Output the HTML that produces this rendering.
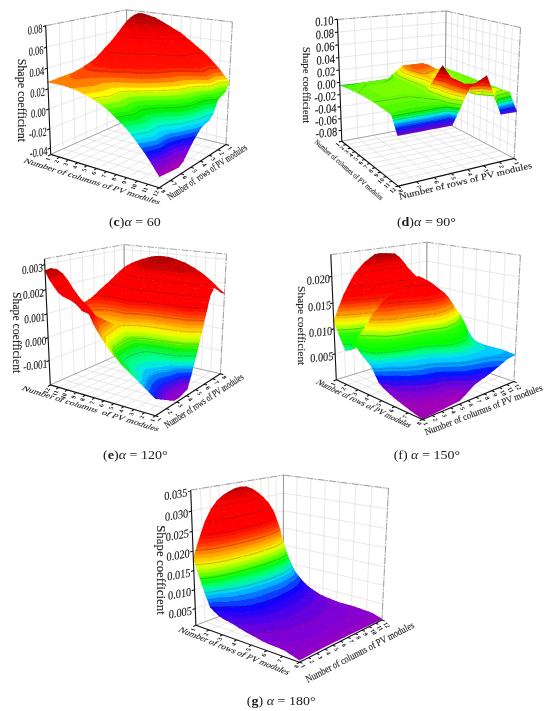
<!DOCTYPE html>
<html lang="en"><head><meta charset="utf-8"><title>Shape coefficient surfaces</title>
<style>
html,body{margin:0;padding:0;background:#fff}
body{width:550px;height:711px;overflow:hidden}
svg{display:block}
text{font-family:"Liberation Serif","DejaVu Serif",serif;fill:#111}
.grid{fill:none;stroke:#d9d9d9;stroke-width:0.6}
.frame{fill:none;stroke:#8a8a8a;stroke-width:0.8;stroke-dasharray:7 1.5 1.5 1.5}
.frame2{fill:none;stroke:#8c8c8c;stroke-width:0.7}
.frame3{fill:none;stroke:#9a9a9a;stroke-width:1}
.ax{fill:none;stroke:#111;stroke-width:1.1}
.cl{fill:none;stroke:#2a2a2a;stroke-opacity:0.5;stroke-width:0.5}
.zt{stroke:#111;stroke-width:0.1}
.ttl{stroke:#222;stroke-width:0.12;fill:#222}
.ft{font-weight:bold}
.cap{fill:#1a1a1a}
</style></head><body>
<svg width="550" height="711" viewBox="0 0 550 711" role="img" aria-label="Shape coefficient surfaces for tilt angles 60 to 180 degrees">
<rect width="550" height="711" fill="#fff"/>
<g id="plot-c">
<path d="M50.7,154.4L126.5,120.6M126.5,120.6L126.6,9.8M59.5,157.1L134.7,122.5M134.7,122.5L135.2,10.8M68.4,159.9L143.1,124.5M143.1,124.5L144.1,11.8M77.6,162.7L151.6,126.6M151.6,126.6L153.1,12.9M87,165.5L160.3,128.7M160.3,128.7L162.3,13.9M96.7,168.5L169.1,130.8M169.1,130.8L171.7,15M106.5,171.5L178.1,133M178.1,133L181.3,16.1M116.6,174.6L187.3,135.2M187.3,135.2L191.1,17.2M126.9,177.7L196.7,137.5M196.7,137.5L201.1,18.4M137.4,181L206.3,139.8M206.3,139.8L211.3,19.6M148.3,184.3L216.1,142.1M216.1,142.1L221.7,20.8M159.3,187.7L226,144.5M226,144.5L232.4,22M50.7,154.4L159.3,187.7M50.7,154.4L45.7,25.7M63,148.9L170.4,180.5M63,148.9L59.1,23.1M74.9,143.6L180.9,173.7M74.9,143.6L71.7,20.6M86.1,138.6L190.9,167.3M86.1,138.6L83.7,18.2M96.9,133.8L200.3,161.2M96.9,133.8L95.2,16M107.2,129.2L209.3,155.4M107.2,129.2L106.1,13.8M117,124.8L217.9,149.8M117,124.8L116.6,11.8M126.5,120.6L226,144.5M126.5,120.6L126.6,9.8M50.4,148.1L126.5,115.1M126.5,115.1L226.4,138.5M49.7,128.7L126.5,98.3M126.5,98.3L227.3,120M48.9,108.9L126.5,81.2M126.5,81.2L228.3,101.1M48.1,88.7L126.5,63.8M126.5,63.8L229.3,81.9M47.4,68.1L126.5,46.1M126.5,46.1L230.3,62.3M46.6,47L126.6,28.1M126.6,28.1L231.3,42.3M45.7,25.6L126.6,9.7M126.6,9.7L232.4,21.9" class="grid"/>
<path d="M45.7,25.7L126.6,9.8M126.6,9.8L232.4,22M232.4,22L226,144.5" class="frame"/>
<path d="M50.7,154.4L126.5,120.6M126.5,120.6L226,144.5" class="frame2"/>
<path d="M126.6,9.8L126.5,120.6" class="frame3"/>
<g>
<path d="M121.7,28l1.5-1.1-0.3-1z" fill="#f50000"/>
<path d="M122.7,27.4l3.3-2.9-0.6-1.9-2.9,4z" fill="#ea0000"/>
<path d="M125.5,24.9l0.9-0.9 2-2.8-0.4-1.5-1.7,1.7-1.3,1.8z" fill="#df0000"/>
<path d="M128,21.9l3-4.7-3.5,3z" fill="#cd0000"/>
<path d="M129.1,19.7L129,19.2" class="cl"/>
<path d="M125.6,24.4l4.2-2.4-1.8-1.2z" fill="#df0000"/>
<path d="M129.2,22.4l1.2-0.8 1.9-2.8-1.9-1.4-2.7,3.9z" fill="#cd0000"/>
<path d="M132,19.3l2.6-3.8-0.6-0.5-3.7,2.5-0.3,0.4z" fill="#ba0000"/>
<path d="M134.3,15.9l0.8-1.4-1.6,0.9z" fill="#a70000"/>
<path d="M130.6,20.8L129.1,19.7" class="cl"/>
<path d="M129.5,21.9l4.9-1.8 0.4-0.5-3-1.1z" fill="#cd0000"/>
<path d="M134.5,20.1l2.5-3.9-2.9-1-2.6,3.8z" fill="#ba0000"/>
<path d="M136.7,16.7l2.5-3.9-4.9,2-0.6,0.9z" fill="#a70000"/>
<path d="M131.3,21L130.6,20.8" class="cl"/>
<path d="M117.3,33.6l3.3-2.5-0.2-1.8z" fill="#ff0000"/>
<path d="M120.1,31.5l2-1.7 1.3-1.7-0.4-1.9-0.9,0.9-2.3,2.9z" fill="#f50000"/>
<path d="M122.9,28.8l3.1-4.1-0.2-0.9-3.3,2.9z" fill="#ea0000"/>
<path d="M125.5,25.3l1.3-2.1-1.5,1.1z" fill="#df0000"/>
<path d="M118.5,32.5L118.5,32.3" class="cl"/>
<path d="M133.7,20.1l4.1,0.1-3.6-0.8z" fill="#cd0000"/>
<path d="M137,20.4l1.5,0.1 2.4-3.8-4.5-0.6-2.6,3.9z" fill="#ba0000"/>
<path d="M140.6,17.2l2.5-3.9-4.7-0.3-2.4,3.6z" fill="#a70000"/>
<path d="M121.2,30.1l2.9-1.5-1.1-1z" fill="#f50000"/>
<path d="M123.5,28.9l2.6-1.5 1.3-1.7-1.8-1.6-3,4z" fill="#ea0000"/>
<path d="M127,26.2l3-4-0.7-0.6-3.3,2-0.8,1z" fill="#df0000"/>
<path d="M129.6,22.7l1.3-1.9-2.2,1.2zM137.8,20.1l4.7,1.9 1-1.6z" fill="#cd0000"/>
<path d="M137.9,20.4l0.6,0.2 4.7,0.4 2.5-4-5.4-0.4z" fill="#ba0000"/>
<path d="M145.3,17.6l1.8-2.9-4.6-1.5-2.6,4z" fill="#a70000"/>
<path d="M125.2,27.7l3.7-1.4-2-0.9z" fill="#ea0000"/>
<path d="M128.1,26.6l2-0.7 2.1-2.8-2.7-1.2-3,3.9z" fill="#df0000"/>
<path d="M131.8,23.6l3.1-4.2-4.9,1.8-0.9,1.2z" fill="#cd0000"/>
<path d="M132.9,21.7L131.3,21" class="cl"/>
<path d="M112.9,39.3l2.3-1.6-0.2-1.4z" fill="#ff0500"/>
<path d="M114.6,38.2l3.1-2.6 0.3-0.5-0.3-2.3-3.2,4.2z" fill="#ff0200"/>
<path d="M117.5,35.8l3.2-4.2-0.2-1.2-2.8,2.4-0.5,0.7z" fill="#ff0000"/>
<path d="M120.2,32.3l2.3-3.4-2.5,1.9z" fill="#f50000"/>
<path d="M118.7,33.8L118.5,32.5" class="cl"/>
<path d="M142,21.8l4.7,1.6 1.6-2.7-5.4-0.4z" fill="#cd0000"/>
<path d="M148,21.3l2.4-3.9-5.4-0.5-2.5,4z" fill="#ba0000"/>
<path d="M150.1,17.9l1.1-1.8-4.7-1.6-1.9,3z" fill="#a70000"/>
<path d="M146.3,22.9L146.6,22.9" class="cl"/>
<path d="M129.3,25.9l4.8,0.2 2-2.5-4.5-0.7z" fill="#df0000"/>
<path d="M135.7,24.1l3.1-4-1.8-0.3-2.9-0.2-2.9,3.8z" fill="#cd0000"/>
<path d="M138.4,20.6l0.5-0.7-2.8,0.1z" fill="#ba0000"/>
<path d="M136.7,22.3L132.9,21.7" class="cl"/>
<path d="M116.8,36l1.5-0.8-0.6-0.6z" fill="#ff0200"/>
<path d="M117.8,35.5l3.9-2.3 0.4-0.5-1.7-1.6-3.1,4z" fill="#ff0000"/>
<path d="M121.7,33.2l3-4-1.1-1-1.9,1.1-1.7,2.3z" fill="#f50000"/>
<path d="M124.4,29.7l2.1-3.1-3.4,1.9z" fill="#ea0000"/>
<path d="M119.3,34.3L118.7,33.8" class="cl"/>
<path d="M146.1,23.2l4.7,1.6 2.3-3.7-5.5-0.4z" fill="#cd0000"/>
<path d="M152.8,21.7l2.4-4-5.4-0.4-2.5,4z" fill="#ba0000"/>
<path d="M154.9,18.3l0.5-0.8-4.7-1.6-1.3,2z" fill="#a70000"/>
<path d="M151.4,23.3L146.6,22.9" class="cl"/>
<path d="M133.5,25.9l4.7,1.4 2.8-3.4-5.6-0.4z" fill="#df0000"/>
<path d="M140.5,24.5l2.4-3-4.2-1.5-0.6,0-3.1,4.1z" fill="#cd0000"/>
<path d="M139.4,20.5l-1.2-0.7-0.5,0.7z" fill="#ba0000"/>
<path d="M141.6,22.6L136.7,22.3" class="cl"/>
<path d="M120.8,33.5l1.8-0.6-1-0.5z" fill="#ff0000"/>
<path d="M121.8,33.2l3.9-1.5 1.1-1.5-2.6-1.3-3,4z" fill="#f50000"/>
<path d="M126.5,30.6l3-4-1.3-0.6-2.5,0.9-1.8,2.4z" fill="#ea0000"/>
<path d="M129.2,27.1l1.4-2-3.2,1.2z" fill="#df0000"/>
<path d="M108.4,44.4l3.8-2.4-0.1-2.1z" fill="#ff0700"/>
<path d="M111.6,42.4l1.6-1.1 2-2.6-0.1-1.7-1.8,1.5-1.8,2.1z" fill="#ff0500"/>
<path d="M114.6,39.5l3.5-4.7-3.6,2.7z" fill="#ff0200"/>
<path d="M150.5,24.6l4.5,2.7 1.6-2.6z" fill="#df0000"/>
<path d="M150.3,24.6l1,0.5 4.9,0.2 2.5-4-6.2-0.2z" fill="#cd0000"/>
<path d="M158.3,21.9l1.2-2-3.8-2.2-1.1,0-2.5,4z" fill="#ba0000"/>
<path d="M156.5,18.2l-1.7-1-0.6,1.1z" fill="#a70000"/>
<path d="M156.9,23.5L151.4,23.3" class="cl"/>
<path d="M141.1,28l1.3,0.6 0.5-0.7z" fill="#ea0000"/>
<path d="M137.6,27.2l4.3,1.2 0.5,0.1 3.5-4.3-5.7-0.4z" fill="#df0000"/>
<path d="M145.4,24.8l1.7-1.9-4.8-1.7-2.5,3.2z" fill="#cd0000"/>
<path d="M146.3,22.9L141.6,22.6" class="cl"/>
<path d="M124.9,31.7l4.9,0.1 0.7-1.1-4.2-0.8z" fill="#f50000"/>
<path d="M130.1,31.3l3.2-4.2-4.4-0.7-3,4.1z" fill="#ea0000"/>
<path d="M132.9,27.7l1.7-2.2-4.8-0.2-1.3,1.6z" fill="#df0000"/>
<path d="M112.3,41.6l4.3-1.9-1.7-1.5z" fill="#ff0500"/>
<path d="M116,39.9l1.2-0.5 2.3-3.1-1.6-1.5-0.6,0.4-2.8,3.5z" fill="#ff0200"/>
<path d="M119.1,36.8l3-4.4-4.8,2.7z" fill="#ff0000"/>
<path d="M120,35L119.3,34.3" class="cl"/>
<path d="M156.9,28.4l2.3,1.4 0.9-1.4z" fill="#ea0000"/>
<path d="M154.5,27l3.2,1.9 2,0.1 2.5-4.1-6.3-0.2z" fill="#df0000"/>
<path d="M161.8,25.5l1.9-3.1-1.6-1-4.1-0.1-2.5,4z" fill="#cd0000"/>
<path d="M162.8,22l-3.8-2.4-1.4,2.3z" fill="#ba0000"/>
<path d="M162.6,23.7L156.9,23.5" class="cl"/>
<path d="M141.7,28.4l4.8,1.4 1.4-1.5-5.7-0.5z" fill="#ea0000"/>
<path d="M147.4,28.8l3.6-4.2-5.8-0.4-3.5,4.2z" fill="#df0000"/>
<path d="M150.5,25.1l0.7-0.8-4.8-1.6-1.7,2.1z" fill="#cd0000"/>
<path d="M129.1,31.6l4.7,1.2 1.4-1.6-5.3-0.6z" fill="#f50000"/>
<path d="M134.7,31.7l3.4-4.2-5.5-0.5-3.2,4.2z" fill="#ea0000"/>
<path d="M137.6,28.1l1-1.3-4.7-1.4-1.7,2.2z" fill="#df0000"/>
<path d="M116.3,39.6l4.9-1.4 0.7-1-2.9-1.3z" fill="#ff0200"/>
<path d="M121.6,37.7l2.7-4-2.5-1.2-0.5,0.3-2.7,3.6z" fill="#ff0000"/>
<path d="M124,34.2l2.2-3.3-5.1,1.9z" fill="#f50000"/>
<path d="M122.4,36L120,35" class="cl"/>
<path d="M103.8,49.3l1.5-0.7 0-1.1z" fill="#ff0b00"/>
<path d="M104.7,49l3.9-2.5 0.3-0.3-0.1-2.5-4.1,4.4z" fill="#ff0900"/>
<path d="M108.3,46.9l3.9-4.5 0-1.1-3.4,2.3-0.6,0.7z" fill="#ff0700"/>
<path d="M111.6,43.1l2-2.6-2,1.2z" fill="#ff0500"/>
<path d="M106,47.8L106,47.1" class="cl"/>
<path d="M158.7,29.5l4.8,2.9 2.3-3.8-6.4-0.2z" fill="#ea0000"/>
<path d="M165.4,29.2l2.5-4.1-6.4-0.2-2.4,4z" fill="#df0000"/>
<path d="M167.5,25.7l0.5-0.7-4.8-2.9-2,3.4z" fill="#cd0000"/>
<path d="M165.5,23.8L162.6,23.7" class="cl"/>
<path d="M146,29.6l4.7,2.5 3.3-3.8-6.9-0.1z" fill="#ea0000"/>
<path d="M153.5,28.9l1.9-2.1-3.9-2.3-1.2,0-3.7,4.3z" fill="#df0000"/>
<path d="M152.2,25.1l-1.6-1-0.8,1z" fill="#cd0000"/>
<path d="M133.2,32.7l4.8,1.2 1.9-2.3-5.4-0.5z" fill="#f50000"/>
<path d="M139.4,32.2l3.4-4.1-0.8-0.3-4.6-0.4-3.4,4.2z" fill="#ea0000"/>
<path d="M142.8,28.3l-4.8-1.7-1.1,1.4z" fill="#df0000"/>
<path d="M120.5,38.2l4.8,0.4 0.5-0.8-4.5-0.8z" fill="#ff0200"/>
<path d="M125.5,38.3l2.6-4.1-4.4-0.7-2.7,4z" fill="#ff0000"/>
<path d="M127.8,34.8l2.4-3.6-4.8-0.1-2,2.9z" fill="#f50000"/>
<path d="M126.2,36.7L122.4,36" class="cl"/>
<path d="M107.7,46.7l1.4-0.4-0.5-0.7z" fill="#ff0900"/>
<path d="M108.6,46.5l4-1.7 1-1.2-1.7-1.7-3.7,4.2z" fill="#ff0700"/>
<path d="M113.2,44.1l3.5-4.2-0.6-0.7-3.3,1.6-1.3,1.5z" fill="#ff0500"/>
<path d="M116.4,40.4l1.3-1.8-2.2,0.9z" fill="#ff0200"/>
<path d="M163.3,32.2l4.4,2.7 1.6-2.6z" fill="#f50000"/>
<path d="M162.9,32.1l1.1,0.6 4.9,0.2 2.6-4.1-6.4-0.2z" fill="#ea0000"/>
<path d="M171.1,29.4l1.1-1.9-4-2.4-1,0-2.5,4.1z" fill="#df0000"/>
<path d="M169,25.7l-1.6-1.1-0.6,1.1z" fill="#cd0000"/>
<path d="M151.1,32.2l3.8,2.3 2.2-2.4z" fill="#f50000"/>
<path d="M150.2,31.8l1.6,0.9 4.7,0 3.1-3.3-1.8-1.1-4.6,0z" fill="#ea0000"/>
<path d="M158.6,28.8l-3.8-2.3-2.1,2.4z" fill="#df0000"/>
<path d="M137.4,33.7l4.8,1.3 2.5-3-5.6-0.5z" fill="#f50000"/>
<path d="M144.2,32.6l2.8-3.3-4.9-1.4-3.4,4.2z" fill="#ea0000"/>
<path d="M124.7,38.4l4.7,1.5 1.1-1.7-5.3-0.5z" fill="#ff0200"/>
<path d="M130.1,38.8l2.6-4.1-5.2-0.6-2.7,4.1z" fill="#ff0000"/>
<path d="M132.3,35.3l1.9-3-4.7-1.2-2.4,3.6z" fill="#f50000"/>
<path d="M130.8,37.2L126.2,36.7" class="cl"/>
<path d="M111.7,45l3.3-0.8-1.9-0.9z" fill="#ff0700"/>
<path d="M114.1,44.4l2.6-0.6 2.3-2.9-2.7-1.4-3.6,4.2z" fill="#ff0500"/>
<path d="M118.6,41.4l3.2-3.9-5,1.4-0.9,1.1z" fill="#ff0200"/>
<path d="M99.2,54.3l2.5-1.3-0.1-1.6z" fill="#ff0d00"/>
<path d="M101.1,53.3l2.9-1.7 1.4-1.5-0.2-2.2-0.9,0.6-3.2,3.5z" fill="#ff0b00"/>
<path d="M104.8,50.7l4.3-5-4.4,2.6z" fill="#ff0900"/>
<path d="M106.1,48.8L106,47.8" class="cl"/>
<path d="M170,36l2.1,1.4 0.8-1.3z" fill="#ff0000"/>
<path d="M167.2,34.6l3.5,2 1.8,0 2.6-4.1-6.5-0.2z" fill="#f50000"/>
<path d="M174.7,33.1l1.8-3-2-1.2-3.7-0.1-2.5,4.1z" fill="#ea0000"/>
<path d="M175.2,29.4l-3.5-2.2-1.3,2.2z" fill="#df0000"/>
<path d="M154.4,34.2l4.8,2.5 4.4-4.6-7.4,0z" fill="#f50000"/>
<path d="M163.1,32.7l0.7-0.8-4.7-2.8-3.4,3.6z" fill="#ea0000"/>
<path d="M144.6,36l1.8,1 0.9-1z" fill="#ff0000"/>
<path d="M141.6,34.7l3.8,1.8 1.4,0.1 3.9-4.5-6.8-0.1z" fill="#f50000"/>
<path d="M150.2,32.7l0.9-1.1-4.7-2.5-3,3.5z" fill="#ea0000"/>
<path d="M128.8,39.7l4.8,1.5 1.5-2.5-5.3-0.6z" fill="#ff0200"/>
<path d="M134.8,39.3l2.4-4.1-5.2-0.6-2.5,4.1z" fill="#ff0000"/>
<path d="M136.9,35.8l1.5-2.5-4.8-1.2-1.9,3.1z" fill="#f50000"/>
<path d="M135.4,37.7L130.8,37.2" class="cl"/>
<path d="M115.9,43.7l4.8,0.5 2.2-2.7-4.5-0.8z" fill="#ff0500"/>
<path d="M122.5,42l3.2-4-4.8-0.4-2.9,3.6z" fill="#ff0200"/>
<path d="M103.1,51.8l3-1.1-1-1.2z" fill="#ff0b00"/>
<path d="M105.5,51l2.5-1 2.2-2.5-1.5-1.7-0.4,0.2-3.6,3.9z" fill="#ff0900"/>
<path d="M109.8,47.9l3.3-3.9-5,2z" fill="#ff0700"/>
<path d="M107.2,50L106.1,48.8" class="cl"/>
<path d="M171.5,37.1l4.9,2.8 2.3-3.7-6.5-0.2z" fill="#ff0000"/>
<path d="M178.3,36.8l2.6-4.1-6.5-0.2-2.6,4.1z" fill="#f50000"/>
<path d="M180.5,33.3l0.3-0.6-4.8-2.9-2,3.3z" fill="#ea0000"/>
<path d="M175,38.8L176.7,38.8" class="cl"/>
<path d="M158.4,36.2l5.1,2.6 2.9-2.7z" fill="#ff0000"/>
<path d="M158.7,36.4l0.5,0.3 6.5,0 2.4-2.3-3.9-2.3-1.4,0z" fill="#f50000"/>
<path d="M164.9,32.6l-1.6-1-1.1,1.1z" fill="#ea0000"/>
<path d="M145.8,36.7l4.9,2.5 2.8-3.1-7-0.2z" fill="#ff0000"/>
<path d="M153,36.6l2.4-2.6-3.4-1.9-2.1,0-3.9,4.4z" fill="#f50000"/>
<path d="M152.7,32.6l-2.1-1.3-1.2,1.4z" fill="#ea0000"/>
<path d="M133,41l4.8,1.6 2-3.4-5.4-0.6z" fill="#ff0200"/>
<path d="M139.4,39.8l2.4-4.1-5.2-0.6-2.5,4.1z" fill="#ff0000"/>
<path d="M141.5,36.3l1.1-1.9-4.8-1.2-1.6,2.5z" fill="#f50000"/>
<path d="M140,38.2L135.4,37.7" class="cl"/>
<path d="M120.1,44l4.8,1.5 2.9-3.6-5.5-0.5z" fill="#ff0500"/>
<path d="M127.3,42.5l2.5-3.1-4.8-1.5-3.2,4z" fill="#ff0200"/>
<path d="M107.1,50.1l5.6-1.3-3-1.7z" fill="#ff0900"/>
<path d="M111.9,49.1l3.9-4.4-1.7-0.9-1.8,0.5-3,3.3z" fill="#ff0700"/>
<path d="M115.4,45.2l1.8-2.2-3.9,1z" fill="#ff0500"/>
<path d="M94.5,59.3l3.7-1.9-0.3-2z" fill="#ff1000"/>
<path d="M97.6,57.7l1.7-0.9 2.6-2.9-0.3-1.6-1.9,1.2-2.3,2.5z" fill="#ff0d00"/>
<path d="M101.4,54.5l3.1-3.7-3.4,1.9z" fill="#ff0b00"/>
<path d="M176.3,39.8l4.4,3.7 2.3-3.7z" fill="#ff0200"/>
<path d="M175.9,39.6l1.1,0.8 5.6,0 2.6-4.2-7.2,0z" fill="#ff0000"/>
<path d="M184.8,36.8l0.4-0.5-4.5-3.6-0.5,0-2.6,4.1z" fill="#f50000"/>
<path d="M181.4,33.2l-1-0.8-0.6,0.9z" fill="#ea0000"/>
<path d="M183.3,38.8L176.7,38.8" class="cl"/>
<path d="M166.8,40.4l1.1,0.6 0.8-0.7z" fill="#ff0200"/>
<path d="M163,38.6l4.6,2.3 0.4,0 4.5-4-1.6-0.9-5.4,0.1z" fill="#ff0000"/>
<path d="M171.6,36.5l-4-2.4-2.7,2.6z" fill="#f50000"/>
<path d="M164.6,39L169.7,39" class="cl"/>
<path d="M153.2,40.2l1.7,1 1-1z" fill="#ff0200"/>
<path d="M150.1,38.9l3.9,1.8 1.3,0.1 4.5-4.7-7.1-0.1z" fill="#ff0000"/>
<path d="M159.2,36.7l0.4-0.4-4.8-2.6-2.7,2.9z" fill="#f50000"/>
<path d="M150.7,38.9L156.7,39" class="cl"/>
<path d="M138.4,42.9l3.6,2 1.1-1.9z" fill="#ff0500"/>
<path d="M137.2,42.3l2,1.1 3.5,0.2 2.3-4.1-5.9-0.4z" fill="#ff0200"/>
<path d="M144.7,40.1l2-3.6-1.2-0.6-4.3-0.3-2.4,4.1z" fill="#ff0000"/>
<path d="M146.3,36.4l-4.3-2.2-1.2,2z" fill="#f50000"/>
<path d="M145.3,38.5L140,38.2" class="cl"/>
<path d="M127.6,46.2l1.5,0.6 0.5-0.6z" fill="#ff0700"/>
<path d="M124.3,45.3l4.1,1.3 0.8,0.1 3.5-4.4-5.6-0.5z" fill="#ff0500"/>
<path d="M132.2,42.9l1.8-2.2-4.8-1.5-2.6,3.2z" fill="#ff0200"/>
<path d="M111.3,48.9l4.8,0.4 3.6-4-4.5-0.8z" fill="#ff0700"/>
<path d="M119.3,45.8l1.9-2.1-4.8-0.5-1.6,1.8z" fill="#ff0500"/>
<path d="M98.4,57.1l4.9-1.8-1.7-1.9z" fill="#ff0d00"/>
<path d="M102.7,55.5l0.6-0.2 3.5-3.9-1.1-1.2-2.1,0.9-2.4,2.8z" fill="#ff0b00"/>
<path d="M106.4,51.8l2.1-2.6-3.4,1.3z" fill="#ff0900"/>
<path d="M107.4,50.2L107.2,50" class="cl"/>
<path d="M180.8,43.5l4.3,3.6 2.3-3.7z" fill="#ff0500"/>
<path d="M180.3,43.1l1.2,1 5.5-0.1 2.7-4.2-7.4,0z" fill="#ff0200"/>
<path d="M189.9,40.4l-4.8-4.2-0.6,0-2.6,4.2z" fill="#ff0000"/>
<path d="M185.7,36.8l-1-0.9-0.6,0.9z" fill="#f50000"/>
<path d="M187.6,38.8L183.3,38.8" class="cl"/>
<path d="M167.3,40.7l4.9,2.6 4-3.3-8.4,0.3z" fill="#ff0200"/>
<path d="M175.5,40.6l1.3-1.1-4.9-2.9-4.8,4.3z" fill="#ff0000"/>
<path d="M175,38.8L169.7,39" class="cl"/>
<path d="M154.4,40.9l4.9,2 2.7-2.6-6.9-0.1z" fill="#ff0200"/>
<path d="M161.4,40.9l2.6-2.5-4.7-2.3-0.3,0-4.5,4.6z" fill="#ff0000"/>
<path d="M160.1,36.6l-1-0.6-0.7,0.7z" fill="#f50000"/>
<path d="M162.9,39.1L156.7,39" class="cl"/>
<path d="M141.5,44.6l4.8,2.7 2.1-3.9-6-0.4z" fill="#ff0500"/>
<path d="M148.1,43.9l2.3-4-6-0.4-2.3,4.1z" fill="#ff0200"/>
<path d="M150,40.4l1-1.7-4.8-2.5-2.1,3.9z" fill="#ff0000"/>
<path d="M150.6,38.8L145.3,38.5" class="cl"/>
<path d="M128.5,46.6l4.8,1.7 1.3-1.7-5.7-0.5z" fill="#ff0700"/>
<path d="M134.2,47.2l3.4-4.4-5.7-0.5-3.4,4.4z" fill="#ff0500"/>
<path d="M137.2,43.3l1-1.2-4.9-1.6-1.8,2.3z" fill="#ff0200"/>
<path d="M118.3,49.7l2,0.8 0.7-0.8z" fill="#ff0900"/>
<path d="M115.5,49.1l3.6,1.1 1.3,0.1 4.3-4.6-5.7-0.5z" fill="#ff0700"/>
<path d="M124.2,46.3l1.1-1.3-4.8-1.5-2,2.3z" fill="#ff0500"/>
<path d="M102.4,55.5l5-1.1 1.6-1.9-2.7-1.5z" fill="#ff0b00"/>
<path d="M108.6,53l4-4.8-4.9,1.2-1.8,2.1z" fill="#ff0900"/>
<path d="M109.5,51.4L107.4,50.2" class="cl"/>
<path d="M185.1,47.1l4.4,3.7 2.3-3.8z" fill="#ff0700"/>
<path d="M184.6,46.7l1.2,1 5.7-0.1 2.4-3.9-0.4-0.3-6.8,0z" fill="#ff0500"/>
<path d="M194.2,43.9l-5.1-4.3-2.8,4.4z" fill="#ff0200"/>
<path d="M89.6,62.7l2.7-1 1.4-2z" fill="#ff2a00"/>
<path d="M91.5,62l3-1.3 3-2.5 1-1.5-3.5,1.8-2.1,1.6z" fill="#ff1000"/>
<path d="M96.7,58.6l3.1-2.5-2.1,0.9z" fill="#ff0d00"/>
<path d="M173.6,44.3l3,2.2 3.5-2.8z" fill="#ff0500"/>
<path d="M171.7,43l2.7,1.9 5-0.6 1.7-1.3-3.9-3.2-2,0.2z" fill="#ff0200"/>
<path d="M177.8,40.4l-1.5-1.3-1.7,1.5z" fill="#ff0000"/>
<path d="M158.7,42.7l4.9,2.1 4.7-4.2-0.6-0.3-6.5,0z" fill="#ff0200"/>
<path d="M168.5,40.8l-5.1-2.7-2.9,2.8z" fill="#ff0000"/>
<path d="M164.6,39L162.9,39.1" class="cl"/>
<path d="M145.9,47l4.7,2.6 1.2-2.3z" fill="#ff0700"/>
<path d="M145.8,47l0.9,0.5 4.8,0.4 2.2-4.2-5.9-0.4z" fill="#ff0500"/>
<path d="M153.4,44.3l1.9-3.6-1.2-0.6-4.4-0.3-2.2,4.1z" fill="#ff0200"/>
<path d="M154.9,40.7l-4.4-2.3-1.1,2z" fill="#ff0000"/>
<path d="M150.7,38.9L150.6,38.8" class="cl"/>
<path d="M132.7,48l4.8,2.6 3-3.8-6.6-0.3z" fill="#ff0700"/>
<path d="M140.1,47.3l2.3-2.9-3.1-1.6-2.4-0.1-3.5,4.4z" fill="#ff0500"/>
<path d="M140.1,43.3l-2.5-1.5-1.2,1.5z" fill="#ff0200"/>
<path d="M119.6,50.3l4.9,1.4 1.3-1.5-5.6-0.5z" fill="#ff0900"/>
<path d="M125.3,50.8l4.2-4.4-1-0.4-4.6-0.3-4.2,4.5z" fill="#ff0700"/>
<path d="M129.3,46.5l-4.6-1.7-1.3,1.4z" fill="#ff0500"/>
<path d="M106.6,54.4l4.9,0.3 1.2-1.5-4.3-0.9z" fill="#ff0b00"/>
<path d="M112.3,53.8l3.9-4.5-4.4-0.9-3.9,4.4z" fill="#ff0900"/>
<path d="M115.7,49.8l0.9-1.1-5.6-0.1z" fill="#ff0700"/>
<path d="M113.2,52.2L109.5,51.4" class="cl"/>
<path d="M189.5,50.8l4.5,3.7 2.3-3.8z" fill="#ff0900"/>
<path d="M189.1,50.4l1.1,1 5.7-0.1 2.4-3.9-0.6-0.4-6.6,0z" fill="#ff0700"/>
<path d="M198.4,47.5l-5-4.2-2.6,4.3z" fill="#ff0500"/>
<path d="M193.4,53.6L194.1,53.6" class="cl"/>
<path d="M93.5,60.8l4.2-1.2-0.1-2.2z" fill="#ff1000"/>
<path d="M97.1,59.8l1.4-0.4 4.6-3.9 0-0.7-4.2,1.5-1.9,1.6z" fill="#ff0d00"/>
<path d="M102.5,56l1.4-1.4-1.4,0.4z" fill="#ff0b00"/>
<path d="M178.8,48.1l2.2,1.7 3.2-2.3z" fill="#ff0700"/>
<path d="M176.1,46.1l3.4,2.5 4-0.5 2-1.4-3.8-3.3-2.5,0.4z" fill="#ff0500"/>
<path d="M182.3,44l-1.6-1.4-2.2,1.8z" fill="#ff0200"/>
<path d="M164.1,44.9l3.9,1.9 2.6-2.1z" fill="#ff0500"/>
<path d="M163,44.5l1.8,0.8 5.1,0 2.8-2.4-4.9-2.6z" fill="#ff0200"/>
<path d="M150.1,49.3l4.9,2.3 1.9-3.9-5.7-0.5z" fill="#ff0700"/>
<path d="M156.6,48.3l2.1-4.1-5.7-0.5-2.1,4.1z" fill="#ff0500"/>
<path d="M158.4,44.8l1.2-2.4-4.9-2-2,3.9z" fill="#ff0200"/>
<path d="M138,50.7l3.8,2.3 1.7-2.2z" fill="#ff0900"/>
<path d="M137,50.3l1.7,1 4.4,0.1 3.5-4.5-6.8-0.2z" fill="#ff0700"/>
<path d="M146.1,47.5l0.5-0.7-4.8-2.7-2.5,3.2z" fill="#ff0500"/>
<path d="M123.8,51.5l4.9,1.4 2.2-2.2-5.8-0.5z" fill="#ff0900"/>
<path d="M130.4,51.2l3.3-3.4-4.8-1.6-4.4,4.5z" fill="#ff0700"/>
<path d="M110.8,54.5l4.8,1.3 1.8-2-5.4-0.7z" fill="#ff0b00"/>
<path d="M116.9,54.3l3.8-4.3-1.5-0.4-3.7-0.4-4,4.5z" fill="#ff0900"/>
<path d="M120,50l-4.1-1.4-0.9,1.1z" fill="#ff0700"/>
<path d="M117.8,52.8L113.2,52.2" class="cl"/>
<path d="M193.9,54.4l4.5,3.8 2.4-3.9z" fill="#ff0b00"/>
<path d="M193.5,54.1l1.1,0.9 5.9-0.1 2.3-3.7-0.8-0.6-6.4,0.1z" fill="#ff0900"/>
<path d="M202.7,51.2l-4.8-4.1-2.7,4.2z" fill="#ff0700"/>
<path d="M201,53.5L194.1,53.6" class="cl"/>
<path d="M97.6,59.5l5-0.9 2-1.8-1.8-1.9z" fill="#ff0d00"/>
<path d="M104.1,57.2l3.9-3.5-5,1.1-0.6,0.5z" fill="#ff0b00"/>
<path d="M183.8,51.9l1.6,1.3 2.8-1.9z" fill="#ff0900"/>
<path d="M180.5,49.4l3.9,3 3.1-0.5 2.5-1.6-4-3.2-2.7,0.4z" fill="#ff0700"/>
<path d="M186.6,47.6l-1.5-1.3-2.5,1.8z" fill="#ff0500"/>
<path d="M84.6,65.9l4.9-1.7 1.7-1.2 1.6-2.1-2.6,1.1z" fill="#ff2a00"/>
<path d="M90.4,63.4l4.6-3.4-3,1.2z" fill="#ff1000"/>
<path d="M86.6,65L87.3,64.2" class="cl"/>
<path d="M171.5,49l0.9,0.6 1-0.8z" fill="#ff0700"/>
<path d="M167.5,46.5l4.7,3 0.5-0.1 4.4-3.3-2.6-1.8-4.9,0.4z" fill="#ff0500"/>
<path d="M175.3,44.8l-3.1-2.2-3.2,2.7z" fill="#ff0200"/>
<path d="M154.9,51.4l4.4,2.3 1-2z" fill="#ff0900"/>
<path d="M154.4,51.3l1.3,0.6 4.3,0.4 2.1-4.1-5.8-0.5z" fill="#ff0700"/>
<path d="M161.8,48.7l2-4.1-5.7-0.5-2.1,4.1z" fill="#ff0500"/>
<path d="M163.5,45.2l0.5-0.9-4.9-2.1-1.3,2.5z" fill="#ff0200"/>
<path d="M141.3,52.7l4.8,2.5 3.3-4.2-6.6-0.2z" fill="#ff0900"/>
<path d="M149,51.6l1.9-2.5-4.1-2.2-1,0-3.5,4.5z" fill="#ff0700"/>
<path d="M147.6,47.4l-1.5-0.9-0.7,1z" fill="#ff0500"/>
<path d="M144.3,54L146.7,54" class="cl"/>
<path d="M128.1,52.7l4.9,2.4 4.4-4.4-7.3-0.1z" fill="#ff0900"/>
<path d="M136.8,51.3l1.1-1.2-4.8-2.6-3.5,3.7z" fill="#ff0700"/>
<path d="M131.3,53.9L133.7,54" class="cl"/>
<path d="M115,55.6l4.8,1.2 2.3-2.5-5.4-0.6z" fill="#ff0b00"/>
<path d="M121.6,54.9l3.3-3.7-4.8-1.4-3.9,4.4z" fill="#ff0900"/>
<path d="M122.6,53.3L117.8,52.8" class="cl"/>
<path d="M198.3,58.1l4.6,4 2.6-4.1z" fill="#ff0d00"/>
<path d="M198,57.8l1,0.9 6.1-0.1 2.1-3.5-1-0.9-6.1,0.1z" fill="#ff0b00"/>
<path d="M206.9,54.8l-4.6-4-2.6,4.2z" fill="#ff0900"/>
<path d="M204.9,53.4L201,53.5" class="cl"/>
<path d="M101.7,58.6l5,0.4 1.6-1.4-4.2-1.1z" fill="#ff0d00"/>
<path d="M107.7,58.1l4.4-4-5-0.3-3.6,3.2zM188.9,55.8l1,0.8 1.9-1.3z" fill="#ff0b00"/>
<path d="M184.9,52.8l4.6,3.4 1.6-0.3 3.3-1.8-4-3.4-3.1,0.6z" fill="#ff0900"/>
<path d="M191,51.2l-1.5-1.3-2.9,2z" fill="#ff0700"/>
<path d="M188.1,54.8L193.4,53.6" class="cl"/>
<path d="M88.6,64.3l2.8-0.5-0.1-1.6z" fill="#ff2a00"/>
<path d="M90.8,63.9l2.8-0.6 4.1-3.3 0-1-3.5,1.1-3.5,2.5z" fill="#ff1000"/>
<path d="M97.1,60.5l2-1.8-2,0.5z" fill="#ff0d00"/>
<path d="M171.9,49.3l5,3.4 4.6-3.2-1.9-1.5-7.1,0.9z" fill="#ff0700"/>
<path d="M180.3,48.5l-3.7-2.8-4.8,3.8z" fill="#ff0500"/>
<path d="M158.8,53.4l5,2.6 1.8-3.9-5.9-0.4z" fill="#ff0900"/>
<path d="M165.3,52.7l2-4.1-5.9-0.5-2,4.1z" fill="#ff0700"/>
<path d="M167,49.2l1.4-2.9-3.4-1.6-1.8-0.1-2,4.1z" fill="#ff0500"/>
<path d="M165.7,45.2l-2.2-1.1-0.6,1.1z" fill="#ff0200"/>
<path d="M162,54.7L163.9,54.9" class="cl"/>
<path d="M146.2,55.1l4.3,2.2 1.5-2z" fill="#ff0b00"/>
<path d="M145.6,55l1.3,0.6 4.7,0.2 3.5-4.5-6.4-0.3z" fill="#ff0900"/>
<path d="M154.7,51.9l0.6-0.8-4.9-2.3-2.2,2.8z" fill="#ff0700"/>
<path d="M152.4,54.3L146.7,54" class="cl"/>
<path d="M133.1,55.1l4.2,2.3 2.4-2.4z" fill="#ff0b00"/>
<path d="M132.4,54.8l1.4,0.8 5.3,0 3.1-3.1-3.3-1.8-2.4,0z" fill="#ff0900"/>
<path d="M139.6,51.2l-2.2-1.4-1.5,1.5z" fill="#ff0700"/>
<path d="M140.3,54L133.7,54" class="cl"/>
<path d="M119.2,56.7l4.9,1.3 2.9-3.2-5.6-0.6z" fill="#ff0b00"/>
<path d="M126.5,55.4l2.7-2.9-4.9-1.5-3.4,3.8z" fill="#ff0900"/>
<path d="M127.5,53.8L122.6,53.3" class="cl"/>
<path d="M205.9,65.4l1.5,1.6 1.1-1.8z" fill="#ff2a00"/>
<path d="M202.6,61.8l3.8,4.2 1.7-0.2 2.8-4.5z" fill="#ff1000"/>
<path d="M202.5,61.7l0.7,0.7 7.3-0.4 1.2-1.9-2.1-2.4-4.9,0.3z" fill="#ff0d00"/>
<path d="M210.1,58.3l-3.3-3.6-2.4,3.9z" fill="#ff0b00"/>
<path d="M106,58.9l4.8,1.3 2.3-2.1-5.6-0.7z" fill="#ff0d00"/>
<path d="M112.5,58.6l3.6-3.3-4.9-1.3-4.2,3.9zM189.4,56.2l5,3.9 4.5-2.3-4.1-3.4-3.9,0.9z" fill="#ff0b00"/>
<path d="M195.4,54.9l-1.5-1.3-3.7,2.3z" fill="#ff0900"/>
<path d="M92.6,63.3l5.1-0.5 1.6-1.4-1.9-1.9z" fill="#ff1000"/>
<path d="M98.9,61.8l4.3-3.8-5,0.8-1.2,1z" fill="#ff0d00"/>
<path d="M177.3,52.9l4.1,2.8 4.6-2.9-1.4-1z" fill="#ff0900"/>
<path d="M176.4,52.3l1.6,1.1 7.3-1.1-4.3-3.2z" fill="#ff0700"/>
<path d="M79.6,69l4.7-1 1.6-3.1z" fill="#ff4c00"/>
<path d="M83.5,68.2l1-0.3 5.6-4.3-4.8,1.6-0.2,0.1z" fill="#ff2a00"/>
<path d="M85.7,66.7L86.6,65" class="cl"/>
<path d="M163.5,55.7l4.7,3.4 1.4-3.1z" fill="#ff0b00"/>
<path d="M163.2,55.6l1,0.7 5.2,0.3 1.9-4.2-6.4-0.3z" fill="#ff0900"/>
<path d="M171,53l1.8-3.9-0.4-0.2-5.8-0.3-1.9,4.1z" fill="#ff0700"/>
<path d="M173.1,49.4l-5.2-3.4-1.5,3.1z" fill="#ff0500"/>
<path d="M169.7,55.2L163.9,54.9" class="cl"/>
<path d="M149.9,57l5,2.4 3-3.9-6.6-0.3z" fill="#ff0b00"/>
<path d="M157.4,56.1l2.3-2.9-3.9-1.9-1.4,0-3.5,4.5z" fill="#ff0900"/>
<path d="M156.6,51.8l-1.9-1-0.8,1z" fill="#ff0700"/>
<path d="M158.2,54.6L152.4,54.3" class="cl"/>
<path d="M136.7,57.1l4.9,2.4 4.8-4.5-7.6,0z" fill="#ff0b00"/>
<path d="M145.7,55.6l0.9-0.8-4.9-2.6-3.5,3.4z" fill="#ff0900"/>
<path d="M144.3,54L140.3,54" class="cl"/>
<path d="M126.8,59.2l1.5,0.9 0.9-0.9z" fill="#ff0d00"/>
<path d="M123.5,57.8l4,1.9 1.2,0.1 4.4-4.8-6.8-0.2z" fill="#ff0b00"/>
<path d="M132.6,55.6l0.8-0.9-4.9-2.5-2.8,3.1z" fill="#ff0900"/>
<path d="M131.3,53.9L127.5,53.8" class="cl"/>
<path d="M209.2,68.9l2.7,3 2-3.3z" fill="#ff4c00"/>
<path d="M207,66.5l2.7,3 3.8-0.2 2.8-4.6-8.5,0.6z" fill="#ff2a00"/>
<path d="M216.4,65.3l-3.7-4.1-2.6,0.2-2.7,4.5z" fill="#ff1000"/>
<path d="M213.2,61.8l-1.9-2.2-1.5,2.4z" fill="#ff0d00"/>
<path d="M209.1,68.4L213.9,68.1" class="cl"/>
<path d="M110.1,60l5,1.3 2.8-2.7-5.6-0.6z" fill="#ff0d00"/>
<path d="M117.3,59.1l3-2.8-4.9-1.2-3.7,3.4z" fill="#ff0b00"/>
<path d="M193.8,59.6l5.1,4 4.5-1.9-4.2-3.6z" fill="#ff0d00"/>
<path d="M193.6,60l6.1-1.4-1.3-1.2z" fill="#ff0b00"/>
<path d="M96.8,62.7l5,0.6 1.4-1.2-4.4-1.1z" fill="#ff1000"/>
<path d="M102.7,62.6l4.6-4.1-5-0.5-4,3.5z" fill="#ff0d00"/>
<path d="M183.1,56.9l2.8,1.9 4.6-2.6-0.9-0.6z" fill="#ff0b00"/>
<path d="M180.8,55.3l3,2.1 6.5-1.3-4.8-3.7z" fill="#ff0900"/>
<path d="M182.1,55.9L188.1,54.8" class="cl"/>
<path d="M83.6,67.9l5-0.6 3.2-2.6-0.6-1.5-1.9,0.5z" fill="#ff2a00"/>
<path d="M91.4,65.1l2.8-2.5-3.6,0.8z" fill="#ff1000"/>
<path d="M86.1,67.4L85.7,66.7" class="cl"/>
<path d="M169,59.6l3.6,2.8 1.2-2.6z" fill="#ff0d00"/>
<path d="M167.7,58.7l2,1.5 3.8,0.2 1.9-4.1-6.4-0.3z" fill="#ff0b00"/>
<path d="M175.1,56.9l1.9-4.2-6.4-0.3-1.9,4.1z" fill="#ff0900"/>
<path d="M176.7,53.3l0.6-1.1-5-3.4-1.9,4.2z" fill="#ff0700"/>
<path d="M175.4,55.5L169.7,55.2" class="cl"/>
<path d="M155.6,59.7l3.7,2 1.5-2z" fill="#ff0d00"/>
<path d="M154.4,59.1l2,1.1 4,0.1 3.5-4.6-6.8-0.2z" fill="#ff0b00"/>
<path d="M163.4,56.3l0.7-0.9-5-2.5-2.4,3.2z" fill="#ff0900"/>
<path d="M162,54.7L158.2,54.6" class="cl"/>
<path d="M142.6,59.7l3.4,1.6 1.8-1.6z" fill="#ff0d00"/>
<path d="M141,59.2l2.4,1 3.7,0.1 3.8-3.5-3.8-1.8-1.6,0z" fill="#ff0b00"/>
<path d="M147.8,55.5l-1.8-1-1.1,1.1z" fill="#ff0900"/>
<path d="M127.8,59.8l4.9,2.5 2.7-3-7-0.1z" fill="#ff0d00"/>
<path d="M134.9,59.9l2.8-3-3.7-1.9-1.7-0.1-4.4,4.8z" fill="#ff0b00"/>
<path d="M134.7,55.5l-1.9-1.1-1,1.1z" fill="#ff0900"/>
<path d="M215,76l1.4,1.8 1.1-2z" fill="#ffc100"/>
<path d="M212.3,72.5l3.1,4 1.8-0.1 2.5-4.5z" fill="#ff7d00"/>
<path d="M211.5,71.4l1.2,1.7 6.7-0.6 1.2-2.2-1.7-2.1-5.7,0.5z" fill="#ff4c00"/>
<path d="M219.4,68.8l-3.7-4.3-2.9,4.8z" fill="#ff2a00"/>
<path d="M218.1,67.7L213.9,68.1" class="cl"/>
<path d="M114.4,61.1l4.9,1.5 3.7-3.5-5.9-0.6z" fill="#ff0d00"/>
<path d="M122.4,59.6l2.2-2-5-1.4-3,2.9z" fill="#ff0b00"/>
<path d="M202.3,67.1l1.1,1.1 4.5-1.6-1.3-1.3z" fill="#ff2a00"/>
<path d="M198.7,63.4l4.1,4.1 4.3-1.7-3.7-4.1z" fill="#ff1000"/>
<path d="M198.5,63.2l0.6,0.7 4.7-1.7-0.9-0.9z" fill="#ff0d00"/>
<path d="M101.1,63.2l4.9,1.4 2.2-2.1-5.7-0.6z" fill="#ff1000"/>
<path d="M107.6,63.1l3.8-3.4-4.9-1.3-4.6,4.1zM188.8,60.9l1.6,1.2 4.8-2.7z" fill="#ff0d00"/>
<path d="M185.3,58.4l4.1,2.9 5.1-1.3 0.5-0.2-5-4z" fill="#ff0b00"/>
<path d="M87.7,67.3l5-0.1 1.4-1.3-2.6-1.7z" fill="#ff2a00"/>
<path d="M93.6,66.3l4.7-4.1-5,0.5-2.3,1.9zM174.3,63.6l2.8,2.2 0.9-2.1z" fill="#ff1000"/>
<path d="M172.1,62.1l2.9,2.1 2.8,0.1 1.8-4.2-6.4-0.3z" fill="#ff0d00"/>
<path d="M179.3,60.7l1.9-4.1-6.4-0.4-1.9,4.2z" fill="#ff0b00"/>
<path d="M180.9,57.2l0.8-2-3.5-2.4-1.8-0.1-1.9,4.1z" fill="#ff0900"/>
<path d="M178.9,53.4l-2.1-1.6-0.7,1.5z" fill="#ff0700"/>
<path d="M181.2,55.8L175.4,55.5" class="cl"/>
<path d="M74.5,72l1.5-0.1 0.5-1.2z" fill="#ff7d00"/>
<path d="M75.3,72l4.1-0.6 4.9-3.4 0.3-0.7-4.3,1.1-4.6,2.7z" fill="#ff4c00"/>
<path d="M83.5,68.5l1.7-1.2-1.3,0.1z" fill="#ff2a00"/>
<path d="M162.3,63.8l1.5,1.1 0.8-1.2z" fill="#ff1000"/>
<path d="M158.8,61.4l4.2,3 1.2-0.1 3.5-4.6-7.6,0z" fill="#ff0d00"/>
<path d="M167.2,60.3l1.3-1.7-4.1-2.9-1.3,0-3.5,4.6z" fill="#ff0b00"/>
<path d="M165.1,56.3l-1.5-1.2-0.9,1.2z" fill="#ff0900"/>
<path d="M145.4,61l5,2.3 4.1-3.6-7.6,0z" fill="#ff0d00"/>
<path d="M153.9,60.3l1.4-1.4-4.9-2.4-4.1,3.8z" fill="#ff0b00"/>
<path d="M132.1,62l4.9,2.2 4.6-4.7-7-0.2z" fill="#ff0d00"/>
<path d="M141,60.1l1.1-1.1-5-2.4-3,3.3z" fill="#ff0b00"/>
<path d="M219.2,82.8l1.6,2.6 1.4-2.9z" fill="#b9ff00"/>
<path d="M217.2,79.4l2.4,3.9 2.3-0.2 2.1-4.4z" fill="#fffb00"/>
<path d="M216,77.3l1.6,2.6 6.1-0.5 1.4-3.1-0.9-1.2-7.4,0.7z" fill="#ffc100"/>
<path d="M224.6,75.7l-2.9-4-2.7,0.2-2.5,4.6z" fill="#ff7d00"/>
<path d="M222.1,72.3l-1.9-2.5-1.5,2.8z" fill="#ff4c00"/>
<path d="M219.4,82.4L222,82.2" class="cl"/>
<path d="M122,63.7l1.6,1 1-1z" fill="#ff1000"/>
<path d="M118.7,62.3l4,1.9 1.3,0.1 4.8-4.6-1.1-0.6-5.5-0.1z" fill="#ff0d00"/>
<path d="M128.4,59.6l-4.5-2.2-2.3,2.2z" fill="#ff0b00"/>
<path d="M205.9,70.7l2.1,2.1 4.4-1.2-2.5-2.8z" fill="#ff4c00"/>
<path d="M203,67.7l3.4,3.5 3.9-1.9-2.9-3.1z" fill="#ff2a00"/>
<path d="M205.6,70L209.1,68.4" class="cl"/>
<path d="M105.3,64.4l4.9,1.4 2.9-2.7-5.7-0.6z" fill="#ff1000"/>
<path d="M112.6,63.6l3-2.8-4.9-1.3-3.9,3.5z" fill="#ff0d00"/>
<path d="M194.3,64.9l0.7,0.5 1.2-0.8z" fill="#ff1000"/>
<path d="M189.9,61.7l5,3.6 0.6-0.2 4.1-1.7-5.1-4-0.2,0.1z" fill="#ff0d00"/>
<path d="M91.9,67l5,0.9 1.4-1.3-4.8-1z" fill="#ff2a00"/>
<path d="M97.7,67.1l4.7-4.3-5-0.6-4.4,3.9z" fill="#ff1000"/>
<path d="M179.6,67.5l2.1,1.7 0.6-1.6z" fill="#ff2a00"/>
<path d="M176.6,65.4l3.7,2.7 1.8,0.1 1.7-4.2-6.4-0.3z" fill="#ff1000"/>
<path d="M183.6,64.6l1.7-4.1-6.3-0.4-1.9,4.2z" fill="#ff0d00"/>
<path d="M185.1,61.1l1.2-2.8-2.3-1.5-3.5-0.2-1.8,4.1z" fill="#ff0b00"/>
<path d="M184.7,57.3l-3.5-2.4-0.9,2.2z" fill="#ff0900"/>
<path d="M182.1,55.9L181.2,55.8" class="cl"/>
<path d="M78.5,71.4l5-0.2 2.1-1.6-1.5-2.2z" fill="#ff4c00"/>
<path d="M85.2,69.9l4.1-3.2-5,0.6-0.7,0.5z" fill="#ff2a00"/>
<path d="M86.8,68.3L86.1,67.4" class="cl"/>
<path d="M163.3,64.5l4.9,3.8 3.5-4.7-7.8,0.1z" fill="#ff1000"/>
<path d="M171.2,64.2l1.7-2.3-3-2.3-3,0.1-3.5,4.7z" fill="#ff0d00"/>
<path d="M170.6,60.2l-2.6-2-1.5,2.1z" fill="#ff0b00"/>
<path d="M153,64.5l1.9,1.1 1.3-1.2z" fill="#ff1000"/>
<path d="M149.8,63l4,2 1.7,0 4.3-3.7-3.3-1.7-2.9,0.1z" fill="#ff0d00"/>
<path d="M157.3,60.1l-2.5-1.4-1.9,1.6z" fill="#ff0b00"/>
<path d="M137.1,64.1l4.4,1.9 1.7-1.8z" fill="#ff1000"/>
<path d="M136.4,64l1.5,0.6 4.7,0.2 3.9-3.9-3-1.3-2.7-0.1z" fill="#ff0d00"/>
<path d="M144.3,60.1l-2.8-1.4-1.3,1.4z" fill="#ff0b00"/>
<path d="M223.4,89.5l1.9,3 1.3-3.1z" fill="#36fd00"/>
<path d="M221.3,86.1l2.5,4 2.5-0.1 1.8-4.3z" fill="#71ff00"/>
<path d="M220.4,84.8l1.2,1.9 6.2-0.3 1.7-4.3-8,0.4z" fill="#b9ff00"/>
<path d="M229.3,82.8l0.3-0.9-2.6-3.3-3.7,0.2-2.1,4.3z" fill="#fffb00"/>
<path d="M227.5,79.2l-2.8-3.4-1.7,3.6z" fill="#ffc100"/>
<path d="M229.2,81.9L222,82.2" class="cl"/>
<path d="M123.1,64.4l4.9,2.4 3.1-3.1-7.3-0.1z" fill="#ff1000"/>
<path d="M130.5,64.3l2.6-2.5-4.9-2.4-5,4.8z" fill="#ff0d00"/>
<path d="M211.6,77.8l0.9,1.2 4.3-1.6-1.2-1.6z" fill="#ffc100"/>
<path d="M209,74.3l3,4 4-2-3-3.9z" fill="#ff7d00"/>
<path d="M207.6,72.3l1.8,2.5 3.9-2-1.3-1.7z" fill="#ff4c00"/>
<path d="M109.6,65.6l4.9,1.7 3.8-3.7-5.9-0.6z" fill="#ff1000"/>
<path d="M117.7,64.1l2.1-2-4.9-1.5-3.1,3z" fill="#ff0d00"/>
<path d="M198.5,68.6l1,1 4.6-1.6-1.2-1.2z" fill="#ff2a00"/>
<path d="M194.5,64.9l4.5,4.2 4.4-1.8-4.1-4.1-4,1.4z" fill="#ff1000"/>
<path d="M199.8,63.7l-0.7-0.8-4.5,2.3z" fill="#ff0d00"/>
<path d="M96.2,67.7l4.9,1.6 2.3-2.2-5.9-0.6z" fill="#ff2a00"/>
<path d="M102.9,67.6l3.6-3.5-4.9-1.4-4.7,4.3z" fill="#ff1000"/>
<path d="M184.6,71.4l1.6,1.4 0.5-1.3z" fill="#ff4c00"/>
<path d="M181.2,68.8l4.1,3.2 1.2,0.1 1.7-4.2-6.5-0.3z" fill="#ff2a00"/>
<path d="M188,68.5l1.7-4.1-6.5-0.4-1.8,4.2z" fill="#ff1000"/>
<path d="M189.4,65l1.4-3.4-1.2-0.9-4.9-0.3-1.7,4.2z" fill="#ff0d00"/>
<path d="M190.3,61.3l-4.5-3.3-1.3,3z" fill="#ff0b00"/>
<path d="M184.3,70.8L186.6,71" class="cl"/>
<path d="M82.6,71.2l5,0.2 0.9-0.7-3.3-1.5z" fill="#ff4c00"/>
<path d="M87.9,71.1l5.5-4.5-5,0.1-3.8,2.9z" fill="#ff2a00"/>
<path d="M89.3,69.6L86.8,68.3" class="cl"/>
<path d="M167.6,67.8l5.2,3.9 2.9-4.1z" fill="#ff2a00"/>
<path d="M167.8,67.9l0.5,0.4 7-0.1 2.1-3-2.2-1.6-4.3,0z" fill="#ff1000"/>
<path d="M175.9,64.1l-3.4-2.6-2,2.7z" fill="#ff0d00"/>
<path d="M172.5,71.1L172.8,71.1" class="cl"/>
<path d="M69.2,73.9l3.4,0 4-2.6-1.4,0.1z" fill="#ff7d00"/>
<path d="M71.7,73.8l2.5,0 5.9-3-4.4,0.5z" fill="#ff4c00"/>
<path d="M154.3,65.2l5,3.4 4.9-4.1-1-0.8-7.9,0.7z" fill="#ff1000"/>
<path d="M163.9,64.3l-4.7-3.3-4.6,4z" fill="#ff0d00"/>
<path d="M140.9,65.7l5,2.2 3.5-3.5-7-0.2z" fill="#ff1000"/>
<path d="M148.8,65l2.1-2.1-5-2.3-4.1,4.2z" fill="#ff0d00"/>
<path d="M127.4,66.6l5,2.3 5-5-7.1-0.2z" fill="#ff1000"/>
<path d="M136.8,64.5l0.7-0.7-5-2.3-2.8,2.8z" fill="#ff0d00"/>
<path d="M215.2,84.5l1.7,3.4 4.3-3-1.3-2.3z" fill="#b9ff00"/>
<path d="M213.5,81.1l2,3.9 4.7-1.8-2.3-3.9z" fill="#fffb00"/>
<path d="M212.2,78.5l1.6,3.2 4.4-1.9-1.7-2.9z" fill="#ffc100"/>
<path d="M215.3,84.1L219.4,82.4" class="cl"/>
<path d="M116.6,68.2l2.2,1.3 1.3-1.3z" fill="#ff2a00"/>
<path d="M113.9,67l3.4,1.7 2.2,0.1 4.6-4.6-1.2-0.6-5.4-0.1z" fill="#ff1000"/>
<path d="M123.6,64.1l-4.4-2.2-2.3,2.2z" fill="#ff0d00"/>
<path d="M202.6,72.4l1.5,1.5 4.6-1.3-2.2-2.1z" fill="#ff4c00"/>
<path d="M199,69.1l4,3.8 4-2-3.4-3.4z" fill="#ff2a00"/>
<path d="M202.2,71.6L205.6,70" class="cl"/>
<path d="M100.4,69.1l4.9,1.6 3.2-3.1-5.9-0.6z" fill="#ff2a00"/>
<path d="M107.9,68.1l2.8-2.7-4.9-1.5-3.7,3.6z" fill="#ff1000"/>
<path d="M189.6,75.4l1.2,1 0.4-1z" fill="#ff7d00"/>
<path d="M185.7,72.4l4.5,3.6 0.8,0 1.6-4.2-6.5-0.3z" fill="#ff4c00"/>
<path d="M192.4,72.4l1.7-4.1-6.5-0.4-1.7,4.2z" fill="#ff2a00"/>
<path d="M193.8,68.9l1.6-4-0.3-0.2-6.1-0.4-1.7,4.2z" fill="#ff1000"/>
<path d="M195.8,65.3l-5.5-4.1-1.5,3.7z" fill="#ff0d00"/>
<path d="M192.5,71.3L186.6,71" class="cl"/>
<path d="M86.9,71.2l4.9,1.2 1.2-1.1-5.2-0.9z" fill="#ff4c00"/>
<path d="M92.4,71.8l5-4.4-4.9-0.9-5.3,4.4z" fill="#ff2a00"/>
<path d="M93.6,70.4L89.3,69.6" class="cl"/>
<path d="M172.9,71.8l4.4,3.3 2.5-3.5z" fill="#ff4c00"/>
<path d="M172.3,71.3l1.3,1 5.8-0.1 2.6-3.6-1.5-1.1-5.5,0.1z" fill="#ff2a00"/>
<path d="M181.2,68.1l-4.2-3.2-2.5,3.3z" fill="#ff1000"/>
<path d="M179.9,71L172.8,71.1" class="cl"/>
<path d="M73.2,73.7l5.1,0.2 5.9-3.2-5,0.1z" fill="#ff4c00"/>
<path d="M159.5,68.7l4.3,3.2 4.9-4.2z" fill="#ff2a00"/>
<path d="M158.8,68.2l1.4,1 7.9-0.8 0.6-0.5-5-3.8z" fill="#ff1000"/>
<path d="M148.7,69.2l1.7,0.9 1-1z" fill="#ff2a00"/>
<path d="M145.3,67.7l4.1,2 1.4,0 4.5-4.6-1.4-0.7-5.4,0z" fill="#ff1000"/>
<path d="M154.7,64.9l-4.4-2.3-2.4,2.4z" fill="#ff0d00"/>
<path d="M132.4,68.7l4.4,2 1.8-1.9z" fill="#ff2a00"/>
<path d="M131.8,68.6l1.3,0.5 5,0.3 3.8-3.9-3.9-1.5-1.5-0.1z" fill="#ff1000"/>
<path d="M138.8,64.4l-1.9-0.9-0.9,1z" fill="#ff0d00"/>
<path d="M220.5,94.6l0.9,1.7 2.4-2.6z" fill="#17f500"/>
<path d="M218.7,91.2l2.1,3.9 2.4-0.7 2.4-2.5-1.5-2.4z" fill="#36fd00"/>
<path d="M216.9,87.8l2.1,3.9 5.4-1.7-2.5-4z" fill="#71ff00"/>
<path d="M216.6,87.3l0.6,1.1 5.1-1.8-1.4-2.2z" fill="#b9ff00"/>
<path d="M118.3,69.2l4.9,2.6 3.4-3.5-7.3-0.1z" fill="#ff2a00"/>
<path d="M126,68.9l2.4-2.5-4.9-2.5-4.8,4.8z" fill="#ff1000"/>
<path d="M208,79.5l0.7,0.9 4.4-1.6-0.9-1.3z" fill="#ffc100"/>
<path d="M205.6,76l2.8,4 4.1-2-2.9-4z" fill="#ff7d00"/>
<path d="M203.7,73.4l2.2,3.1 4.1-2-1.8-2.4z" fill="#ff4c00"/>
<path d="M104.7,70.5l4.9,1.8 4.2-4.2-6.1-0.6z" fill="#ff2a00"/>
<path d="M113.2,68.6l1.8-1.8-4.9-1.6-2.9,2.9z" fill="#ff1000"/>
<path d="M108.5,71.6L109.8,71.7" class="cl"/>
<path d="M193.5,79.1l1.9,2 0.7-1.9z" fill="#ffc100"/>
<path d="M190.3,76l3.8,3.7 1.8,0.1 1.6-4.2-6.9-0.2z" fill="#ff7d00"/>
<path d="M197.3,76.2l1.6-4.2-6.9-0.2-1.7,4.2z" fill="#ff4c00"/>
<path d="M198.6,72.6l1.4-3.4-0.8-0.8-5.8-0.2-1.6,4.2z" fill="#ff2a00"/>
<path d="M199.8,69.1l-4.9-4.6-1.7,4.3z" fill="#ff1000"/>
<path d="M198.7,71.5L192.5,71.3" class="cl"/>
<path d="M91.1,72.1l4.9,1.9 2.5-2.3-6.3-0.5z" fill="#ff4c00"/>
<path d="M97.9,72.2l3.7-3.3-4.9-1.6-5.1,4.4z" fill="#ff2a00"/>
<path d="M99,70.8L93.6,70.4" class="cl"/>
<path d="M178,75.7l3.9,3.2 2.3-3.3z" fill="#ff7d00"/>
<path d="M176.8,74.8l1.9,1.5 5.1-0.1 2.7-4-1-0.8-6.4,0.2z" fill="#ff4c00"/>
<path d="M186.2,72l-4.7-3.7-2.8,3.9z" fill="#ff2a00"/>
<path d="M184.3,70.8L179.9,71" class="cl"/>
<path d="M77.3,73.8l5.1,0.5 6-3.4-5.1-0.3zM165.1,72.8l3.3,2.4 3.8-3.2z" fill="#ff4c00"/>
<path d="M163.3,71.5l2.5,1.8 5.8-0.7 1.6-1.3-4.7-3.6-0.7,0.1z" fill="#ff2a00"/>
<path d="M169.2,68.2l-1-0.7-1.1,0.9z" fill="#ff1000"/>
<path d="M164.6,72.1L172.5,71.1" class="cl"/>
<path d="M63.8,75.9l5,0.2 2-0.9 2.5-1.9-3.3,0.1z" fill="#ff7d00"/>
<path d="M69.9,75.4l5-2.1-2.5,0z" fill="#ff4c00"/>
<path d="M149.8,69.8l5.1,3.3 4.3-4.4-8.7,0.4z" fill="#ff2a00"/>
<path d="M158.6,69.3l1.2-1.1-5-3.4-4.9,4.9z" fill="#ff1000"/>
<path d="M136.2,70.4l5.1,2.2 3.5-3.6-7-0.2z" fill="#ff2a00"/>
<path d="M144.2,69.6l2.1-2.1-5-2.2-4.1,4.1z" fill="#ff1000"/>
<path d="M126.2,73.1l1.4,0.8 0.8-0.9z" fill="#ff4c00"/>
<path d="M122.6,71.5l4.4,2.1 0.9,0 4.8-5.1-6.9-0.2z" fill="#ff2a00"/>
<path d="M132.2,69.1l0.6-0.7-4.9-2.3-2.7,2.7z" fill="#ff1000"/>
<path d="M124.7,72.1L128.8,72.2" class="cl"/>
<path d="M212.6,89.5l0.5,1.1 2.6-2.1z" fill="#71ff00"/>
<path d="M211.1,86.2l1.7,3.9 2.3-0.9 2.3-1.7-1.6-3.2z" fill="#b9ff00"/>
<path d="M209.7,82.8l1.7,3.9 4.6-1.9-1.9-3.9z" fill="#fffb00"/>
<path d="M208.4,79.9l1.5,3.5 4.4-2-1.5-3.1z" fill="#ffc100"/>
<path d="M211.3,85.8L215.3,84.1" class="cl"/>
<path d="M110.2,72.6l3.8,2.1 1.9-2.1z" fill="#ff4c00"/>
<path d="M109.1,72.1l1.9,1 4.4,0.1 3.9-4.2-1.8-0.9-4.5-0.1z" fill="#ff2a00"/>
<path d="M118.2,68.6l-3.8-2.1-2,2.1z" fill="#ff1000"/>
<path d="M116.2,71.9L109.8,71.7" class="cl"/>
<path d="M197.2,82.9l2.8,2.8 1-2.7z" fill="#fffb00"/>
<path d="M194.9,80.6l2.9,2.9 3,0.1 1.5-4.2-6.8-0.2z" fill="#ffc100"/>
<path d="M202.1,80l1.6-4.1-6.8-0.3-1.7,4.2z" fill="#ff7d00"/>
<path d="M203.5,76.4l1.1-2.9-1.4-1.3-5-0.2-1.6,4.2z" fill="#ff4c00"/>
<path d="M203.9,72.8l-4.4-4.1-1.5,3.9z" fill="#ff2a00"/>
<path d="M202.2,71.6L198.7,71.5" class="cl"/>
<path d="M95.4,73.7l4.9,1.9 3.6-3.5-6.2-0.5z" fill="#ff4c00"/>
<path d="M103.3,72.7l2.5-2.4-4.9-1.7-3.8,3.5z" fill="#ff2a00"/>
<path d="M104.3,71.3L99,70.8" class="cl"/>
<path d="M182.9,79.7l3.6,3 2.1-3.2z" fill="#ffc100"/>
<path d="M181.4,78.5l2.2,1.8 4.6-0.2 2.9-4.2-0.6-0.5-7,0.2z" fill="#ff7d00"/>
<path d="M191.2,76l-5.2-4.1-3,4.3zM81.6,74.1l5,1.4 5.9-3.6-5-1.1z" fill="#ff4c00"/>
<path d="M170.8,76.9l2.2,1.6 2.6-2.2z" fill="#ff7d00"/>
<path d="M167.9,74.8l3.5,2.6 3.5-0.5 2.8-2.2-3.9-3-2.5,0.3z" fill="#ff4c00"/>
<path d="M174.4,72.2l-1.7-1.3-2,1.8z" fill="#ff2a00"/>
<path d="M67.9,75.9l2.7,0.3 0.5-1.8z" fill="#ff7d00"/>
<path d="M70,76.1l2.9,0.2 6.1-2.8-5-0.3-3.6,1.5zM155.4,73.4l4,2.9 3.4-3.4z" fill="#ff4c00"/>
<path d="M154.4,72.7l1.7,1.3 6.1-0.4 2.1-2.1-3.9-2.9-2,0.1z" fill="#ff2a00"/>
<path d="M161.1,69.2l-1.8-1.4-1.6,1.6z" fill="#ff1000"/>
<path d="M154.8,72.7L163.2,72.2" class="cl"/>
<path d="M143.8,73.8l2,1.2 1.1-1.2z" fill="#ff4c00"/>
<path d="M140.7,72.4l3.8,1.9 1.8,0.1 4.5-4.7-1.2-0.6-5.6-0.1z" fill="#ff2a00"/>
<path d="M150.3,69.6l-4.5-2.4-2.4,2.4z" fill="#ff1000"/>
<path d="M142.4,72.9L147.3,73" class="cl"/>
<path d="M127,73.6l5.1,2.2 2.2-2.4-6.7-0.4z" fill="#ff4c00"/>
<path d="M133.8,73.9l3.4-3.7-3.9-1.6-1.4-0.1-4.8,5.1z" fill="#ff2a00"/>
<path d="M134,69l-1.8-0.9-0.8,0.9z" fill="#ff1000"/>
<path d="M134.6,72.6L128.8,72.2" class="cl"/>
<path d="M215.7,96.2l1.8,4.1 4.4-4.5-0.8-1.4z" fill="#17f500"/>
<path d="M214.1,92.9l1.8,3.9 5.5-1.9-2.1-3.9z" fill="#36fd00"/>
<path d="M212.8,90l1.6,3.4 5.2-1.9-2.1-3.9-2.7,1.1z" fill="#71ff00"/>
<path d="M217.8,88.2l-0.7-1.2-2.9,2.3z" fill="#b9ff00"/>
<path d="M217.5,99.4L218.2,99.2" class="cl"/>
<path d="M113.4,74.4l5,2.8 3.9-4.4-7.2-0.2z" fill="#ff4c00"/>
<path d="M121.8,73.4l1.8-2.1-4.9-2.6-4.1,4.5z" fill="#ff2a00"/>
<path d="M122.6,72L116.2,71.9" class="cl"/>
<path d="M202.8,90.1l1.7,2.7 1-2.8z" fill="#71ff00"/>
<path d="M200.5,86.6l2.7,4.1 2.1-0.1 1.5-4.1z" fill="#b9ff00"/>
<path d="M199.6,85.2l1.3,2 5.7-0.1 1.5-4.2-7.7,0.1z" fill="#fffb00"/>
<path d="M207.9,83.5l1.2-3.5-0.5-0.7-6.9,0.1-1.6,4.2z" fill="#ffc100"/>
<path d="M209,79.9l-2.8-4.1-3.1,0-1.6,4.2z" fill="#ff7d00"/>
<path d="M206.6,76.4l-2.5-3.5-1.3,3.5z" fill="#ff4c00"/>
<path d="M200.6,86.3L206.6,86.2" class="cl"/>
<path d="M99.7,75.3l4.9,2.1 4.9-4.9-6.4-0.4z" fill="#ff4c00"/>
<path d="M108.9,73.1l1.2-1.2-4.9-1.8-2.7,2.5z" fill="#ff2a00"/>
<path d="M108.5,71.6L104.3,71.3" class="cl"/>
<path d="M187.4,83.6l3.7,3.8 2.8-4.2z" fill="#fffb00"/>
<path d="M186.1,82.3l1.8,1.9 5.6-0.4 2.2-3.3-1.4-1.4-6.4,0.5z" fill="#ffc100"/>
<path d="M194.9,79.7l-4.3-4.2-3.1,4.7z" fill="#ff7d00"/>
<path d="M85.9,75.2l4.9,1.9 5.8-3.5-4.9-1.9z" fill="#ff4c00"/>
<path d="M176,81l1.6,1.2 2-1.7z" fill="#ffc100"/>
<path d="M172.5,78.2l4.1,3.3 2.4-0.4 3.3-2.7-3.4-2.7-4.2,0.7z" fill="#ff7d00"/>
<path d="M179.6,76.2l-2.3-1.9-3.3,2.7zM72,76.2l5.1,0.6 6.1-2.9-5.1-0.6z" fill="#ff4c00"/>
<path d="M161.2,77.6l2.8,2 2.3-2.4z" fill="#ff7d00"/>
<path d="M158.9,76l3.1,2.2 3.7-0.3 3.1-3.1-2.8-2.1-4.1,0.3z" fill="#ff4c00"/>
<path d="M166.7,73.2l-2.9-2.1-2.5,2.5z" fill="#ff2a00"/>
<path d="M164.6,72.1L163.2,72.2" class="cl"/>
<path d="M58.4,78l4.9,0.4 6.3-2.8-5-0.1z" fill="#ff7d00"/>
<path d="M145.2,74.6l5.1,3.4 4.2-4.5-8.4,0.3z" fill="#ff4c00"/>
<path d="M153.9,74.1l1.4-1.5-5-3.2-4.8,5z" fill="#ff2a00"/>
<path d="M154.8,72.7L147.3,73" class="cl"/>
<path d="M131.5,75.5l5.1,2.4 3.8-4.3-6.9-0.3z" fill="#ff4c00"/>
<path d="M139.9,74.2l1.8-2-5-2.3-3.7,4z" fill="#ff2a00"/>
<path d="M140.7,72.9L134.6,72.6" class="cl"/>
<path d="M119,77.4l3.8,2.1 1.7-2z" fill="#ff7d00"/>
<path d="M117.8,76.9l1.9,1 4.3,0.1 4-4.6-0.9-0.4-5.6-0.3z" fill="#ff4c00"/>
<path d="M127.9,73.5l-4.8-2.5-2.1,2.3z" fill="#ff2a00"/>
<path d="M124.7,72.1L122.6,72" class="cl"/>
<path d="M207.5,100.3l1.4,3.4 1.2-3.7z" fill="#00f20f"/>
<path d="M206.1,96.9l1.6,3.9 2.2-0.2 1.5-4.2z" fill="#17f500"/>
<path d="M204.7,93.6l1.7,3.9 4.8-0.4 1.4-4.2z" fill="#36fd00"/>
<path d="M204.1,92.1l0.9,2 7.4-0.6 1.1-3.4-0.3-0.7-8.3,0.7z" fill="#71ff00"/>
<path d="M213.4,89.9l-1.7-3.9-5.5,0.5-1.6,4.2z" fill="#b9ff00"/>
<path d="M212,86.6l-1.8-3.9-2.8,0.2-1.5,4.2z" fill="#fffb00"/>
<path d="M210.5,83.2l-1.7-3.9-1.6,4.2z" fill="#ffc100"/>
<path d="M207.8,100.2L209.8,100M211.3,85.8L206.6,86.2" class="cl"/>
<path d="M104.3,77.2l4.7,2.8 2.7-2.9z" fill="#ff7d00"/>
<path d="M104.1,77.1l1,0.6 6,0 3.3-3.4-3.3-1.8-2.4,0z" fill="#ff4c00"/>
<path d="M111.9,73l-2.4-1.4-1.4,1.5z" fill="#ff2a00"/>
<path d="M194.9,91.2l0.8,0.9 0.7-1z" fill="#71ff00"/>
<path d="M191.1,87.4l4.3,4.4 0.6,0 3.1-4.9z" fill="#b9ff00"/>
<path d="M190.7,87l1,1 7-0.5 1.6-2.4-2.2-2.2-5,0.3z" fill="#fffb00"/>
<path d="M198.7,83.5l-3.5-3.5-2.5,3.9z" fill="#ffc100"/>
<path d="M191.2,87L199,86.5" class="cl"/>
<path d="M92.2,77.5l3,1.3 2-1.4z" fill="#ff7d00"/>
<path d="M90.1,76.9l2.9,1.1 3.5,0 4.4-2.8-5-1.9z" fill="#ff4c00"/>
<path d="M181,85.1l1.2,0.9 1.6-1.4z" fill="#fffb00"/>
<path d="M177.1,81.8l4.5,3.7 1.5-0.2 3.8-3.1-3.1-2.5-5.1,0.8z" fill="#ffc100"/>
<path d="M184.4,80.2l-2.6-2.1-3.7,3.1z" fill="#ff7d00"/>
<path d="M76.2,76.6l5.1,1.3 6.1-2.8-5.1-1.4z" fill="#ff4c00"/>
<path d="M167.2,81.9l1.4,1 1.2-1.3z" fill="#ffc100"/>
<path d="M163.5,79.2l4.4,3.2 1.3-0.1 4.2-4.2-1.8-1.3-6.2,0.5z" fill="#ff7d00"/>
<path d="M172.4,77.4l-4.1-3-3.5,3.6z" fill="#ff4c00"/>
<path d="M62.4,78.2l5.1,0.6 3.2-1.5 0-1.7-2-0.1z" fill="#ff7d00"/>
<path d="M70.1,77.6l3.6-1.7-3.6-0.3z" fill="#ff4c00"/>
<path d="M150.5,78.2l4.3,3.1 3.3-3.5z" fill="#ff7d00"/>
<path d="M149.8,77.6l1.5,1.1 6.2-0.3 2.3-2.5-3.5-2.5-2.6,0.1z" fill="#ff4c00"/>
<path d="M157,73.9l-2.2-1.6-1.7,1.8z" fill="#ff2a00"/>
<path d="M154.8,72.7L154.8,72.7" class="cl"/>
<path d="M137.3,78.3l3.8,2.2 1.8-2.2z" fill="#ff7d00"/>
<path d="M136,77.7l2,1.1 4.4,0.1 3.8-4.4-1.5-0.8-5.1-0.1z" fill="#ff4c00"/>
<path d="M145.5,74.2l-4.4-2.3-2,2.3z" fill="#ff2a00"/>
<path d="M142.4,72.9L140.7,72.9" class="cl"/>
<path d="M122.2,79.2l5.1,2.4 3.1-3.8-6.6-0.4z" fill="#ff7d00"/>
<path d="M129.9,78.4l2.6-3.1-5-2.1-4.2,4.8z" fill="#ff4c00"/>
<path d="M211.8,110.3l1.5,3.7 1.3-3.9z" fill="#00fcc6"/>
<path d="M210.3,107l1.7,3.9 2.4-0.2 1.4-4.2z" fill="#00ff8a"/>
<path d="M208.9,103.6l1.7,4 5-0.4 1.3-4.2z" fill="#00f94c"/>
<path d="M208.5,102.8l0.6,1.4 7.6-0.6 1.4-4.1-8.6,0.6z" fill="#00f20f"/>
<path d="M218.1,100l-1.8-3.9-5.6,0.4-1.4,4.2z" fill="#17f500"/>
<path d="M216.5,96.7l-1.8-4-2.8,0.2-1.4,4.2z" fill="#36fd00"/>
<path d="M215,93.3l-1.8-4-1.5,4.2z" fill="#71ff00"/>
<path d="M217.5,99.4L209.8,100" class="cl"/>
<path d="M112.3,81.8l1.1,0.8 0.7-0.8z" fill="#ffc100"/>
<path d="M108.5,79.7l4.5,2.7 0.6,0 4.7-5.2-7.4-0.1z" fill="#ff7d00"/>
<path d="M117.8,77.8l1-1.1-5-2.7-3.5,3.7z" fill="#ff4c00"/>
<path d="M199.7,98.4l0.6,0.9 0.7-1.1z" fill="#17f500"/>
<path d="M197.4,94.8l2.6,4.1 0.6-0.1 3.1-4.9z" fill="#36fd00"/>
<path d="M195.3,91.7l2.4,3.7 5.6-0.8 1.5-2.5-1.3-2-7.9,1.1z" fill="#71ff00"/>
<path d="M203.8,90.6l-2.6-4.1-2.8,0.4-3.2,5z" fill="#b9ff00"/>
<path d="M201.5,87.1l-1.6-2.5-1.9,3z" fill="#fffb00"/>
<path d="M200.6,86.3L199,86.5" class="cl"/>
<path d="M94.5,78.6l5,2.2 5.2-3.6-8.4,0.2z" fill="#ff7d00"/>
<path d="M104,77.8l1.2-0.8-5-2.1-4.6,3z" fill="#ff4c00"/>
<path d="M185.1,88.9l1.7,1.8 3.4-2.8z" fill="#b9ff00"/>
<path d="M181.8,85.6l3.8,3.8 3.9-0.9 2-1.5-3.4-3.5-5.2,1.2z" fill="#fffb00"/>
<path d="M188.6,84l-2.1-2.2-4.3,3.6z" fill="#ffc100"/>
<path d="M185.1,88.5L190.8,87.1" class="cl"/>
<path d="M83.3,78.6l2.3,0.9 2.6-1.4z" fill="#ff7d00"/>
<path d="M80.5,77.6l3.7,1.4 3.2-0.3 4.2-1.9-5.1-2z" fill="#ff4c00"/>
<path d="M168.1,82.5l5.1,4.1 4.8-4.8-1.2-0.9-7.9,0.8z" fill="#ffc100"/>
<path d="M177.5,81.4l-4.6-3.6-4.6,4.6zM66.6,78.6l5.1,0.7 1.2-0.5-2.5-2z" fill="#ff7d00"/>
<path d="M72.3,79.1l5.6-2.7-5.1-0.7-3,1.4z" fill="#ff4c00"/>
<path d="M156.3,82.4l3.2,2.3 2.3-2.6z" fill="#ffc100"/>
<path d="M154.4,81l2.6,1.9 4.2-0.2 3.2-3.5-2.3-1.6-4.8,0.2z" fill="#ff7d00"/>
<path d="M162.9,78.1l-3.6-2.6-2.6,2.9z" fill="#ff4c00"/>
<path d="M52.8,80.2l5,0.7 6.3-3-5-0.3z" fill="#ff7d00"/>
<path d="M144.4,82.7l1.2,0.9 0.8-0.9z" fill="#ffc100"/>
<path d="M140.6,80.1l4.5,3.2 0.8,0 4.3-5.2-8,0.2z" fill="#ff7d00"/>
<path d="M149.7,78.8l1-1.3-5-3.3-4.1,4.7z" fill="#ff4c00"/>
<path d="M129.3,82.5l2.5,1.4 1-1.3z" fill="#ffc100"/>
<path d="M126.7,81.3l3.4,1.7 2.3,0.1 4-5-6.8-0.3z" fill="#ff7d00"/>
<path d="M136,78.7l1-1.2-5.1-2.4-2.7,3.3z" fill="#ff4c00"/>
<path d="M112.9,82.3l5,2.8 2.7-3.1-7.3-0.2z" fill="#ffc100"/>
<path d="M120.1,82.6l3.1-3.6-3.3-1.7-2.4-0.1-4.7,5.2z" fill="#ff7d00"/>
<path d="M120.6,77.8l-2.4-1.4-1.2,1.4z" fill="#ff4c00"/>
<path d="M204,108.5l0.7,1.8 1.3-2.3z" fill="#00ff8a"/>
<path d="M202.6,105.2l1.6,3.9 1.4-0.3 3.1-5.1z" fill="#00f94c"/>
<path d="M201.2,101.8l1.6,3.9 5.4-1.3 1-1.6-1.1-2.6z" fill="#00f20f"/>
<path d="M199.9,98.7l1.5,3.6 6.9-1.6-1.6-3.9-6.5,1.5z" fill="#17f500"/>
<path d="M207,97.4l-1.7-3.9-2.4,0.5-3.1,5z" fill="#36fd00"/>
<path d="M205.6,94l-1.1-2.6-2.1,3.3z" fill="#71ff00"/>
<path d="M201.5,101.7L207.8,100.2" class="cl"/>
<path d="M102.9,82.8l1,0.6 1-0.8z" fill="#ffc100"/>
<path d="M98.9,80.4l4.7,2.9 0.6-0.1 5.3-3.6-4.3-2.5-1.4,0.1z" fill="#ff7d00"/>
<path d="M106,77.6l-1.4-0.9-1.5,1.1z" fill="#ff4c00"/>
<path d="M189,92.8l2.5,2.6 4.6-3.7-0.5-0.5z" fill="#71ff00"/>
<path d="M186.4,90.2l3.1,3.1 6.6-1.6-4.2-4.4-2.6,0.7z" fill="#b9ff00"/>
<path d="M192.4,87.8l-1.3-1.3-2.5,2.1z" fill="#fffb00"/>
<path d="M191.2,87L190.8,87.1" class="cl"/>
<path d="M84.8,79.2l5.1,1.9 6-2.6-2.8-1.1-5.8,0.7z" fill="#ff7d00"/>
<path d="M93.9,77.8l-3.1-1.3-4.3,2.1z" fill="#ff4c00"/>
<path d="M172.5,86l5.4,4.4 4.8-4.8-0.9-0.7z" fill="#fffb00"/>
<path d="M172.4,86.6l10.1-1.2-5-4z" fill="#ffc100"/>
<path d="M177.4,89.6L178.3,89.5" class="cl"/>
<path d="M70.8,79.1l5.1,1.3 2.7-1.4-6.3-0.6z" fill="#ff7d00"/>
<path d="M77.8,79.5l4.3-2-5.1-1.3-5.5,2.7z" fill="#ff4c00"/>
<path d="M162.1,86.6l2,1.5 1.4-1.6z" fill="#fffb00"/>
<path d="M159,84.3l3.9,2.9 2.1-0.1 4-4.7-0.9-0.6-7.2,0.3z" fill="#ffc100"/>
<path d="M168.8,82.3l-4.9-3.5-3.5,4zM56.9,80.7l5,0.8 6.4-3.2-5.1-0.5z" fill="#ff7d00"/>
<path d="M145.1,83.3l5.1,3.9 3.8-4.8-8.4,0.3z" fill="#ffc100"/>
<path d="M153.5,83l1.7-2.1-3.8-2.8-2,0.1-4.3,5.1z" fill="#ff7d00"/>
<path d="M152.2,78.7l-2-1.5-1.3,1.6z" fill="#ff4c00"/>
<path d="M131.2,83.6l5.1,3 3-3.9-7.2-0.2z" fill="#ffc100"/>
<path d="M138.9,83.3l2.6-3.3-3.3-1.8-2.5-0.1-4.1,5z" fill="#ff7d00"/>
<path d="M139,78.7l-2.6-1.5-1.2,1.5z" fill="#ff4c00"/>
<path d="M117.3,84.8l5.1,2.6 4.2-5.1-6.8-0.4z" fill="#ffc100"/>
<path d="M126.2,82.9l1.5-1.8-5.1-2.4-3.3,3.8z" fill="#ff7d00"/>
<path d="M208.3,118.7l0.9,2.1 1.5-2.7z" fill="#00caff"/>
<path d="M206.8,115.3l1.7,4 1.8-0.5 3-5z" fill="#00ebe8"/>
<path d="M205.4,111.9l1.7,4 5.8-1.4 0.7-1.4-1.2-2.8z" fill="#00fcc6"/>
<path d="M204.4,109.6l1.2,2.9 7-1.7-1.6-3.9-5.8,1.3z" fill="#00ff8a"/>
<path d="M211.2,107.5l-1.7-4-1.6,0.4-3.1,5z" fill="#00f94c"/>
<path d="M209.7,104.1l-0.8-1.9-1.5,2.4z" fill="#00f20f"/>
<path d="M207.2,115.4L212.7,114.1" class="cl"/>
<path d="M103.3,83.1l5,3 5.6-3.9-0.7-0.4-9.2,0.8z" fill="#ffc100"/>
<path d="M114,82.3l-5.1-3.1-5.6,4z" fill="#ff7d00"/>
<path d="M194.6,100.2l1.5,2.3 4.6-3.7-0.4-0.6z" fill="#17f500"/>
<path d="M192.2,96.6l2.7,4.1 5.7-1.9-2.6-4.1z" fill="#36fd00"/>
<path d="M191.1,94.9l1.5,2.2 5.7-1.9-2.5-4z" fill="#71ff00"/>
<path d="M89.1,80.8l5.1,2.2 6-2.6-5.1-2.2z" fill="#ff7d00"/>
<path d="M181.5,94l1,1.1 1.4-1.4z" fill="#71ff00"/>
<path d="M177.5,90.1l4.5,4.5 1.2-0.2 4.1-4.1-1.5-1.5z" fill="#b9ff00"/>
<path d="M177.4,90l0.7,0.6 8.2-1.3-4.1-4.1z" fill="#fffb00"/>
<path d="M185.1,88.5L178.3,89.5" class="cl"/>
<path d="M75.1,80.1l5.1,1.8 6.1-2.7-2.1-0.8-6.5,0.5z" fill="#ff7d00"/>
<path d="M85,78.8l-3.7-1.5-4.3,2.1z" fill="#ff4c00"/>
<path d="M167.3,90.8l1.4,1.2 1.2-1.4z" fill="#b9ff00"/>
<path d="M163.6,87.7l4.4,3.7 1.3-0.1 4.6-5.4-9.2,0.6z" fill="#fffb00"/>
<path d="M174,86.5l-5.5-4.4-4.4,5z" fill="#ffc100"/>
<path d="M167.3,90.4L169.9,90.2" class="cl"/>
<path d="M61,81.3l5.2,1 6.3-3.4-5.1-0.7z" fill="#ff7d00"/>
<path d="M150,86.9l4.8,3.8 3.1-4z" fill="#fffb00"/>
<path d="M149.7,86.8l1,0.7 6.8-0.2 2.3-3.1-2.6-1.9-4,0.1z" fill="#ffc100"/>
<path d="M157.9,82.9l-3.1-2.4-2.1,2.5zM47,82.2l5.1,1 6.5-2.7-5-0.7z" fill="#ff7d00"/>
<path d="M137,87.1l3.9,2.9 2.2-2.9z" fill="#fffb00"/>
<path d="M135.8,86.3l1.9,1.4 4.9,0 3.4-4.5-0.7-0.5-6.7,0z" fill="#ffc100"/>
<path d="M146,83.2l-5.1-3.5-2.8,3.6z" fill="#ff7d00"/>
<path d="M121.7,86.9l5.2,3 2.3-2.9z" fill="#fffb00"/>
<path d="M121.8,87.1l0.6,0.3 6.3,0.2 3.5-4.2-2-1-4.3-0.1z" fill="#ffc100"/>
<path d="M131,83l-3.9-2.2-1.7,2z" fill="#ff7d00"/>
<path d="M110.9,87.6l1.9,1.1 1.8-1.4z" fill="#fffb00"/>
<path d="M107.7,85.8l4,2.3 2.2-0.2 4.4-3.2-5-2.8z" fill="#ffc100"/>
<path d="M199.3,110.5l1.2,2.9 4.6-3.7-0.6-1.3z" fill="#00ff8a"/>
<path d="M197.9,107.1l1.7,4 5.2-2.2-1.6-3.9z" fill="#00f94c"/>
<path d="M196.5,103.7l1.7,3.9 5.2-2.1-1.6-3.9z" fill="#00f20f"/>
<path d="M195.8,101.9l0.9,2.3 5.3-2-1.6-3.9z" fill="#17f500"/>
<path d="M196.8,103.5L201.5,101.7" class="cl"/>
<path d="M96.8,84.5l1.8,1 5.9-2.4-0.8-0.5z" fill="#ffc100"/>
<path d="M93.6,82.6l3.9,2.3 7-1.8-5-3z" fill="#ff7d00"/>
<path d="M185.5,98l1.8,1.8 2.3-2.5z" fill="#36fd00"/>
<path d="M182.1,94.6l3.9,3.9 3-0.5 3-3-2.3-2.3-6.7,1.1z" fill="#71ff00"/>
<path d="M190.2,93.2l-3.3-3.4-4.6,4.7z" fill="#b9ff00"/>
<path d="M79.4,81.6l5.1,1.8 6.2-2.6-5.2-1.9z" fill="#ff7d00"/>
<path d="M172.2,94.9l1.2,1.1 1-1.2z" fill="#71ff00"/>
<path d="M168.3,91.6l4.6,3.9 1-0.1 4.3-5.4-9.2,0.7z" fill="#b9ff00"/>
<path d="M177.7,90.7l0.6-0.7-5.1-4.2-4.7,5.5z" fill="#fffb00"/>
<path d="M177.4,89.6L169.9,90.2" class="cl"/>
<path d="M65.3,82l5.1,1.3 6.3-3.3-5.1-1.3z" fill="#ff7d00"/>
<path d="M155.5,91.2l4,3.1 2.4-3.3z" fill="#b9ff00"/>
<path d="M154.4,90.3l1.8,1.5 5.3-0.2 3-4-1.4-1-5.9,0.1z" fill="#fffb00"/>
<path d="M163.8,87.1l-4.5-3.2-2.6,3.4z" fill="#ffc100"/>
<path d="M155.4,90.8L161.9,90.6" class="cl"/>
<path d="M51.2,83l5.1,1.1 6.4-3-5-0.8z" fill="#ff7d00"/>
<path d="M142.6,91.4l2.9,2.4 1.8-2.5z" fill="#b9ff00"/>
<path d="M140.4,89.6l2.9,2.4 3.5-0.1 3.6-5-8.1,0.2z" fill="#fffb00"/>
<path d="M150,87.5l0.6-0.8-5.1-3.9-3.6,4.9z" fill="#ffc100"/>
<path d="M142.5,91L147.2,90.9" class="cl"/>
<path d="M129.6,91.6l1.8,1.3 1-1.3z" fill="#b9ff00"/>
<path d="M126.4,89.6l3.9,2.6 1.7,0 3.9-5.1-7.4-0.1z" fill="#fffb00"/>
<path d="M135.5,87.7l1.2-1.5-5.1-3.1-3.6,4.5z" fill="#ffc100"/>
<path d="M129.3,91.1L132.4,91.2" class="cl"/>
<path d="M112.2,88.4l5.1,2.7 5.6-4.3-9.2,0.5z" fill="#fffb00"/>
<path d="M122.2,87.4l0.6-0.5-5-2.6-4.8,3.6z" fill="#ffc100"/>
<path d="M203.7,120.8l1.4,3.1 4.5-3.7-0.8-1.7z" fill="#00caff"/>
<path d="M202.2,117.4l1.8,3.9 5.1-2.2-1.7-4z" fill="#00ebe8"/>
<path d="M200.8,113.9l1.7,4 5.1-2.2-1.6-4z" fill="#00fcc6"/>
<path d="M200.3,112.8l0.7,1.7 5.2-2.2-1.3-3.2z" fill="#00ff8a"/>
<path d="M202.6,117.4L207.2,115.4" class="cl"/>
<path d="M98,85.1l5.1,3 5.9-2.3-5.1-3.1z" fill="#ffc100"/>
<path d="M190.9,105.4l1,1.5 2.1-2.3z" fill="#00f20f"/>
<path d="M188.5,101.7l2.7,4.2 2.2-0.6 3.1-3.2-1.3-2.1z" fill="#17f500"/>
<path d="M186.9,99.3l1.9,3 6.7-1.8-2.7-4.1-4.1,1z" fill="#36fd00"/>
<path d="M193.2,96.9l-1.6-2.4-3.5,3.6z" fill="#71ff00"/>
<path d="M191.1,105.2L193.8,104.5" class="cl"/>
<path d="M83.7,83.1l5.2,2.1 6.1-2.5-5.1-2.2z" fill="#ff7d00"/>
<path d="M176.3,98.9l1.8,1.9 1.8-2.3z" fill="#36fd00"/>
<path d="M173,95.6l3.8,3.9 2.6-0.3 3.5-4.6-0.7-0.7-8.6,0.9z" fill="#71ff00"/>
<path d="M182.8,94.5l-4.5-4.5-0.9,0.1-4.3,5.4z" fill="#b9ff00"/>
<path d="M178.8,90.5l-1-0.9-0.9,1.1z" fill="#fffb00"/>
<path d="M69.6,83.1l5.1,1.7 6.2-3.3-5.1-1.8z" fill="#ff7d00"/>
<path d="M160.8,95.4l3.4,3 2.3-3.2z" fill="#71ff00"/>
<path d="M159,93.9l2.4,2.1 4.7-0.2 3-4.3-0.9-0.8-7,0.4z" fill="#b9ff00"/>
<path d="M168.9,91.3l-4.9-4-3.3,4.4z" fill="#fffb00"/>
<path d="M167.3,90.4L161.9,90.6" class="cl"/>
<path d="M55.4,83.9l5.1,1.1 6.4-3.2-5-0.9z" fill="#ff7d00"/>
<path d="M147.8,95.6l2.3,2 1.4-2z" fill="#71ff00"/>
<path d="M145,93.4l3.5,2.8 2.6,0 3.4-5-8,0.1z" fill="#b9ff00"/>
<path d="M154.1,91.8l1.1-1.6-4.3-3.3-1.2,0-3.6,5z" fill="#fffb00"/>
<path d="M151.6,87.5l-1.5-1.2-0.9,1.2z" fill="#ffc100"/>
<path d="M154.4,90.8L147.2,90.9" class="cl"/>
<path d="M130.9,92.6l5.1,3.9 3.8-5-8.1,0.1z" fill="#b9ff00"/>
<path d="M139.3,92.1l1.9-2.6-3.3-2.4-2.7,0-4,5.1z" fill="#fffb00"/>
<path d="M138.6,87.7l-2.4-1.9-1.5,1.9z" fill="#ffc100"/>
<path d="M139.7,91.1L132.4,91.2" class="cl"/>
<path d="M120.1,92.7l1.7,1 1.7-1.3z" fill="#b9ff00"/>
<path d="M116.7,90.7l4.2,2.5 1.9-0.2 4.5-3.5-4.7-2.7-0.6,0z" fill="#fffb00"/>
<path d="M123.3,87.3l-1-0.7-1,0.8z" fill="#ffc100"/>
<path d="M119.5,92L124,91.7" class="cl"/>
<path d="M105.6,89.5l2,1.1 5.9-2.2-1.7-1z" fill="#fffb00"/>
<path d="M102.4,87.8l3.9,2.1 6.2-2.1-4.2-2.4z" fill="#ffc100"/>
<path d="M195.5,115.8l0.9,2.1 3.1-3.4z" fill="#00fcc6"/>
<path d="M194,112.3l1.7,4 3.2-1.1 2.1-2.2-1.1-2.7z" fill="#00ff8a"/>
<path d="M192.6,108.9l1.7,4 5.8-2.1-1.6-3.9z" fill="#00f94c"/>
<path d="M191.6,106.4l1.2,3 5.9-2-1.6-3.9-4,1.3z" fill="#00f20f"/>
<path d="M197.3,104l-1-2.5-3.7,4z" fill="#17f500"/>
<path d="M196.8,103.5L193.8,104.5" class="cl"/>
<path d="M90.4,86.1l2.9,1.6 6-2.5-1.7-1z" fill="#ffc100"/>
<path d="M88.2,84.9l2.9,1.6 7.2-1.8-4-2.4z" fill="#ff7d00"/>
<path d="M180.2,102.9l2.7,2.7 2.5-3.3z" fill="#17f500"/>
<path d="M177.7,100.4l3,3 4.2-0.4 2.8-3.7-1.5-1.4-7.1,0.7z" fill="#36fd00"/>
<path d="M186.7,98.4l-4.2-4.2-3.9,5.1z" fill="#71ff00"/>
<path d="M73.9,84.6l5.2,1.8 6.2-3.4-5.2-1.7z" fill="#ff7d00"/>
<path d="M165.4,99.6l3.5,3.1 2.3-3.4z" fill="#36fd00"/>
<path d="M163.7,98l2.4,2.1 4.7-0.2 3-4.4-0.7-0.6-7.4,0.3z" fill="#71ff00"/>
<path d="M173.7,95.4l-5-4.3-3.4,4.7z" fill="#b9ff00"/>
<path d="M59.6,84.7l5.2,1.4 6.4-3.2-5.1-1.3z" fill="#ff7d00"/>
<path d="M153,99.9l1.8,1.5 1-1.5z" fill="#36fd00"/>
<path d="M149.7,97.2l4,3.3 1.7,0 3.3-5-7.9,0.1z" fill="#71ff00"/>
<path d="M158.3,96.1l1.5-2.3-3.4-2.6-2.6,0-3.5,5z" fill="#b9ff00"/>
<path d="M157.1,91.7l-2.4-1.8-1.3,1.9z" fill="#fffb00"/>
<path d="M155.4,90.8L154.4,90.8" class="cl"/>
<path d="M135.4,96l5.2,4.5 3.5-4.8z" fill="#71ff00"/>
<path d="M135.6,96.1l0.5,0.5 7.5-0.3 2.2-3-2.3-1.9-4.5,0.1z" fill="#b9ff00"/>
<path d="M144.2,92l-3.4-2.8-2.2,2.9z" fill="#fffb00"/>
<path d="M142.5,91L139.7,91.1" class="cl"/>
<path d="M121.3,93.4l5.1,3.5 5.5-4.4-1.4-0.9-8,0.8z" fill="#b9ff00"/>
<path d="M131.3,92.1l-4.5-2.9-4.9,3.8z" fill="#fffb00"/>
<path d="M129.3,91.1L124,91.7" class="cl"/>
<path d="M106.9,90.2l5.2,2.7 5.9-2.1-5.2-2.8z" fill="#fffb00"/>
<path d="M199.9,126.2l1,2.4 3.5-4z" fill="#0085ff"/>
<path d="M198.4,122.7l1.8,4 3.7-1.4 1.6-1.8-1.2-2.9z" fill="#00caff"/>
<path d="M196.9,119.2l1.8,4.1 5.8-2.2-1.7-4z" fill="#00ebe8"/>
<path d="M196.1,117.3l1.1,2.5 5.8-2.1-1.7-4-2.7,1z" fill="#00fcc6"/>
<path d="M201.6,114.3l-0.8-1.9-2.8,3z" fill="#00ff8a"/>
<path d="M197.3,119.3L202.6,117.4" class="cl"/>
<path d="M92.7,87.3l5.1,2.9 6-2.3-5.1-3z" fill="#ffc100"/>
<path d="M185.9,110.4l1.6,2.6 2.5-3.4z" fill="#00f94c"/>
<path d="M183.5,106.7l2.7,4.3 3.3-0.7 2.8-3.8-0.8-1.3z" fill="#00f20f"/>
<path d="M182.5,105.2l1.4,2.1 7.9-1.5-2.7-4.2-4.5,0.8z" fill="#17f500"/>
<path d="M189.4,102.1l-2.1-3.3-3.3,4.3z" fill="#36fd00"/>
<path d="M183.8,106.6L191.1,105.2" class="cl"/>
<path d="M81.1,87.1l2.4,1.1 2.3-1.4z" fill="#ffc100"/>
<path d="M78.3,86.1l3.6,1.4 3.2-0.2 4.5-2.4-5.1-2.1z" fill="#ff7d00"/>
<path d="M169.8,103.6l3.8,4.1 3-4.6z" fill="#17f500"/>
<path d="M168.5,102.3l1.8,1.9 5.9-0.4 2.3-3.5-1.4-1.5-6.6,0.5z" fill="#36fd00"/>
<path d="M177.6,99.4l-4.2-4.3-3.4,4.9z" fill="#71ff00"/>
<path d="M64,85.9l5.1,1.7 6.4-3.1-5.2-1.8z" fill="#ff7d00"/>
<path d="M157.7,104.1l1.8,1.7 1.2-1.8z" fill="#17f500"/>
<path d="M154.3,101l4,3.7 2-0.1 3.1-5-8.3,0.3z" fill="#36fd00"/>
<path d="M163,100.2l1.5-2.3-2.9-2.5-3.6,0.1-3.3,5z" fill="#71ff00"/>
<path d="M162.3,96l-2.9-2.6-1.8,2.7z" fill="#b9ff00"/>
<path d="M140.3,100.2l5,4.4 3.2-4.6z" fill="#36fd00"/>
<path d="M140.2,100.1l0.7,0.7 7.1-0.2 2.5-3.5-1.8-1.5-5.4,0.1z" fill="#71ff00"/>
<path d="M149.4,96.2l-4-3.3-2.5,3.4z" fill="#b9ff00"/>
<path d="M126.9,97.2l4.1,3.4 5.4-4.6z" fill="#71ff00"/>
<path d="M125.9,96.5l1.6,1.3 8.3-1.2 0.6-0.5-5-4zM115.5,94.8l1.2,0.7 5.8-2.1-1.5-0.9z" fill="#b9ff00"/>
<path d="M111.4,92.5l4.8,2.7 5.4-2.3-4.3-2.5z" fill="#fffb00"/>
<path d="M114.7,94L119.5,92" class="cl"/>
<path d="M100,91.3l2.3,1.3 6-2.3-2-1.1z" fill="#fffb00"/>
<path d="M97.1,89.8l3.6,1.9 6.4-2.1-4-2.1z" fill="#ffc100"/>
<path d="M190.7,121l1.4,3.2 3.1-4.5z" fill="#00ebe8"/>
<path d="M189.3,117.5l1.7,4 3.7-1 2.1-3.1-0.7-1.8z" fill="#00fcc6"/>
<path d="M187.9,114l1.6,4.1 6.8-1.9-1.7-4.1z" fill="#00ff8a"/>
<path d="M187.2,112.4l0.9,2.2 6.8-1.9-1.7-4-4.1,1.1z" fill="#00f94c"/>
<path d="M193.4,109.3l-1.4-3.5-3.4,4.7z" fill="#00f20f"/>
<path d="M191.1,121.1L194.6,120.1" class="cl"/>
<path d="M82.8,87.8l5.1,2.8 6.1-3.2-2.8-1.5-6.3,0.8z" fill="#ffc100"/>
<path d="M92,86.3l-3.1-1.7-4.7,2.7z" fill="#ff7d00"/>
<path d="M177.2,111.6l1.2,1.2 0.8-1.3z" fill="#00f94c"/>
<path d="M173.5,107.6l4.3,4.6 1.1-0.1 3.2-5.1z" fill="#00f20f"/>
<path d="M173.2,107.3l0.8,0.9 7.7-0.6 1.5-2.5-2.2-2.3-5.1,0.4z" fill="#17f500"/>
<path d="M181.5,103.4l-3.4-3.5-2.6,3.9z" fill="#36fd00"/>
<path d="M173.8,107.5L181.8,106.9" class="cl"/>
<path d="M69.8,87.7l3.7,1.5 3-1.7z" fill="#ffc100"/>
<path d="M68.3,87.4l2.3,0.8 5.1-0.2 4.1-2-5.1-1.8z" fill="#ff7d00"/>
<path d="M162,108.2l2.2,2.2 1.5-2.3z" fill="#00f20f"/>
<path d="M159.1,105.4l3.5,3.4 2.7-0.1 3-5-8.4,0.3z" fill="#17f500"/>
<path d="M167.9,104.3l1.3-2.1-2.9-2.7-3.6,0.1-3.2,5z" fill="#36fd00"/>
<path d="M166.9,100.1l-2.8-2.6-1.8,2.7z" fill="#71ff00"/>
<path d="M162.3,108.1L165.4,107.9" class="cl"/>
<path d="M145.2,104.4l4.8,4.2 2.9-4.3z" fill="#17f500"/>
<path d="M144.9,104.2l0.9,0.8 6.7-0.1 2.6-4-1.2-1-6.2,0.1z" fill="#36fd00"/>
<path d="M154.7,100.5l-4.7-3.8-2.7,3.9z" fill="#71ff00"/>
<path d="M132.1,101.6l3.6,3.2 5-4.5z" fill="#36fd00"/>
<path d="M130.6,100.2l2.1,1.9 7.4-1.2 0.9-0.8-4.7-4.2-0.8,0.2z" fill="#71ff00"/>
<path d="M136.8,96.5l-0.8-0.8-1.1,1zM116.1,95.1l5.2,3.5 5.8-2-5.2-3.6z" fill="#b9ff00"/>
<path d="M101.6,92.2l5.3,2.6 6-2.2-5.3-2.7z" fill="#fffb00"/>
<path d="M195.1,131.4l1.6,3.7 3.3-5.1z" fill="#0043ff"/>
<path d="M193.7,128l1.7,4 4.1-1.2 1.9-2.8-0.9-2z" fill="#0085ff"/>
<path d="M192.2,124.5l1.7,4 6.8-2-1.7-4z" fill="#00caff"/>
<path d="M191.8,123.6l0.6,1.4 6.8-1.9-1.7-4-3.2,0.9z" fill="#00ebe8"/>
<path d="M197.8,119.6l-1.3-2.8-2.7,3.9z" fill="#00fcc6"/>
<path d="M197.3,119.3L194.6,120.1" class="cl"/>
<path d="M91.4,92.5l1,0.6 1.2-0.8z" fill="#fffb00"/>
<path d="M87.3,90.3l4.8,2.7 0.8-0.2 5.5-2.9-5.1-2.9z" fill="#ffc100"/>
<path d="M182.2,119.1l0.9,1.4 1-1.7z" fill="#00fcc6"/>
<path d="M179.9,115.4l2.6,4.2 1.2-0.1 3.1-5.2z" fill="#00ff8a"/>
<path d="M178,112.3l2.2,3.6 6.2-0.9 1.5-2.5-1.4-2.2-8,1.2z" fill="#00f94c"/>
<path d="M186.9,110.9l-2.8-4.3-2.8,0.5-3.2,5.1z" fill="#00f20f"/>
<path d="M184.5,107.2l-1.6-2.6-2,3.1z" fill="#17f500"/>
<path d="M183.8,106.6L181.8,106.9" class="cl"/>
<path d="M72.7,88.9l5.2,2.1 6.3-3.2-2.2-0.9-6.4,0.5z" fill="#ffc100"/>
<path d="M82.8,87.3l-3.8-1.6-4.2,2.3z" fill="#ff7d00"/>
<path d="M165.9,112.2l3.1,3.5 2.2-3.8z" fill="#00f94c"/>
<path d="M163.8,109.9l2.6,2.9 4.4-0.3 2.9-4.9-8.8,0.5z" fill="#00f20f"/>
<path d="M173.4,108.2l0.5-1-3.4-3.6-2.9,0.1-3,5z" fill="#17f500"/>
<path d="M171.1,104.2l-2.3-2.5-1.6,2.7z" fill="#36fd00"/>
<path d="M173.4,107.5L165.4,107.9" class="cl"/>
<path d="M150,108.7l4.7,4.7 3.2-5z" fill="#00f20f"/>
<path d="M149.6,108.2l1,1.1 6.9-0.3 2.3-3.7-1.3-1.3-6.3,0.3z" fill="#17f500"/>
<path d="M159.1,104.6l-4.4-4.1-2.9,4.4z" fill="#36fd00"/>
<path d="M150.3,108.6L157.6,108.2" class="cl"/>
<path d="M136.9,105.8l3.5,3.2 4.7-4.4z" fill="#17f500"/>
<path d="M135.2,104.4l2.2,1.9 7.1-1 1.2-1.2-4.6-3.9-1.3,0.2z" fill="#36fd00"/>
<path d="M141.7,100.7l-1.1-1-1.4,1.3zM122.4,99.5l3.5,2.8 5.7-2-4-3.2z" fill="#71ff00"/>
<path d="M120.7,98.2l2.2,1.7 5.3-2.4-1.7-1.3zM110.8,96.9l0.7,0.4 5.9-2.1-1.2-0.7z" fill="#b9ff00"/>
<path d="M106.2,94.4l5.2,2.9 5.5-2.4-4.7-2.7z" fill="#fffb00"/>
<path d="M109.8,96.1L114.7,94" class="cl"/>
<path d="M91.8,92.8l5.2,2.8 6-3.4-2.2-1.1-8.1,1.2z" fill="#fffb00"/>
<path d="M101.6,91.5l-3.8-2-5.8,3.3z" fill="#ffc100"/>
<path d="M186.7,129.6l0.9,2.4 1.8-3z" fill="#0085ff"/>
<path d="M185.3,126.1l1.6,4.1 2-0.5 3.1-5.2z" fill="#00caff"/>
<path d="M183.9,122.6l1.6,4.1 6-1.5 1-1.6-1.2-2.8z" fill="#00ebe8"/>
<path d="M182.7,119.9l1.4,3.3 7.5-1.8-1.7-4.1-6.6,1.6z" fill="#00fcc6"/>
<path d="M190.1,117.9l-1.6-4-2.5,0.5-3.1,5.2z" fill="#00ff8a"/>
<path d="M188.7,114.4l-1.1-2.6-2,3.4z" fill="#00f94c"/>
<path d="M184.2,122.7L191.1,121.1" class="cl"/>
<path d="M77.2,90.7l5.2,2.8 6.2-3.2-5.1-2.8z" fill="#ffc100"/>
<path d="M173,120.2l0.8,0.9 0.5-0.9z" fill="#00fcc6"/>
<path d="M169.4,116.2l4.1,4.6 0.4,0 2.8-5z" fill="#00ff8a"/>
<path d="M168.6,115.2l1.4,1.6 6.4-0.4 2.3-4.1-0.7-0.7-7.5,0.4z" fill="#00f94c"/>
<path d="M178.5,112.1l-4.2-4.5-1.3,0-2.9,5z" fill="#00f20f"/>
<path d="M174.8,108.1l-1.3-1.4-0.9,1.6z" fill="#17f500"/>
<path d="M173.8,107.5L173.4,107.5" class="cl"/>
<path d="M158.1,116.9l1.4,1.4 0.9-1.5z" fill="#00ff8a"/>
<path d="M154.2,112.8l4.5,4.7 1.3-0.1 3-5z" fill="#00f94c"/>
<path d="M154.3,112.9l0.4,0.5 8-0.4 1.9-3.1-1.8-1.7-5.6,0.2z" fill="#00f20f"/>
<path d="M163.4,108.7l-4-3.9-2.6,4.2z" fill="#17f500"/>
<path d="M162.3,108.1L157.6,108.2" class="cl"/>
<path d="M141.7,110.1l3.4,3.1 4.4-4.3z" fill="#00f20f"/>
<path d="M139.9,108.6l2.3,2 6.7-1 1.5-1.4-4.4-3.8-1.8,0.3z" fill="#17f500"/>
<path d="M146.6,104.9l-1.4-1.2-1.6,1.6z" fill="#36fd00"/>
<path d="M141.9,109.9L149.4,108.7" class="cl"/>
<path d="M127.8,103.9l2.8,2.5 5.7-1.9-3.5-3.1z" fill="#36fd00"/>
<path d="M125.4,101.8l2.9,2.5 5-2.5-2.2-1.9z" fill="#71ff00"/>
<path d="M110.8,96.9l5.3,3.5 5.9-2-5.2-3.6z" fill="#b9ff00"/>
<path d="M96.3,95.2l5.3,2.8 5.9-3.6-5.2-2.5z" fill="#fffb00"/>
<path d="M100.7,97.2L102.7,97" class="cl"/>
<path d="M191.1,140.2l1.2,2.9 2.1-3.8z" fill="#3508f4"/>
<path d="M189.6,136.7l1.7,4 2.7-0.6 2.8-5.2z" fill="#0a0ffd"/>
<path d="M188.1,133.2l1.7,4 6.7-1.6 0.6-1.1-1.4-3.2z" fill="#0043ff"/>
<path d="M187.3,131.3l1.1,2.4 7.6-1.9-1.8-4-5.6,1.4z" fill="#0085ff"/>
<path d="M194.5,128.4l-1.7-4.1-1.6,0.4-3.1,5.2z" fill="#00caff"/>
<path d="M193,124.9l-0.8-2-1.5,2.5z" fill="#00ebe8"/>
<path d="M190.1,137L196.2,135.5" class="cl"/>
<path d="M83.2,93.9l3.7,2.1 6.2-3.2-0.8-0.5z" fill="#fffb00"/>
<path d="M81.7,93.1l2.2,1.2 9.1-1.5-5.1-2.8z" fill="#ffc100"/>
<path d="M177.7,127.7l0.8,1.3 0.8-1.5z" fill="#00caff"/>
<path d="M175.4,124l2.6,4.3 1-0.2 2.6-5z" fill="#00ebe8"/>
<path d="M173.4,120.6l2.4,3.9 5.5-0.7 2.1-3.9-0.6-0.9-9.2,1.2z" fill="#00fcc6"/>
<path d="M183.2,119.5l-2.7-4.2-4.5,0.6-2.8,5z" fill="#00ff8a"/>
<path d="M180.9,115.8l-2.6-4-2.6,4.7z" fill="#00f94c"/>
<path d="M175.8,124.1L181.2,123.4" class="cl"/>
<path d="M161.7,120.9l2.6,3.1 1.9-3.4z" fill="#00fcc6"/>
<path d="M159.1,117.9l3.1,3.6 3.6-0.2 2.9-5-9,0.6z" fill="#00ff8a"/>
<path d="M168.3,116.9l1-1.7-2.7-3-4.3,0.3-3,5z" fill="#00f94c"/>
<path d="M167.1,112.8l-3-3.4-2.2,3.7z" fill="#00f20f"/>
<path d="M146.2,114.3l3.7,3.8 5.3-5.3z" fill="#00f94c"/>
<path d="M144.7,112.8l2,2.1 7.9-1.4 0.5-0.6-4.3-4.2-2.2,0.3z" fill="#00f20f"/>
<path d="M151.4,109.2l-1.4-1.4-2,1.9z" fill="#17f500"/>
<path d="M150.3,108.6L149.4,108.7" class="cl"/>
<path d="M132.7,108.2l2.7,2.4 5.6-1.9-3.4-3z" fill="#17f500"/>
<path d="M130.1,105.9l3.1,2.7 4.9-2.5-2.3-2.1z" fill="#36fd00"/>
<path d="M117.7,101.6l3.1,2.4 5.8-2-3.6-2.8z" fill="#71ff00"/>
<path d="M115.5,100l2.8,2 5.2-2.4-2.1-1.7zM101.5,97.9l4.7,2.9 5.9-3.9-0.6-0.3z" fill="#b9ff00"/>
<path d="M101,97.7l1.2,0.7 10.1-1.3-5.4-3z" fill="#fffb00"/>
<path d="M109.8,96.1L102.7,97" class="cl"/>
<path d="M86.3,95.6l5.2,2.9 6.1-3.3-5.2-2.8z" fill="#fffb00"/>
<path d="M182.1,138.3l1,2.6 1.6-3.2z" fill="#0a0ffd"/>
<path d="M180.7,134.8l1.6,4.1 2-0.5 2.6-5z" fill="#0043ff"/>
<path d="M179.3,131.3l1.6,4.1 5.7-1.3 1.4-2.8-0.7-1.8z" fill="#0085ff"/>
<path d="M178.1,128.4l1.4,3.4 8-1.7-1.6-4.1-7.3,1.6z" fill="#00caff"/>
<path d="M186.1,126.6l-1.7-4.1-3.5,0.8-2.7,5z" fill="#00ebe8"/>
<path d="M184.7,123.1l-1.6-3.9-2.6,4.7z" fill="#00fcc6"/>
<path d="M182.5,138.7L184,138.3M184.2,122.7L181.2,123.4" class="cl"/>
<path d="M165.1,124.9l4,4.8 2.8-5.2z" fill="#00ebe8"/>
<path d="M163.8,123.5l1.8,2 6-0.4 2.5-4.6-0.3-0.3-8.4,0.5z" fill="#00fcc6"/>
<path d="M174.3,120.8l-4.1-4.6-2.3,0.1-2.8,5z" fill="#00ff8a"/>
<path d="M170.7,116.8l-1.8-2.1-1.3,2.2z" fill="#00f94c"/>
<path d="M165.6,125.1L171.4,124.7" class="cl"/>
<path d="M154,122.6l0.6,0.7 0.9-1z" fill="#00fcc6"/>
<path d="M150.2,118.5l4.3,4.6 0.4-0.1 4.9-5.2-0.9-0.9z" fill="#00ff8a"/>
<path d="M149.4,117.7l1.2,1.3 8.8-1.6-4.4-4.6-0.7,0.1z" fill="#00f94c"/>
<path d="M155.5,113.3l-0.8-0.8-1,1.1zM137.7,112.6l2.4,2.2 5.6-1.9-3.3-3z" fill="#00f20f"/>
<path d="M134.8,110.1l3.4,2.9 4.7-2.6-2.4-2.2z" fill="#17f500"/>
<path d="M137.7,112.2L141.9,109.9" class="cl"/>
<path d="M123.2,106.1l2.3,2 5.8-1.9-3-2.6z" fill="#36fd00"/>
<path d="M120.3,103.5l3.4,3 5.1-2.5-2.7-2.4zM109,102.9l1.9,1.3 2.5-1.9z" fill="#71ff00"/>
<path d="M105.7,100.5l4,2.9 3-0.5 4-2.8-5.2-3.5zM92.8,99.3l3.3,2 5-3.1z" fill="#b9ff00"/>
<path d="M90.9,98.2l2.6,1.6 6.9-1.1 1.8-1-5.2-2.8z" fill="#fffb00"/>
<path d="M92.1,98.6L100.7,97.2" class="cl"/>
<path d="M186.4,148.9l1.3,3.5 2.1-4.3z" fill="#7a00de"/>
<path d="M184.9,145.4l1.7,4.1 2.9-0.7 2.5-5z" fill="#5f02eb"/>
<path d="M183.5,141.9l1.7,4.1 6.4-1.5 1-2.1-1-2.4z" fill="#3508f4"/>
<path d="M182.8,140.1l0.9,2.3 8.2-1.8-1.7-4.1-6.3,1.4z" fill="#0a0ffd"/>
<path d="M190.4,137.1l-1.7-4.1-2.5,0.6-2.6,5z" fill="#0043ff"/>
<path d="M189,133.6l-1.3-3-1.9,3.7z" fill="#0085ff"/>
<path d="M190.1,137L184,138.3" class="cl"/>
<path d="M172.9,136.5l0.9,1.4 0.9-1.7z" fill="#0043ff"/>
<path d="M170.8,132.7l2.5,4.3 1.1-0.1 2.6-5.1z" fill="#0085ff"/>
<path d="M168.6,129l2.5,4.3 5.6-0.8 2.1-4.1-0.5-0.8z" fill="#00caff"/>
<path d="M168.7,129.1l0.2,0.4 9.8-1.3-2.6-4.3-4.9,0.7z" fill="#00ebe8"/>
<path d="M176.4,124.5l-2.7-4.5-2.9,5.2z" fill="#00fcc6"/>
<path d="M175.8,124.1L171.4,124.7" class="cl"/>
<path d="M157.4,126.6l2,2.6 3.2-3.6z" fill="#00ebe8"/>
<path d="M154.3,122.9l3.5,4.2 4.3-0.8 2.5-2.9-2.2-2.5-7.8,1.6z" fill="#00fcc6"/>
<path d="M162.9,121.4l-3.5-4-5.4,5.8z" fill="#00ff8a"/>
<path d="M157.8,126.7L162.1,125.8" class="cl"/>
<path d="M142.1,116.9l2.8,2.8 5.5-1.9-3.5-3.6z" fill="#00f94c"/>
<path d="M139.6,114.3l3,3 4.7-2.7-2.1-2.2z" fill="#00f20f"/>
<path d="M128.3,110.6l2,1.7 5.7-2-2.7-2.4z" fill="#17f500"/>
<path d="M125,107.7l3.8,3.3 5-2.7-3-2.6zM114.8,107.5l0.8,0.6 1-0.9z" fill="#36fd00"/>
<path d="M110.4,103.9l5,4.1 0.5-0.1 5.4-4.2-2.9-2.3-5.9,0.9z" fill="#71ff00"/>
<path d="M119,101.9l-2.8-2.2-4.4,3.3zM95.5,100.9l5.3,3.5 6-3.9-4.4-2.7-2.2,0.4z" fill="#b9ff00"/>
<path d="M103.1,98.3l-1.5-1-2.1,1.4z" fill="#fffb00"/>
<path d="M177.3,147.2l1.1,2.9 1.9-3.6z" fill="#5f02eb"/>
<path d="M175.9,143.6l1.6,4.1 2.4-0.5 2.6-5.1z" fill="#3508f4"/>
<path d="M174.5,140.1l1.6,4.1 6-1.4 1.3-2.7-0.7-1.9z" fill="#0a0ffd"/>
<path d="M173.5,137.3l1.3,3.3 8.1-1.8-1.6-4.1-7.3,1.6z" fill="#0043ff"/>
<path d="M181.5,135.2l-1.6-4.1-3.6,0.8-2.7,5.1z" fill="#0085ff"/>
<path d="M180.1,131.7l-1.6-4-2.6,4.9z" fill="#00caff"/>
<path d="M175,140.4L182.5,138.7" class="cl"/>
<path d="M160.7,130.7l3.6,4.4 5.3-6.3z" fill="#00caff"/>
<path d="M159.1,128.7l2,2.5 8-1.7 0.3-0.4-3.6-4.2-4.1,0.8z" fill="#00ebe8"/>
<path d="M166.3,125.4l-2.1-2.4-3,3.4z" fill="#00fcc6"/>
<path d="M165.6,125.1L162.1,125.8" class="cl"/>
<path d="M153.3,123.5l1.9-0.5-0.6-0.6z" fill="#00fcc6"/>
<path d="M146.1,121l3.6,4 4.5-1.6 0.8-0.5-4.2-4.6z" fill="#00ff8a"/>
<path d="M144.5,119.3l2,2.2 4.7-2.8-1.2-1.3z" fill="#00f94c"/>
<path d="M133.5,115l1.6,1.4 5.7-1.9-2.6-2.2z" fill="#00f20f"/>
<path d="M129.8,111.8l4.2,3.6 4.7-2.7-3.2-2.8z" fill="#17f500"/>
<path d="M133.5,114.6L137.7,112.2" class="cl"/>
<path d="M119.5,111.8l0.8,0.8 1.1-1z" fill="#17f500"/>
<path d="M115.1,107.7l5,4.7 0.7-0.2 5.2-4.4-2.2-1.9-8.1,1.4z" fill="#36fd00"/>
<path d="M124.4,106.4l-3.5-3.1-5.9,4.6zM100.6,104.3l4.9,3.9 5.9-4.3-1.6-1.2z" fill="#71ff00"/>
<path d="M100.2,104l1.1,0.8 9.2-1.6-4.3-3.1z" fill="#b9ff00"/>
<path d="M181.5,157.8l1.6,4.2 2.5-5.2z" fill="#9c00bc"/>
<path d="M180.1,154.3l1.6,4.1 3.6-0.9 2.4-5z" fill="#8b00cd"/>
<path d="M178.7,150.7l1.6,4.1 7.1-1.6 0.7-1.6-1.2-2.8z" fill="#7a00de"/>
<path d="M178.1,149.3l0.8,2 8.3-1.9-1.7-4.1-6,1.3z" fill="#5f02eb"/>
<path d="M185.7,145.8l-1.6-4.1-2.4,0.6-2.6,5z" fill="#3508f4"/>
<path d="M184.3,142.3l-1.2-2.9-1.7,3.6z" fill="#0a0ffd"/>
<path d="M180.6,154.8L186.9,153.4" class="cl"/>
<path d="M168.3,142.2l0.8,1.3 1.5-1.9z" fill="#0a0ffd"/>
<path d="M166.1,138.5l2.5,4.3 1.4-0.5 4.1-5-0.5-1z" fill="#0043ff"/>
<path d="M164,134.7l2.4,4.3 7.5-2.1-2.5-4.3z" fill="#0085ff"/>
<path d="M163.9,134.6l0.4,0.6 7.4-2.1-2.5-4.2-0.5,0.1z" fill="#00caff"/>
<path d="M169.5,129.4l-0.4-0.8-0.9,1.1z" fill="#00ebe8"/>
<path d="M168.8,142.5L169.7,142.3" class="cl"/>
<path d="M153.3,129.3l1.3,1.5 5.4-2-2-2.4z" fill="#00ebe8"/>
<path d="M149.9,125.2l3.8,4.6 4.7-2.9-3.7-4.4-0.8,0.3z" fill="#00fcc6"/>
<path d="M149.3,124.5l1,1.2 4.5-3z" fill="#00ff8a"/>
<path d="M153.6,129.2L157.8,126.7" class="cl"/>
<path d="M137.8,119.3l2.1,2.2 5.6-2-2.8-2.9z" fill="#00f94c"/>
<path d="M134.6,116l3.7,3.8 4.8-2.8-2.8-2.9zM124.3,116.3l0.8,0.7 1.1-1z" fill="#00f20f"/>
<path d="M119.9,112.2l4.9,4.6 0.8-0.2 5.2-4.7-1.9-1.6-8.4,1.4z" fill="#17f500"/>
<path d="M129.5,110.8l-3.9-3.4-5.8,4.9z" fill="#36fd00"/>
<path d="M124.5,116L126.1,115.7" class="cl"/>
<path d="M106.3,108.9l3.9,3.5 5.9-4.6-0.6-0.5z" fill="#36fd00"/>
<path d="M105,107.8l1.8,1.6 9.4-1.6-5.3-4.3z" fill="#71ff00"/>
<path d="M172.6,153l1.1,2.9 3.5-4.5z" fill="#7a00de"/>
<path d="M171.2,149.4l1.6,4.2 3.9-1.5 2.1-2.7-0.9-2.4z" fill="#5f02eb"/>
<path d="M169.9,145.8l1.6,4.2 6.6-2.5-1.6-4.1z" fill="#3508f4"/>
<path d="M168.8,143l1.3,3.4 6.6-2.4-1.6-4.1-5.4,1.9z" fill="#0a0ffd"/>
<path d="M175.3,140.5l-1.4-3.8-4.7,5.9z" fill="#0043ff"/>
<path d="M175,140.4L169.7,142.3" class="cl"/>
<path d="M156.7,133.4l2.7,3.4 5.4-2.1-3.5-4.3z" fill="#00caff"/>
<path d="M154.2,130.3l2.8,3.5 4.7-2.9-2.1-2.6z" fill="#00ebe8"/>
<path d="M141.8,123.6l3,3.2 5.5-2-3.7-4.1z" fill="#00ff8a"/>
<path d="M139.5,121l2.7,3 4.8-2.8-1.9-2.2zM129.1,120.7l0.9,0.8 1.1-1.1z" fill="#00f94c"/>
<path d="M124.7,116.6l4.9,4.6 0.9-0.1 5.1-5-1.5-1.3-8.8,1.3z" fill="#00f20f"/>
<path d="M134.7,115.3l-4.4-3.8-5.6,5.2z" fill="#17f500"/>
<path d="M133.5,114.6L126.1,115.7" class="cl"/>
<path d="M111.1,113.4l3.9,3.8 5.8-5-0.5-0.5z" fill="#17f500"/>
<path d="M109.8,112l1.9,1.9 9.1-1.7-5.2-4.8z" fill="#36fd00"/>
<path d="M176.8,163.7l1.7,4.4 4.9-6.8z" fill="#a800b0"/>
<path d="M175.4,160.2l1.6,4.1 5.9-2.3 0.6-0.7-1.4-3.7z" fill="#9c00bc"/>
<path d="M174,156.6l1.6,4.1 6.7-2.5-1.6-4.1z" fill="#8b00cd"/>
<path d="M173.5,155.3l0.7,1.8 6.7-2.5-1.6-4.1-3,1.1z" fill="#7a00de"/>
<path d="M179.5,151.1l-0.9-2.4-2.8,3.7z" fill="#5f02eb"/>
<path d="M174.5,157.1L180.6,154.8" class="cl"/>
<path d="M164.8,144.9l4.7-1.7-0.6-1.2z" fill="#0a0ffd"/>
<path d="M161.9,141.2l2.4,4.1 1.4-0.6 3.5-2.2-2.5-4.3z" fill="#0043ff"/>
<path d="M159.7,137.4l2.5,4.3 4.8-3-2.5-4.2z" fill="#0085ff"/>
<path d="M159.1,136.3l0.9,1.6 4.8-2.9-0.4-0.8z" fill="#00caff"/>
<path d="M166.3,144.1L168.8,142.5" class="cl"/>
<path d="M149,131.9l0.7,0.8 5.5-2.1-1.4-1.6z" fill="#00ebe8"/>
<path d="M145.6,127.7l3.8,4.7 4.8-3-3.8-4.5z" fill="#00fcc6"/>
<path d="M144.4,126.3l1.6,1.9 4.8-2.8-0.9-1.1z" fill="#00ff8a"/>
<path d="M149.4,131.8L153.6,129.2" class="cl"/>
<path d="M133,124.9l1.8,2.1 2.6-2.8z" fill="#00ff8a"/>
<path d="M129.6,121.1l3.9,4.4 3.3-0.6 3.6-3.8-2-2-8.2,1.4z" fill="#00f94c"/>
<path d="M138.9,119.6l-3.7-3.9-5.6,5.5zM115.5,117.7l4.3,4.3 5.8-5.4-0.6-0.5z" fill="#00f20f"/>
<path d="M114.6,116.8l1.4,1.4 9.6-1.6-5.2-4.8z" fill="#17f500"/>
<path d="M115.7,117.5L124.5,116" class="cl"/>
<path d="M168.3,155.9l0.7,1.8 5.2-2.2-1.1-2.8z" fill="#7a00de"/>
<path d="M166.9,152.2l1.6,4.2 4.9-3.1-1.6-4.2z" fill="#5f02eb"/>
<path d="M165.5,148.6l1.6,4.2 4.9-3.1-1.6-4.1z" fill="#3508f4"/>
<path d="M164.1,145l1.6,4.2 4.9-3.1-1.3-3.5-3.9,1.6z" fill="#0a0ffd"/>
<path d="M164,144.8l0.3,0.7 2-1.4z" fill="#0043ff"/>
<path d="M164.5,145.2L166.3,144.1" class="cl"/>
<path d="M152.4,136.1l2.2,2.6 5.4-2.1-2.8-3.5z" fill="#00caff"/>
<path d="M149.3,132.2l3.5,4.3 4.7-3-2.7-3.4z" fill="#00ebe8"/>
<path d="M136.7,129.2l3,3.6 4.3-4.9z" fill="#00fcc6"/>
<path d="M134.5,126.5l2.6,3.2 6.3-1.1 1.9-2.2-2.9-3.1-5.9,1z" fill="#00ff8a"/>
<path d="M142.9,123.8l-2.9-3.1-4.1,4.3zM119.9,122.1l4.8,4.8 5.7-5.8-0.6-0.5z" fill="#00f94c"/>
<path d="M119.4,121.6l1,1 10-1.5-5.2-4.9z" fill="#00f20f"/>
<path d="M172.5,166.7l1.3,3.4 5.1-2.5-1.6-4.2z" fill="#a800b0"/>
<path d="M171.1,163.1l1.6,4.2 4.8-3.3-1.6-4.1z" fill="#9c00bc"/>
<path d="M169.7,159.5l1.6,4.2 4.8-3.3-1.6-4.1z" fill="#8b00cd"/>
<path d="M168.8,157.2l1.1,2.8 4.8-3.1-0.7-2z" fill="#7a00de"/>
<path d="M170.2,160L174.5,157.1" class="cl"/>
<path d="M157.5,143.9l2,3.4 5.3-2.2-2.4-4.2z" fill="#0043ff"/>
<path d="M155.3,140l2.5,4.4 4.9-3-2.5-4.3z" fill="#0085ff"/>
<path d="M154.2,138.2l1.4,2.4 4.9-3-0.8-1.5zM143.3,137.5l1.4,1.7 1.8-2.3z" fill="#00caff"/>
<path d="M140.1,133.3l3.7,4.7 2.1-0.4 4.2-5.3-0.5-0.7z" fill="#00ebe8"/>
<path d="M139.4,132.3l1.1,1.6 9.5-1.7-3.9-4.7-3,0.5z" fill="#00fcc6"/>
<path d="M146.6,128l-1.7-2-2.4,2.7z" fill="#00ff8a"/>
<path d="M140.6,133.4L149.4,131.8" class="cl"/>
<path d="M127.9,130.8l1.7,2 2.5-2.8z" fill="#00fcc6"/>
<path d="M124.4,126.5l3.9,4.8 3.2-0.6 3.8-4.2-1.6-1.7z" fill="#00ff8a"/>
<path d="M124.3,126.5l0.5,0.6 9.4-1.8-4.2-4.6z" fill="#00f94c"/>
<path d="M163.8,158.7l0.5,1.1 5.3-2.3-0.8-2z" fill="#7a00de"/>
<path d="M162.4,155.1l1.7,4.2 4.9-3.2-1.6-4.2z" fill="#5f02eb"/>
<path d="M161,151.4l1.6,4.2 5-3.1-1.6-4.2z" fill="#3508f4"/>
<path d="M159.6,147.7l1.6,4.3 5-3.1-1.6-4.2z" fill="#0a0ffd"/>
<path d="M159.2,146.7l0.6,1.6 5-3.1-0.2-0.7z" fill="#0043ff"/>
<path d="M160,148L164.5,145.2" class="cl"/>
<path d="M146.5,141.6l3.1,4.1 3.9-5.3z" fill="#0085ff"/>
<path d="M144.3,138.7l2.6,3.4 6.1-1 2.1-2.8-2.1-2.5-7.4,1.3z" fill="#00caff"/>
<path d="M153.4,136.3l-3.7-4.5-4.7,6zM131.2,134.9l3.3,4.3 4.7-5.7z" fill="#00ebe8"/>
<path d="M129.2,132.3l2.5,3.2 6.9-1.3 1.5-1.8-2.8-3.4-6.1,1.2z" fill="#00fcc6"/>
<path d="M137.8,129.6l-2.9-3.5-4.3,4.8z" fill="#00ff8a"/>
<path d="M131.7,135L138.6,133.8" class="cl"/>
<path d="M168.1,169.7l1,2.6 5.3-2.5-1.4-3.4z" fill="#a800b0"/>
<path d="M166.7,166.1l1.6,4.2 4.9-3.3-1.6-4.2z" fill="#9c00bc"/>
<path d="M165.3,162.4l1.6,4.2 4.9-3.3-1.6-4.2z" fill="#8b00cd"/>
<path d="M164.1,159.3l1.4,3.7 4.9-3.3-1-2.8z" fill="#7a00de"/>
<path d="M165.8,162.9L170.2,160" class="cl"/>
<path d="M152.1,149.7l2.5,4 4.5-5.8z" fill="#0a0ffd"/>
<path d="M149.6,145.7l2.8,4.5 6.2-1.6 1.3-1.7-1.8-3.2z" fill="#0043ff"/>
<path d="M149.3,145.2l0.6,1.1 8.5-2.1-2.5-4.4-3.2,0.8z" fill="#0085ff"/>
<path d="M156.2,140.3l-1.5-2.5-2.6,3.5z" fill="#00caff"/>
<path d="M152.6,150L158.2,148.6" class="cl"/>
<path d="M137.4,143.2l2.1,2.9 2.8-3.8z" fill="#0085ff"/>
<path d="M134.4,139.1l3.4,4.7 4-0.8 3.3-4.3-1.1-1.4z" fill="#00caff"/>
<path d="M134.2,138.7l0.6,0.9 9.6-1.7-3.6-4.7-2.5,0.5z" fill="#00ebe8"/>
<path d="M141.2,133.7l-1.4-1.8-2.1,2.5z" fill="#00fcc6"/>
<path d="M140.6,133.4L138.6,133.8" class="cl"/>
<path d="M158.1,161.3l1.3,2.9 5.4-4.7-0.4-1.1z" fill="#7a00de"/>
<path d="M156.3,157.5l2,4.3 6.3-2.8-1.6-4.2z" fill="#5f02eb"/>
<path d="M154.5,153.7l2,4.3 6.7-2.7-1.7-4.2z" fill="#3508f4"/>
<path d="M154.2,153.2l0.5,1 7.1-2.5-1.7-4.2-1.9,0.6z" fill="#0a0ffd"/>
<path d="M160.3,148l-0.6-1.7-2,2.6z" fill="#0043ff"/>
<path d="M160,148L158.2,148.6" class="cl"/>
<path d="M143.3,151.5l1.2,1.6 1.4-2.1z" fill="#0a0ffd"/>
<path d="M140.4,147.3l3.3,4.7 1.8-0.3 4.1-6z" fill="#0043ff"/>
<path d="M139.1,145.6l1.7,2.3 8.3-1.5 0.9-1.2-2.8-3.7-5.7,1z" fill="#0085ff"/>
<path d="M147.6,142l-2.9-3.8-3.8,5z" fill="#00caff"/>
<path d="M143.9,151.8L145.2,151.6" class="cl"/>
<path d="M163.5,172.8l0.8,1.8 5.4-2.6-1.1-2.6z" fill="#a800b0"/>
<path d="M161.7,168.9l2,4.4 5.2-3.3-1.7-4.3z" fill="#9c00bc"/>
<path d="M159.9,165.1l2,4.4 5.5-3.2-1.6-4.2z" fill="#8b00cd"/>
<path d="M159.2,163.6l0.9,2.1 5.9-3-1.4-3.8z" fill="#7a00de"/>
<path d="M160.4,165.6L165.8,162.9" class="cl"/>
<path d="M148.9,159.7l0.6,0.9 0.9-1.2z" fill="#5f02eb"/>
<path d="M146.1,155.6l3.1,4.6 0.6-0.1 4.8-6.4z" fill="#3508f4"/>
<path d="M144.1,152.6l2.4,3.5 7.6-1.7 0.9-1.2-2.3-3.6-7.6,1.6z" fill="#0a0ffd"/>
<path d="M153,150.1l-2.8-4.5-1.4,0.3-4.2,6z" fill="#0043ff"/>
<path d="M150.6,146.1l-1-1.5-1.3,2z" fill="#0085ff"/>
<path d="M152.6,150L145.2,151.6" class="cl"/>
<path d="M153.9,167.8l0.5,0.9 1.7-1.7z" fill="#8b00cd"/>
<path d="M151.4,163.8l2.8,4.5 1.3-0.5 4.4-4-1.3-2.7z" fill="#7a00de"/>
<path d="M149.1,160l2.6,4.3 7.2-2.7-2.1-4.3-7.3,2.3z" fill="#5f02eb"/>
<path d="M157.1,157.8l-2.1-4.3-1.3,0.4-4.8,6.4z" fill="#3508f4"/>
<path d="M155.3,154l-0.7-1.4-1.4,2z" fill="#0a0ffd"/>
<path d="M158.8,175.9l0.6,1 5.5-2.6-0.9-1.9z" fill="#a800b0"/>
<path d="M156.3,171.9l2.8,4.6 5.1-3.5-2-4.3z" fill="#9c00bc"/>
<path d="M154.1,168.2l2.5,4.2 5.8-3.2-2-4.3-5.2,2.4z" fill="#8b00cd"/>
<path d="M160.7,165.4l-1.1-2.2-5,4.8z" fill="#7a00de"/>
<path d="M154.5,168.4L160.4,165.6" class="cl"/>
</g>
<path d="M50.7,154.4L45.7,25.7M50.7,154.4L159.3,187.7M159.3,187.7L226,144.5M50.7,154.4L48.1,156M59.5,157.1L56.9,158.7M68.4,159.9L65.9,161.5M77.6,162.7L75.1,164.3M87,165.5L84.5,167.2M96.7,168.5L94.1,170.1M106.5,171.5L104,173.1M116.6,174.6L114.1,176.2M126.9,177.7L124.4,179.4M137.4,181L134.9,182.6M148.3,184.3L145.7,185.9M159.3,187.7L156.8,189.3M159.3,187.7L162.2,188.5M170.4,180.5L173.3,181.4M180.9,173.7L183.8,174.6M190.9,167.3L193.7,168.2M200.3,161.2L203.2,162.1M209.3,155.4L212.2,156.2M217.9,149.8L220.7,150.7M226,144.5L228.9,145.4M50.4,148.1L47.7,149.3M49.7,128.7L46.9,129.9M48.9,108.9L46.2,110.1M48.1,88.7L45.4,89.9M47.4,68.1L44.6,69.3M46.6,47L43.8,48.3M45.7,25.6L43,26.8" class="ax"/>
<text class="zt" font-size="12.4" transform="matrix(0.680,-0.102,0,1,47.4,150.8)" text-anchor="end" y="4.1">-0.04</text>
<text class="zt" font-size="12.4" transform="matrix(0.680,-0.102,0,1,46.6,131.4)" text-anchor="end" y="4.1">-0.02</text>
<text class="zt" font-size="12.4" transform="matrix(0.680,-0.102,0,1,45.8,111.6)" text-anchor="end" y="4.1">0.00</text>
<text class="zt" font-size="12.4" transform="matrix(0.680,-0.102,0,1,45,91.4)" text-anchor="end" y="4.1">0.02</text>
<text class="zt" font-size="12.4" transform="matrix(0.680,-0.102,0,1,44.2,70.8)" text-anchor="end" y="4.1">0.04</text>
<text class="zt" font-size="12.4" transform="matrix(0.680,-0.102,0,1,43.4,49.7)" text-anchor="end" y="4.1">0.06</text>
<text class="zt" font-size="12.4" transform="matrix(0.680,-0.102,0,1,42.5,28.3)" text-anchor="end" y="4.1">0.08</text>
<text class="ttl" font-size="12" transform="translate(21,100.4) rotate(90)" text-anchor="middle" y="3.0">Shape coefficient</text>
<text class="ft" font-size="6.8" transform="matrix(0.461,-0.773,0.861,0.263,48.7,157.7)" text-anchor="end" y="2.2">1</text>
<text class="ft" font-size="6.8" transform="matrix(0.461,-0.773,0.861,0.263,57.5,160.4)" text-anchor="end" y="2.2">2</text>
<text class="ft" font-size="6.8" transform="matrix(0.461,-0.773,0.861,0.263,66.5,163.1)" text-anchor="end" y="2.2">3</text>
<text class="ft" font-size="6.8" transform="matrix(0.461,-0.773,0.861,0.263,75.7,165.9)" text-anchor="end" y="2.2">4</text>
<text class="ft" font-size="6.8" transform="matrix(0.461,-0.773,0.861,0.263,85.1,168.8)" text-anchor="end" y="2.2">5</text>
<text class="ft" font-size="6.8" transform="matrix(0.461,-0.773,0.861,0.263,94.7,171.8)" text-anchor="end" y="2.2">6</text>
<text class="ft" font-size="6.8" transform="matrix(0.461,-0.773,0.861,0.263,104.6,174.8)" text-anchor="end" y="2.2">7</text>
<text class="ft" font-size="6.8" transform="matrix(0.461,-0.773,0.861,0.263,114.6,177.8)" text-anchor="end" y="2.2">8</text>
<text class="ft" font-size="6.8" transform="matrix(0.461,-0.773,0.861,0.263,124.9,181)" text-anchor="end" y="2.2">9</text>
<text class="ft" font-size="6.8" transform="matrix(0.461,-0.773,0.861,0.263,135.5,184.2)" text-anchor="end" y="2.2">10</text>
<text class="ft" font-size="6.8" transform="matrix(0.461,-0.773,0.861,0.263,146.3,187.5)" text-anchor="end" y="2.2">11</text>
<text class="ft" font-size="6.8" transform="matrix(0.461,-0.773,0.861,0.263,157.4,190.9)" text-anchor="end" y="2.2">12</text>
<text class="ft" font-size="6.8" transform="matrix(0.655,0.617,-0.756,0.489,162.1,190.3)" text-anchor="start" y="2.2">8</text>
<text class="ft" font-size="6.8" transform="matrix(0.655,0.617,-0.756,0.489,173.2,183.1)" text-anchor="start" y="2.2">7</text>
<text class="ft" font-size="6.8" transform="matrix(0.655,0.617,-0.756,0.489,183.7,176.3)" text-anchor="start" y="2.2">6</text>
<text class="ft" font-size="6.8" transform="matrix(0.655,0.617,-0.756,0.489,193.6,169.9)" text-anchor="start" y="2.2">5</text>
<text class="ft" font-size="6.8" transform="matrix(0.655,0.617,-0.756,0.489,203.1,163.8)" text-anchor="start" y="2.2">4</text>
<text class="ft" font-size="6.8" transform="matrix(0.655,0.617,-0.756,0.489,212.1,158)" text-anchor="start" y="2.2">3</text>
<text class="ft" font-size="6.8" transform="matrix(0.655,0.617,-0.756,0.489,220.6,152.4)" text-anchor="start" y="2.2">2</text>
<text class="ft" font-size="6.8" transform="matrix(0.655,0.617,-0.756,0.489,228.8,147.2)" text-anchor="start" y="2.2">1</text>
<text class="ttl" font-size="10" transform="translate(91.9,181.8) rotate(17.3) skewX(-25.0) scale(1.000,0.720)" text-anchor="middle" y="2.5" style="white-space:pre" xml:space="preserve">Number of columns of PV modules</text>
<text class="ttl" font-size="10" transform="translate(207.5,172.5) rotate(-33.5) skewX(0.0) scale(0.716,1.000)" text-anchor="middle" y="2.5" style="white-space:pre" xml:space="preserve">Number of  rows of PV modules</text>
</g>
<g id="plot-d">
<path d="M341.8,141.2L444.6,121.9M444.6,121.9L446.1,11M346.1,144.6L450,124.8M450,124.8L451.9,12.3M350.6,148.1L455.6,127.7M455.6,127.7L457.8,13.6M355.2,151.8L461.3,130.7M461.3,130.7L463.8,15M359.9,155.6L467.2,133.8M467.2,133.8L470.1,16.4M364.8,159.5L473.3,137M473.3,137L476.6,17.8M369.9,163.5L479.6,140.3M479.6,140.3L483.3,19.3M375.2,167.7L486.1,143.6M486.1,143.6L490.2,20.9M380.6,172.1L492.7,147.1M492.7,147.1L497.4,22.5M386.3,176.6L499.7,150.8M499.7,150.8L504.8,24.1M392.1,181.3L506.8,154.5M506.8,154.5L512.5,25.9M398.2,186.1L514.2,158.4M514.2,158.4L520.5,27.6M341.8,141.2L398.2,186.1M341.8,141.2L337.4,19.5M357.8,138.2L416.5,181.8M357.8,138.2L354.4,18.2M373.3,135.3L434.2,177.5M373.3,135.3L370.8,16.9M388.3,132.5L451.2,173.4M388.3,132.5L386.8,15.7M403,129.7L467.7,169.5M403,129.7L402.2,14.5M417.2,127.1L483.7,165.7M417.2,127.1L417.3,13.3M431.1,124.5L499.2,162M431.1,124.5L431.9,12.1M444.6,121.9L514.2,158.4M444.6,121.9L446.1,11M341.4,130.3L444.8,112M444.8,112L514.7,146.7M341,118.5L444.9,101.2M444.9,101.2L515.3,134.1M340.6,106.6L445.1,90.3M445.1,90.3L516,121.3M340.1,94.5L445.2,79.3M445.2,79.3L516.6,108.4M339.7,82.3L445.4,68.1M445.4,68.1L517.2,95.3M339.3,70L445.5,56.9M445.5,56.9L517.9,82M338.8,57.5L445.7,45.5M445.7,45.5L518.5,68.6M338.3,44.8L445.8,34M445.8,34L519.2,55M337.9,32L446,22.4M446,22.4L519.8,41.2M337.4,19.1L446.1,10.7M446.1,10.7L520.5,27.2" class="grid"/>
<path d="M337.4,19.5L446.1,11M446.1,11L520.5,27.6M520.5,27.6L514.2,158.4" class="frame"/>
<path d="M341.8,141.2L444.6,121.9M444.6,121.9L514.2,158.4" class="frame2"/>
<path d="M446.1,11L444.6,121.9" class="frame3"/>
<g>
<path d="M430.6,70l2.3,0.4 14.4,0.2 4.5-0.2-6.4-2.6z" fill="#66fb00"/>
<path d="M432.1,70.1l4,0.5 3.1,0.1 8.9-0.4z" fill="#79fd00"/>
<path d="M435.2,70.3l1.7,0.4 3.1-0.3z" fill="#8fff00"/>
<path d="M433.8,70.2l-2.4,0.1-1.6-0.9z" fill="#66fb00"/>
<path d="M436.9,70.5l-4-0.1-2.3-0.5-2.7-1.2z" fill="#79fd00"/>
<path d="M435.8,69.6l2,1-1.8,0-7.3-1.4-2.6-1.3z" fill="#8fff00"/>
<path d="M434.2,68.8l2.4,1.3-9.8-1.6-2.6-1.3z" fill="#acff00"/>
<path d="M432.5,68l2.4,1.3-10-1.6-2.6-1.2z" fill="#caff00"/>
<path d="M430.9,67.2l2.4,1.3-10.3-1.5-2.7-1.3z" fill="#e7ff00"/>
<path d="M429.2,66.4l2.4,1.4-10.5-1.6-2.7-1.2z" fill="#fff900"/>
<path d="M427.6,65.6l2.4,1.4-10.8-1.5-2.7-1.3z" fill="#ffd900"/>
<path d="M416.4,64.3l2.6-0.5 6.9,1 2.4,1.4-11.1-1.5z" fill="#ffb800"/>
<path d="M418.2,64.1l2.7-0.6 3.3,0.5 2.4,1.4z" fill="#ff9800"/>
<path d="M420,63.9l2.6-0.6 2.3,1.3z" fill="#ff7800"/>
<path d="M435.1,69.5L426.1,67.9M430.3,67.3L420.6,65.7M419.4,64.1L425.5,65" class="cl"/>
<path d="M453.8,72.6l3.7,0-6.5-2.7-4.6,0.3z" fill="#66fb00"/>
<path d="M447.7,72.5l7,0-7.4-2.5-9,0.3z" fill="#79fd00"/>
<path d="M436.1,70.3l6.4,2 6.1,0-9.4-2.2z" fill="#8fff00"/>
<path d="M403.4,65.6l0-0.2 16.5-1.4-2.6,0.7z" fill="#ffb800"/>
<path d="M402.6,65.7l3.1,0.2 14.3-1.9-1-0.2z" fill="#ff9800"/>
<path d="M404.8,65.6l2.9,0.2 14-2.1-0.9-0.2z" fill="#ff7800"/>
<path d="M403.8,65.6L419.4,64.1" class="cl"/>
<path d="M442.4,71.6l0.9,0.7-6.5-1.6-1.8-1.2z" fill="#8fff00"/>
<path d="M440.7,70.8l2.4,1.4-7.5-2.1-2.3-1.3z" fill="#acff00"/>
<path d="M439.1,70.1l2.3,1.3-7.4-2.1-2.3-1.3z" fill="#caff00"/>
<path d="M437.4,69.3l2.4,1.3-7.5-2-2.3-1.4z" fill="#e7ff00"/>
<path d="M435.7,68.5l2.4,1.3-7.4-2-2.4-1.4z" fill="#fff900"/>
<path d="M434.1,67.7l2.3,1.4-7.4-2.1-2.3-1.4z" fill="#ffd900"/>
<path d="M432.4,66.9l2.4,1.3-7.4-2-2.4-1.4z" fill="#ffb800"/>
<path d="M430.7,66l2.4,1.4-7.4-2-2.4-1.4z" fill="#ff9800"/>
<path d="M421.8,63.3l1.7,0.2 5.5,1.7 2.4,1.4-7.4-2z" fill="#ff7800"/>
<path d="M422.6,63.6l5.5,1.2 1.6,1z" fill="#ff5800"/>
<path d="M441.6,71.6L435.1,69.5M436.8,69.3L430.3,67.3M432,67L425.5,65" class="cl"/>
<path d="M459.7,74.9l3.7-0.1-6.7-2.7-3.7,0.1z" fill="#66fb00"/>
<path d="M453.5,74.7l7.1,0-6.7-2.7-7,0z" fill="#79fd00"/>
<path d="M441.7,71.9l6.5,2.7 6.2,0-6.6-2.7z" fill="#8fff00"/>
<path d="M386.9,79.8l2.3-0.5-0.2-1.6z" fill="#0eec00"/>
<path d="M388.6,79.5l2-0.5-0.3-2.5-1.8,1.7z" fill="#31f300"/>
<path d="M390,79.1l2.1-0.5-0.5-3.3-1.8,1.7z" fill="#52f800"/>
<path d="M391.5,78.8l1.2-0.3 0.8-0.7-0.6-3.7-1.8,1.7z" fill="#66fb00"/>
<path d="M393,78.2l2-1.7-0.8-3.5-1.8,1.6z" fill="#79fd00"/>
<path d="M394.5,77l2-1.7-1-3.5-1.8,1.6z" fill="#8fff00"/>
<path d="M396,75.7l2-1.7-1.3-3.4-1.7,1.6z" fill="#acff00"/>
<path d="M397.5,74.4l1.9-1.6-1.4-3.3-1.7,1.6z" fill="#caff00"/>
<path d="M399,73.2l1.9-1.6-1.6-3.3-1.7,1.6z" fill="#e7ff00"/>
<path d="M400.4,72l2-1.7-1.8-3.2-1.8,1.6z" fill="#fff900"/>
<path d="M401.9,70.7l2-1.6-2.1-3.2-1.7,1.6z" fill="#ffd900"/>
<path d="M403.4,69.5l1.9-1.6-1.7-2.6-1.2,0.1-1,1z" fill="#ffb800"/>
<path d="M404.9,68.2l1.9-1.6-1-1.4-2.9,0.2z" fill="#ff9800"/>
<path d="M406.3,67l2.2-1.8-3.4,0.1z" fill="#ff7800"/>
<path d="M388.4,79.2L388.4,78.7M392.5,78.2L392.1,75.3M396.8,74.7L395.9,71.8M401,71.1L399.6,68.4M405.2,67.6L403.8,65.6" class="cl"/>
<path d="M406.8,65.4l1.7,0.6 15.8-2.1-1.7-0.6z" fill="#ff7800"/>
<path d="M407.7,65.6l5.3,1.8 15.9-2.2-5.5-1.7z" fill="#ff5800"/>
<path d="M448.1,73.9l-0.6,0.1-5.1-1.7-0.9-0.7z" fill="#8fff00"/>
<path d="M445.8,73.7l3,0.8-6.4-2.9-1-0.1z" fill="#acff00"/>
<path d="M443.7,73l3,0.8-5.9-3-2.6-0.8z" fill="#caff00"/>
<path d="M441.6,72.2l3,0.8-5.5-2.9-2.6-1z" fill="#e7ff00"/>
<path d="M439.4,71.5l3.1,0.8-5.1-3-2.5-1z" fill="#fff900"/>
<path d="M437.3,70.7l3.1,0.9-4.6-3.1-2.6-1z" fill="#ffd900"/>
<path d="M435.2,70l3,0.8-4.1-3.1-2.6-1z" fill="#ffb800"/>
<path d="M432.7,68.8l0.8,0.6 2.5,0.7-3.6-3.2-2.5-1.1z" fill="#ff9800"/>
<path d="M429.4,66.5l4.1,2.6-2.8-3-2.5-1.1z" fill="#ff7800"/>
<path d="M427.3,64.7l3,2.1-1.3-1.5z" fill="#ff5800"/>
<path d="M447.1,73.9L441.6,71.6M441.1,71.7L436.8,69.3M434.9,69.6L432,67" class="cl"/>
<path d="M464.8,77.3l4.7-0.2-6.9-2.8-3.7,0.1z" fill="#66fb00"/>
<path d="M456.4,77.5l9.3-0.3-5.9-2.9-7-0.2z" fill="#79fd00"/>
<path d="M447.5,74.1l6.7,3.4 3.1,0-3.6-3.4z" fill="#8fff00"/>
<path d="M373,81.4l0.6-0.3 16.1-2.2-2,0.8z" fill="#0eec00"/>
<path d="M374.5,81.2l0.7-0.3 15.9-2.3-2.2,0.8z" fill="#31f300"/>
<path d="M376.1,81l0.7-0.3 0.8-0.2 15-2.3-2.2,0.9z" fill="#52f800"/>
<path d="M376.9,81l16.5-3-1.6,0.7z" fill="#66fb00"/>
<path d="M373.1,81.4L388.4,79.2M392.5,78.2L392.5,78.2" class="cl"/>
<path d="M391.9,78.3l5.4,1.7-4.1-2.7z" fill="#66fb00"/>
<path d="M396.4,79.9l1.3,0.5 1.8-1.5-4.9-2.9-1.9,1.7z" fill="#79fd00"/>
<path d="M399,79.3l2-1.7-4.9-2.8-2,1.7z" fill="#8fff00"/>
<path d="M400.5,78l2-1.6-4.9-2.8-2,1.6z" fill="#acff00"/>
<path d="M402,76.8l1.9-1.7-4.9-2.8-1.9,1.7z" fill="#caff00"/>
<path d="M403.5,75.5l1.9-1.7-4.9-2.7-1.9,1.7z" fill="#e7ff00"/>
<path d="M404.9,74.3l2-1.7-4.9-2.7-2,1.6z" fill="#fff900"/>
<path d="M406.4,73l2-1.7-5-2.6-1.9,1.6z" fill="#ffd900"/>
<path d="M407.9,71.7l2-1.6-5-2.7-2,1.7z" fill="#ffb800"/>
<path d="M409.4,70.5l2-1.7-5.1-2.6-1.9,1.7z" fill="#ff9800"/>
<path d="M410.9,69.3l1.9-1.7-4.2-2.2-1-0.3-1.8,1.5z" fill="#ff7800"/>
<path d="M412.3,68l1.3-1.1-5.9-1.5z" fill="#ff5800"/>
<path d="M401.1,77.1L396.8,74.7M405.4,73.5L401,71.1M409.6,69.9L405.2,67.6" class="cl"/>
<path d="M429.7,69.4l4.8,0-1.6-1.2z" fill="#ff9800"/>
<path d="M416.8,69.4l1.6,0.8 12.2-0.6 2.9-0.9-3.8-2.8z" fill="#ff7800"/>
<path d="M412.2,66.9l5.4,2.9 12.7-3.4-2.2-1.6z" fill="#ff5800"/>
<path d="M451.1,77.2l4,0.3-6.7-3.5-1.1-0.3z" fill="#8fff00"/>
<path d="M446.7,76.7l5.3,0.5-3.9-3.3-2.7-0.9z" fill="#acff00"/>
<path d="M442.2,76.3l5.1,0.5-1.2-3.6-2.5-0.9z" fill="#caff00"/>
<path d="M438.7,75.3l0.6,0.7 3.5,0.3 1.4-3.8-2.6-0.9z" fill="#e7ff00"/>
<path d="M437.2,73.6l1.9,2.1 3.1-3.9-2.7-0.9z" fill="#fff900"/>
<path d="M435.8,72l1.8,2.1 2.5-3-2.7-1z" fill="#ffd900"/>
<path d="M434.4,70.3l1.8,2.1 1.8-2.1-2.8-1z" fill="#ffb800"/>
<path d="M433,68.6l1.8,2.2 1-1.2z" fill="#ff9800"/>
<path d="M449.4,76.7L447.1,73.9M438.6,74.7L441.1,71.7M434.5,70L434.9,69.6" class="cl"/>
<path d="M469.1,80l6.6-0.6-7-2.8-4.6,0.2z" fill="#66fb00"/>
<path d="M456.9,78.9l3.4,1.6 9.8-0.6-5.1-3.2-8.9,0.2z" fill="#79fd00"/>
<path d="M453.4,77l4.3,2.3-0.9-2.4z" fill="#8fff00"/>
<path d="M355.4,83.8l2.3,0.1 16.8-2.7-2.4,0z" fill="#0eec00"/>
<path d="M356.8,83.7l2.4,0 16.9-2.6-2.5,0z" fill="#31f300"/>
<path d="M358.3,83.5l2.5,0 16.9-2.6-2.5,0z" fill="#52f800"/>
<path d="M357.1,83.6L373.1,81.4" class="cl"/>
<path d="M376,80.9l1.1,0.5 1.4-0.8z" fill="#52f800"/>
<path d="M376.3,81.1l5.5,2.1 12.6-2.3 3-1.3-4.9-1.7-14.9,2.6z" fill="#66fb00"/>
<path d="M393.5,80.9l5-0.8-2-0.8z" fill="#79fd00"/>
<path d="M381.8,82.9L392.5,78.2" class="cl"/>
<path d="M397.1,80.1l5.9,2.8 1.9-1.6-6-2.7z" fill="#79fd00"/>
<path d="M404.4,81.7l2.1-1.7-6.1-2.7-2,1.7z" fill="#8fff00"/>
<path d="M406,80.4l2.1-1.7-6.2-2.6-2,1.6z" fill="#acff00"/>
<path d="M407.6,79.1l2.1-1.7-6.3-2.6-2,1.7z" fill="#caff00"/>
<path d="M409.2,77.8l2.1-1.7-6.4-2.6-2,1.7z" fill="#e7ff00"/>
<path d="M410.8,76.6l2.1-1.8-6.6-2.5-2,1.7z" fill="#fff900"/>
<path d="M412.4,75.3l2.1-1.8-6.7-2.5-2,1.7z" fill="#ffd900"/>
<path d="M414,74l2.1-1.7-6.8-2.5-2,1.7z" fill="#ffb800"/>
<path d="M415.5,72.7l2.2-1.7-6.9-2.4-2,1.6z" fill="#ff9800"/>
<path d="M417.1,71.4l1.9-1.5-1.3-0.7-5.5-1.9-2,1.7z" fill="#ff7800"/>
<path d="M418.4,69.8l-5.4-3.1-1.3,1.1z" fill="#ff5800"/>
<path d="M406.6,79.5L401.1,77.1M411.2,75.8L405.4,73.5M415.8,72.1L409.6,69.9" class="cl"/>
<path d="M437.4,75.7l2.8,0.4-1.1-1.2z" fill="#e7ff00"/>
<path d="M433,75.2l5.3,0.7 1.3-0.5-1.9-2.2z" fill="#fff900"/>
<path d="M428.6,74.8l5.3,0.6 4.2-1.7-1.8-2.1z" fill="#ffd900"/>
<path d="M424.1,74.3l5.4,0.7 7.2-2.9-1.9-2.1z" fill="#ffb800"/>
<path d="M420.8,72l3.2,2.4 1,0.1 10.3-4-1.5-1.7-3.3,0.2z" fill="#ff9800"/>
<path d="M417.7,69.7l3.7,2.7 10-3.3z" fill="#ff7800"/>
<path d="M436.9,75.4L438.6,74.7M424.2,74.1L434.5,70" class="cl"/>
<path d="M451.7,81.3l9.5-0.9-4.1-2.1z" fill="#79fd00"/>
<path d="M443.6,80.5l1.7,1.7 7.3-0.8 5.2-2.8-3.5-1.7-3.2-0.3z" fill="#8fff00"/>
<path d="M441.9,78.7l2.2,2.2 7.9-4.2-5.1-0.5z" fill="#acff00"/>
<path d="M440.2,76.9l2.1,2.2 5.5-2.8-5.2-0.6z" fill="#caff00"/>
<path d="M438.7,75.3l1.9,2 2.9-1.4z" fill="#e7ff00"/>
<path d="M443.4,79.8L449.4,76.7" class="cl"/>
<path d="M469.6,83.3l12.6-1.5-7.3-2.8-6,0.4z" fill="#66fb00"/>
<path d="M459.5,80.1l7.2,3.6 3.5-0.4-0.7-4z" fill="#79fd00"/>
<path d="M339,85.3l2,0.8 17.5-2.7-2.3,0z" fill="#0eec00"/>
<path d="M340.2,85.7l3.9,1.3 2.8-0.6 13.1-3.2-2.4,0.1z" fill="#31f300"/>
<path d="M346,86.3l15.6-3.3-2.5,0.1z" fill="#52f800"/>
<path d="M339.8,85.4L357.1,83.6" class="cl"/>
<path d="M359.9,83.1l1,0.5 17.1-2.4-1.1-0.5z" fill="#52f800"/>
<path d="M360.1,83.2l5.3,2.2 17.2-2.5-5.4-2.1z" fill="#66fb00"/>
<path d="M365.5,85.1L381.8,82.9" class="cl"/>
<path d="M380.9,82.8l4.9,1.9 9.4-4.3z" fill="#66fb00"/>
<path d="M385,84.4l1.9,0.7 16.9-2.5-6.1-2.9-3.5,0.6zM402.4,82.6l6,2.8 2.3-1.6-6.4-2.8z" fill="#79fd00"/>
<path d="M410.2,84.2l2.5-1.8-6.8-2.7-2.1,1.8z" fill="#8fff00"/>
<path d="M412.1,82.8l2.6-1.7-7.2-2.7-2.2,1.8z" fill="#acff00"/>
<path d="M414.1,81.5l2.6-1.8-7.6-2.5-2.2,1.7z" fill="#caff00"/>
<path d="M416.1,80.1l2.6-1.8-8-2.4-2.2,1.7z" fill="#e7ff00"/>
<path d="M418,78.8l2.6-1.8-8.4-2.4-2.1,1.7z" fill="#fff900"/>
<path d="M420,77.4l2.6-1.8-8.8-2.3-2.1,1.8z" fill="#ffd900"/>
<path d="M421.9,76l2.6-1.8-9.1-2.2-2.1,1.8z" fill="#ffb800"/>
<path d="M423.9,74.7l0.8-0.6-3.1-2.3-4.6-1-2.2,1.7z" fill="#ff9800"/>
<path d="M422.2,72.5l-3.7-3-2.1,1.7z" fill="#ff7800"/>
<path d="M412.9,81.9L406.6,79.5M418.6,78L411.2,75.8M424.2,74.1L415.8,72.1" class="cl"/>
<path d="M443,81.5l3.1,0.8-2-2.2z" fill="#8fff00"/>
<path d="M440.3,80.8l3.3,0.9 0.9-1.2-2.1-2.2z" fill="#acff00"/>
<path d="M437.6,80.1l3.4,0.9 1.8-2.3-2.1-2.2z" fill="#caff00"/>
<path d="M435,79.4l3.3,0.9 2.8-3.3-1.5-1.6-1.5-0.1z" fill="#e7ff00"/>
<path d="M432.4,78.8l3.2,0.8 3.2-4.3-5.1-0.5z" fill="#fff900"/>
<path d="M429.8,78.1l3.2,0.8 1.3-4-5.2-0.6z" fill="#ffd900"/>
<path d="M424.8,74.9l5.1,3.2 0.6,0.2-0.8-3.9-5.1-0.5z" fill="#ffb800"/>
<path d="M423.3,73.8l2.2,1.5-0.3-1.4z" fill="#ff9800"/>
<path d="M442.4,81.1L443.4,79.8M434.7,79L436.9,75.4M424.2,74.1L424.2,74.1" class="cl"/>
<path d="M447.7,83.3l3.8,2 16.1-1.8-7.2-3.6-7.9,0.9z" fill="#79fd00"/>
<path d="M444.6,81.7l3.7,2 5.1-2.9z" fill="#8fff00"/>
<path d="M476.4,85.9l12.5-1.5-7.5-3-12.4,1.5z" fill="#66fb00"/>
<path d="M465.9,83.2l7.3,3.1 4.1-0.6-7.4-3z" fill="#79fd00"/>
<path d="M343.3,86.6l2.3,1.1 2-2z" fill="#31f300"/>
<path d="M345,87.4l3.6,1.7 9.1-2 3.8-3.9-0.7-0.3-14.1,3z" fill="#52f800"/>
<path d="M356.8,87.3l9.5-2.1-5.4-2.3z" fill="#66fb00"/>
<path d="M365.5,85.1L365.5,85.1" class="cl"/>
<path d="M364.6,85l4.7,2 17.4-2.5-4.9-2z" fill="#66fb00"/>
<path d="M368.5,86.6l1.8,0.9 17.4-2.6-1.9-0.8zM386,84.7l6.1,3.1 17.1-2.6-6.2-3zM407.8,85.1l6.3,3 2.6-1.7-6.6-2.9z" fill="#79fd00"/>
<path d="M416.1,86.8l3-1.8-7-2.8-2.6,1.7z" fill="#8fff00"/>
<path d="M418.4,85.4l3-1.9-7.4-2.7-2.5,1.8z" fill="#acff00"/>
<path d="M420.8,83.9l2.9-1.8-7.7-2.7-2.6,1.8z" fill="#caff00"/>
<path d="M423.1,82.5l3-1.9-8.2-2.5-2.5,1.8z" fill="#e7ff00"/>
<path d="M425.4,81l3-1.8-8.5-2.5-2.6,1.8z" fill="#fff900"/>
<path d="M427.7,79.6l3-1.8-8.9-2.4-2.6,1.8z" fill="#ffd900"/>
<path d="M430,78.2l0.6-0.4-5.4-3.4-1.4-0.4-2.6,1.8z" fill="#ffb800"/>
<path d="M425.9,75l-1.7-1.2-1.1,0.7z" fill="#ff9800"/>
<path d="M419.4,84.4L412.9,81.9M426,80.3L418.6,78M424.2,74.1L424.2,74.1" class="cl"/>
<path d="M450.7,85.1l1.7,0.3-4.8-2.5z" fill="#79fd00"/>
<path d="M448.3,84.4l3.3,0.8-3.1-2.1-3-1.5-2.8-0.6z" fill="#8fff00"/>
<path d="M445.9,83.6l3.3,0.8-5.6-3.3-3.6-0.8z" fill="#acff00"/>
<path d="M443.4,82.9l3.4,0.8-5.8-3.3-3.6-0.7z" fill="#caff00"/>
<path d="M441,82.2l3.4,0.7-6.1-3.2-3.6-0.7z" fill="#e7ff00"/>
<path d="M438.5,81.4l3.4,0.8-6.3-3.2-3.6-0.7z" fill="#fff900"/>
<path d="M436,80.7l3.4,0.7-6.5-3.1-3.6-0.7z" fill="#ffd900"/>
<path d="M429.2,77.6l6.7,3.1 1,0-6.7-3.1z" fill="#ffb800"/>
<path d="M447.4,83.8L442.4,81.1M440.3,81.7L434.7,79" class="cl"/>
<path d="M450.7,84.9l7.2,3.1 16.2-1.9-7.3-3z" fill="#79fd00"/>
<path d="M483.2,88.6l12.6-1.6-7.7-3-12.5,1.5z" fill="#66fb00"/>
<path d="M472.4,85.8l7.6,3.1 4.1-0.5-7.6-3.1z" fill="#79fd00"/>
<path d="M347.8,88.7l5.5,2.5 0.7-0.2 4.3-4.6z" fill="#52f800"/>
<path d="M353.1,91.2l15.6-3.4 1.1-1.2-4.3-1.8-8.1,1.8z" fill="#66fb00"/>
<path d="M367.8,88l3.4-0.8-2-0.8z" fill="#79fd00"/>
<path d="M361.9,89L365.5,85.1" class="cl"/>
<path d="M369.5,87l5.9,3.2 17.6-2.6-6.1-3.1zM391.3,87.3l6.3,3.2 17.3-2.6-6.5-3.1zM413.4,87.8l6.5,3 2.7-1.6-6.5-3.1z" fill="#79fd00"/>
<path d="M422,89.5l2.9-1.8-6.5-3-2.9,1.8z" fill="#8fff00"/>
<path d="M424.3,88.1l3-1.9-6.6-3-2.9,1.9z" fill="#acff00"/>
<path d="M426.7,86.6l2.9-1.9-6.6-2.9-2.9,1.8z" fill="#caff00"/>
<path d="M429,85.1l3-1.8-6.7-2.9-2.9,1.8z" fill="#e7ff00"/>
<path d="M431.4,83.7l2.9-1.9-6.7-2.8-2.9,1.8z" fill="#fff900"/>
<path d="M433.7,82.2l2.9-1.8-6.7-2.9-2.9,1.8z" fill="#ffd900"/>
<path d="M436,80.8l0.7-0.5-6.7-2.8-0.7,0.4z" fill="#ffb800"/>
<path d="M425.3,87.1L419.4,84.4M432,82.9L426,80.3" class="cl"/>
<path d="M458,87.2l0.7,1-7.2-2.9 0.2-0.2z" fill="#79fd00"/>
<path d="M457.2,86.1l1.3,1.8-7.7-2.8-3.2-1.2z" fill="#8fff00"/>
<path d="M456.5,85.1l1.3,1.8-9.4-2.5-3.2-1.2z" fill="#acff00"/>
<path d="M455.8,84.1l1.2,1.7-11.1-2.1-3.2-1.3z" fill="#caff00"/>
<path d="M455.1,83.1l1.2,1.7-12.8-1.9-3.2-1.2z" fill="#e7ff00"/>
<path d="M454.4,82.1l1.2,1.7-14.6-1.6-3.2-1.2z" fill="#fff900"/>
<path d="M453.7,81.1l1.1,1.6-16.2-1.3-3.3-1.1z" fill="#ffd900"/>
<path d="M435.6,80.6l0.7-1.4 16.6,0.9 1.2,1.6-18-1z" fill="#ffb800"/>
<path d="M436,79.7l0.7-1.5 15.5,0.9 1.2,1.6z" fill="#ff9800"/>
<path d="M436.4,78.8l0.7-1.5 14.4,0.8 1.2,1.6z" fill="#ff7800"/>
<path d="M436.9,77.8l0.6-1.5 13.3,0.7 1.1,1.7z" fill="#ff5800"/>
<path d="M437.3,76.9l0.7-1.5 12,0.6 1.2,1.7z" fill="#ff3700"/>
<path d="M437.7,75.9l0.7-1.5 10.9,0.6 1.2,1.6z" fill="#fe1d00"/>
<path d="M438.1,75l0.7-1.6 9.8,0.6 1.2,1.6z" fill="#f91400"/>
<path d="M438.6,74l0.7-1.5 8.6,0.4 1.1,1.7z" fill="#f50b00"/>
<path d="M439,73.1l0.7-1.6 7.4,0.4 1.2,1.7z" fill="#f10200"/>
<path d="M439.4,72.1l0.7-1.6 6.3,0.4 1.2,1.6z" fill="#df0000"/>
<path d="M439.9,71.1l0.7-1.5 5,0.2 1.2,1.7z" fill="#ca0000"/>
<path d="M440.3,70.1l0.7-1.5 3.9,0.2 1.2,1.7z" fill="#b50000"/>
<path d="M440.7,69.2l0.7-1.6 2.8,0.1 1.1,1.7z" fill="#a00000"/>
<path d="M441.2,68.2l0.7-1.6 1.5,0.1 1.2,1.7zM441.6,67.2l0.9-1.9 1.4,2z" fill="#900000"/>
<path d="M456.8,86L447.4,83.8M454.7,83.1L440.3,81.7M436.5,79.3L452.6,80.2M437.8,76.6L450.6,77.3M439,73.8L448.5,74.3M440.2,71L446.4,71.3M441.5,68.2L444.2,68.4" class="cl"/>
<path d="M457.1,87.6l7.5,3.2 16.3-2.1-7.6-3.1z" fill="#79fd00"/>
<path d="M496.3,90.3l6.7-0.6-8-3.1-12.6,1.7z" fill="#66fb00"/>
<path d="M479.2,88.6l7.8,2.5 10.1-1-13.9-2.1z" fill="#79fd00"/>
<path d="M352.5,90.8l1.2,0.5 0.8-1z" fill="#52f800"/>
<path d="M353.1,91.1l5,2.3 14.4-2.7-3.8-3.5-15.1,3.3z" fill="#66fb00"/>
<path d="M371.8,90.9l4.5-0.9-5.9-3.2-2.4,0.6z" fill="#79fd00"/>
<path d="M358.2,93L361.9,89" class="cl"/>
<path d="M374.6,89.7l6,3.3 17.9-2.7-6.3-3.2zM396.8,90.1l6.4,3.2 17.5-2.7-6.6-3.2zM419.3,90.5l6.7,3.2 1-1.6-5-3.3z" fill="#79fd00"/>
<path d="M426.7,92.7l1-1.8-3.3-3.6-3,1.9z" fill="#8fff00"/>
<path d="M427.4,91.5l1.1-1.8-1.7-3.9-3,1.9z" fill="#acff00"/>
<path d="M428.1,90.4l1.1-1.8 0.1-4.4-3,1.9z" fill="#caff00"/>
<path d="M428.6,89.3l1.3-2 2-4.6-3.2,1.9z" fill="#e7ff00"/>
<path d="M429.2,88l1.4-1.9 3.7-4.8-3.2,1.8z" fill="#fff900"/>
<path d="M430.9,85.3l0.5-0.4 5.3-5-3.2,1.7z" fill="#ffd900"/>
<path d="M430.6,85.4l1.1-2.1 5.3-4.5-0.7,1.8-0.1,0.1z" fill="#ffb800"/>
<path d="M431.4,84.1l1-2.1 5-4.2-0.7,1.8z" fill="#ff9800"/>
<path d="M432.1,82.8l1.1-2.1 4.6-3.8-0.7,1.8z" fill="#ff7800"/>
<path d="M432.9,81.6l1.1-2.1 4.2-3.6-0.6,1.9z" fill="#ff5800"/>
<path d="M433.6,80.3l1.1-2.1 4-3.2-0.7,1.8z" fill="#ff3700"/>
<path d="M434.4,79.1l1.1-2.1 3.6-3-0.7,1.8z" fill="#fe1d00"/>
<path d="M435.2,77.8l1-2.1 3.3-2.6-0.7,1.8z" fill="#f91400"/>
<path d="M435.9,76.6l1.1-2.1 3-2.4-0.7,1.8z" fill="#f50b00"/>
<path d="M436.7,75.3l1-2.1 2.7-2.1-0.7,1.9z" fill="#f10200"/>
<path d="M437.4,74.1l1.1-2.1 2.3-1.8-0.7,1.8z" fill="#df0000"/>
<path d="M438.2,72.8l1.1-2.1 2-1.5-0.7,1.8z" fill="#ca0000"/>
<path d="M438.9,71.6l1.1-2.1 1.7-1.3-0.7,1.9z" fill="#b50000"/>
<path d="M439.7,70.3l1.1-2.1 1.3-1-0.7,1.9z" fill="#a00000"/>
<path d="M440.4,69.1l1.1-2.1 1.1-0.8-0.7,1.9zM441.2,67.8l1.7-2.6-0.6,1.9z" fill="#900000"/>
<path d="M427.7,90.4L425.3,87.1M429.9,86.8L432,82.9M432.1,83.2L436.5,79.3M434.2,79.6L437.8,76.6M436.4,76L439,73.8M438.6,72.4L440.2,71M440.8,68.8L441.5,68.2" class="cl"/>
<path d="M464.4,89.9l0.9,1-7.5-3-0.7-1z" fill="#79fd00"/>
<path d="M463.3,89l1.7,1.6-7.4-3-1.2-1.7z" fill="#8fff00"/>
<path d="M462.2,88l1.7,1.7-7-3.1-1.2-1.8z" fill="#acff00"/>
<path d="M461.1,87.1l1.7,1.6-6.6-3.1-1.2-1.8z" fill="#caff00"/>
<path d="M460,86.1l1.6,1.7-6.2-3.2-1.1-1.8z" fill="#e7ff00"/>
<path d="M458.9,85.2l1.6,1.7-5.8-3.3-1.1-1.8z" fill="#fff900"/>
<path d="M457.7,84.2l1.7,1.7-5.4-3.3-1.1-1.8z" fill="#ffd900"/>
<path d="M456.6,83.2l1.6,1.8-4.9-3.4-1.1-1.9z" fill="#ffb800"/>
<path d="M455.5,82.3l0.3,0.6-3.2-2.3-1.1-1.9z" fill="#ff9800"/>
<path d="M454.3,81.3l0.3,0.6-2.8-2.3-1-1.9z" fill="#ff7800"/>
<path d="M452.8,80.8l1.9,1.3-3.1-3.9-0.5-0.2z" fill="#ff5800"/>
<path d="M451.6,79.8l2,1.4-2.7-4.1-1.5-1.5z" fill="#ff3700"/>
<path d="M450.4,78.8l2,1.4-2.3-4.1-1.4-1.6z" fill="#fe1d00"/>
<path d="M449.3,77.8l1.9,1.5-1.8-4.2-1.4-1.6z" fill="#f91400"/>
<path d="M448.2,76.5l0.5,0.8 1.3,1-1.3-4.2-1.4-1.7z" fill="#f50b00"/>
<path d="M447.3,75l1.5,2.2-0.8-4.1-1.4-1.7z" fill="#f10200"/>
<path d="M446.5,73.5l1.5,2.2-0.8-3.6-1.3-1.7z" fill="#df0000"/>
<path d="M445.6,72l1.5,2.2-0.6-3.2-1.4-1.7z" fill="#ca0000"/>
<path d="M444.8,70.5l1.4,2.2-0.4-2.7-1.4-1.7z" fill="#b50000"/>
<path d="M443.9,69l1.5,2.2-0.4-2.2-1.3-1.7z" fill="#a00000"/>
<path d="M443.1,67.5l1.4,2.2-0.2-1.8-1.4-1.7zM442.1,65.2l1.6,3-0.2-1.3z" fill="#900000"/>
<path d="M462.7,88.8L456.8,86M459.5,86.1L454.7,83.1M456.2,83.3L452.6,80.2M452.9,80.5L450.6,77.3M449.6,77.7L448.5,74.3M446.9,73.6L446.4,71.3M444.5,69.3L444.2,68.4" class="cl"/>
<path d="M463.8,90.3l7.6,3.3 16.5-2.8-7.8-2.5z" fill="#79fd00"/>
<path d="M508.3,92.4l2.1,0.2-8.2-3.3-6.8,0.7z" fill="#66fb00"/>
<path d="M487.9,90.6l-0.3,0.3 18.2,0.8 1.8,0.2-11.3-2.2z" fill="#79fd00"/>
<path d="M486.7,90.7l2.4-0.9 14.2,0.6 3.4,1.1z" fill="#8fff00"/>
<path d="M488.3,90.2l2.4-0.9 10,0.4 3.4,1.1z" fill="#acff00"/>
<path d="M489.9,89.7l2.5-1 5.6,0.3 3.5,1.1z" fill="#caff00"/>
<path d="M491.5,89.2l2.5-1 1.4,0.1 3.4,1.1z" fill="#e7ff00"/>
<path d="M493.2,88.6l1.3-0.6 1.7,0.7z" fill="#fff900"/>
<path d="M489.8,89.9L502.1,90.4M494.5,88.3L494.5,88.3" class="cl"/>
<path d="M357.3,92.9l5.9,3.4 14.7-2.8-6-3.3z" fill="#66fb00"/>
<path d="M377,93.7l4.5-0.9-6-3.2-4.5,0.8zM379.8,92.6l6.3,3.3 18-2.7-6.4-3.3z" fill="#79fd00"/>
<path d="M403.7,93.5l5.4,3.4 14.2-3z" fill="#66fb00"/>
<path d="M402.4,92.9l2,1.2 18.1,0.2 4.3-0.9-6.9-3.2zM425.5,93.5l6.8,3.2 1.4-1.7-7.2-3.1z" fill="#79fd00"/>
<path d="M433.3,95.5l1.6-1.9-7.7-3-1,1.8z" fill="#8fff00"/>
<path d="M434.5,94.1l1.6-1.8-8.1-2.9-1.1,1.7z" fill="#acff00"/>
<path d="M435.7,92.8l1.5-1.9-8.5-2.8-1,1.8z" fill="#caff00"/>
<path d="M436.8,91.4l1.6-1.8-8.9-2.7-1.1,1.7z" fill="#e7ff00"/>
<path d="M438,90.1l1.6-1.9-9.3-2.6-1.1,1.8z" fill="#fff900"/>
<path d="M439.2,88.7l1.6-1.8-9.8-2.5-1.1,1.7z" fill="#ffd900"/>
<path d="M440.3,87.4l1.6-1.8-10.1-2.5-1.1,1.8z" fill="#ffb800"/>
<path d="M441.5,86.1l1.6-1.9-10.6-2.3-1,1.7z" fill="#ff9800"/>
<path d="M442.6,84.7l1.7-1.8-11-2.3-1.1,1.8z" fill="#ff7800"/>
<path d="M443.8,83.4l1.6-1.8-11.4-2.2-1,1.7z" fill="#ff5800"/>
<path d="M445,82.1l1.6-1.9-11.8-2.1-1.1,1.8z" fill="#ff3700"/>
<path d="M446.1,80.8l1.6-1.9-12.1-2-1.1,1.8z" fill="#fe1d00"/>
<path d="M447.3,79.4l1.6-1.8-12.6-2-1.1,1.8z" fill="#f91400"/>
<path d="M448.4,78.1l0.9-1-0.6-1-11.6-1.7-1.1,1.8z" fill="#f50b00"/>
<path d="M449.1,76.8l-1.3-2.2-10-1.5-1.1,1.8z" fill="#f10200"/>
<path d="M448.2,75.2l-1.2-2.1-8.4-1.2-1.1,1.8z" fill="#df0000"/>
<path d="M447.3,73.7l-1.2-2.1-6.8-1-1.1,1.8z" fill="#ca0000"/>
<path d="M446.5,72.3l-1.3-2.2-5.1-0.7-1.1,1.8z" fill="#b50000"/>
<path d="M445.6,70.8l-1.2-2.2-3.5-0.5-1.1,1.8z" fill="#a00000"/>
<path d="M444.8,69.3l-1.3-2.2-1.9-0.2-1.1,1.8zM443.9,67.8l-1.4-2.4-1.2,2z" fill="#900000"/>
<path d="M434.9,93.2L427.7,90.4M438.2,89.3L429.9,86.8M441.6,85.5L432.1,83.2M444.9,81.7L434.2,79.6M448.2,77.9L436.4,76M446.9,73.6L438.6,72.4M444.5,69.3L440.8,68.8" class="cl"/>
<path d="M471.3,92.8l0.9,1-7.7-3.1-1-1z" fill="#79fd00"/>
<path d="M470.2,91.8l1.7,1.7-7.8-3.1-1.7-1.6z" fill="#8fff00"/>
<path d="M469,90.8l1.7,1.7-7.7-3-1.7-1.7z" fill="#acff00"/>
<path d="M467.9,89.9l1.7,1.6-7.7-3-1.7-1.6z" fill="#caff00"/>
<path d="M466.8,88.9l1.7,1.7-7.7-3-1.7-1.7z" fill="#e7ff00"/>
<path d="M465.6,87.9l1.8,1.7-7.8-3-1.7-1.6z" fill="#fff900"/>
<path d="M464.5,87l1.7,1.6-7.7-2.9-1.7-1.7z" fill="#ffd900"/>
<path d="M463.4,86l1.7,1.7-7.7-3-1.7-1.7z" fill="#ffb800"/>
<path d="M462.2,85l1.7,1.7-7.7-3-1.7-1.6z" fill="#ff9800"/>
<path d="M461.1,84l1.7,1.7-7.7-2.9-1.7-1.7z" fill="#ff7800"/>
<path d="M459.9,83l1.7,1.7-7.6-2.9-1.8-1.7z" fill="#ff5800"/>
<path d="M458.7,82l1.8,1.7-7.7-2.9-1.7-1.7z" fill="#ff3700"/>
<path d="M457.6,81l1.7,1.7-7.6-2.9-1.8-1.6z" fill="#fe1d00"/>
<path d="M456.4,80l1.8,1.7-7.7-2.8-1.7-1.7z" fill="#f91400"/>
<path d="M448.2,76.7l7.6,2.8 1.2,1.2-7.6-2.8z" fill="#f50b00"/>
<path d="M469.5,91.7L462.7,88.8M466.3,88.9L459.5,86.1M463,86.1L456.2,83.3M459.7,83.2L452.9,80.5M456.3,80.4L449.6,77.7" class="cl"/>
<path d="M470.6,93.3l2.7,0.7 13.4-3.2 0.3-0.3z" fill="#79fd00"/>
<path d="M472.5,93.7l6.1,1.5 0.8-0.3 10.6-5.1-2.5,0.5z" fill="#8fff00"/>
<path d="M478.5,95l5.6-2 7.5-3.7-2.6,0.5z" fill="#acff00"/>
<path d="M483.2,93.1l5.5-2 4.5-2.4-2.5,0.6z" fill="#caff00"/>
<path d="M487.8,91.1l5.5-1.9 1.5-1-2.5,0.6z" fill="#e7ff00"/>
<path d="M492.4,89.3l2.9-1.3-1.4,0.2z" fill="#fff900"/>
<path d="M481.3,93.8L489.8,89.9M494.5,88.3L494.5,88.3" class="cl"/>
<path d="M500.6,113.2l0.3,1.3 15.9-2.6-0.6-1.8z" fill="#5600e4"/>
<path d="M500.3,111.9l0.4,1.9 15.7-3.1-0.7-1.9z" fill="#3b09ee"/>
<path d="M499.9,110.6l0.5,1.9 15.5-3.1-0.6-2z" fill="#1f14f6"/>
<path d="M499.6,109.3l0.5,1.9 15.4-3.2-0.7-1.9z" fill="#031ffe"/>
<path d="M499.2,108l0.5,1.9 15.3-3.2-0.7-2z" fill="#004eff"/>
<path d="M498.9,106.7l0.5,1.9 15.1-3.3-0.7-1.9z" fill="#0080ff"/>
<path d="M498.6,105.4l0.5,1.9 14.9-3.3-0.7-1.9z" fill="#00b3ff"/>
<path d="M498.3,104.1l0.4,1.9 14.8-3.4-0.6-1.9z" fill="#00dceb"/>
<path d="M497.9,102.8l0.5,1.9 14.7-3.4-0.7-1.9z" fill="#00f7bd"/>
<path d="M497.6,101.5l0.5,1.9 14.5-3.4-0.7-1.9z" fill="#00f97a"/>
<path d="M497.3,100.2l0.4,1.9 14.4-3.5-0.7-1.9z" fill="#00ef2d"/>
<path d="M496.9,98.9l0.5,1.9 14.2-3.5-0.6-1.9z" fill="#0eec00"/>
<path d="M496.6,97.6l0.5,1.9 14.1-3.5-0.7-1.9z" fill="#31f300"/>
<path d="M496.3,96.3l0.4,1.9 14-3.6-0.7-1.9z" fill="#52f800"/>
<path d="M495.9,95l0.5,1.9 13.8-3.6-0.4-1.2-1.4-0.4z" fill="#66fb00"/>
<path d="M495.6,93.7l0.5,1.9 13.1-3.5-3.4-1z" fill="#79fd00"/>
<path d="M495.3,92.4l0.4,1.9 11-2.9-3.5-1z" fill="#8fff00"/>
<path d="M494.9,91.1l0.5,1.9 8.7-2.3-3.5-1z" fill="#acff00"/>
<path d="M494.6,89.8l0.5,1.9 6.4-1.7-3.5-1z" fill="#caff00"/>
<path d="M494.3,88.5l0.5,1.9 4-1.1-3.5-1.1z" fill="#e7ff00"/>
<path d="M494.1,87.9l0.3,1.2 1.8-0.5z" fill="#fff900"/>
<path d="M500.3,110.8L515,107.7M499.3,107L513.7,103.9M498.4,103.3L512.3,100M497.4,99.5L510.9,96.2M496.4,95.8L509.6,92.4M495.5,92.1L502.1,90.4M494.5,88.3L494.5,88.3" class="cl"/>
<path d="M362.4,95.8l6,3.5 14.9-2.8-6.2-3.4z" fill="#66fb00"/>
<path d="M382.4,96.6l4.6-0.8-6.3-3.4-4.5,0.9z" fill="#79fd00"/>
<path d="M386.5,96.2l5.2,3.5 18.3-2.9-5.4-3.3z" fill="#66fb00"/>
<path d="M385.3,95.5l1.9,1.2 18.1-2.8-2-1.2z" fill="#79fd00"/>
<path d="M414.1,99.9l1,0.8 1.4-0.5z" fill="#52f800"/>
<path d="M408.3,96.5l6.5,3.9 0.9,0.1 15.6-3.8-8.8-3z" fill="#66fb00"/>
<path d="M430.4,97l2.6-0.6-7-3.4-4.4,1z" fill="#79fd00"/>
<path d="M409.1,96.6L423.8,98.3" class="cl"/>
<path d="M432.8,96.7l5.9,3.7 1-1.1z" fill="#66fb00"/>
<path d="M431.7,96.4l1.7,0.9 5.9,2.5 1.5-1.9-7.7-3.2z" fill="#79fd00"/>
<path d="M440.4,98.4l1.6-1.8-7.7-3.2-1.6,1.8z" fill="#8fff00"/>
<path d="M441.6,97l1.5-1.8-7.6-3.1-1.6,1.8z" fill="#acff00"/>
<path d="M442.7,95.7l1.6-1.9-7.7-3.1-1.5,1.8z" fill="#caff00"/>
<path d="M443.8,94.3l1.6-1.8-7.6-3.1-1.6,1.8z" fill="#e7ff00"/>
<path d="M445,93l1.5-1.9-7.5-3-1.6,1.8z" fill="#fff900"/>
<path d="M446.1,91.6l1.6-1.8-7.6-3.1-1.5,1.8z" fill="#ffd900"/>
<path d="M447.3,90.3l1.5-1.9-7.5-3-1.6,1.8z" fill="#ffb800"/>
<path d="M448.4,88.9l1.5-1.8-7.4-3-1.6,1.8z" fill="#ff9800"/>
<path d="M449.5,87.6l1.6-1.9-7.5-3-1.6,1.8z" fill="#ff7800"/>
<path d="M450.7,86.2l1.5-1.8-7.4-3-1.6,1.8z" fill="#ff5800"/>
<path d="M451.8,84.9l1.5-1.9-7.4-2.9-1.5,1.8z" fill="#ff3700"/>
<path d="M452.9,83.5l1.5-1.8-7.3-3-1.6,1.9z" fill="#fe1d00"/>
<path d="M454,82.2l1.6-1.9-7.4-2.9-1.5,1.8z" fill="#f91400"/>
<path d="M455.2,80.8l0.9-1.1-7.3-3-1,1.2z" fill="#f50b00"/>
<path d="M442,96.1L434.9,93.2M445.2,92.2L438.2,89.3M448.5,88.3L441.6,85.5M451.8,84.4L444.9,81.7M455,80.6L448.2,77.9" class="cl"/>
<path d="M474.1,94l-2.8-0.4-0.9-1z" fill="#79fd00"/>
<path d="M478.6,94.5l0.8,0.8-6.2-1.3-2.2-0.7-1.7-1.7z" fill="#8fff00"/>
<path d="M477.3,93.6l1.9,1.6-9.3-2.9-1.8-1.6z" fill="#acff00"/>
<path d="M476,92.6l1.9,1.6-9.2-2.8-1.7-1.7z" fill="#caff00"/>
<path d="M474.7,91.7l1.9,1.6-9-2.9-1.7-1.7z" fill="#e7ff00"/>
<path d="M473.3,90.7l2,1.6-8.8-2.9-1.8-1.6z" fill="#fff900"/>
<path d="M472,89.8l2,1.6-8.7-2.9-1.7-1.7z" fill="#ffd900"/>
<path d="M470.7,88.8l1.9,1.6-8.4-2.9-1.7-1.7z" fill="#ffb800"/>
<path d="M469.4,87.8l1.9,1.7-8.3-3-1.7-1.7z" fill="#ff9800"/>
<path d="M468.1,86.9l1.9,1.6-8.1-3-1.7-1.7z" fill="#ff7800"/>
<path d="M466.7,85.9l2,1.6-8-3-1.7-1.7z" fill="#ff5800"/>
<path d="M465.4,84.9l1.9,1.7-7.7-3.1-1.7-1.7z" fill="#ff3700"/>
<path d="M464,83.9l2,1.7-7.6-3-1.7-1.8z" fill="#fe1d00"/>
<path d="M462,82.6l0.8,0.4 1.8,1.6-7.3-3-1.8-1.8z" fill="#f91400"/>
<path d="M454.9,79.3l7.7,4-6.5-2.7z" fill="#f50b00"/>
<path d="M477.9,94.4L469.5,91.7M474.1,91.6L466.3,88.9M470.3,88.9L463,86.1M466.5,86.1L459.7,83.2M462.6,83.3L456.3,80.4" class="cl"/>
<path d="M500.6,113.6l0.8,1.4-0.4-2.4z" fill="#5600e4"/>
<path d="M500.2,112.6l0.8,1.9 0.3-1-0.7-2.2z" fill="#3b09ee"/>
<path d="M499.8,111.5l0.8,1.9 0.3-1.2-0.6-2.2z" fill="#1f14f6"/>
<path d="M499.4,110.4l0.8,1.9 0.4-1.4-0.6-2.2z" fill="#031ffe"/>
<path d="M499,109.4l0.8,1.9 0.5-1.8-0.7-2.1z" fill="#004eff"/>
<path d="M498.6,108.3l0.7,1.9 0.6-2-0.6-2.1z" fill="#0080ff"/>
<path d="M498.2,107.2l0.7,1.9 0.7-2.2-0.6-2.1z" fill="#00b3ff"/>
<path d="M497.8,106.1l0.7,2 0.8-2.5-0.7-2.1z" fill="#00dceb"/>
<path d="M497.4,105.1l0.7,1.9 0.8-2.7-0.6-2.1z" fill="#00f7bd"/>
<path d="M497,104l0.7,1.9 0.9-2.9-0.6-2.1z" fill="#00f97a"/>
<path d="M496.6,102.9l0.7,1.9 1-3.1-0.7-2.1z" fill="#00ef2d"/>
<path d="M496.1,101.8l0.8,1.9 1-3.3-0.6-2.1z" fill="#0eec00"/>
<path d="M495.7,100.7l0.8,2 1.1-3.6-0.6-2.1z" fill="#31f300"/>
<path d="M495.3,99.6l0.8,2 1.2-3.8-0.7-2.1z" fill="#52f800"/>
<path d="M494.9,98.6l0.8,1.9 1.2-4-0.6-2.1z" fill="#66fb00"/>
<path d="M494.5,97.5l0.8,1.9 1.3-4.2-0.6-2.1z" fill="#79fd00"/>
<path d="M479.2,94.4l-0.3,0.7 15.3,1.5 0.6,1.7 1.5-4.4-0.4-1.6-16.7,2z" fill="#8fff00"/>
<path d="M479.2,94.4l0.1-0.3 14.5,1.4 0.6,1.7 1.5-4.6-0.4-1.6-11.6,1.4-4.7,1.9z" fill="#acff00"/>
<path d="M479.6,93.4l0.1-0.3 13.7,1.3 0.6,1.7 1.6-4.8-0.4-1.6-6.7,0.8-4.6,1.9z" fill="#caff00"/>
<path d="M480,92.4l0.2-0.3 12.7,1.2 0.7,1.7 1.7-5-0.4-1.6-1.8,0.2-4.6,1.9z" fill="#e7ff00"/>
<path d="M480.5,91.3l0.1-0.2 11.9,1.1 0.7,1.7 1.7-5.2-0.2-0.8-1.6,0.7z" fill="#fff900"/>
<path d="M480,91l0.6-1.6 11.9,1.2 0.7,1.7z" fill="#ffd900"/>
<path d="M480.4,90l0.7-1.6 11,1.1 0.7,1.7z" fill="#ffb800"/>
<path d="M480.8,89l0.7-1.6 10.2,0.9 0.7,1.8z" fill="#ff9800"/>
<path d="M481.3,87.9l0.6-1.6 9.4,0.9 0.6,1.8z" fill="#ff7800"/>
<path d="M481.7,86.9l0.7-1.6 8.5,0.8 0.6,1.8z" fill="#ff5800"/>
<path d="M482.1,85.9l0.7-1.6 7.6,0.7 0.7,1.7z" fill="#ff3700"/>
<path d="M482.6,84.9l0.7-1.7 6.7,0.7 0.7,1.7z" fill="#fe1d00"/>
<path d="M483,83.8l0.7-1.6 5.9,0.6 0.7,1.7z" fill="#f91400"/>
<path d="M483.5,82.8l0.7-1.6 5,0.4 0.6,1.8z" fill="#f50b00"/>
<path d="M483.9,81.7l0.7-1.6 4.1,0.4 0.7,1.8z" fill="#f10200"/>
<path d="M484.3,80.7l0.7-1.6 3.3,0.3 0.7,1.7z" fill="#df0000"/>
<path d="M484.8,79.7l0.7-1.7 2.4,0.2 0.7,1.8z" fill="#ca0000"/>
<path d="M485.2,78.6l0.7-1.6 1.6,0.1 0.6,1.8z" fill="#b50000"/>
<path d="M485.7,77.6l0.7-1.7 0.6,0.1 0.7,1.7z" fill="#a00000"/>
<path d="M486.1,76.5l0.6-1.4 0.6,1.5z" fill="#900000"/>
<path d="M500.1,111.4L500.3,110.8M498.9,108.4L499.3,107M497.8,105.3L498.4,103.3M496.6,102.2L497.4,99.5M495.4,99L496.4,95.8M478.9,94.4L494.2,95.9M480.1,91.5L493,92.7M481.3,88.5L491.8,89.5M482.6,85.6L490.6,86.3M483.9,82.6L489.4,83.1M485.2,79.6L488.2,79.9M486.4,76.6L487,76.6" class="cl"/>
<path d="M367.6,98.9l6.2,3.6 18.8-3-5.2-3.4-5-0.1z" fill="#66fb00"/>
<path d="M388.1,96.7l-1.9-1.4-4.6,1.1z" fill="#79fd00"/>
<path d="M396.5,102.8l1.1,0.7 18.4-3-1.1-0.7z" fill="#52f800"/>
<path d="M391,99.2l6.2,4.1 18.5-3-6.5-4z" fill="#66fb00"/>
<path d="M391.8,99.3L409.1,96.6" class="cl"/>
<path d="M414.4,100.2l7,4.3 10.1-2.6-15.9-2z" fill="#52f800"/>
<path d="M430.6,102.3l8.9-2.2-5.9-3.3-3.2-0.4-15.6,3.9z" fill="#66fb00"/>
<path d="M434.4,97.3l-2.2-1.3-2.6,0.8z" fill="#79fd00"/>
<path d="M438.7,100L423.8,98.3" class="cl"/>
<path d="M442.4,103.5l3,2.9 1.3-1.7z" fill="#31f300"/>
<path d="M439.5,101l3.5,3.2 3.3,1.1 1.4-1.9z" fill="#52f800"/>
<path d="M438.3,100l1.8,1.7 7.2,2.2 1.4-1.9-9.6-3z" fill="#66fb00"/>
<path d="M448.3,102.5l1.5-1.9-9.6-2.9-1.5,1.8z" fill="#79fd00"/>
<path d="M449.4,101.2l1.4-1.9-9.4-3-1.6,1.9z" fill="#8fff00"/>
<path d="M450.4,99.8l1.4-1.9-9.3-2.9-1.5,1.8z" fill="#acff00"/>
<path d="M451.5,98.4l1.4-1.8-9.2-3-1.6,1.9z" fill="#caff00"/>
<path d="M452.5,97.1l1.4-1.9-9.1-2.9-1.6,1.8z" fill="#e7ff00"/>
<path d="M453.5,95.7l1.4-1.9-9-2.9-1.5,1.9z" fill="#fff900"/>
<path d="M454.6,94.4l1.4-1.9-8.9-3-1.6,1.9z" fill="#ffd900"/>
<path d="M455.6,93l1.4-1.9-8.8-2.9-1.5,1.8z" fill="#ffb800"/>
<path d="M456.6,91.6l1.4-1.8-8.7-3-1.5,1.9z" fill="#ff9800"/>
<path d="M457.7,90.3l1.4-1.9-8.6-2.9-1.6,1.8z" fill="#ff7800"/>
<path d="M458.7,88.9l1.4-1.8-8.5-2.9-1.6,1.8z" fill="#ff5800"/>
<path d="M459.7,87.6l1.4-1.9-8.4-2.9-1.5,1.8z" fill="#ff3700"/>
<path d="M460.7,86.2l1.4-1.8-8.3-2.9-1.5,1.8z" fill="#fe1d00"/>
<path d="M461.8,84.9l1.3-1.8-1.1-0.5-7-2.5-1.6,1.9z" fill="#f91400"/>
<path d="M462.7,83.2l-7.1-3.8-1,1.2z" fill="#f50b00"/>
<path d="M438.7,100L447.8,102.8M450.8,98.9L442,96.1M453.7,94.9L445.2,92.2M456.7,91L448.5,88.3M459.7,87.1L451.8,84.4M462.6,83.3L455,80.6" class="cl"/>
<path d="M479.1,94.5l-0.4,0.9-1.1-0.9z" fill="#8fff00"/>
<path d="M479.6,93.5l-0.7,1.6-0.6,0-2-1.5z" fill="#acff00"/>
<path d="M480,92.5l-0.7,1.6-2.3,0-2-1.5z" fill="#caff00"/>
<path d="M480.4,91.4l-0.7,1.7-4,0.1-2-1.5z" fill="#e7ff00"/>
<path d="M480.9,90.4l-0.7,1.7-5.8,0.1-2-1.5z" fill="#fff900"/>
<path d="M481.3,89.4l-0.7,1.6-7.5,0.3-2-1.5z" fill="#ffd900"/>
<path d="M481.7,88.4l-0.7,1.6-9.2,0.3-2.1-1.5z" fill="#ffb800"/>
<path d="M482.2,87.4l-0.7,1.6-11,0.4-2.1-1.6z" fill="#ff9800"/>
<path d="M482.6,86.3l-0.7,1.7-12.8,0.4-2-1.5z" fill="#ff7800"/>
<path d="M483,85.3l-0.7,1.7-14.5,0.4-2-1.5z" fill="#ff5800"/>
<path d="M483.5,84.3l-0.7,1.6-16.3,0.5-2.1-1.5z" fill="#ff3700"/>
<path d="M483.9,83.3l-0.7,1.6-18.1,0.6-2-1.6z" fill="#fe1d00"/>
<path d="M463.3,83.7l6.6,3.8 2.3-1.5 11.2-3-0.1,0.3-19.3,0.6z" fill="#f91400"/>
<path d="M471.2,86.1l3.1-2.2 10.6-2.9-0.8,1.8z" fill="#f50b00"/>
<path d="M473.6,84.5l3-2.2 8.7-2.3-0.7,1.7z" fill="#f10200"/>
<path d="M476,82.9l3-2.2 6.8-1.8-0.8,1.8z" fill="#df0000"/>
<path d="M478.3,81.4l3-2.2 4.9-1.3-0.7,1.7z" fill="#ca0000"/>
<path d="M480.6,79.8l3-2.2 3-0.8-0.7,1.8z" fill="#b50000"/>
<path d="M483,78.3l3-2.2 1.1-0.3-0.7,1.7z" fill="#a00000"/>
<path d="M485.3,76.7l2-1.4-0.5,1.2z" fill="#900000"/>
<path d="M478.9,94.4L477.9,94.4M480.1,91.5L474.1,91.6M481.3,88.5L470.3,88.9M482.6,85.6L466.5,86.1M462.6,83.3L471.9,85.8M478.7,81.3L485.2,79.6M485.4,76.8L486.4,76.6" class="cl"/>
<path d="M378.4,105.7l1,0.7 19-3-1-0.7z" fill="#52f800"/>
<path d="M373.1,102l6,4.2 19-3.1-6.3-4.1z" fill="#66fb00"/>
<path d="M373.8,102.1L391.8,99.3" class="cl"/>
<path d="M396.8,103l6.8,4.5 18.7-3.1-7-4.4z" fill="#52f800"/>
<path d="M422.9,105.6l5,3.6 18.1-3.1-2.8-2.4z" fill="#31f300"/>
<path d="M420.8,104.1l2.8,2 20.3-1.9-3.5-3.1-9.8,0.6z" fill="#52f800"/>
<path d="M441,101.7l-2.2-2-9.1,2.4z" fill="#66fb00"/>
<path d="M438.7,100L438.7,100" class="cl"/>
<path d="M451.1,123.4l0.9,2.6 1.1-2.3z" fill="#7200d4"/>
<path d="M450.6,121.9l0.7,2.1 1.6,0.3 0.8-1.9z" fill="#5600e4"/>
<path d="M450.1,120.5l0.7,2.1 2.7,0.4 0.8-1.9z" fill="#3b09ee"/>
<path d="M449.6,119l0.7,2.1 3.8,0.5 0.9-1.8z" fill="#1f14f6"/>
<path d="M449.1,117.5l0.7,2.1 4.9,0.7 0.9-1.8z" fill="#031ffe"/>
<path d="M448.6,116.1l0.7,2.1 6,0.8 0.9-1.9z" fill="#004eff"/>
<path d="M448.1,114.6l0.7,2.1 7.1,1 0.9-1.9z" fill="#0080ff"/>
<path d="M447.6,113.2l0.7,2.1 8.2,1.1 0.9-1.9z" fill="#00b3ff"/>
<path d="M447.1,111.7l0.7,2.1 9.3,1.3 0.9-1.9z" fill="#00dceb"/>
<path d="M446.6,110.3l0.7,2.1 10.4,1.4 0.9-1.9z" fill="#00f7bd"/>
<path d="M446.1,108.8l0.7,2.1 11.6,1.6 0.8-1.9z" fill="#00f97a"/>
<path d="M445.5,107.4l0.8,2.1 12.7,1.7 0.8-1.9z" fill="#00ef2d"/>
<path d="M445,105.9l0.8,2.1 13.8,1.9 0.9-1.9z" fill="#0eec00"/>
<path d="M445,105.9l0.3,0.7 14.9,2 0.9-1.9-15.1-2.1z" fill="#31f300"/>
<path d="M460.8,107.2l0.9-1.8-14.6-2.2-1.5,1.9z" fill="#52f800"/>
<path d="M461.4,105.9l0.9-1.8-14.2-2.3-1.4,2z" fill="#66fb00"/>
<path d="M462,104.6l0.9-1.8-13.8-2.3-1.4,1.9z" fill="#79fd00"/>
<path d="M462.6,103.3l0.9-1.8-13.3-2.4-1.5,1.9z" fill="#8fff00"/>
<path d="M463.2,102l0.9-1.8-12.9-2.4-1.4,1.9z" fill="#acff00"/>
<path d="M463.9,100.7l0.8-1.8-12.4-2.5-1.5,1.9z" fill="#caff00"/>
<path d="M464.5,99.4l0.8-1.9-12-2.5-1.4,1.9z" fill="#e7ff00"/>
<path d="M465.1,98.1l0.8-1.9-11.6-2.5-1.4,1.9z" fill="#fff900"/>
<path d="M465.7,96.8l0.9-1.9-11.2-2.6-1.5,1.9z" fill="#ffd900"/>
<path d="M466.3,95.5l0.9-1.9-10.8-2.7-1.4,1.9z" fill="#ffb800"/>
<path d="M466.9,94.2l0.9-1.9-10.4-2.7-1.4,1.9z" fill="#ff9800"/>
<path d="M467.5,92.9l0.9-1.9-9.9-2.8-1.5,1.9z" fill="#ff7800"/>
<path d="M468.1,91.6l0.9-1.9-9.5-2.8-1.4,1.8z" fill="#ff5800"/>
<path d="M468.7,90.3l0.9-1.9-9.1-2.9-1.4,1.9z" fill="#ff3700"/>
<path d="M469.3,89l0.9-1.9-8.7-2.9-1.4,1.8z" fill="#fe1d00"/>
<path d="M469.9,87.7l0.3-0.6-7.7-4.2-1.3,1.8z" fill="#f91400"/>
<path d="M451.5,123.5L452.8,123.7M450,119.3L454.5,120M448.6,115.1L456.3,116.2M447.1,110.9L458,112.4M445.7,106.8L459.8,108.7M461.6,104.9L447.8,102.8M463.3,101.1L450.8,98.9M465.1,97.4L453.7,94.9M466.8,93.6L456.7,91M468.6,89.8L459.7,87.1M462.6,83.3L462.6,83.3" class="cl"/>
<path d="M378.7,105.9l6.5,4.6 19.3-3.2-6.8-4.4z" fill="#52f800"/>
<path d="M405.1,108.6l4.8,3.7 18.8-3.2-5-3.6z" fill="#31f300"/>
<path d="M403,107l2.7,2.1 18.7-3.1-2.9-2.1z" fill="#52f800"/>
<path d="M433.7,126.9l0.7,2 18.1-3.4-0.7-2.1z" fill="#7200d4"/>
<path d="M433.2,125.4l0.7,2 18.1-3.4-0.8-2z" fill="#5600e4"/>
<path d="M432.7,123.9l0.7,2 18-3.4-0.7-2z" fill="#3b09ee"/>
<path d="M432.2,122.4l0.7,2 18-3.3-0.7-2.1z" fill="#1f14f6"/>
<path d="M431.7,120.9l0.7,2 18-3.3-0.7-2z" fill="#031ffe"/>
<path d="M431.2,119.4l0.7,2.1 18-3.4-0.7-2z" fill="#004eff"/>
<path d="M430.7,117.9l0.7,2.1 18-3.3-0.7-2.1z" fill="#0080ff"/>
<path d="M430.2,116.4l0.7,2.1 18-3.3-0.7-2z" fill="#00b3ff"/>
<path d="M429.7,114.9l0.7,2.1 18-3.2-0.7-2.1z" fill="#00dceb"/>
<path d="M429.2,113.5l0.7,2 18-3.2-0.7-2z" fill="#00f7bd"/>
<path d="M428.7,112l0.7,2 18-3.1-0.7-2.1z" fill="#00f97a"/>
<path d="M428.2,110.5l0.7,2.1 18-3.2-0.7-2z" fill="#00ef2d"/>
<path d="M427.7,109l0.7,2.1 18-3.1-0.7-2z" fill="#0eec00"/>
<path d="M427.6,108.7l0.3,0.9 18-3.1-0.3-0.9z" fill="#31f300"/>
<path d="M434,126.9L451.5,123.5M432.6,122.6L450,119.3M431.1,118.3L448.6,115.1M429.7,114L447.1,110.9M428.3,109.8L445.7,106.8" class="cl"/>
<path d="M388.7,113l2.6,1.8 19.4-2.6-4.8-3.7z" fill="#31f300"/>
<path d="M384.5,110l4.8,3.4 17.2-4.5-2.7-2.1z" fill="#52f800"/>
<path d="M415.6,130.3l0.7,2.1 18.7-3.6-0.7-2.1z" fill="#7200d4"/>
<path d="M415.1,128.8l0.7,2.1 18.7-3.6-0.7-2.1z" fill="#5600e4"/>
<path d="M414.6,127.2l0.7,2.1 18.7-3.5-0.7-2z" fill="#3b09ee"/>
<path d="M414.1,125.7l0.7,2.1 18.7-3.5-0.7-2z" fill="#1f14f6"/>
<path d="M413.6,124.2l0.7,2.1 18.7-3.5-0.7-2z" fill="#031ffe"/>
<path d="M413.1,122.7l0.7,2.1 18.7-3.5-0.7-2z" fill="#004eff"/>
<path d="M412.7,121.2l0.6,2.1 18.7-3.4-0.7-2.1z" fill="#0080ff"/>
<path d="M412.2,119.7l0.6,2 18.7-3.3-0.7-2.1z" fill="#00b3ff"/>
<path d="M411.7,118.1l0.6,2.1 18.7-3.3-0.7-2.1z" fill="#00dceb"/>
<path d="M411.2,116.6l0.7,2.1 18.6-3.3-0.7-2z" fill="#00f7bd"/>
<path d="M410.7,115.1l0.7,2.1 18.6-3.3-0.7-2z" fill="#00f97a"/>
<path d="M410.2,113.6l0.7,2.1 18.6-3.2-0.7-2.1z" fill="#00ef2d"/>
<path d="M409.7,112.1l0.7,2.1 18.6-3.2-0.7-2.1z" fill="#0eec00"/>
<path d="M409.6,111.8l0.3,0.9 18.6-3.2-0.3-0.9z" fill="#31f300"/>
<path d="M415.9,130.3L434,126.9M414.5,125.9L432.6,122.6M413.1,121.5L431.1,118.3M411.7,117.2L429.7,114M410.3,112.9L428.3,109.8" class="cl"/>
<path d="M396.9,133.9l0.7,2.1 19.3-3.7-0.7-2.1z" fill="#7200d4"/>
<path d="M396.5,132.3l0.6,2.1 19.3-3.6-0.7-2.1z" fill="#5600e4"/>
<path d="M396,130.8l0.6,2.1 19.3-3.7-0.7-2.1z" fill="#3b09ee"/>
<path d="M395.5,129.2l0.7,2.2 19.2-3.7-0.7-2.1z" fill="#1f14f6"/>
<path d="M395,127.7l0.7,2.1 19.2-3.6-0.7-2.1z" fill="#031ffe"/>
<path d="M394.6,126.2l0.6,2.1 19.2-3.6-0.7-2.1z" fill="#004eff"/>
<path d="M394.1,124.6l0.7,2.1 19.1-3.6-0.7-2z" fill="#0080ff"/>
<path d="M393.6,123.1l0.7,2.1 19.1-3.6-0.6-2.1z" fill="#00b3ff"/>
<path d="M393.2,121.6l0.6,2.1 19.1-3.6-0.6-2.1z" fill="#00dceb"/>
<path d="M392.7,120l0.7,2.1 19.1-3.5-0.7-2.1z" fill="#00f7bd"/>
<path d="M392.3,118.5l0.6,2.1 19.1-3.5-0.7-2.1z" fill="#00f97a"/>
<path d="M391.8,117l0.6,2.1 19.1-3.5-0.7-2.1z" fill="#00ef2d"/>
<path d="M391.3,115.5l0.7,2.1 19-3.5-0.7-2.1z" fill="#0eec00"/>
<path d="M390.9,114.2l0.6,1.9 19-3.5-0.3-0.9z" fill="#31f300"/>
<path d="M397.2,133.9L415.9,130.3M395.9,129.4L414.5,125.9M394.5,125L413.1,121.5M393.2,120.6L411.7,117.2M391.9,116.2L410.3,112.9" class="cl"/>
</g>
<path d="M341.8,141.2L337.4,19.5M341.8,141.2L398.2,186.1M398.2,186.1L514.2,158.4M341.8,141.2L338.9,141.9M346.1,144.6L343.2,145.3M350.6,148.1L347.7,148.8M355.2,151.8L352.2,152.5M359.9,155.6L357,156.3M364.8,159.5L361.9,160.2M369.9,163.5L367,164.2M375.2,167.7L372.2,168.4M380.6,172.1L377.7,172.8M386.3,176.6L383.3,177.3M392.1,181.3L389.2,182M398.2,186.1L395.3,186.8M398.2,186.1L400.6,188M416.5,181.8L418.8,183.6M434.2,177.5L436.5,179.4M451.2,173.4L453.6,175.3M467.7,169.5L470.1,171.4M483.7,165.7L486.1,167.5M499.2,162L501.5,163.8M514.2,158.4L516.5,160.2M341.4,130.3L338.5,130.8M341,118.5L338.1,119M340.6,106.6L337.6,107.1M340.1,94.5L337.2,95M339.7,82.3L336.7,82.8M339.3,70L336.3,70.5M338.8,57.5L335.9,58M338.3,44.8L335.4,45.4M337.9,32L334.9,32.6M337.4,19.1L334.5,19.7" class="ax"/>
<text class="zt" font-size="12.5" transform="matrix(0.840,-0.084,0,1,337.3,131.5)" text-anchor="end" y="4.1">-0.08</text>
<text class="zt" font-size="12.5" transform="matrix(0.840,-0.084,0,1,336.9,119.7)" text-anchor="end" y="4.1">-0.06</text>
<text class="zt" font-size="12.5" transform="matrix(0.840,-0.084,0,1,336.5,107.8)" text-anchor="end" y="4.1">-0.04</text>
<text class="zt" font-size="12.5" transform="matrix(0.840,-0.084,0,1,336.1,95.7)" text-anchor="end" y="4.1">-0.02</text>
<text class="zt" font-size="12.5" transform="matrix(0.840,-0.084,0,1,335.7,83.5)" text-anchor="end" y="4.1">0.00</text>
<text class="zt" font-size="12.5" transform="matrix(0.840,-0.084,0,1,335.3,71.2)" text-anchor="end" y="4.1">0.02</text>
<text class="zt" font-size="12.5" transform="matrix(0.840,-0.084,0,1,334.9,58.7)" text-anchor="end" y="4.1">0.04</text>
<text class="zt" font-size="12.5" transform="matrix(0.840,-0.084,0,1,334.4,46)" text-anchor="end" y="4.1">0.06</text>
<text class="zt" font-size="12.5" transform="matrix(0.840,-0.084,0,1,334,33.2)" text-anchor="end" y="4.1">0.08</text>
<text class="zt" font-size="12.5" transform="matrix(0.840,-0.084,0,1,333.6,20.3)" text-anchor="end" y="4.1">0.10</text>
<text class="ttl" font-size="11" transform="translate(306,85) rotate(90)" text-anchor="middle" y="2.8">Shape coefficient</text>
<text class="ft" font-size="6.8" transform="matrix(0.706,-0.558,0.704,0.561,338.8,143.5)" text-anchor="end" y="2.2">1</text>
<text class="ft" font-size="6.8" transform="matrix(0.706,-0.558,0.704,0.561,343.1,147)" text-anchor="end" y="2.2">2</text>
<text class="ft" font-size="6.8" transform="matrix(0.706,-0.558,0.704,0.561,347.6,150.5)" text-anchor="end" y="2.2">3</text>
<text class="ft" font-size="6.8" transform="matrix(0.706,-0.558,0.704,0.561,352.2,154.2)" text-anchor="end" y="2.2">4</text>
<text class="ft" font-size="6.8" transform="matrix(0.706,-0.558,0.704,0.561,356.9,157.9)" text-anchor="end" y="2.2">5</text>
<text class="ft" font-size="6.8" transform="matrix(0.706,-0.558,0.704,0.561,361.8,161.8)" text-anchor="end" y="2.2">6</text>
<text class="ft" font-size="6.8" transform="matrix(0.706,-0.558,0.704,0.561,366.9,165.9)" text-anchor="end" y="2.2">7</text>
<text class="ft" font-size="6.8" transform="matrix(0.706,-0.558,0.704,0.561,372.2,170.1)" text-anchor="end" y="2.2">8</text>
<text class="ft" font-size="6.8" transform="matrix(0.706,-0.558,0.704,0.561,377.6,174.4)" text-anchor="end" y="2.2">9</text>
<text class="ft" font-size="6.8" transform="matrix(0.706,-0.558,0.704,0.561,383.3,178.9)" text-anchor="end" y="2.2">10</text>
<text class="ft" font-size="6.8" transform="matrix(0.706,-0.558,0.704,0.561,389.2,183.6)" text-anchor="end" y="2.2">11</text>
<text class="ft" font-size="6.8" transform="matrix(0.706,-0.558,0.704,0.561,395.2,188.5)" text-anchor="end" y="2.2">12</text>
<text class="ft" font-size="6.8" transform="matrix(0.402,0.805,-0.875,0.209,399.9,189.5)" text-anchor="start" y="2.2">8</text>
<text class="ft" font-size="6.8" transform="matrix(0.402,0.805,-0.875,0.209,418.2,185.2)" text-anchor="start" y="2.2">7</text>
<text class="ft" font-size="6.8" transform="matrix(0.402,0.805,-0.875,0.209,435.9,180.9)" text-anchor="start" y="2.2">6</text>
<text class="ft" font-size="6.8" transform="matrix(0.402,0.805,-0.875,0.209,452.9,176.8)" text-anchor="start" y="2.2">5</text>
<text class="ft" font-size="6.8" transform="matrix(0.402,0.805,-0.875,0.209,469.4,172.9)" text-anchor="start" y="2.2">4</text>
<text class="ft" font-size="6.8" transform="matrix(0.402,0.805,-0.875,0.209,485.4,169.1)" text-anchor="start" y="2.2">3</text>
<text class="ft" font-size="6.8" transform="matrix(0.402,0.805,-0.875,0.209,500.9,165.4)" text-anchor="start" y="2.2">2</text>
<text class="ft" font-size="6.8" transform="matrix(0.402,0.805,-0.875,0.209,515.9,161.8)" text-anchor="start" y="2.2">1</text>
<text class="ttl" font-size="10" transform="translate(348.5,170.3) rotate(41.0) skewX(0.0) scale(0.620,0.750)" text-anchor="middle" y="2.5" style="white-space:pre" xml:space="preserve">Number of columns of PV modules</text>
<text class="ttl" font-size="10" transform="translate(465.6,181.5) rotate(-13.4) skewX(0.0) scale(1.070,0.880)" text-anchor="middle" y="2.5" style="white-space:pre" xml:space="preserve">Number of rows of PV modules</text>
</g>
<g id="plot-e">
<path d="M50.3,384.9L124.5,352.1M124.5,352.1L124.1,244.6M58.8,387.4L132.3,353.9M132.3,353.9L132.4,245.3M67.4,389.9L140.4,355.7M140.4,355.7L140.9,246.1M76.3,392.5L148.5,357.5M148.5,357.5L149.6,246.9M85.3,395.2L156.9,359.4M156.9,359.4L158.5,247.8M94.6,397.9L165.4,361.3M165.4,361.3L167.6,248.6M104.1,400.7L174.1,363.3M174.1,363.3L176.9,249.5M113.9,403.5L183,365.3M183,365.3L186.4,250.4M123.9,406.5L192,367.3M192,367.3L196.1,251.3M134.1,409.5L201.3,369.4M201.3,369.4L206,252.2M144.6,412.6L210.7,371.6M210.7,371.6L216.1,253.1M155.4,415.7L220.4,373.7M220.4,373.7L226.5,254.1M50.3,384.9L155.4,415.7M50.3,384.9L44.5,258.9M62.5,379.5L166.3,408.7M62.5,379.5L57.7,256.5M74.1,374.4L176.6,402.1M74.1,374.4L70.2,254.3M85.1,369.5L186.3,395.8M85.1,369.5L82.1,252.1M95.7,364.8L195.5,389.8M95.7,364.8L93.4,250.1M105.7,360.4L204.2,384.2M105.7,360.4L104.1,248.2M115.3,356.1L212.5,378.8M115.3,356.1L114.3,246.3M124.5,352.1L220.4,373.7M124.5,352.1L124.1,244.6M49.2,360.6L124.4,331.2M124.4,331.2L221.6,350.6M48.1,337.5L124.3,311.4M124.3,311.4L222.7,328.7M47,313.8L124.2,291.2M124.2,291.2L223.8,306.1M45.9,289.5L124.2,270.5M124.2,270.5L225,283.1M44.7,264.5L124.1,249.3M124.1,249.3L226.2,259.4" class="grid"/>
<path d="M44.5,258.9L124.1,244.6M124.1,244.6L226.5,254.1M226.5,254.1L220.4,373.7" class="frame"/>
<path d="M50.3,384.9L124.5,352.1M124.5,352.1L220.4,373.7" class="frame2"/>
<path d="M124.1,244.6L124.5,352.1" class="frame3"/>
<g>
<path d="M119.3,271.8l3.7-1.8-0.1-1.8zM122.4,270.3l1.6-0.8 2.8-2.7 0-1.2-2.8,1.7-1.7,1.5z" fill="#fc0000"/>
<path d="M126.3,267.3l2.3-2.5-2.4,1.2z" fill="#fb0000"/>
<path d="M122.9,269.7L122.9,268.7" class="cl"/>
<path d="M123.1,269.8l4-2-0.4-1.7z" fill="#fc0000"/>
<path d="M126.5,268.1l1.3-0.7 3.1-2.9-0.3-1-2.9,1.6-1.5,1.4z" fill="#fb0000"/>
<path d="M130.4,264.9l2-2.2-2.3,1.1z" fill="#eb0000"/>
<path d="M126.9,267.7l4.7-1.9 0.4-0.3-1.5-1.6z" fill="#fb0000"/>
<path d="M131.5,265.9l4.2-4-0.5-0.5-3.7,1.6-1.4,1.4z" fill="#eb0000"/>
<path d="M135.3,262.3l1-1.2-1.7,0.6z" fill="#d80000"/>
<path d="M115.1,275.7l4.1-1.9-0.4-1.9zM118.7,274.1l1-0.6 3.4-3.2-0.2-0.9-3.1,1.6-1.5,1.4zM122.6,270.8l1.9-2-2.2,0.9z" fill="#fc0000"/>
<path d="M123,270L122.9,269.7" class="cl"/>
<path d="M130.7,266l1.4-0.4-0.5-0.6z" fill="#fb0000"/>
<path d="M131.5,265.9l4-1.7 1.4-1.2-1.6-1.5-4.2,4z" fill="#eb0000"/>
<path d="M136.4,263.4l3.8-3.7-4.8,1.7-0.6,0.5z" fill="#d80000"/>
<path d="M138.9,260.7L138.6,260.5" class="cl"/>
<path d="M118.9,273.8l4.4-2.2-0.4-2zM122.7,271.9l0.9-0.4 3.5-3.5-0.2-0.8-3.3,1.8-1.2,1.1z" fill="#fc0000"/>
<path d="M126.6,268.5l1.7-1.8-1.9,0.8z" fill="#fb0000"/>
<path d="M123.2,271.3L123,270" class="cl"/>
<path d="M134.6,264.4l3-0.9-1.2-0.9z" fill="#eb0000"/>
<path d="M136.9,263.7l2.5-0.8 3-2.6-1.3-0.9-1.8,0.5-3.3,3.1z" fill="#d80000"/>
<path d="M142,260.7l2.1-2.1-3.8,1z" fill="#c60000"/>
<path d="M140.3,261.7L138.9,260.7" class="cl"/>
<path d="M122.7,271.7l4.7-1.9 0.6-0.6-1.2-1.7z" fill="#fc0000"/>
<path d="M127.6,269.6l4.6-4.5-4.8,1.8-1,1z" fill="#fb0000"/>
<path d="M110.8,279.9l4.7-2 0.3-0.4-0.9-1.8z" fill="#fd0000"/>
<path d="M115.3,278l4.1-4.1-0.4-0.7-3.4,1.7-1.2,1.2zM118.9,274.4l1.4-1.6-1.8,0.7z" fill="#fc0000"/>
<path d="M138.5,263l5-1.6-1.5-1.5z" fill="#d80000"/>
<path d="M142.9,261.6l0.5-0.1 4.7-4-4.9,1.3-1.7,1.5z" fill="#c60000"/>
<path d="M140.7,262.1L140.3,261.7" class="cl"/>
<path d="M126.5,270l1.6-0.6-0.4-0.8z" fill="#fc0000"/>
<path d="M127.6,269.7l3.7-1.8 1.4-1.2-1-1.6-0.4,0.2-4,3.8z" fill="#fb0000"/>
<path d="M132.2,267.1l3.9-3.6-4.9,1.9z" fill="#eb0000"/>
<path d="M114.6,278.1l1.2-0.4-0.2-0.8z" fill="#fd0000"/>
<path d="M115.3,278l4-2.2 0.5-0.5-0.7-2-4,4.1zM119.3,275.8l4.1-4.1-0.3-0.7-3.7,2-0.7,0.8zM122.9,272.1l1.2-1.4-1.5,0.6z" fill="#fc0000"/>
<path d="M123.2,271.4L123.2,271.3" class="cl"/>
<path d="M142.5,261.6l5-1.5 1.9-1.4-1.2-1.3-1,0.2z" fill="#c60000"/>
<path d="M148.9,259l3.3-2.5-4.7,1.1z" fill="#b20000"/>
<path d="M130.4,268.1l2.5-0.8-0.5-1.1z" fill="#fb0000"/>
<path d="M132.4,267.5l2.9-1.2 2.6-2.2-0.8-1.1-1.9,0.7-3.3,2.9z" fill="#eb0000"/>
<path d="M137.4,264.5l2.6-2.3-3.5,1z" fill="#d80000"/>
<path d="M118.4,276l1.6-0.5-0.5-0.8zM119.4,275.7l3.8-1.7 1.1-1.2-1.2-1.7-4.1,4.1zM123.9,273.3l4.1-4.3-4.8,2-0.6,0.6z" fill="#fc0000"/>
<path d="M124.2,272.6L123.2,271.4" class="cl"/>
<path d="M106.4,284l4.7-1.5 1.3-1.4-1.3-1.7zM112,281.6l4-4.5-4.6,2-0.7,0.7z" fill="#fd0000"/>
<path d="M109.9,282.6L109.1,281.7" class="cl"/>
<path d="M146.5,260.1l4.1-0.7-1.7-1.2z" fill="#c60000"/>
<path d="M149.8,259.6l1.7-0.4 4.7-3.1-4.9,0.5-2.9,2z" fill="#b20000"/>
<path d="M134.4,266.4l3.5-1.3-0.2-1.6z" fill="#eb0000"/>
<path d="M137.3,265.4l2-0.9 4.1-3-0.2-0.6-4.1,1.4-2,1.7z" fill="#d80000"/>
<path d="M142.8,261.9l1.2-1.1-1.4,0.3z" fill="#c60000"/>
<path d="M140.9,262.9L140.7,262.1" class="cl"/>
<path d="M122.3,274.3l2.2-1-0.4-1zM123.9,273.6l3.2-1.7 1.5-1.4-0.7-1.6-0.8,0.4-3.5,3.4z" fill="#fc0000"/>
<path d="M128.2,270.9l3.7-3.7-4.6,2z" fill="#fb0000"/>
<path d="M124.3,273L124.2,272.6" class="cl"/>
<path d="M110.3,282.8l2.7-1.1-0.9-1.1zM112.4,282l2.6-1.2 1.7-2-1.2-1.6-0.4,0.2-3.5,3.7z" fill="#fd0000"/>
<path d="M116.3,279.2l3.5-4.2-4.8,2.4z" fill="#fc0000"/>
<path d="M150.6,259.2l5-0.6 4.8-2.7-5.1,0.2z" fill="#b20000"/>
<path d="M138.4,264.7l4.5-1.8 0.6-2.2z" fill="#d80000"/>
<path d="M142.1,263.2l1.2-0.5 4.8-3.3-5,1.5-0.3,0.3z" fill="#c60000"/>
<path d="M140.7,263.5L140.9,262.9" class="cl"/>
<path d="M126.2,272.2l2.5-1.1-0.3-1.2z" fill="#fc0000"/>
<path d="M128.2,271.4l2.8-1.5 2.2-1.8-0.5-1.4-1.7,0.7-3.1,2.9z" fill="#fb0000"/>
<path d="M132.7,268.5l3.1-3-3.7,1.5z" fill="#eb0000"/>
<path d="M114.1,281.1l4.1-1.5-1.9-1.2z" fill="#fd0000"/>
<path d="M117.5,279.9l1.3-0.5 2.5-3.1-1.7-1.3-0.7,0.3-3,3.5zM121,276.7l2.7-3.5-4.8,2.1z" fill="#fc0000"/>
<path d="M101.9,287.9l1.8-0.2-1-0.5zM102.8,287.8l3.9-0.1 2.6-3.1-2.3-1.4-4.8,4.4z" fill="#fe0000"/>
<path d="M108.9,285.1l2.8-3.3-4.7,1.5-0.4,0.3z" fill="#fd0000"/>
<path d="M110.4,282.9L109.9,282.6" class="cl"/>
<path d="M154.7,258.5l5,0.6 4.8-2.7-5-0.6z" fill="#b20000"/>
<path d="M142.4,262.8l5-1.4 2.6-1.4 0.2-1.1-3,0.6z" fill="#c60000"/>
<path d="M149.3,260.4l2.9-1.8-2.6,0.4z" fill="#b20000"/>
<path d="M130.2,270.2l2.9-1.3 0.1-1.6z" fill="#fb0000"/>
<path d="M132.4,269.2l2.7-1.4 2.8-2.2 0-1.1-2.9,1.2-2.4,2.1z" fill="#eb0000"/>
<path d="M137.2,266.1l2.7-2.3-2.6,0.9z" fill="#d80000"/>
<path d="M118,279.7l4.9-2.2-2-1.6zM122.3,277.8l0.5-0.3 2.8-3.6-1.5-1.1-1.3,0.7-2.3,2.9zM125.2,274.4l2.4-3.3-4.1,2z" fill="#fc0000"/>
<path d="M125.3,273.8L124.3,273" class="cl"/>
<path d="M105.8,287.8l4.8-0.9 0.9-1.3-2.7-1.3z" fill="#fe0000"/>
<path d="M111.2,286.1l2.8-3.9-1.5-0.9-1.7,0.7-2.4,2.8zM113.7,282.6l1.7-2.6-3.6,1.6z" fill="#fd0000"/>
<path d="M112.3,284L110.4,282.9" class="cl"/>
<path d="M158.8,259l5.1,0.6 4.8-2.7-5.1-0.6z" fill="#b20000"/>
<path d="M146.5,261.4l2.9-0.6 1-1.6z" fill="#c60000"/>
<path d="M148.6,261.1l2.9-0.8 4.8-2.2-5,0.5-1.7,1z" fill="#b20000"/>
<path d="M134.2,268l3.1-1.4 0.8-1.8z" fill="#eb0000"/>
<path d="M136.5,267l2.6-1.4 3.6-2.5 0.6-1-4.3,1.9-1.7,1.3z" fill="#d80000"/>
<path d="M141.9,263.5l2-1.5-1.5,0.5z" fill="#c60000"/>
<path d="M140.1,264.6L140.7,263.5" class="cl"/>
<path d="M121.9,277.8l4.9-2.2 0.4-0.6-2.1-1.4zM126.8,275.5l3-3.9-1.4-1-1.7,0.9-2,2.6z" fill="#fc0000"/>
<path d="M129.5,272l2-2.9-3.7,1.8z" fill="#fb0000"/>
<path d="M126.9,274.9L125.3,273.8" class="cl"/>
<path d="M109.7,287.1l4.4-0.7-3.1-1.1z" fill="#fe0000"/>
<path d="M113.2,286.6l1.3-0.1 2.1-3.5-3.1-1.1-2.9,4zM116.3,283.5l2.4-3.8-1.1-0.5-3,1.1-1.5,2.1z" fill="#fd0000"/>
<path d="M118.4,280.2l0.9-1.6-2.6,0.9z" fill="#fc0000"/>
<path d="M115.1,284.8L112.3,284" class="cl"/>
<path d="M97.6,291.8l4.6,1.2 1.1-1.3-4.9-0.6z" fill="#ff0000"/>
<path d="M102.8,292.2l3.5-4.1-3.4-0.9-0.3,0-4.8,4.4zM105.9,288.6l1.3-1.6-5.2,0.4z" fill="#fe0000"/>
<path d="M163,259.4l5.1,1 4.8-2.5-5.1-1.2zM150.6,260.1l5,0.7 4.9-2.1-5-0.7z" fill="#b20000"/>
<path d="M138.2,265.7l3.8-1.4 1-2z" fill="#d80000"/>
<path d="M141.2,264.6l2-0.8 4.9-3-5.1,1.4-0.8,0.5z" fill="#c60000"/>
<path d="M139.9,264.9L140.1,264.6" class="cl"/>
<path d="M125.9,275.9l1.6-0.7-0.8-0.5zM126.9,275.6l3.9-2 0.7-0.9-2.2-1.5-3,4z" fill="#fc0000"/>
<path d="M131.1,273.1l3-3.9-1.3-0.9-2.1,1.1-1.7,2.3z" fill="#fb0000"/>
<path d="M133.7,269.7l1.8-2.7-3.3,1.7z" fill="#eb0000"/>
<path d="M127.2,275.1L126.9,274.9" class="cl"/>
<path d="M113.6,286.6l4.8-1 1-1.7-3.4-1.1zM119.1,284.4l2-3.8-3-1.2-2.4,3.9z" fill="#fd0000"/>
<path d="M120.8,281.1l2.1-3.8-0.6-0.2-3.8,1.8-0.7,1.1zM122.6,277.8l0.6-1.1-1.6,0.7z" fill="#fc0000"/>
<path d="M117.4,285.5L115.1,284.8" class="cl"/>
<path d="M101.4,292.9l4.7,0.4 0.6-0.9-4.1-0.8z" fill="#ff0000"/>
<path d="M106.3,293l2.8-4-3.5-1-3.5,4.1zM108.7,289.5l2.4-3.3-4.7,0.9-1.2,1.4z" fill="#fe0000"/>
<path d="M167.3,260.2l5.1,1.6 4.6-2.2-5-1.9zM154.8,260.6l5.1,0.6 4.8-2.1-5.1-0.6z" fill="#b20000"/>
<path d="M142.3,263.9l5.1-1.7 0.6-0.3 2-1.7-2.8,0.6z" fill="#c60000"/>
<path d="M147.1,262.1l5.1-2.4-3.1,0.6z" fill="#b20000"/>
<path d="M129.9,273.9l2-0.9-0.9-0.7z" fill="#fc0000"/>
<path d="M131.3,273.3l3.6-2 0.7-1-2-1.5-3,4z" fill="#fb0000"/>
<path d="M135.3,270.8l2.9-4-1.1-0.8-2.4,1.3-1.5,2z" fill="#eb0000"/>
<path d="M137.9,267.3l1.7-2.6-3.1,1.6z" fill="#d80000"/>
<path d="M117.6,285.8l4.4-1.1-3.2-1zM121.1,285l1.3-0.4 1.6-3.2-3.4-1-2.1,3.8z" fill="#fd0000"/>
<path d="M123.7,282l1.8-3.8-3.2-1.1-2,3.8zM125.3,278.7l1.9-3.9-4.8,2.3-0.3,0.5z" fill="#fc0000"/>
<path d="M105.4,293.2l4.6,0.6 0.4-0.7-4.4-0.8z" fill="#ff0000"/>
<path d="M110.1,293.6l2.4-3.9-4-0.9-2.9,4.1zM112.2,290.2l2.3-3.9-1.3-0.3-3,0.4-2.1,3z" fill="#fe0000"/>
<path d="M114.2,286.9l0.7-1.1-2.5,0.5z" fill="#fd0000"/>
<path d="M93.1,296.1l4.5,2.4 2.6-3.2-6-0.2z" fill="#ff0c00"/>
<path d="M99.7,295.9l2.9-3.4-4.5-1.1-4.5,4.3z" fill="#ff0000"/>
<path d="M99.4,295.8L94.1,295.6" class="cl"/>
<path d="M172.6,261.7l4.1,1.4 4.6-1.9-1-0.4z" fill="#c60000"/>
<path d="M171.5,261.5l2,0.6 7.7-0.9-5-1.9zM159,261l5.1,0.8 4.8-1.7-5.1-1.1z" fill="#b20000"/>
<path d="M146.4,262.1l5.1,0.6 1.4-0.7-5.1-0.6z" fill="#c60000"/>
<path d="M152.1,262.4l4.3-2-5-0.7-4.4,2.1z" fill="#b20000"/>
<path d="M134,271.6l2.4-0.9-1.3-0.7z" fill="#fb0000"/>
<path d="M135.7,271l3.3-1.5 1.3-1.7-2.6-1.3-2.9,4z" fill="#eb0000"/>
<path d="M139.9,268.2l3-4-1.1-0.5-3,1.4-1.5,1.9z" fill="#d80000"/>
<path d="M142.5,264.7l1.3-1.7-2.7,1.1z" fill="#c60000"/>
<path d="M141.5,265.7L139.9,264.9" class="cl"/>
<path d="M121.6,284.8l4.8-1.3 0.6-1.3-3.6-0.9z" fill="#fd0000"/>
<path d="M126.8,282.8l1.6-3.8-3.5-1-1.8,3.8zM128.2,279.6l1.6-3.8-2.9-0.9-0.6,0.3-1.6,3.4zM129.6,276.4l1.6-3.7-5.1,2.6z" fill="#fc0000"/>
<path d="M129.5,275.8L127.2,275.1" class="cl"/>
<path d="M109.3,293.8l3.2-0.1-2.7-0.7z" fill="#ff0000"/>
<path d="M111.6,293.9l2.3,0.2 2-3.7-4-0.8-2.4,3.9zM115.6,291l2-3.9-3.7-0.9-2.4,3.9z" fill="#fe0000"/>
<path d="M117.3,287.7l1.5-2.8-4.7,1-0.5,0.8z" fill="#fd0000"/>
<path d="M118,285.7L117.4,285.5" class="cl"/>
<path d="M97,298.2l4.5,1.6 2.7-3.9-4.7-0.6z" fill="#ff0c00"/>
<path d="M103.8,296.5l2.7-3.8-4.6-0.3-2.9,3.4z" fill="#ff0000"/>
<path d="M103.5,296.3L99.4,295.8" class="cl"/>
<path d="M175.8,262.8l5.2,1.5 4.7-1.5-5.2-1.9z" fill="#c60000"/>
<path d="M163.2,261.5l5.2,1.3 4.8-1.3-5.1-1.7z" fill="#b20000"/>
<path d="M150.6,262.5l4.2,0.2-2.8-0.9z" fill="#c60000"/>
<path d="M153.9,262.8l1.8,0.2 5-2.3-5.2-0.5-4.3,2z" fill="#b20000"/>
<path d="M138.1,269.8l3.8-1.4-2.2-0.9z" fill="#eb0000"/>
<path d="M141.1,268.7l2-0.8 2.1-2.7-2.8-1.2-3,4z" fill="#d80000"/>
<path d="M144.8,265.7l3.1-4.3-5,1.9-0.9,1.2z" fill="#c60000"/>
<path d="M143.7,266.6L141.5,265.7" class="cl"/>
<path d="M125.6,283.9l2.8-1.2-2-0.6z" fill="#fd0000"/>
<path d="M127.6,283l2.9-1.2 0.8-1.9-3.5-1.1-1.6,3.8zM131.1,280.4l1.6-3.7-3.4-1.1-1.7,3.8zM132.4,277.2l1.6-3.8-2.7-0.8-1,0.5-1.3,3.1z" fill="#fc0000"/>
<path d="M133.8,274l1.4-3.5-4.6,2.5z" fill="#fb0000"/>
<path d="M132.3,276.6L129.5,275.8" class="cl"/>
<path d="M113.3,294l4.6,0.1 1.4-2.9-4.1-0.9zM119,291.7l1.8-3.8-3.8-0.9-2,3.9z" fill="#fe0000"/>
<path d="M120.6,288.5l1.8-3.8-1.3-0.4-3.1,0.8-1.3,2.4zM122.1,285.2l0.6-1.3-2.5,0.7z" fill="#fd0000"/>
<path d="M121.2,286.5L118,285.7" class="cl"/>
<path d="M101.8,299.7l3.6,1.5 0.8-1.3z" fill="#ff2700"/>
<path d="M100.9,299.5l1.6,0.6 3.4,0.4 2.4-4-4.8-0.7z" fill="#ff0c00"/>
<path d="M108,297l2.3-3.8-4.5-0.5-2.7,3.7z" fill="#ff0000"/>
<path d="M107.7,296.9L103.5,296.3" class="cl"/>
<path d="M88.2,299.5l4.6,3.8 4.2-4.3z" fill="#ff2700"/>
<path d="M88.4,299.7l0.5,0.3 7.5-0.3 1.6-1.7-4.4-2.3z" fill="#ff0c00"/>
<path d="M184.7,266.2l5.3-0.9-1.3-0.7z" fill="#d80000"/>
<path d="M180.1,264l5.2,2.3 0.3-0.1 3.8-1.2-4.6-2.5zM169,262.9l3.7,0.9 4.8-1-4-1.3z" fill="#c60000"/>
<path d="M167.5,262.5l2.3,0.6 4.6-1.3-2.1-0.7zM154.8,262.8l5.2,0.6 4.9-2-5.1-0.8z" fill="#b20000"/>
<path d="M142.4,267.9l4.9,1 2.4-3.4-5.1-0.5z" fill="#d80000"/>
<path d="M149.3,266l2.7-3.9-4.9-0.5-2.9,3.9z" fill="#c60000"/>
<path d="M148.2,267.1L143.7,266.6" class="cl"/>
<path d="M129.8,282.1l4.4-1.5-3.5-0.9zM133.3,281l1.3-0.4 1.3-3.2-3.8-0.9-1.6,3.8zM135.6,278l1.6-3.8-3.8-0.9-1.5,3.8z" fill="#fc0000"/>
<path d="M136.9,274.8l1.5-3.8-2.7-0.7-1.3,0.6-1.2,2.9z" fill="#fb0000"/>
<path d="M138.2,271.6l1.1-2.9-4.4,2z" fill="#eb0000"/>
<path d="M135.5,277.4L132.3,276.6" class="cl"/>
<path d="M117.3,294.1l4.7-0.2 0.8-2-4.1-0.8zM122.6,292.5l1.6-3.8-4-0.9-1.8,3.8z" fill="#fe0000"/>
<path d="M124,289.3l1.6-3.8-3.8-1-1.8,3.8zM125.4,286l1.3-3.2-4.7,1.3-0.5,1z" fill="#fd0000"/>
<path d="M124.5,287.3L121.2,286.5" class="cl"/>
<path d="M104.8,301l4.6,1.5 1.1-2-4.9-0.7z" fill="#ff2700"/>
<path d="M110.2,301l2.1-3.9-4.6-0.7-2.5,4z" fill="#ff0c00"/>
<path d="M112,297.7l2.1-3.9-2.4-0.5-2-0.1-2.4,3.7z" fill="#ff0000"/>
<path d="M113.8,294.3l0.5-0.8-3.5,0z" fill="#fe0000"/>
<path d="M111.7,297.5L107.7,296.9" class="cl"/>
<path d="M92.8,303.1l4,2.4 1.9-2.3z" fill="#ff4300"/>
<path d="M92.3,302.9l1.2,0.7 4.7,0.1 3.5-4.2-5.6-0.4z" fill="#ff2700"/>
<path d="M101.2,300l0.7-0.7-4.5-1.5-1.8,1.8z" fill="#ff0c00"/>
<path d="M184.6,266l5.1,2.3 4.6-0.5-5.1-2.9-3.8,0.8z" fill="#d80000"/>
<path d="M188.6,267.5L191.1,266.3" class="cl"/>
<path d="M171.8,263.5l5.3,1.1 4.7-0.5-5.1-1.6zM162.9,263.6l1.4,0.4 1.2-0.6z" fill="#c60000"/>
<path d="M159.1,263.2l4.7,0.7 1,0 4.4-1.4-5.1-1.3z" fill="#b20000"/>
<path d="M146.6,268.8l5,0.7 2.3-3.5-4.9-0.6z" fill="#d80000"/>
<path d="M153.5,266.5l2.6-4-2.1-0.2-2.7-0.2-2.7,3.9z" fill="#c60000"/>
<path d="M155.8,263.1l0.4-0.7-3.1,0.1z" fill="#b20000"/>
<path d="M152.5,267.6L148.2,267.1" class="cl"/>
<path d="M133.9,280.8l4.9-1.3 0.5-1.3-4-0.9zM139.1,278.7l1.4-3.8-3.9-0.8-1.5,3.7z" fill="#fc0000"/>
<path d="M140.3,275.5l1.4-3.8-3.9-0.8-1.5,3.7z" fill="#fb0000"/>
<path d="M141.5,272.3l1.5-3.8-1.9-0.4-2.6,1-0.9,2.3z" fill="#eb0000"/>
<path d="M142.7,269.1l0.8-1.9-3.3,1.3z" fill="#d80000"/>
<path d="M139,278.2L135.5,277.4" class="cl"/>
<path d="M121.3,294.1l4.4-1.3-3.5-1zM124.9,293.1l1.2-0.3 1.3-3.2-3.8-1.1-1.6,3.9z" fill="#fe0000"/>
<path d="M127.2,290.1l1.5-3.8-3.7-1-1.6,3.8zM128.5,286.9l1.5-3.8-2.4-0.7-1.6,0.7-1.2,2.8z" fill="#fd0000"/>
<path d="M129.8,283.7l1-2.6-4.1,1.7z" fill="#fc0000"/>
<path d="M127.6,288.1L124.5,287.3" class="cl"/>
<path d="M108.8,302.3l4.6,1.1 1.1-2.3-4.6-0.7z" fill="#ff2700"/>
<path d="M114.3,301.7l1.8-3.9-4.4-0.8-2.1,3.9z" fill="#ff0c00"/>
<path d="M115.9,298.4l1.8-3.9-4.2-0.9-2.1,4z" fill="#ff0000"/>
<path d="M117.5,295l0.7-1.5-4.6-0.1-0.4,0.8z" fill="#fe0000"/>
<path d="M115.6,298.2L111.7,297.5" class="cl"/>
<path d="M99.6,307.1l1.2,0.8 0.6-0.8z" fill="#ff6400"/>
<path d="M96.3,305.2l4,2.4 0.7,0 2.9-4.1-5.9-0.4z" fill="#ff4300"/>
<path d="M103.5,304l2.3-3.3-3.1-1.2-1.7-0.1-3.5,4.3z" fill="#ff2700"/>
<path d="M103.4,300l-2.1-1-0.8,1z" fill="#ff0c00"/>
<path d="M192.6,269.9l1.5,0.8 4.6,0-3.8-2.6z" fill="#eb0000"/>
<path d="M188.9,267.8l4.2,2.4 2.3-1.7-1.9-1.2z" fill="#d80000"/>
<path d="M85.2,304l2.8,3.1 4.9-4z" fill="#ff4300"/>
<path d="M83.6,302.4l2.1,2.2 6.6-0.9 1-0.8-4.3-3.5-0.3,0.1z" fill="#ff2700"/>
<path d="M89.7,299.9l-0.8-0.6-0.9,0.8z" fill="#ff0c00"/>
<path d="M176.2,264.2l5.2,1.9 4.8,0.1-5.2-2.5zM163.4,263.8l5.3,0.9 4.9-1.2-3.8-1-5.2,0.8z" fill="#c60000"/>
<path d="M170.7,262.9l-2.3-0.7-4.5,1.6z" fill="#b20000"/>
<path d="M150.9,269.4l5,0.8 2.3-3.7-5-0.6z" fill="#d80000"/>
<path d="M157.8,267l2.6-4-4.9-0.6-2.7,4.1z" fill="#c60000"/>
<path d="M160,263.6l0.5-0.8-5-0.5-0.4,0.7z" fill="#b20000"/>
<path d="M156.8,268L152.5,267.6" class="cl"/>
<path d="M138.2,279.4l4.7,2.1 1.1-3-5.3-0.4zM143.8,279.1l1.3-3.8-5.2-0.5-1.4,3.8z" fill="#fc0000"/>
<path d="M144.9,275.9l1.3-3.8-5.1-0.5-1.4,3.8z" fill="#fb0000"/>
<path d="M146,272.7l1.4-3.8-5-0.5-1.5,3.8z" fill="#eb0000"/>
<path d="M147.1,269.5l0.5-1.2-4.8-1-0.7,1.7z" fill="#d80000"/>
<path d="M143.6,278.6L139,278.2" class="cl"/>
<path d="M125.4,293l4.8-0.9 0.7-1.7-4.1-1z" fill="#fe0000"/>
<path d="M130.6,290.9l1.5-3.8-4-0.9-1.5,3.8zM131.9,287.7l1.5-3.8-4-1-1.5,3.8z" fill="#fd0000"/>
<path d="M133.1,284.4l1.5-3.8-1.3-0.3-3.2,1.1-0.9,2.1zM134.4,281.2l0.5-1.4-2.4,0.9z" fill="#fc0000"/>
<path d="M131.1,288.9L127.6,288.1" class="cl"/>
<path d="M112.8,303.3l4.7,0.9 1-2.4-4.6-0.8z" fill="#ff2700"/>
<path d="M118.3,302.4l1.7-3.9-4.5-0.8-1.9,3.9z" fill="#ff0c00"/>
<path d="M119.7,299.1l1.7-3.9-4.3-0.8-1.8,3.8z" fill="#ff0000"/>
<path d="M121.2,295.8l1-2.5-4.6,0.2-0.7,1.4z" fill="#fe0000"/>
<path d="M119.5,298.9L115.6,298.2" class="cl"/>
<path d="M100.3,307.6l4.5,2.6 1.7-2.8-5.8-0.4z" fill="#ff6400"/>
<path d="M106.1,308l2.5-4.1-5.4-0.5-2.9,4.2z" fill="#ff4300"/>
<path d="M108.2,304.5l1.5-2.6-4.5-1.4-2.4,3.5z" fill="#ff2700"/>
<path d="M104.7,309.8L104.7,309.8" class="cl"/>
<path d="M199.1,273.3l3.9,0.6-3.1-2.3z" fill="#fb0000"/>
<path d="M193.3,270.1l5.2,3.1 1.2,0.2 0.7-1.5-2.5-1.7z" fill="#eb0000"/>
<path d="M88.5,307.4l3.5,2.9 3.3-3.3z" fill="#ff6400"/>
<path d="M87.6,306.7l1.6,1.3 5.4-0.3 2.6-2.6-3.5-2.1-1.7,0.1z" fill="#ff4300"/>
<path d="M94.5,303.5l-1.7-1-1.4,1.2z" fill="#ff2700"/>
<path d="M186.3,267.7l4.2,0.6-5.8-2.8z" fill="#d80000"/>
<path d="M180.6,265.6l5.2,2 1.4,0.3-1.7-2.2z" fill="#c60000"/>
<path d="M188.9,267.9L188.6,267.5" class="cl"/>
<path d="M167.8,264.4l5.3,0.7 4.8-0.7-5.2-1.2z" fill="#c60000"/>
<path d="M155.2,270.1l5,0.8 2.5-4-5.2-0.5z" fill="#d80000"/>
<path d="M162.3,267.5l2.5-4-1-0.2-4.1-0.4-2.5,4.1z" fill="#c60000"/>
<path d="M164.6,263.7l-4.8-1-0.5,0.8z" fill="#b20000"/>
<path d="M161.3,268.5L156.8,268" class="cl"/>
<path d="M145.8,282.3l1.4,0.7 0.2-0.8zM142.4,281.3l4.1,1.5 0.8,0 1.2-3.8-5.1-0.5zM148.3,279.6l1.3-3.8-5.1-0.5-1.3,3.8z" fill="#fc0000"/>
<path d="M149.4,276.4l1.2-3.8-5-0.5-1.3,3.7z" fill="#fb0000"/>
<path d="M150.4,273.2l1.3-3.8-5-0.5-1.3,3.7z" fill="#eb0000"/>
<path d="M151.5,270l0.3-1-4.8-0.8-0.5,1.2z" fill="#d80000"/>
<path d="M148.2,279.1L143.6,278.6" class="cl"/>
<path d="M129.5,292.2l5.5-0.8-4.7-1.2z" fill="#fe0000"/>
<path d="M134.3,291.7l1.4-3.8-4.2-0.9-1.4,3.8zM135.5,288.4l1.4-3.8-4.1-0.9-1.5,3.8z" fill="#fd0000"/>
<path d="M136.7,285.2l1.4-3.8-4.1-0.9-1.5,3.8zM137.9,282l1.1-3.2-4.8,1.3-0.4,1z" fill="#fc0000"/>
<path d="M134.7,289.7L131.1,288.9" class="cl"/>
<path d="M116.8,304.2l4.8-0.6 0.3-0.9-4-1z" fill="#ff2700"/>
<path d="M121.7,303.3l1.6-3.9-3.9-1-1.7,3.8z" fill="#ff0c00"/>
<path d="M123.1,300l1.6-3.9-3.9-1-1.7,3.8z" fill="#ff0000"/>
<path d="M124.5,296.7l1.6-3.9-1.2-0.3-3.3,0.9-1,2.2zM125.8,293.4l0.6-1.3-2.4,0.7z" fill="#fe0000"/>
<path d="M122.8,299.8L119.5,298.9" class="cl"/>
<path d="M107.7,311.4l1.1,0.7 0.4-0.8z" fill="#ff8600"/>
<path d="M104.3,309.9l4.1,2 0.5,0 2.1-4-5.2-0.6z" fill="#ff6400"/>
<path d="M110.7,308.5l2.1-4-4.9-0.7-2.4,4.1z" fill="#ff4300"/>
<path d="M112.5,305.1l1.2-2.3-4.6-1-1.5,2.6z" fill="#ff2700"/>
<path d="M109.5,310.3L104.7,309.8" class="cl"/>
<path d="M204.2,276.6l3.2,1-3.1-2.7z" fill="#fc0000"/>
<path d="M199.1,273.6l3.8,2.6 1.8,0.6 0.2-1.5-2.5-2-3.1-0.5z" fill="#fb0000"/>
<path d="M197.8,272.6l1.8,1.4 0.3-1.1z" fill="#eb0000"/>
<path d="M92.9,311l3.1,2.6 2.3-2.7z" fill="#ff8600"/>
<path d="M91.6,309.9l2,1.7 4.2-0.1 3.4-4.1-0.7-0.4-6.1,0.1z" fill="#ff6400"/>
<path d="M101.2,307.5l-4.5-2.7-2.9,2.9z" fill="#ff4300"/>
<path d="M92,309.9L98.9,309.7" class="cl"/>
<path d="M193.3,270.4l1.6,0.3-2.5-1.4z" fill="#eb0000"/>
<path d="M186.7,267.9l3.6,1.5 3.9,1.2-0.9-1-3.5-1.9-4.1-0.6z" fill="#d80000"/>
<path d="M185.1,267.1l2.4,1-0.9-1z" fill="#c60000"/>
<path d="M190.5,269.2L188.9,267.9" class="cl"/>
<path d="M85.5,305.5l3.2,1.7-3.2-3.7z" fill="#ff4300"/>
<path d="M82.4,303.3l0.4,0.5 3.3,2 0-1.7-1.8-1.9-1.7-1.3z" fill="#ff2700"/>
<path d="M79.8,300l3.1,4 0.3-2.6-3.3-2.6z" fill="#ff0c00"/>
<path d="M78.4,297.9l1.9,2.8 0.2-1.4z" fill="#ff0000"/>
<path d="M80.2,300.1L80.3,299.5" class="cl"/>
<path d="M172.2,264.7l5.3,1.3 4.8,0-5.2-2z" fill="#c60000"/>
<path d="M160.2,270.7l4.4,1 0.5-0.8z" fill="#eb0000"/>
<path d="M159.6,270.8l1.4,0.3 3.7,0.4 2.5-4.1-5.2-0.5z" fill="#d80000"/>
<path d="M166.8,268l2.3-3.9-5-0.7-2.4,4z" fill="#c60000"/>
<path d="M165.9,269L161.3,268.5" class="cl"/>
<path d="M146.6,282.8l4.9,1.6 0.5-1.6-5.2-0.6zM151.8,283.3l1.2-3.8-5.1-0.5-1.3,3.8zM152.8,280.1l1.2-3.8-5.1-0.5-1.2,3.7z" fill="#fc0000"/>
<path d="M153.8,276.9l1.2-3.8-5-0.5-1.2,3.7z" fill="#fb0000"/>
<path d="M154.8,273.7l1.2-3.8-5-0.5-1.2,3.7z" fill="#eb0000"/>
<path d="M155.8,270.5l0.3-0.9-4.9-0.7-0.3,1z" fill="#d80000"/>
<path d="M152.7,279.6L148.2,279.1" class="cl"/>
<path d="M133.3,291.1l5.2,3.6 1.1-3.3z" fill="#fe0000"/>
<path d="M133.7,291.6l5.7,0.4 1.3-3.8-5.6-0.4zM140.5,288.8l1.3-3.8-5.5-0.5-1.4,3.9z" fill="#fd0000"/>
<path d="M141.6,285.6l1.3-3.8-5.4-0.5-1.4,3.8zM142.7,282.3l0.4-1.4-4.7-2.1-1.1,3.1z" fill="#fc0000"/>
<path d="M139.7,290.1L134.7,289.7" class="cl"/>
<path d="M120.9,303.6l2.9-0.3-2.4-0.7z" fill="#ff2700"/>
<path d="M122.9,303.5l2.8-0.1 1.3-3.2-4.3-1-1.6,3.9z" fill="#ff0c00"/>
<path d="M126.7,300.8l1.6-3.9-4.2-0.9-1.6,3.8z" fill="#ff0000"/>
<path d="M128,297.5l1.6-3.9-4.1-0.9-1.6,3.8zM129.4,294.2l1-2.7-4.8,0.8-0.4,0.9z" fill="#fe0000"/>
<path d="M126.5,300.6L122.8,299.8" class="cl"/>
<path d="M108.3,311.8l4.6,2 0.9-1.9-5.2-0.6z" fill="#ff8600"/>
<path d="M113.5,312.5l1.9-4-5-0.7-2.1,4z" fill="#ff6400"/>
<path d="M115.2,309.1l1.8-4-4.8-0.7-2.1,4z" fill="#ff4300"/>
<path d="M116.8,305.7l0.9-2.1-4.6-0.9-1.2,2.3z" fill="#ff2700"/>
<path d="M114,310.8L109.5,310.3" class="cl"/>
<path d="M208.6,280.2l3.2,1.4-3.7-3.5zM204.3,277.2l3.1,2.4 1.9,0.9-0.4-1.8-2.1-1.8-2.7-0.9z" fill="#fc0000"/>
<path d="M202.3,275.6l2.7,2.1-0.2-1.5z" fill="#fb0000"/>
<path d="M208.6,279.8L208.4,278.7" class="cl"/>
<path d="M97.4,314.7l2.7,2.2 1.6-2.3z" fill="#ffa900"/>
<path d="M95.6,313.2l2.5,2.1 3.1-0.1 3.1-4.3-6.8,0z" fill="#ff8600"/>
<path d="M103.8,311.5l1.3-1.8-4.5-2.6-3.6,4.4z" fill="#ff6400"/>
<path d="M104.7,309.8L98.9,309.7" class="cl"/>
<path d="M195.4,271.7l3.9,1.7-5-3.3-1.6-0.3z" fill="#eb0000"/>
<path d="M189.6,268.8l5.2,2.5 1.5,0.5-2.7-1.9z" fill="#d80000"/>
<path d="M190.7,269.2L190.5,269.2" class="cl"/>
<path d="M89.6,309.1l3.1,1.3-3.9-3.4z" fill="#ff6400"/>
<path d="M85.8,306.8l1,1 3.6,1.7-0.9-2-1.3-1.1-2.9-1.7z" fill="#ff4300"/>
<path d="M82.3,303.1l4.2,4.3-0.4-2.3z" fill="#ff2700"/>
<path d="M176.7,265.6l5.3,1.4 4.8,0.5-5.3-2z" fill="#c60000"/>
<path d="M163.9,271.7l5.1,0.4 0.4-0.6-5-0.7z" fill="#eb0000"/>
<path d="M169.1,272l2.4-4.1-5-0.6-2.4,4.1z" fill="#d80000"/>
<path d="M171.2,268.5l2.4-4-5.1-0.4-2.3,3.8z" fill="#c60000"/>
<path d="M170.2,269.5L165.9,269" class="cl"/>
<path d="M150.9,284.2l4.9,1.6 0.8-2.5-5.2-0.6zM156.4,283.9l1.1-3.9-5.1-0.5-1.2,3.8zM157.4,280.6l1.1-3.8-5.1-0.5-1.2,3.8z" fill="#fc0000"/>
<path d="M158.3,277.4l1.2-3.8-5.1-0.5-1.2,3.7z" fill="#fb0000"/>
<path d="M159.3,274.2l1.1-3.8-5-0.5-1.2,3.7z" fill="#eb0000"/>
<path d="M160.2,271l0.2-0.6-4.9-0.9-0.3,0.9z" fill="#d80000"/>
<path d="M157.2,280.1L152.7,279.6" class="cl"/>
<path d="M139,294.8l3.7,2.4 0.7-2.1zM138,294.4l1.7,1 3.5,0.3 1.2-3.8-5.4-0.5z" fill="#fe0000"/>
<path d="M144.2,292.5l1.2-3.8-5.3-0.5-1.3,3.8zM145.2,289.3l1.2-3.8-5.2-0.6-1.3,3.8z" fill="#fd0000"/>
<path d="M146.2,286l1.2-3.6-0.7-0.2-4.5-0.5-1.2,3.8zM147.5,282.7l-4.9-2-0.6,1.6z" fill="#fc0000"/>
<path d="M144.5,290.5L139.7,290.1" class="cl"/>
<path d="M125,303.4l4.9,0 0.9-2.4-4.4-0.9z" fill="#ff0c00"/>
<path d="M130.6,301.5l1.4-3.8-4.3-0.9-1.6,3.8z" fill="#ff0000"/>
<path d="M131.8,298.2l1.5-3.8-4.3-0.9-1.5,3.8zM133.1,295l1.5-4-4.8,0.6-1,2.5z" fill="#fe0000"/>
<path d="M130.3,301.4L126.5,300.6" class="cl"/>
<path d="M112.3,313.7l4.7,0 0.4-0.9-4.2-1z" fill="#ff8600"/>
<path d="M117.2,313.4l1.7-4-4.1-1-1.9,3.9z" fill="#ff6400"/>
<path d="M118.7,310l1.8-3.9-4.1-1.1-1.9,3.9z" fill="#ff4300"/>
<path d="M120.2,306.6l1.7-3.7-4.8,0.7-0.9,2z" fill="#ff2700"/>
<path d="M117.6,311.7L114,310.8" class="cl"/>
<path d="M212.4,283.9l3.8,1.9-4.3-4.3zM208.7,280.7l3.2,3 1.2,0.6-0.5-2.2-1.4-1.3-2.7-1.4zM206.9,278.8l2.5,2.5-0.3-1.5z" fill="#fc0000"/>
<path d="M208.7,280.4L208.6,279.8" class="cl"/>
<path d="M102.6,318.5l1.6,1.1 0.6-1.1z" fill="#ffcc00"/>
<path d="M99.6,316.5l3.8,2.6 1.1,0 2.6-4.2-6.2-0.3z" fill="#ffa900"/>
<path d="M106.7,315.5l2.4-4-0.5-0.2-5.1-0.4-3,4.3z" fill="#ff8600"/>
<path d="M109.3,311.8l-4.7-2.4-1.5,2.1z" fill="#ff6400"/>
<path d="M201.3,274.3l2.5,2.1-5.1-3.4z" fill="#fb0000"/>
<path d="M196.3,271.5l3.3,1.7 2.2,1.9-2.5-1.3-0.9-0.6-2.1-1.4z" fill="#eb0000"/>
<path d="M194.2,270.7l2.8,1.4-1.3-1z" fill="#d80000"/>
<path d="M93.5,312.6l3.3,1-3.4-2.9z" fill="#ff8600"/>
<path d="M89.4,310.3l1.5,1.5 3.2,1-0.1-1.6-1.8-1.6-2.7-1.2z" fill="#ff6400"/>
<path d="M86.3,307.1l3.6,3.7 0.2-2.1z" fill="#ff4300"/>
<path d="M92.1,311.9L92,309.9" class="cl"/>
<path d="M188.6,268.9l2.6,0.5-5.2-2.1z" fill="#d80000"/>
<path d="M181.2,266.5l5.3,1.7 3,0.7-2.6-1.5-0.9-0.4z" fill="#c60000"/>
<path d="M83,303.1l0.5,1.2-1.4-1.7z" fill="#ff2700"/>
<path d="M81.4,300.7l2,3.3-0.9-0.6-3-4.1z" fill="#ff0c00"/>
<path d="M79.7,298.3l2,3.2-1.8-1.4-1.2-1.4-1.1-2.3z" fill="#ff0000"/>
<path d="M78,295.8l2,3.3-2.1-1.8-1.8-3.4zM75.9,292.6l2,3.1 0.4,1-2-2-1.7-3.3z" fill="#fe0000"/>
<path d="M73.1,288.9l3,4.5-1.3-1.2z" fill="#fd0000"/>
<path d="M81.2,301L80.2,300.1M74.5,291.1L74.3,290.8" class="cl"/>
<path d="M168.4,272l5.1,1.1 0.7-1.2-5.4-0.5z" fill="#eb0000"/>
<path d="M173.8,272.5l2.5-4.2-5.4-0.4-2.5,4.1z" fill="#d80000"/>
<path d="M176,268.9l2-3.4-5.1-1.1-2.4,4z" fill="#c60000"/>
<path d="M175,270L170.2,269.5" class="cl"/>
<path d="M155.2,285.6l5,1.7 1-3.5-5.2-0.6zM161,284.4l1.1-3.8-5.2-0.6-1.1,3.8zM161.9,281.2l1.1-3.8-5.1-0.6-1.1,3.8z" fill="#fc0000"/>
<path d="M162.9,277.9l1.1-3.8-5.1-0.5-1.2,3.8z" fill="#fb0000"/>
<path d="M163.8,274.7l1-3.5-3.7-0.7-1.3-0.1-1.1,3.7z" fill="#eb0000"/>
<path d="M161.9,270.9l-2.1-0.6-0.2,0.6z" fill="#d80000"/>
<path d="M161.8,280.6L157.2,280.1" class="cl"/>
<path d="M142.2,296.9l4.8,2.6 1.2-3.9-5.4-0.5zM148,296.2l1.1-3.8-5.3-0.6-1.2,3.8z" fill="#fe0000"/>
<path d="M149,293l1.1-3.8-5.3-0.6-1.2,3.8zM149.9,289.8l1.1-3.8-5.2-0.6-1.2,3.8z" fill="#fd0000"/>
<path d="M150.9,286.6l0.8-2.8-4.9-1.6-1.2,3.8z" fill="#fc0000"/>
<path d="M149.2,291L144.5,290.5" class="cl"/>
<path d="M130.5,304.3l3.5,3.2 1-3z" fill="#ff2700"/>
<path d="M129.3,303.2l1.9,1.7 3.6,0.2 1.4-3.9-6-0.3z" fill="#ff0c00"/>
<path d="M136,301.8l1.3-3.9-5.9-0.3-1.5,3.9z" fill="#ff0000"/>
<path d="M137.1,298.5l1.4-3.8-5.8-0.4-1.5,3.9zM138.3,295.3l0.4-1.2-4.7-3.2-1.5,4z" fill="#fe0000"/>
<path d="M135.7,301.7L130.3,301.4" class="cl"/>
<path d="M116.4,313.6l3.9,0.1-3.5-1z" fill="#ff8600"/>
<path d="M119.4,313.8l1.7,0.1 1.6-3.7-4.4-0.9-1.7,3.9z" fill="#ff6400"/>
<path d="M122.5,310.8l1.7-3.9-4.3-1-1.8,3.9z" fill="#ff4300"/>
<path d="M123.9,307.4l1.7-3.9-2.6-0.6-1.8,0.1-1.6,3.5z" fill="#ff2700"/>
<path d="M125.4,304.1l0.6-1.3-3.9,0.3z" fill="#ff0c00"/>
<path d="M121.4,312.5L117.6,311.7" class="cl"/>
<path d="M218.7,289.7l2,0.6-1.8-1.9zM215.3,287.5l1.1,1.2 2.9,1.2 0.1-1-3.8-3.9z" fill="#fd0000"/>
<path d="M212.3,284.1l3.5,4 0.3-2.6-0.4-0.4-3.3-1.8zM211.4,282.9l1.4,1.8 0.2-1.1z" fill="#fc0000"/>
<path d="M103.7,319.3l4.5,2.9 1.9-3.3-6-0.4z" fill="#ffcc00"/>
<path d="M109.8,319.5l2.2-4.1-5.6-0.5-2.6,4.2z" fill="#ffa900"/>
<path d="M111.7,315.9l1.5-2.7-4.6-1.9-2.6,4.2z" fill="#ff8600"/>
<path d="M206.3,277.7l1.9,2.2-4.3-3.3z" fill="#fc0000"/>
<path d="M203.2,275.3l1,0.6 2.6,2.6-2.4-1.2-1.5-1.1-2.5-2.1z" fill="#fb0000"/>
<path d="M198.7,273l5.1,3-2.9-1.2z" fill="#eb0000"/>
<path d="M97.4,316.3l3.4,0.5-2.7-2.3z" fill="#ffa900"/>
<path d="M92.9,313.8l2.1,2 3,0.6 0.6-1.5-2.4-2-2.6-0.8z" fill="#ff8600"/>
<path d="M90.3,311.1l3,3.1 0.9-2z" fill="#ff6400"/>
<path d="M91.9,312.3L92.1,311.9" class="cl"/>
<path d="M191.9,269.2l3.8,2.2-5.4-2-2.5-1.1z" fill="#d80000"/>
<path d="M185.7,267.7l5.5,1.2 1.4,0.9-4-0.9z" fill="#c60000"/>
<path d="M193.2,270.2L190.7,269.2" class="cl"/>
<path d="M86.8,306.7l0.8,1.5-2.1-2.1z" fill="#ff4300"/>
<path d="M84.9,304.4l2.3,3.1-1.3-0.6-3.1-3.1-0.6-1.1z" fill="#ff2700"/>
<path d="M83.1,302l2.3,3.2-2.8-1.7-2.1-3.2z" fill="#ff0c00"/>
<path d="M80.8,299.2l1.2,1.4 1.5,2.2-2.6-1.7-2-3.3z" fill="#ff0000"/>
<path d="M78,295.8l3.2,4.2-2-1.3-2-3.4zM77.2,295.2l1.2,1.4-0.9-0.4z" fill="#fe0000"/>
<path d="M83,302.3L81.2,301" class="cl"/>
<path d="M172.8,273l5.2,1 1-1.6-5.5-0.5z" fill="#eb0000"/>
<path d="M178.6,272.9l2.5-4.1-5.4-0.5-2.5,4.1z" fill="#d80000"/>
<path d="M180.8,269.4l1.7-2.9-5.1-1.1-2.1,3.5z" fill="#c60000"/>
<path d="M179.8,270.4L175,270" class="cl"/>
<path d="M159.6,287.1l5,1 1.1-3.7-5.1-0.7zM165.5,285l1.1-3.9-5.1-0.6-1.1,3.8zM166.4,281.7l1.1-3.8-5.1-0.6-1.1,3.8z" fill="#fc0000"/>
<path d="M167.3,278.5l1.1-3.8-5.1-0.6-1,3.8z" fill="#fb0000"/>
<path d="M168.2,275.3l1-3.7-5-0.5-1,3.5z" fill="#eb0000"/>
<path d="M166.2,281.2L161.8,280.6" class="cl"/>
<path d="M146.1,298.9l5.2,2.8 0.7-2.3z" fill="#ff0000"/>
<path d="M146.5,299.2l0.4,0.2 4.9,0.5 1.1-3.8-5.3-0.5zM152.7,296.7l1.1-3.8-5.3-0.6-1.1,3.8z" fill="#fe0000"/>
<path d="M153.7,293.5l1-3.8-5.2-0.6-1.2,3.8zM154.6,290.3l1-3.8-5.2-0.6-1.1,3.8z" fill="#fd0000"/>
<path d="M155.5,287.1l0.5-1.8-4.9-1.7-0.8,2.9z" fill="#fc0000"/>
<path d="M153.9,291.6L149.2,291" class="cl"/>
<path d="M134.6,307.9l3.6,3 0.9-2.8z" fill="#ff4300"/>
<path d="M133.5,307l1.8,1.5 3.7,0.2 1.2-3.8-5.8-0.4z" fill="#ff2700"/>
<path d="M140,305.5l1.3-3.9-5.7-0.4-1.4,3.8z" fill="#ff0c00"/>
<path d="M141.1,302.2l1.3-3.8-5.7-0.5-1.3,3.9z" fill="#ff0000"/>
<path d="M142.2,298.9l0.7-2.3-3-1.8-2-0.2-1.4,3.9zM140.6,295.4l-2.4-1.6-0.5,1.4z" fill="#fe0000"/>
<path d="M140.8,302.1L135.7,301.7" class="cl"/>
<path d="M120.5,313.9l4.8,0.5 1.4-3.4-4.6-0.9z" fill="#ff6400"/>
<path d="M126.5,311.6l1.6-3.9-4.5-1-1.7,4z" fill="#ff4300"/>
<path d="M127.9,308.2l1.6-3.9-4.5-0.9-1.7,3.9z" fill="#ff2700"/>
<path d="M129.2,304.9l0.9-2.1-4.8,0-0.5,1.1z" fill="#ff0c00"/>
<path d="M125.4,313.3L121.4,312.5" class="cl"/>
<path d="M223.3,293.3l2,0.4-2.2-1.8z" fill="#fe0000"/>
<path d="M219,291l1.9,1.7 3,0.8-0.1-1.1-3.7-2.8-1.4-0.6zM215.8,288l3.9,3.6-0.4-2.3z" fill="#fd0000"/>
<path d="M221.3,292.5L221.1,290.7" class="cl"/>
<path d="M107.7,322l4.7,0.6 1.4-2.8-4.4-1z" fill="#ffcc00"/>
<path d="M113.5,320.4l2.1-4.1-4.2-1-2.3,4.1z" fill="#ffa900"/>
<path d="M115.4,316.9l1.9-3.8-4.7,0-1.5,2.7z" fill="#ff8600"/>
<path d="M210.5,281.4l2.2,2.6-4.4-4zM207.8,278.9l1,0.8 2.1,2.5-2.1-1.4-1.4-1.3-2-2.1z" fill="#fc0000"/>
<path d="M203.4,275.5l4.8,4.2-2.3-1.5z" fill="#fb0000"/>
<path d="M210.1,281.5L208.7,280.4" class="cl"/>
<path d="M102.9,319.4l2,0.1-1.6-1.2z" fill="#ffcc00"/>
<path d="M96.8,317.4l2.3,1.9 4.4,0.2 0.3-0.8-3.7-2.5-2.5-0.5z" fill="#ffa900"/>
<path d="M94.4,315.2l2.9,2.6 0.9-2z" fill="#ff8600"/>
<path d="M198.3,272.3l1.9,1.6-4.8-2.5z" fill="#eb0000"/>
<path d="M193.3,269.7l2.6,0.9 3,2.3-2.8-0.9-1.3-0.7-3.8-2.1z" fill="#d80000"/>
<path d="M190.3,268.9l3.7,1.3-2.3-0.4z" fill="#c60000"/>
<path d="M196.3,271.2L193.2,270.2" class="cl"/>
<path d="M90.5,310.4l1.2,1.7-2.7-2.5z" fill="#ff6400"/>
<path d="M88.5,308.1l2.4,3.1-1.4-0.8-2.7-2.7-0.8-1.4z" fill="#ff4300"/>
<path d="M86.4,305.8l2.5,3.2-2.6-1.8-2.1-3.2z" fill="#ff2700"/>
<path d="M83.7,302.6l2.4,2.9 0.7,1.2-2.3-1.9-2.2-3.2z" fill="#ff0c00"/>
<path d="M81.2,300.1l2.8,3.3-1.4-1z" fill="#ff0000"/>
<path d="M83.6,303L83,302.3" class="cl"/>
<path d="M177.4,273.9l5.1,1.2 1.4-2.3-5.6-0.5z" fill="#eb0000"/>
<path d="M183.6,273.4l2.5-4.2-5.6-0.5-2.5,4.2z" fill="#d80000"/>
<path d="M185.8,269.8l1.2-2.1-5.1-1.3-1.8,2.9z" fill="#c60000"/>
<path d="M184.8,270.8L179.8,270.4" class="cl"/>
<path d="M75.7,293.6l2.5,3-3-4.6z" fill="#fe0000"/>
<path d="M73.9,291.1l2.5,3.1-0.5-1.6-2.1-3.1-0.7-0.7zM72.1,288.6l2.5,3.1-0.8-2.3-2.3-3.2z" fill="#fd0000"/>
<path d="M70.2,285.4l1.8,3 0.8,0.8-0.7-2.4-2.2-3.2zM68.4,282.1l2.5,3.9-0.4-1.8-2.3-3.2zM67.6,280.1l1.4,2.7-0.1-1.2z" fill="#fc0000"/>
<path d="M75.1,292.2L74.5,291.1M68.5,281.8L68.5,281.6" class="cl"/>
<path d="M164.4,287.8l4.7,1.5 0.3-1.1z" fill="#fd0000"/>
<path d="M164,288l1.2,0.3 4,0.5 1.1-3.9-5.2-0.6zM170.1,285.5l1.1-3.8-5.2-0.6-1.1,3.8zM171,282.3l1.1-3.9-5.2-0.6-1.1,3.9z" fill="#fc0000"/>
<path d="M171.9,279l1.1-3.8-5.2-0.6-1.1,3.8z" fill="#fb0000"/>
<path d="M172.8,275.8l0.9-3.3-5.1-1-1,3.7z" fill="#eb0000"/>
<path d="M170.8,281.7L166.2,281.2" class="cl"/>
<path d="M154.4,303.1l1.3,0.8 0.2-0.8z" fill="#ff0c00"/>
<path d="M150.8,301.4l4.3,2.2 0.7,0.1 1-3.8-5.4-0.6z" fill="#ff0000"/>
<path d="M156.6,300.5l1.1-3.8-5.4-0.6-1.1,3.8zM157.5,297.3l1-3.8-5.3-0.7-1.1,3.9z" fill="#fe0000"/>
<path d="M158.4,294l1-3.8-5.3-0.6-1,3.8zM159.2,290.8l1.1-3.8-5.3-0.6-1,3.8z" fill="#fd0000"/>
<path d="M160.1,287.6l0.2-0.9-4.9-1.6-0.5,1.9z" fill="#fc0000"/>
<path d="M158.6,292.1L153.9,291.6" class="cl"/>
<path d="M139.3,311.6l3.2,2.4 0.7-2.1z" fill="#ff6400"/>
<path d="M137.7,310.5l2.3,1.7 3,0.3 1.2-3.9-5.7-0.5z" fill="#ff4300"/>
<path d="M144,309.2l1.2-3.9-5.6-0.5-1.3,3.9z" fill="#ff2700"/>
<path d="M145,305.9l1.2-3.8-5.5-0.5-1.3,3.8z" fill="#ff0c00"/>
<path d="M146,302.7l1.2-3.9-5.5-0.5-1.2,3.8z" fill="#ff0000"/>
<path d="M147,299.4l0.2-0.5-4.8-2.6-0.8,2.6z" fill="#fe0000"/>
<path d="M145.8,302.5L140.8,302.1" class="cl"/>
<path d="M127.9,317.8l1.5,1.7 0.7-1.7z" fill="#ffa900"/>
<path d="M124.9,314.3l3.5,4.1 1.5,0 1.4-3.9z" fill="#ff8600"/>
<path d="M124.8,314.2l0.6,0.7 5.7,0.2 1.5-4-6.5-0.2z" fill="#ff6400"/>
<path d="M132.4,311.7l1.5-3.9-6.4-0.2-1.6,3.9z" fill="#ff4300"/>
<path d="M133.6,308.4l0.6-1.6-2.8-2.5-2.5-0.1-1.7,4z" fill="#ff2700"/>
<path d="M132.1,304.9l-2.6-2.3-0.9,2.2z" fill="#ff0c00"/>
<path d="M131.4,313.4L125.4,313.3" class="cl"/>
<path d="M111.8,322.5l4.7,0.8 1.3-2.7-4.6-0.9z" fill="#ffcc00"/>
<path d="M117.6,321.2l2-4.1-4.6-0.9-2.1,4z" fill="#ffa900"/>
<path d="M119.3,317.7l2-4.1-1.8-0.4-2.8-0.1-2,3.6z" fill="#ff8600"/>
<path d="M121,314.2l0.4-0.8-2.8,0z" fill="#ff6400"/>
<path d="M215.6,288l1.5,1-2-2.3z" fill="#fd0000"/>
<path d="M213.2,285.9l3.1,2.6-0.5-1.3-3.7-3.9zM210.4,282.7l2.5,2.9 1.1,0.8-1.2-2.5-0.5-0.7-2.5-2.3zM208,279.3l3.2,3.9-0.7-1.7z" fill="#fc0000"/>
<path d="M210.5,282.3L210.1,281.5" class="cl"/>
<path d="M101.5,321.1l1.7,1.4 5.8-0.5-4.8-3.1-1.1,0z" fill="#ffcc00"/>
<path d="M98.4,318.7l3.5,2.8 2-2.6z" fill="#ffa900"/>
<path d="M203.8,275.5l0.9,1.1-2.4-1.4z" fill="#fb0000"/>
<path d="M201.3,273.3l3.1,2.9-1.4-0.4-3.7-2.1-1.9-1.6z" fill="#eb0000"/>
<path d="M195,270.5l5.5,2.1 1.4,1.4-3.9-1.2z" fill="#d80000"/>
<path d="M197.4,271.6L196.3,271.2" class="cl"/>
<path d="M93.7,314.6l2,1.6-3-3.1z" fill="#ff8600"/>
<path d="M91.4,312.4l3.1,2.6-1-1.5-2.2-2.2-1.6-1.3z" fill="#ff6400"/>
<path d="M88.9,309.8l0.9,1.2 2.4,1.9-1.7-2.4-2.8-2.8z" fill="#ff4300"/>
<path d="M86.1,306.4l3.5,3.9-1.1-2.1-2.8-2.8z" fill="#ff2700"/>
<path d="M85.3,305.1l1.5,1.8-0.4-1z" fill="#ff0c00"/>
<path d="M93,313.6L91.9,312.3" class="cl"/>
<path d="M181.9,275l5.2,1.3 1.9-3.1-5.7-0.5z" fill="#eb0000"/>
<path d="M188.6,273.8l2.7-4.2-5.8-0.5-2.6,4.2z" fill="#d80000"/>
<path d="M190.9,270.1l0.7-1.1-5.2-1.4-1.3,2.1z" fill="#c60000"/>
<path d="M189.9,271.2L184.8,270.8" class="cl"/>
<path d="M81.2,299.6l1.1,1.9-2.3-2.8z" fill="#ff0000"/>
<path d="M79.3,297.2l2.2,3.3-1.1-0.9-3.2-4.2zM77.3,294.7l2.3,3.3-2-1.8-0.1-0.1-2-3.3z" fill="#fe0000"/>
<path d="M74.6,292l1.5,2.3 1.5,1.3-1.4-2.3-2.5-3zM72.2,288.7l3.1,3.9-0.9-1.8-2.5-3z" fill="#fd0000"/>
<path d="M71.7,287.5l1.2,1.7-0.3-0.9z" fill="#fc0000"/>
<path d="M76,293.5L75.1,292.2" class="cl"/>
<path d="M168.5,289.2l5.1,1.3 0.4-1.7-5.2-0.7z" fill="#fd0000"/>
<path d="M173.9,289.4l1-3.9-5.2-0.6-1.1,3.8zM174.8,286.1l1-3.9-5.2-0.6-1.1,3.9zM175.7,282.8l1-3.8-5.2-0.6-1.1,3.8z" fill="#fc0000"/>
<path d="M176.6,279.6l1-3.9-5.2-0.6-1.1,3.9z" fill="#fb0000"/>
<path d="M177.4,276.3l0.8-2.8-5.1-1.1-0.9,3.3z" fill="#eb0000"/>
<path d="M175.5,282.3L170.8,281.7" class="cl"/>
<path d="M155.1,303.7l5,1.6 0.4-1.5-5.2-0.7z" fill="#ff0c00"/>
<path d="M160.4,304.4l1-3.9-5.2-0.7-1,3.8z" fill="#ff0000"/>
<path d="M161.2,301.1l1-3.8-5.1-0.7-1.1,3.8zM162.1,297.9l1-3.8-5.2-0.7-1,3.8z" fill="#fe0000"/>
<path d="M162.9,294.7l1-3.9-5.1-0.6-1,3.8zM163.7,291.4l1-3.8-5-0.7-1.1,3.8z" fill="#fd0000"/>
<path d="M164.6,288.2l0.2-0.7-5-0.9-0.3,0.9z" fill="#fc0000"/>
<path d="M155.8,303.6L160.1,304.2M163.1,292.7L158.6,292.1" class="cl"/>
<path d="M144.9,315.5l1.9,1.4 0.4-1.3z" fill="#ff8600"/>
<path d="M142,313.7l3.6,2.4 1.4,0.1 1.2-3.8-5.6-0.6z" fill="#ff6400"/>
<path d="M148,313l1.1-3.9-5.5-0.6-1.2,3.9z" fill="#ff4300"/>
<path d="M149,309.7l1.1-3.8-5.5-0.6-1.2,3.8z" fill="#ff2700"/>
<path d="M149.9,306.4l1.2-3.8-5.5-0.6-1.2,3.9z" fill="#ff0c00"/>
<path d="M150.9,303.2l0.6-2.1-4.4-2.3-0.5,0-1.2,3.8z" fill="#ff0000"/>
<path d="M147.8,299.4l-1.1-0.8-0.3,0.8z" fill="#fe0000"/>
<path d="M143.4,314.3L147.2,314.6M150.6,303L145.8,302.5" class="cl"/>
<path d="M131.1,321.3l2.6,2.6 0.9-2.5z" fill="#ffcc00"/>
<path d="M129,319l2.7,2.9 2.7,0.1 1.3-3.9-6.3-0.3z" fill="#ffa900"/>
<path d="M135.5,318.7l1.4-4-6.2-0.3-1.5,4z" fill="#ff8600"/>
<path d="M136.7,315.3l1.4-3.9-6.1-0.3-1.5,3.9z" fill="#ff6400"/>
<path d="M137.8,312l0.6-1.7-2.9-2.4-2.3-0.1-1.5,3.9z" fill="#ff4300"/>
<path d="M136.2,308.5l-2.5-2.1-0.7,1.9z" fill="#ff2700"/>
<path d="M136.9,313.7L131.4,313.4" class="cl"/>
<path d="M115.9,323.2l4.8,1 1.3-2.8-4.8-0.9z" fill="#ffcc00"/>
<path d="M121.8,322l1.9-4.1-4.7-0.9-2.1,4.1z" fill="#ffa900"/>
<path d="M123.4,318.5l1.9-4.1-4.6-0.9-2,4.1z" fill="#ff8600"/>
<path d="M125,315l0.6-1.1-4.8-0.6-0.4,0.8z" fill="#ff6400"/>
<path d="M219.7,291.8l2.1,1.2-3.1-2.7zM217,289.6l0.5,0.5 3.1,2-1.1-1.5-2.8-2.4-1.5-1z" fill="#fd0000"/>
<path d="M213.4,286.1l4.4,3.9-1.8-2.4-3.2-2.5zM212.5,284.8l1.7,1.7-0.6-1z" fill="#fc0000"/>
<path d="M102.5,322.2l4.9,1 5.7-1-5-0.7z" fill="#ffcc00"/>
<path d="M208.2,279.2l1,1.3-2.3-1.9z" fill="#fc0000"/>
<path d="M205.9,277l2.8,3-1.3-0.6-3.6-3.1-0.8-1z" fill="#fb0000"/>
<path d="M202,273.8l3.2,2.4 1.2,1.5-2.9-1.7-3-2.9z" fill="#eb0000"/>
<path d="M199.7,272.3l2.9,2.2-1.6-0.7z" fill="#d80000"/>
<path d="M97.8,318.3l2.1,1.2-3.3-2.8z" fill="#ffa900"/>
<path d="M95.2,316.2l3.5,2.4-1.3-1.5-2.1-1.8-2-1.5z" fill="#ff8600"/>
<path d="M92.1,313.3l1.9,2 2,1.3-1.9-2.4-3.1-2.6z" fill="#ff6400"/>
<path d="M89.4,310.2l3.5,3.6-1.1-1.8z" fill="#ff4300"/>
<path d="M94.4,315.2L93,313.6" class="cl"/>
<path d="M186.5,276.1l5.3,1.6 2.6-4.2-6.1-0.3z" fill="#eb0000"/>
<path d="M194,274.1l2.2-3.4-3-1-2.6-0.2-2.6,4.3z" fill="#d80000"/>
<path d="M194,270.1l-3-1.3-0.8,1.3z" fill="#c60000"/>
<path d="M195.3,271.5L189.9,271.2" class="cl"/>
<path d="M83.8,303.9l2.7,2.5-3.6-4.3z" fill="#ff0c00"/>
<path d="M81.7,301.6l2.9,2.8-0.9-1.8-1.7-2-1.5-1.5z" fill="#ff0000"/>
<path d="M79.4,298.8l0.9,1.2 2.1,2.1-1.2-2.5-2.6-2.9zM77,295.4l3.1,4-0.8-2.2-2.7-3z" fill="#fe0000"/>
<path d="M75.9,293.4l1.8,2.6-0.4-1.2z" fill="#fd0000"/>
<path d="M84.2,303.9L83.6,303" class="cl"/>
<path d="M173,290.4l5.1,1.4 0.7-2.4-5.4-0.7z" fill="#fd0000"/>
<path d="M178.6,289.9l1.1-3.8-5.4-0.7-1,3.9zM179.5,286.7l1-3.9-5.3-0.6-1,3.8zM180.4,283.4l1-3.9-5.3-0.6-1,3.9z" fill="#fc0000"/>
<path d="M181.3,280.1l1-3.8-5.3-0.6-1.1,3.8z" fill="#fb0000"/>
<path d="M182.1,276.8l0.7-2.2-5.2-1.2-0.8,2.9z" fill="#eb0000"/>
<path d="M180.2,282.8L175.5,282.3" class="cl"/>
<path d="M69.9,286l2.8,2.9-2.3-4.4zM67.8,283.5l2.6,3 0.4-1.3-2.2-3.9zM65.7,280.7l0.6,1.1 1.9,2.2 0.8-2-0.7-1.3-1.6-2.1z" fill="#fc0000"/>
<path d="M64,277.4l2.1,4 1-2.3-2.4-3.1z" fill="#fb0000"/>
<path d="M62.3,274.1l2.1,4 0.7-1.5-2.4-3.2z" fill="#eb0000"/>
<path d="M61.9,272.7l0.8,2.1 0.4-0.9z" fill="#d80000"/>
<path d="M68,283.3L68.5,281.8" class="cl"/>
<path d="M159.5,305.1l5.1,1.8 0.6-2.5-5.3-0.7z" fill="#ff0c00"/>
<path d="M165,305l1-3.8-5.2-0.7-1,3.8z" fill="#ff0000"/>
<path d="M165.9,301.7l1-3.8-5.3-0.7-1,3.8zM166.7,298.5l1-3.8-5.2-0.7-1,3.8z" fill="#fe0000"/>
<path d="M167.6,295.3l0.9-3.9-5.2-0.6-1,3.8zM168.4,292l0.8-3.2-3.9-1.1-1.2-0.2-1,3.9z" fill="#fd0000"/>
<path d="M166.1,288.2l-1.9-0.8-0.2,0.7z" fill="#fc0000"/>
<path d="M164.8,304.8L160.1,304.2M167.7,293.3L163.1,292.7" class="cl"/>
<path d="M146.3,316.6l4.9,3.3 1-3.7-5.6-0.6z" fill="#ff8600"/>
<path d="M152.1,316.7l1.1-3.8-5.6-0.6-1.2,3.9z" fill="#ff6400"/>
<path d="M153,313.5l1.1-3.9-5.6-0.6-1.1,3.9z" fill="#ff4300"/>
<path d="M153.9,310.2l1.1-3.8-5.5-0.6-1.1,3.8z" fill="#ff2700"/>
<path d="M154.8,307l1.1-3.6-0.6-0.3-4.8-0.6-1.2,3.9z" fill="#ff0c00"/>
<path d="M156,303.6l-5-2.8-0.7,2.3z" fill="#ff0000"/>
<path d="M152.2,315.1L147.2,314.6M155.5,303.6L150.6,303" class="cl"/>
<path d="M134.8,324.8l3.2,3 0.9-2.7z" fill="#ffef00"/>
<path d="M133.2,323.4l2.2,2.1 3.3,0.2 1.3-3.9-6.1-0.4z" fill="#ffcc00"/>
<path d="M139.8,322.4l1.3-3.9-6-0.5-1.4,4z" fill="#ffa900"/>
<path d="M140.9,319l1.2-3.8-5.8-0.5-1.4,3.9z" fill="#ff8600"/>
<path d="M141.9,315.7l0.8-2.3-2.5-1.8-2.8-0.2-1.3,3.9z" fill="#ff6400"/>
<path d="M140.9,312.2l-3-2.3-0.7,2.1z" fill="#ff4300"/>
<path d="M136.2,325.8L138.3,325.9M142.2,314.1L136.9,313.7" class="cl"/>
<path d="M123.3,328.2l1.5,2 0.9-2.1z" fill="#e5ff00"/>
<path d="M120.8,324.8l3,4 1.7-0.1 1.7-4z" fill="#ffef00"/>
<path d="M120.2,323.9l1.1,1.5 5.6-0.1 1.8-4.1-7.3,0.1z" fill="#ffcc00"/>
<path d="M128.4,321.8l1.3-2.9-1-1.1-5.7,0-1.9,4.1z" fill="#ffa900"/>
<path d="M129.2,318.4l-3.5-4.1-1,0-1.9,4.1z" fill="#ff8600"/>
<path d="M126.2,314.9l-1.2-1.3-0.6,1.3z" fill="#ff6400"/>
<path d="M121.8,325.7L126.5,325.6" class="cl"/>
<path d="M106.6,322.8l5,1.3 5.6-1.2-5-1z" fill="#ffcc00"/>
<path d="M210.7,283.8l3,2.2-3.4-4.2zM208.2,281.1l1.1,1.5 2.2,1.7-0.5-1.9-2.2-2.6-1.2-1.1z" fill="#fc0000"/>
<path d="M205.6,277.7l3.2,4-0.5-2.4-3-2.8z" fill="#fb0000"/>
<path d="M204.4,275.8l1.8,2.5-0.2-1.3z" fill="#eb0000"/>
<path d="M210.8,283.5L210.5,282.3" class="cl"/>
<path d="M102.2,321.9l1.8,0.8-2.7-2.2z" fill="#ffcc00"/>
<path d="M99.1,320l4,2.2-1-1.4-2.7-2.1-2-1.2z" fill="#ffa900"/>
<path d="M95.6,316.9l2.5,2.5 1.9,1-1.7-2.6-3.5-2.4z" fill="#ff8600"/>
<path d="M93.5,314.5l2.9,2.9-0.8-1.6z" fill="#ff6400"/>
<path d="M94.4,315.3L94.4,315.2" class="cl"/>
<path d="M191.4,277.4l5,2.1 1.3-1.9z" fill="#fb0000"/>
<path d="M191.2,277.5l0.9,0.4 5.2,0.3 2.8-4.4-6.4-0.3z" fill="#eb0000"/>
<path d="M199.7,274.4l1.1-1.7-5.2-2.2-2.2,3.6z" fill="#d80000"/>
<path d="M197.4,271.6L195.3,271.5" class="cl"/>
<path d="M89,310.2l1.6,1.2-1.9-2.5z" fill="#ff4300"/>
<path d="M86.6,308l3.1,2.8-0.3-1.3-3.5-4z" fill="#ff2700"/>
<path d="M84.1,305.5l0.4,0.6 2.8,2.4-0.7-2.4-0.5-0.6-2.4-2.5z" fill="#ff0c00"/>
<path d="M81.8,302.1l3,4.1-0.4-2.6-2.8-3z" fill="#ff0000"/>
<path d="M80,299.2l2.4,3.6-0.2-1.6z" fill="#fe0000"/>
<path d="M84.5,305.6L84.2,303.9" class="cl"/>
<path d="M177.5,291.6l5.2,1.5 0.8-3.2-5.3-0.6z" fill="#fd0000"/>
<path d="M183.4,290.5l1-3.9-5.3-0.6-1.1,3.9zM184.3,287.2l1-3.8-5.4-0.7-1,3.9zM185.1,283.9l1.1-3.8-5.4-0.6-1,3.8z" fill="#fc0000"/>
<path d="M186,280.6l1.1-3.8-5.4-0.6-1,3.8z" fill="#fb0000"/>
<path d="M186.9,277.4l0.5-1.7-5.2-1.3-0.7,2.4z" fill="#eb0000"/>
<path d="M185,283.4L180.2,282.8" class="cl"/>
<path d="M74.6,292.6l2.3,2.1-2.4-3.6zM72.2,290.2l3,3.1-0.1-1.5-3-4.1z" fill="#fd0000"/>
<path d="M69.9,287.4l0.7,1.1 2.3,2.4-0.2-2.5-0.3-0.4-2.4-2.8zM67.8,284.1l2.6,4.1 0.2-2.3-2.8-3.2zM66.1,281l2.2,3.8 0.1-1.5z" fill="#fc0000"/>
<path d="M76,293.7L76,293.5M67.9,283.8L68,283.3" class="cl"/>
<path d="M164,306.7l5,1.8 0.9-3.5-5.3-0.7z" fill="#ff0c00"/>
<path d="M169.8,305.6l0.9-3.8-5.3-0.7-0.9,3.8z" fill="#ff0000"/>
<path d="M170.6,302.4l1-3.9-5.3-0.7-1,3.9zM171.4,299.1l1-3.8-5.3-0.7-1,3.8z" fill="#fe0000"/>
<path d="M172.2,295.9l1-3.9-5.3-0.6-0.9,3.8zM173.1,292.6l0.6-2.6-5.1-1.4-0.8,3.3z" fill="#fd0000"/>
<path d="M169.5,305.5L164.8,304.8M172.4,293.9L167.7,293.3" class="cl"/>
<path d="M151.2,319.6l4.4,2.1 0.4-1.6z" fill="#ffa900"/>
<path d="M150.6,319.6l1.3,0.5 4,0.6 1-3.9-5.3-0.7z" fill="#ff8600"/>
<path d="M156.8,317.4l1-3.8-5.2-0.8-1.1,3.9z" fill="#ff6400"/>
<path d="M157.7,314.1l1-3.8-5.2-0.7-1.1,3.8z" fill="#ff4300"/>
<path d="M158.6,310.9l1-3.9-5.2-0.7-1.1,3.8z" fill="#ff2700"/>
<path d="M159.5,307.6l0.8-2.9-5-1.6-1.1,3.8z" fill="#ff0c00"/>
<path d="M156.9,315.8L152.2,315.1M155.8,303.6L155.5,303.6" class="cl"/>
<path d="M139,328.6l3.3,2.8 0.8-2.5z" fill="#e5ff00"/>
<path d="M137.5,327.4l2.1,1.8 3.3,0.2 1.2-3.9-5.8-0.5z" fill="#ffef00"/>
<path d="M144,326.1l1.2-3.9-5.9-0.5-1.2,3.9z" fill="#ffcc00"/>
<path d="M145,322.8l1.2-3.9-5.8-0.5-1.2,3.9z" fill="#ffa900"/>
<path d="M146,319.5l1-3.2-1.2-0.8-4.3-0.4-1.3,3.9z" fill="#ff8600"/>
<path d="M146.5,316.1l-4.3-3-0.9,2.6z" fill="#ff6400"/>
<path d="M143.6,326.4L138.3,325.9M143.4,314.3L142.2,314.1" class="cl"/>
<path d="M126,331.6l3.1,3.9 1.5-3.9z" fill="#b5ff00"/>
<path d="M124.4,329.7l2,2.5 4,0 1.6-4-6.9-0.1z" fill="#e5ff00"/>
<path d="M131.8,328.8l1.5-4-6.8-0.1-1.7,4z" fill="#ffef00"/>
<path d="M133.1,325.4l0.8-2.1-1.9-2-4-0.1-1.7,4.1z" fill="#ffcc00"/>
<path d="M132.6,321.9l-3.4-3.5-1.4,3.4z" fill="#ffa900"/>
<path d="M132.7,325.6L126.5,325.6" class="cl"/>
<path d="M110.7,323.8l5.1,1.4 5.6-1.3-5-1.3z" fill="#ffcc00"/>
<path d="M217.1,289.8l1.2,0.6-1.6-1.7z" fill="#fd0000"/>
<path d="M214.4,287.9l3.5,2.4-0.5-1.1-4.3-4zM211.2,284.6l2.8,2.9 1.2,0.8-1.4-2.6-0.5-0.5-2.8-2.3zM208.9,281.8l3.1,3.3-0.8-1.7z" fill="#fc0000"/>
<path d="M211.2,284.2L210.8,283.5" class="cl"/>
<path d="M106.7,322.1l1.5,1-5-0.6-1.6-1.2z" fill="#ffcc00"/>
<path d="M103.3,320.4l4.1,2.3-5.1-0.8-3.7-2.4z" fill="#ffa900"/>
<path d="M97.5,318.8l5.1,1.2 1.4,1-4.8-0.9z" fill="#ff8600"/>
<path d="M198.4,281.3l2.6,2.1 1.4-2.2z" fill="#fc0000"/>
<path d="M195.9,279.2l3.2,2.7 2.9-0.1 2.8-4.4-7.8,0.2z" fill="#fb0000"/>
<path d="M204.4,278l1-1.6-3.4-2.7-2.6,0.1-2.8,4.4z" fill="#eb0000"/>
<path d="M202.7,274.3l-2.4-1.9-1.3,2z" fill="#d80000"/>
<path d="M92.5,314.1l2.3,1.5-3-3.2z" fill="#ff6400"/>
<path d="M89.8,312l3.5,2.6-0.7-1.6-2.4-2.4-1.5-1.3z" fill="#ff4300"/>
<path d="M86.9,309l1.9,2.2 1.7,1.3-1-2.6-3.1-2.8z" fill="#ff2700"/>
<path d="M84.2,305.3l3.4,4.3-0.5-2z" fill="#ff0c00"/>
<path d="M184.9,293.7l2.4,1.1 0.3-1zM182.1,292.9l3.6,1.3 1.7,0.2 1.1-3.9-5.6-0.6z" fill="#fd0000"/>
<path d="M188.3,291.1l1-3.9-5.5-0.6-1,3.9zM189.2,287.8l1-3.9-5.5-0.6-1,3.9zM190.1,284.5l1-3.9-5.5-0.6-1.1,3.9z" fill="#fc0000"/>
<path d="M190.9,281.2l1.1-3.9-5.5-0.6-1.1,3.9z" fill="#fb0000"/>
<path d="M191.8,277.9l0.2-0.7-5.2-1.7-0.5,1.8z" fill="#eb0000"/>
<path d="M189.9,283.9L185,283.4" class="cl"/>
<path d="M79.3,299.1l1.8,1.4-1.7-2.7zM76.8,296.8l3.1,2.9 0.1-1.2-3-4.1z" fill="#fe0000"/>
<path d="M74.3,294.2l0.6,0.8 2.5,2.3 0.1-2.1-0.9-1.3-1.9-2zM72.1,290.8l2.7,4.1 0.4-2.5-2.9-3z" fill="#fd0000"/>
<path d="M70.3,287.7l2.3,3.8 0.2-1.5z" fill="#fc0000"/>
<path d="M75.8,295.5L76,293.7" class="cl"/>
<path d="M170.1,308.7l3.5,1.4 0.3-1.1z" fill="#ff2700"/>
<path d="M168.5,308.3l2.3,0.8 2.9,0.4 1-3.8-5.4-0.7z" fill="#ff0c00"/>
<path d="M174.5,306.3l1-3.9-5.4-0.7-0.9,3.8z" fill="#ff0000"/>
<path d="M175.3,303l1-3.8-5.3-0.8-1,3.9zM176.1,299.7l1-3.8-5.3-0.7-1,3.8z" fill="#fe0000"/>
<path d="M177,296.5l0.9-3.9-5.3-0.7-1,3.9zM177.8,293.2l0.5-2-5.2-1.4-0.6,2.7z" fill="#fd0000"/>
<path d="M174.3,306.1L169.5,305.5M177.1,294.5L172.4,293.9" class="cl"/>
<path d="M64.9,281l2.3,1.3-1-2z" fill="#fc0000"/>
<path d="M61.2,278.7l4.3,2.6 1-0.5-2-3.8z" fill="#fb0000"/>
<path d="M59.3,275.5l1.4,3 1.1,0.6 3-1.6-2-3.8z" fill="#eb0000"/>
<path d="M57.7,272.2l1.8,3.9 3.6-1.9-0.6-1-2.8-2z" fill="#d80000"/>
<path d="M56,268.6l1.9,4.2 2.4-1.2z" fill="#c60000"/>
<path d="M58.7,273.6L61,272.4" class="cl"/>
<path d="M155,321.5l5,2.2 0.8-2.9-5.4-0.8z" fill="#ffa900"/>
<path d="M160.6,321.4l1.1-3.9-5.4-0.8-1,3.9z" fill="#ff8600"/>
<path d="M161.5,318.1l1.1-3.9-5.4-0.7-1,3.8z" fill="#ff6400"/>
<path d="M162.4,314.8l1.1-3.9-5.4-0.7-1,3.9z" fill="#ff4300"/>
<path d="M163.3,311.5l1-3.8-5.3-0.8-1,3.9z" fill="#ff2700"/>
<path d="M164.2,308.2l0.5-1.9-5-1.8-0.8,3z" fill="#ff0c00"/>
<path d="M161.7,316.5L156.9,315.8" class="cl"/>
<path d="M143.4,332.3l3.2,2.8 0.8-2.5z" fill="#b5ff00"/>
<path d="M141.8,331l2.3,2 3.1,0.2 1.2-3.9-5.9-0.5z" fill="#e5ff00"/>
<path d="M148.2,329.9l1.1-3.9-5.8-0.5-1.2,3.9z" fill="#ffef00"/>
<path d="M149.2,326.6l1.1-3.9-5.7-0.5-1.3,3.9z" fill="#ffcc00"/>
<path d="M150.1,323.3l1.2-3.9-5.7-0.5-1.2,3.9z" fill="#ffa900"/>
<path d="M151.1,320l0.3-0.7-4.9-3.3-1.1,3.5z" fill="#ff8600"/>
<path d="M148.8,326.8L143.6,326.4" class="cl"/>
<path d="M132,338.6l1.4,1.6 0.5-1.5z" fill="#3af400"/>
<path d="M128.7,335l3.9,4.2 1.1,0.1 1.5-4z" fill="#7bfb00"/>
<path d="M128.7,335l0.6,0.7 5.7,0.1 1.5-4-6.5-0.2z" fill="#b5ff00"/>
<path d="M136.3,332.4l1.4-4-6.4-0.2-1.5,4z" fill="#e5ff00"/>
<path d="M137.5,329l0.7-1.8-2.5-2.3-3-0.2-1.6,4.1z" fill="#ffef00"/>
<path d="M136.3,325.5l-2.8-2.7-1,2.5z" fill="#ffcc00"/>
<path d="M131.8,338L133.9,338M136.2,325.8L132.7,325.6" class="cl"/>
<path d="M118.9,330.2l1,1.5 5.3-2-1.2-1.6z" fill="#e5ff00"/>
<path d="M116.7,326.8l2.5,3.9 5.2-2.1-2.9-3.9z" fill="#ffef00"/>
<path d="M115.3,324.7l1.7,2.6 4.9-2.1-1.3-1.7z" fill="#ffcc00"/>
<path d="M117.5,327.5L121.8,325.7" class="cl"/>
<path d="M110.6,323l1.8,1.1-5.1-0.9-1.5-1.1z" fill="#ffcc00"/>
<path d="M106.9,321.4l4.4,2.2-4.8-0.9-4.1-2.3z" fill="#ffa900"/>
<path d="M101.7,320l5.1,1.3 0.8,0.7-4.5-1z" fill="#ff8600"/>
<path d="M204.1,288.2l1.4,2.1 1.3-2.4zM201.8,284.8l2.6,3.9 2.1-0.1 2.4-4.4zM200.6,283l1.6,2.4 6.3-0.6 1.4-2.5-1.3-1.7-6.9,0.6z" fill="#fc0000"/>
<path d="M209,281.2l-3-4-1.9,0.2-2.8,4.4z" fill="#fb0000"/>
<path d="M206.4,277.8l-1.4-1.9-1.3,2.1z" fill="#eb0000"/>
<path d="M202.2,284.8L208.5,284.3" class="cl"/>
<path d="M96,318.1l3,1.6-3.6-3.7z" fill="#ff8600"/>
<path d="M92.9,316l0.1,0.2 3.8,2.3-0.7-1.9-1.7-1.8-2.1-1.6z" fill="#ff6400"/>
<path d="M89.8,312.5l3.7,4.2-0.5-2.9-3.5-2.7z" fill="#ff4300"/>
<path d="M88.3,310.4l2.2,2.7-0.2-1.4z" fill="#ff2700"/>
<path d="M95.1,317.1L94.4,315.3" class="cl"/>
<path d="M186.8,294.6l5.2,2.2 0.6-2.4-5.6-0.7zM192.5,294.9l1-3.9-5.6-0.6-1.1,3.9z" fill="#fd0000"/>
<path d="M193.3,291.6l1.1-3.9-5.7-0.6-1,3.9zM194.2,288.3l1-3.9-5.6-0.6-1,3.9zM195.1,285l1-3.9-5.6-0.6-1,3.9z" fill="#fc0000"/>
<path d="M195.9,281.7l0.8-2.8-4.4-1.6-0.9-0.1-1.1,3.9z" fill="#fb0000"/>
<path d="M193,277.8l-1.6-0.8-0.2,0.8z" fill="#eb0000"/>
<path d="M191.4,296.2L191.8,296.3M194.9,284.4L189.9,283.9" class="cl"/>
<path d="M84,305.7l1.4,0.8-1.1-1.8z" fill="#ff0c00"/>
<path d="M81.2,303.5l3.3,2.6 0.2-0.8-2.7-3.9z" fill="#ff0000"/>
<path d="M78.5,300.9l0.6,1 2.6,2 0.7-1.9-1.6-2.3-1.3-1.2zM76.4,297.5l2.5,4 1.1-2.6-3-2.7z" fill="#fe0000"/>
<path d="M74.5,294.2l2.3,3.9 0.7-1.5z" fill="#fd0000"/>
<path d="M84.5,305.7L84.5,305.6M75.7,295.8L75.8,295.5" class="cl"/>
<path d="M173,309.9l5.1,1.8 0.5-2.1-5.3-0.7z" fill="#ff2700"/>
<path d="M178.5,310.2l0.9-3.9-5.3-0.7-1,3.9z" fill="#ff0c00"/>
<path d="M179.3,306.9l1-3.8-5.4-0.8-1,3.9z" fill="#ff0000"/>
<path d="M180.1,303.7l1-3.9-5.4-0.7-1,3.8zM180.9,300.4l1-3.9-5.4-0.7-1,3.9z" fill="#fe0000"/>
<path d="M181.7,297.1l1-3.9-5.4-0.7-0.9,3.9zM182.5,293.8l0.4-1.3-5.2-1.4-0.5,2z" fill="#fd0000"/>
<path d="M179,306.8L174.3,306.1M181.9,295.1L177.1,294.5" class="cl"/>
<path d="M69.1,287.8l2.4,1.1-1.2-2zM65.1,285.7l4.6,2.4 0.9-0.7-2.4-3.8zM63,282.3l2,3.3 0.7,0.4 2.8-1.9-1.7-2.6-1.3-0.9z" fill="#fc0000"/>
<path d="M61,278.9l2.3,3.9 2.7-1.8-4.2-2.6z" fill="#fb0000"/>
<path d="M60.3,277.6l1,1.8 1-0.7z" fill="#eb0000"/>
<path d="M65.4,285.5L67.9,283.8" class="cl"/>
<path d="M162.9,324.7l1.6,0.9 0.2-0.8z" fill="#ffcc00"/>
<path d="M159.5,323.4l4.2,1.8 0.8,0.1 1.1-3.8-5.4-0.8z" fill="#ffa900"/>
<path d="M165.4,322l1.1-3.8-5.4-0.8-1.1,3.9z" fill="#ff8600"/>
<path d="M166.3,318.7l1-3.8-5.3-0.8-1.1,3.9z" fill="#ff6400"/>
<path d="M167.2,315.5l1-3.9-5.3-0.7-1.1,3.8z" fill="#ff4300"/>
<path d="M168.1,312.2l1-3.9-5.4-0.7-1,3.8z" fill="#ff2700"/>
<path d="M168.9,308.9l0.3-1-5.1-1.8-0.5,2.1z" fill="#ff0c00"/>
<path d="M166.4,317.1L161.7,316.5" class="cl"/>
<path d="M146.1,334.7l4.6,2.5 0.4,0 1.1-3.9-5.4-0.7z" fill="#b5ff00"/>
<path d="M152,333.9l1.2-3.9-5.5-0.7-1.1,3.9z" fill="#e5ff00"/>
<path d="M153,330.6l1.1-3.9-5.4-0.7-1.1,3.8z" fill="#ffef00"/>
<path d="M154,327.3l1.1-3.9-5.4-0.7-1.1,3.8z" fill="#ffcc00"/>
<path d="M154.9,324l0.9-2.9-3.7-1.6-1.4-0.1-1.2,3.8z" fill="#ffa900"/>
<path d="M152.8,320.1l-2-1.1-0.3,0.9z" fill="#ff8600"/>
<path d="M153.6,327.5L148.8,326.8" class="cl"/>
<path d="M135.5,342.3l2.2,2.1 0.7-2z" fill="#0ef20f"/>
<path d="M132.9,339.7l3.3,3.2 2,0.1 1.4-4-6.3-0.3z" fill="#3af400"/>
<path d="M139.4,339.6l1.4-4-6.2-0.4-1.5,4z" fill="#7bfb00"/>
<path d="M140.6,336.2l1.4-4-6.2-0.4-1.4,4z" fill="#b5ff00"/>
<path d="M141.8,332.8l0.7-2-2.6-2.2-2.8-0.2-1.5,4z" fill="#e5ff00"/>
<path d="M140.5,329.2l-2.8-2.4-0.8,2.2z" fill="#ffef00"/>
<path d="M139.5,338.3L133.9,338" class="cl"/>
<path d="M123.7,337l0.6,0.7 2.4-1.5z" fill="#7bfb00"/>
<path d="M121.3,333.6l2.8,3.9 1.9-0.7 3.5-1.8-2.8-3.5z" fill="#b5ff00"/>
<path d="M119.6,331.2l2,2.9 5.5-2.1-2.2-2.8z" fill="#e5ff00"/>
<path d="M114.3,324l2.3,1.2-5.1-1.1-1.8-1.1z" fill="#ffcc00"/>
<path d="M107.5,321.6l3.5,1.3 4,1.7-4.6-1-4.4-2.2z" fill="#ffa900"/>
<path d="M105.9,321.3l2.3,0.8-1.5-0.1z" fill="#ff8600"/>
<path d="M209.2,295l1,1.3 0.6-1.4zM206.5,291.6l3.2,4 0.8,0 2.1-4.3z" fill="#fd0000"/>
<path d="M205.1,289.8l1.9,2.4 5.3-0.3 2.1-4.3-8.3,0.4zM214.1,288.2l0.4-0.9-2.9-3.2-3.4,0.1-2.4,4.4zM212.1,284.7l-2.6-2.8-1.7,3z" fill="#fc0000"/>
<path d="M211.2,284.2L208.5,284.3" class="cl"/>
<path d="M100,318.6l3.3,2-5.1-1.2-2.7-1.9z" fill="#ff8600"/>
<path d="M92.4,315.6l5.1,1.6 3.2,2-4.6-1.1z" fill="#ff6400"/>
<path d="M98.6,318.1L95.1,317.1" class="cl"/>
<path d="M192.8,297.7l3.8,3.6 0.8-3.3z" fill="#fe0000"/>
<path d="M191.4,296.5l2,1.9 3.9,0.2 1-3.9-6.3-0.4zM198.1,295.3l1-3.9-6.2-0.4-1,3.9z" fill="#fd0000"/>
<path d="M198.9,292l1-4-6.1-0.3-1.1,3.9zM199.8,288.6l1-3.9-6.2-0.4-1,3.9zM200.6,285.3l0.7-2.4-2-1.6-3.8-0.3-1,3.9z" fill="#fc0000"/>
<path d="M200,281.9l-3.9-3.3-0.8,3z" fill="#fb0000"/>
<path d="M197.5,296.6L191.8,296.3M200.5,284.8L194.9,284.4" class="cl"/>
<path d="M86.7,309.9l2.9,1.7-2.6-3.4z" fill="#ff2700"/>
<path d="M83.6,307.8l3.7,2.5 0.2-1.5-2.5-3.1-0.8-0.7z" fill="#ff0c00"/>
<path d="M81,304.4l2.4,3.3 0.7,0.5 0.6-2.8-3.3-2.5z" fill="#ff0000"/>
<path d="M78.8,301.1l2.6,3.9 0.5-1.7z" fill="#fe0000"/>
<path d="M84.1,307.8L84.5,305.7" class="cl"/>
<path d="M177.6,311.4l5.1,2.4 0.9-3.5-5.6-0.7z" fill="#ff2700"/>
<path d="M183.4,310.9l1-3.9-5.6-0.7-0.9,3.8z" fill="#ff0c00"/>
<path d="M184.2,307.6l1-3.9-5.5-0.7-1,3.9z" fill="#ff0000"/>
<path d="M185,304.3l1-3.9-5.5-0.7-1,3.9zM185.8,301l1-3.9-5.5-0.7-1,3.9z" fill="#fe0000"/>
<path d="M186.6,297.7l0.9-3.5-1.7-0.6-3.7-0.4-1,3.8zM186.6,294.1l-4.3-1.8-0.4,1.4z" fill="#fd0000"/>
<path d="M184,307.4L179,306.8M186.8,295.7L181.9,295.1" class="cl"/>
<path d="M73.6,294.5l2.1,0.9-1-1.7zM69.3,292.5l4.9,2.3 0.8-0.6-2.5-3.9z" fill="#fd0000"/>
<path d="M67.2,289.1l2.1,3.4 0.6,0.3 2.9-2-1.8-2.7-1.3-0.7zM65.1,285.7l2.4,3.9 2.8-1.9-4.6-2.4zM64.6,284.8l0.8,1.4 0.9-0.6z" fill="#fc0000"/>
<path d="M65.3,285.6L65.4,285.5" class="cl"/>
<path d="M163.9,325.3l5.1,2.1 0.5-1.9-5.4-0.8z" fill="#ffcc00"/>
<path d="M169.4,326.1l1-3.9-5.4-0.8-1,3.9z" fill="#ffa900"/>
<path d="M170.2,322.7l1.1-3.8-5.4-0.8-1.1,3.9z" fill="#ff8600"/>
<path d="M171.1,319.4l1-3.8-5.4-0.8-1,3.9z" fill="#ff6400"/>
<path d="M172,316.1l1-3.8-5.4-0.8-1,3.9z" fill="#ff4300"/>
<path d="M172.8,312.8l0.9-3.3-2.7-0.9-2.5-0.4-1,3.9z" fill="#ff2700"/>
<path d="M171.7,309.1l-3.1-1.4-0.3,1.1z" fill="#ff0c00"/>
<path d="M171.2,317.8L166.4,317.1" class="cl"/>
<path d="M54.6,276.9l0.4,0.8 6.4,0.9-1.6-3.3z" fill="#eb0000"/>
<path d="M53,273.5l1.9,3.9 5.2-1.5-1.9-3.9z" fill="#d80000"/>
<path d="M51.3,270.2l1.9,3.9 5.3-1.5-1.7-3.6-0.9-0.1z" fill="#c60000"/>
<path d="M50.3,268l1.3,2.7 5.2-1.6z" fill="#b20000"/>
<path d="M54,275L58.7,273.6" class="cl"/>
<path d="M150,336.7l5.5,2.9 0.6-2.2z" fill="#7bfb00"/>
<path d="M155.9,337.9l1.2-3.9-5.5-0.8-1.1,3.9z" fill="#b5ff00"/>
<path d="M156.9,334.6l1.1-3.9-5.4-0.8-1.2,3.9z" fill="#e5ff00"/>
<path d="M157.8,331.3l1.1-3.9-5.4-0.8-1.1,3.9z" fill="#ffef00"/>
<path d="M158.8,328l1.1-3.9-5.4-0.8-1.1,3.9z" fill="#ffcc00"/>
<path d="M159.7,324.7l0.5-1.6-5-2.2-0.9,3z" fill="#ffa900"/>
<path d="M158.4,328.2L153.6,327.5" class="cl"/>
<path d="M139.3,345.9l2.8,2.8 0.8-2.5z" fill="#09f63b"/>
<path d="M137.2,343.9l2.7,2.7 2.8,0.2 1.3-4-6.2-0.4z" fill="#0ef20f"/>
<path d="M143.9,343.4l1.3-4-6.2-0.4-1.4,4z" fill="#3af400"/>
<path d="M145,340l1.3-4-6.1-0.4-1.4,3.9z" fill="#7bfb00"/>
<path d="M146.1,336.6l0.7-2.1-2.4-2.1-3-0.2-1.4,3.9z" fill="#b5ff00"/>
<path d="M145,333l-3-2.6-0.8,2.4z" fill="#e5ff00"/>
<path d="M145.1,338.7L139.5,338.3" class="cl"/>
<path d="M126.6,340.5l2,2.5 5.1-3.4-0.9-1z" fill="#3af400"/>
<path d="M123.9,337.3l3.1,3.7 6.2-1.9-3.7-4.1-3.7,1.3z" fill="#7bfb00"/>
<path d="M130,335.5l-0.9-1-4,2.4z" fill="#b5ff00"/>
<path d="M126.3,339.7L131.8,338" class="cl"/>
<path d="M117.7,331.3l3,0.5-1.3-1.9z" fill="#e5ff00"/>
<path d="M114,329.1l1,1.8 3.5,0.5 1.3-1-2.6-3.9z" fill="#ffef00"/>
<path d="M112.1,325.8l2.2,3.8 3.2-2.6-1.5-2.3-1.9-0.7z" fill="#ffcc00"/>
<path d="M110.2,322.6l2.2,3.7 2.4-2.1z" fill="#ffa900"/>
<path d="M114.7,329.7L117.5,327.5" class="cl"/>
<path d="M103.4,319.6l4.1,2.3-5.1-1.3-3.3-2.1z" fill="#ff8600"/>
<path d="M96.6,317.1l5.1,1.7 2.4,1.4-4.3-1.1z" fill="#ff6400"/>
<path d="M101.9,319.2L98.6,318.1" class="cl"/>
<path d="M200.2,308l0.8,1.4 0.4-1.3z" fill="#ff0c00"/>
<path d="M198.3,304.7l2.3,3.9 0.6,0.1 1-4z" fill="#ff0000"/>
<path d="M196.4,301.3l2.2,4 3.4,0 1-3.9zM196.1,300.8l0.6,1.1 6.1,0.1 1-3.9-7-0.1z" fill="#fe0000"/>
<path d="M203.6,298.7l1-3.9-7-0.1-1,3.9zM204.4,295.4l1-3.9-6.9-0.2-1,4z" fill="#fd0000"/>
<path d="M205.2,292.1l0.6-2.4-1.1-1.6-5.4-0.1-1,3.9zM205.2,288.7l-2.7-4-2.3,0-1,3.9zM202.9,285.4l-2.1-3.2-0.8,3.1z" fill="#fc0000"/>
<path d="M200.8,308.5L200.9,308.5M203.8,296.7L197.5,296.6M202.2,284.8L200.5,284.8" class="cl"/>
<path d="M89.3,314.2l4.5,2.3-3.8-4.8z" fill="#ff4300"/>
<path d="M86.2,311.4l1.5,1.9 2.1,1.2 0.6-2.2-1.2-1.5-2.3-1.5z" fill="#ff2700"/>
<path d="M83.5,307.9l3.2,4 0.7-2.3-3.7-2.4z" fill="#ff0c00"/>
<path d="M83,306.9l1,1.5 0.3-0.8z" fill="#ff0000"/>
<path d="M84,308L84.1,307.8" class="cl"/>
<path d="M182.9,313.7l4.5,2.5 0.4-2z" fill="#ff4300"/>
<path d="M182.2,313.5l1.4,0.8 4.1,0.5 0.9-3.9-5.6-0.7z" fill="#ff2700"/>
<path d="M188.5,311.5l0.9-3.9-5.6-0.7-1,3.9z" fill="#ff0c00"/>
<path d="M189.3,308.2l0.9-3.9-5.6-0.7-1,3.9z" fill="#ff0000"/>
<path d="M190.1,304.9l0.9-3.9-5.6-0.7-1,3.9zM190.9,301.6l0.9-3.9-5.6-0.7-1,3.9z" fill="#fe0000"/>
<path d="M191.6,298.3l0.5-2.1-5.2-2.2-0.9,3.6z" fill="#fd0000"/>
<path d="M189,308L184,307.4M191.4,296.2L186.8,295.7" class="cl"/>
<path d="M77.7,301.3l2.3,0.9-1.1-1.8zM73.4,299.4l5,2.2 0.9-0.6-2.5-3.9z" fill="#fe0000"/>
<path d="M71.4,295.9l2.3,3.7 0.4,0.1 3.1-2.1-1.9-3-1.1-0.5zM69.3,292.5l2.4,3.9 3.1-2-4.9-2.3z" fill="#fd0000"/>
<path d="M68.9,291.7l0.7,1.3 0.9-0.6z" fill="#fc0000"/>
<path d="M72.9,297.7L75.7,295.8" class="cl"/>
<path d="M168.4,327.2l5.2,2 0.7-3-5.4-0.8z" fill="#ffcc00"/>
<path d="M174.2,326.8l1-3.9-5.4-0.8-1,3.9z" fill="#ffa900"/>
<path d="M175.1,323.5l1-3.9-5.4-0.8-1.1,3.9z" fill="#ff8600"/>
<path d="M175.9,320.1l1-3.9-5.4-0.7-1,3.9z" fill="#ff6400"/>
<path d="M176.8,316.8l1-3.9-5.4-0.7-1,3.9z" fill="#ff4300"/>
<path d="M177.7,313.5l0.6-2.4-5.2-1.8-0.9,3.5z" fill="#ff2700"/>
<path d="M176,318.5L171.2,317.8" class="cl"/>
<path d="M58.8,283.8l0.5,0.9 6.5,1.1-2.3-3.8z" fill="#fc0000"/>
<path d="M56.7,280.3l2.4,4 4.8-1.8-2.4-3.9z" fill="#fb0000"/>
<path d="M54.6,277l2.4,3.9 4.8-1.7-0.7-1.2z" fill="#eb0000"/>
<path d="M154.9,339.3l5,2.5 1.1-3.7-5.5-0.8z" fill="#7bfb00"/>
<path d="M160.8,338.7l1.1-4-5.4-0.8-1.2,4z" fill="#b5ff00"/>
<path d="M161.7,335.3l1.1-3.9-5.4-0.8-1.1,3.9z" fill="#e5ff00"/>
<path d="M162.7,332l1.1-3.9-5.5-0.8-1.1,3.9z" fill="#ffef00"/>
<path d="M163.6,328.7l1-3.7-0.7-0.4-4.6-0.6-1.1,3.9z" fill="#ffcc00"/>
<path d="M164.6,325.2l-5-2.4-0.5,1.8z" fill="#ffa900"/>
<path d="M157.9,340.5L159.9,340.8M163.2,328.9L158.4,328.2" class="cl"/>
<path d="M144.5,350.1l2,1.3 0.4-1.2z" fill="#05fb66"/>
<path d="M141.6,348.3l3.6,2.3 1.5,0.2 1.3-4-5.7-0.7z" fill="#09f63b"/>
<path d="M147.8,347.4l1.3-4-5.7-0.7-1.3,4z" fill="#0ef20f"/>
<path d="M148.9,344l1.3-4-5.6-0.7-1.4,4z" fill="#3af400"/>
<path d="M150,340.6l1.2-3.8-0.3-0.2-5.2-0.7-1.3,4z" fill="#7bfb00"/>
<path d="M151.6,337.2l-5.3-3.1-0.8,2.4z" fill="#b5ff00"/>
<path d="M150.1,339.4L145.1,338.7" class="cl"/>
<path d="M129.6,344.1l3.4,3.6 5-3.8-1.6-1.6z" fill="#0ef20f"/>
<path d="M128.2,342.5l1.9,2.1 6.8-1.9-3.6-3.5z" fill="#3af400"/>
<path d="M123,337.7l1.9-0.1-0.6-0.9z" fill="#7bfb00"/>
<path d="M118.1,335.8l1.3,2.1 4.5-0.2 0.7-0.5-2.8-3.9z" fill="#b5ff00"/>
<path d="M116,332.5l2.5,3.9 3.7-2.6-2-2.7-1.9-0.3z" fill="#e5ff00"/>
<path d="M114.6,330.2l1.8,2.8 2.7-2.1z" fill="#ffef00"/>
<path d="M110.2,322.5l1.5,1-5.2-1.9z" fill="#ffa900"/>
<path d="M106.4,320.9l4.5,2.2-3.6-1-0.7-0.2-4.1-2.3z" fill="#ff8600"/>
<path d="M100.8,318.7l5.2,2 1.1,0.8-4-1.3z" fill="#ff6400"/>
<path d="M102.5,319.5L101.9,319.2" class="cl"/>
<path d="M204.6,314.8l1,1.7 0.4-1.6z" fill="#ff4300"/>
<path d="M202.4,311.4l2.6,4.1 0.8,0 0.9-3.9z" fill="#ff2700"/>
<path d="M200.6,308.7l2.2,3.3 3.8,0.2 0.9-3.9-6.8-0.3z" fill="#ff0c00"/>
<path d="M207.4,308.9l0.9-3.9-6.8-0.3-0.9,3.9z" fill="#ff0000"/>
<path d="M208.1,305.6l0.9-4-6.6-0.2-1,3.9zM208.9,302.2l0.9-3.9-6.6-0.2-1,3.9z" fill="#fe0000"/>
<path d="M209.7,298.9l0.7-3.3-0.5-0.6-5.9-0.2-1,3.9zM210.4,295.6l-3.1-4-2.5-0.1-1,3.9z" fill="#fd0000"/>
<path d="M207.7,292.2l-2.4-3.1-0.7,2.9z" fill="#fc0000"/>
<path d="M207.1,308.7L200.9,308.5M209.8,297L203.8,296.7" class="cl"/>
<path d="M96.6,316.7l1.6,1.1-5.1-1.6-0.7-0.6z" fill="#ff6400"/>
<path d="M93,314.9l4.3,2.4-4.3-1.1-4.1-2.5z" fill="#ff4300"/>
<path d="M87.1,312.7l5.2,1.8 1.3,1-4.1-1.2z" fill="#ff2700"/>
<path d="M188.5,317.6l3.4,3.5 0.8-3.2z" fill="#ff6400"/>
<path d="M186.8,315.8l2.4,2.4 3.3,0.3 1-3.9-6.3-0.5z" fill="#ff4300"/>
<path d="M193.3,315.2l0.9-3.9-6.2-0.5-0.9,3.9z" fill="#ff2700"/>
<path d="M194.1,311.9l0.9-3.9-6.2-0.5-0.9,3.9z" fill="#ff0c00"/>
<path d="M194.9,308.6l0.9-3.9-6.2-0.5-0.9,3.9z" fill="#ff0000"/>
<path d="M195.7,305.2l0.9-3.8-6.2-0.5-0.9,3.9zM196.4,301.9l0.3-1.2-3-2.9-2.5-0.2-1,3.9z" fill="#fe0000"/>
<path d="M194.4,298.4l-2.8-2.6-0.6,2.4z" fill="#fd0000"/>
<path d="M191.5,320.2L191.8,320.2M194.6,308.4L189,308" class="cl"/>
<path d="M79.2,306l5.1,2-3-4.1z" fill="#ff0000"/>
<path d="M76.1,302.9l1.9,2.5 1.8,0.8 1.9-1.8-2.1-3-1.3-0.5zM73.6,299.4l2.9,4 2.4-2.3-4.9-2.1z" fill="#fe0000"/>
<path d="M73.2,298.8l0.7,1.1 0.7-0.6z" fill="#fd0000"/>
<path d="M175.3,329.9l2.9,1.7 0.3-1.4z" fill="#ffef00"/>
<path d="M173,328.9l3,1.6 2.4,0.3 1-3.9-5.7-0.8z" fill="#ffcc00"/>
<path d="M179.2,327.5l1-4-5.6-0.7-1,3.9z" fill="#ffa900"/>
<path d="M180.1,324.1l1-3.9-5.6-0.7-1,3.9z" fill="#ff8600"/>
<path d="M180.9,320.8l1-3.9-5.6-0.7-1,3.9z" fill="#ff6400"/>
<path d="M181.8,317.5l1-3.9-5.6-0.7-1,3.9z" fill="#ff4300"/>
<path d="M182.6,314.1l0.3-0.9-5.2-2.3-0.6,2.5z" fill="#ff2700"/>
<path d="M177.6,331L178,331M181,319.2L176,318.5" class="cl"/>
<path d="M63,291l7.2,1.8-2.5-4zM61.1,287.3l2.7,4 4.2-2-2.4-3.9zM58.9,284l2.5,3.8 4.5-1.9-0.5-0.8z" fill="#fc0000"/>
<path d="M61.4,287.2L65.3,285.6" class="cl"/>
<path d="M159.9,341.6l4.5,2.3 0.5-1.7z" fill="#3af400"/>
<path d="M159.4,341.6l1.3,0.5 4,0.7 1.1-4-5.4-0.8z" fill="#7bfb00"/>
<path d="M165.7,339.4l1.1-3.9-5.5-0.8-1.1,3.9z" fill="#b5ff00"/>
<path d="M166.6,336.1l1.1-4-5.5-0.8-1,3.9z" fill="#e5ff00"/>
<path d="M167.5,332.7l1.1-3.9-5.4-0.8-1.1,3.9z" fill="#ffef00"/>
<path d="M168.5,329.4l0.7-2.6-5.1-2.1-1.1,3.9z" fill="#ffcc00"/>
<path d="M164.8,341.5L159.9,340.8M168.1,329.6L163.2,328.9" class="cl"/>
<path d="M48.4,278.1l0.9,1.8 6.3-2.3-0.4-0.9z" fill="#eb0000"/>
<path d="M46.7,274.7l1.9,3.9 6.9-1.3-1.9-3.9z" fill="#d80000"/>
<path d="M44.9,271.3l2,3.9 6.9-1.3-1.9-3.9z" fill="#c60000"/>
<path d="M44.6,270.5l0.6,1.3 7-1.2-1.3-2.6z" fill="#b20000"/>
<path d="M47.8,276.2L54,275" class="cl"/>
<path d="M145.9,351.1l5,2.8 0.9-3-5.5-0.7z" fill="#05fb66"/>
<path d="M151.7,351.5l1.2-4-5.5-0.8-1.3,4z" fill="#09f63b"/>
<path d="M152.7,348.1l1.3-4-5.5-0.8-1.3,4z" fill="#0ef20f"/>
<path d="M153.8,344.7l1.3-4-5.5-0.7-1.3,3.9z" fill="#3af400"/>
<path d="M154.9,341.3l0.7-2.3-4.9-2.5-1.3,4z" fill="#7bfb00"/>
<path d="M147.5,351.7L151.1,352.2M155,340L150.1,339.4" class="cl"/>
<path d="M136.4,351.4l0.9,1.1 1.8-1.6z" fill="#05fb66"/>
<path d="M133,347.7l3.8,4.2 1.6-0.4 4-3.3-2.3-2.2z" fill="#09f63b"/>
<path d="M132.6,347.3l0.9,0.9 7.1-1.7-3-3z" fill="#0ef20f"/>
<path d="M122.9,342.8l0.9,1.2 5.4-1.2-2.1-2.5z" fill="#3af400"/>
<path d="M120.4,339.3l2.9,4 4.2-2.6-3-3.6-0.8,0z" fill="#7bfb00"/>
<path d="M119,337.3l1.8,2.5 3.8-2.7z" fill="#b5ff00"/>
<path d="M122.7,341.9L126.3,339.7" class="cl"/>
<path d="M112.5,330.2l3.3,0.9-1.3-2.4z" fill="#ffef00"/>
<path d="M109.2,328l0.9,1.7 3.2,0.7 1.5-1.2-2.3-3.8z" fill="#ffcc00"/>
<path d="M107.4,324.6l2.1,3.9 3.3-2.6-1.7-3-1-0.4z" fill="#ffa900"/>
<path d="M105.7,321.3l2,3.9 3-2.5-4.5-1.9z" fill="#ff8600"/>
<path d="M105.3,320.4l0.7,1.4 0.9-0.7z" fill="#ff6400"/>
<path d="M114,330.3L114.7,329.7" class="cl"/>
<path d="M99.7,317.9l2.7,1.6-5.1-1.8-1.6-1.1z" fill="#ff6400"/>
<path d="M94.6,315.5l1.9,0.9 3.9,2.1-4-1.2-4.3-2.5z" fill="#ff4300"/>
<path d="M91.4,314.4l3.9,1.7-2.6-0.7z" fill="#ff2700"/>
<path d="M195.5,327.9l0.9,1.6 0.4-1.6z" fill="#ffcc00"/>
<path d="M193.7,324.6l2.1,3.9 0.8,0 0.9-3.9z" fill="#ffa900"/>
<path d="M191.8,321.2l2.2,4 3.4,0 0.9-3.9z" fill="#ff8600"/>
<path d="M191.5,320.5l0.6,1.3 6.1,0.1 0.9-3.9-7-0.1z" fill="#ff6400"/>
<path d="M198.9,318.6l0.9-3.9-6.9-0.1-1,3.9z" fill="#ff4300"/>
<path d="M199.7,315.3l0.9-3.9-7-0.2-0.9,4z" fill="#ff2700"/>
<path d="M200.4,312l0.8-3.4-0.3-0.5-6.5-0.2-0.9,3.9z" fill="#ff0c00"/>
<path d="M201.3,308.7l-2.3-4-3.8-0.1-0.9,3.9z" fill="#ff0000"/>
<path d="M199.3,305.3l-2.2-4-1.1,0-1,3.9zM197.4,301.9l-1.1-1.9-0.5,1.9z" fill="#fe0000"/>
<path d="M198.2,320.3L191.8,320.2M200.8,308.5L194.6,308.4" class="cl"/>
<path d="M85.3,312.3l3.3,1.3-2-2.8z" fill="#ff2700"/>
<path d="M81.5,310l0.8,1.1 3.6,1.5 1-1.3-3-4z" fill="#ff0c00"/>
<path d="M78.8,306.5l3.1,4 2.3-2.7-0.4-0.5-4.1-1.8z" fill="#ff0000"/>
<path d="M77.5,304.7l1.6,2.2 1.1-1.2z" fill="#fe0000"/>
<path d="M82.1,310.2L84,308" class="cl"/>
<path d="M177.6,331.3l5.2,3 0.8-3.4-5.7-0.8z" fill="#ffef00"/>
<path d="M183.5,331.5l1-4-5.7-0.7-1,3.9z" fill="#ffcc00"/>
<path d="M184.3,328.1l1-3.9-5.7-0.7-1,3.9z" fill="#ffa900"/>
<path d="M185.2,324.8l1-4-5.7-0.7-1,4z" fill="#ff8600"/>
<path d="M186,321.4l1-3.9-5.7-0.7-1,3.9z" fill="#ff6400"/>
<path d="M186.9,318.1l0.6-2.5-3.7-1.9-1.6-0.2-1,3.9z" fill="#ff4300"/>
<path d="M184.5,314.2l-2.2-1.3-0.3,1.2z" fill="#ff2700"/>
<path d="M183.1,331.7L178,331M186.1,319.8L181,319.2" class="cl"/>
<path d="M69.5,297.4l5,2.5-2.6-4.3zM66.3,294.4l1.7,2.2 2.1,1.1 2.1-1.6-2.4-3.9z" fill="#fd0000"/>
<path d="M63.1,290.5l3.5,4.4 3.5-2.2-0.4-0.7z" fill="#fc0000"/>
<path d="M72,298.4L72.9,297.7" class="cl"/>
<path d="M163.9,343.6l5.1,2.3 0.8-2.9-5.5-0.9z" fill="#3af400"/>
<path d="M169.6,343.6l1.1-4-5.5-0.9-1.1,4z" fill="#7bfb00"/>
<path d="M170.5,340.2l1.1-3.9-5.4-0.9-1.1,3.9z" fill="#b5ff00"/>
<path d="M171.5,336.8l1-3.9-5.4-0.8-1.1,3.9z" fill="#e5ff00"/>
<path d="M172.4,333.5l1.1-4-5.5-0.8-1.1,3.9z" fill="#ffef00"/>
<path d="M173.3,330.1l0.4-1.5-5.1-2-0.7,2.7z" fill="#ffcc00"/>
<path d="M169.7,342.3L164.8,341.5M172.9,330.4L168.1,329.6" class="cl"/>
<path d="M52.7,285.1l1,1.5 6.3-2.1-0.6-0.9z" fill="#fc0000"/>
<path d="M50.4,281.5l2.6,4.1 6.7-1.5-2.4-3.9z" fill="#fb0000"/>
<path d="M49,279.4l1.7,2.7 6.9-1.4-2.3-3.7z" fill="#eb0000"/>
<path d="M152.9,354.8l2.5,1.6 0.4-1.3z" fill="#00fe92"/>
<path d="M150.4,353.6l3.2,1.8 2,0.3 1.2-4-5.6-0.8z" fill="#05fb66"/>
<path d="M156.7,352.3l1.2-4-5.6-0.9-1.2,4z" fill="#09f63b"/>
<path d="M157.7,348.8l1.3-4-5.6-0.8-1.3,4z" fill="#0ef20f"/>
<path d="M158.8,345.4l1.2-4-5.5-0.8-1.3,4z" fill="#3af400"/>
<path d="M159.9,342l0.2-0.8-5-2.5-0.8,2.5z" fill="#7bfb00"/>
<path d="M156.1,352.9L151.1,352.2M157.9,340.5L155,340" class="cl"/>
<path d="M136.9,352.1l4.9,3.3 5-4.5-1.4-0.9-7.2,1z" fill="#05fb66"/>
<path d="M146.2,350.5l-4.3-2.7-4.4,3.8z" fill="#09f63b"/>
<path d="M138.4,352.7L145.3,351.8" class="cl"/>
<path d="M125.7,346.3l2.5,3.2 5.3-2.1-3.2-3.5z" fill="#0ef20f"/>
<path d="M123.4,343.5l2.7,3.3 4.6-2.5-1.9-2z" fill="#3af400"/>
<path d="M115.5,337.7l4.6,0.2-1.5-2.4z" fill="#b5ff00"/>
<path d="M112.9,334.7l1.6,3 1.9,0.1 2.6-1.8-2.5-3.9z" fill="#e5ff00"/>
<path d="M111,331.3l2.2,3.9 3.6-2.6-1.4-2.3-2.3-0.5z" fill="#ffef00"/>
<path d="M109.7,328.9l1.6,3 2.6-1.9z" fill="#ffcc00"/>
<path d="M111.7,332L114,330.3" class="cl"/>
<path d="M102.6,319.2l4.1,2.1-5.2-1.9-2.7-1.6z" fill="#ff6400"/>
<path d="M95.6,316.3l5,2.7 2.6,0.8-3.5-1.9z" fill="#ff4300"/>
<path d="M104.8,320.5L102.5,319.5" class="cl"/>
<path d="M199.6,334.7l1.4,2.2 0.4-2.1z" fill="#e5ff00"/>
<path d="M197.5,331.3l2.5,4 1.3,0.1 0.9-3.9z" fill="#ffef00"/>
<path d="M196,328.7l1.9,3.2 4.2,0.2 0.8-3.9-6.8-0.3z" fill="#ffcc00"/>
<path d="M202.8,328.7l0.9-3.9-6.8-0.2-0.9,3.9z" fill="#ffa900"/>
<path d="M203.6,325.4l0.9-3.9-6.8-0.2-0.9,3.9z" fill="#ff8600"/>
<path d="M204.3,322.1l0.9-3.9-6.8-0.2-0.9,3.9z" fill="#ff6400"/>
<path d="M205.1,318.8l0.7-3.1-0.5-0.8-6.1-0.2-0.9,3.9z" fill="#ff4300"/>
<path d="M205.7,315.5l-2.6-4-3.1-0.1-0.9,3.9z" fill="#ff2700"/>
<path d="M203.5,312.1l-2.7-4.2-1,4.1z" fill="#ff0c00"/>
<path d="M198.4,332.2L201.7,332.3M204.4,320.5L198.2,320.3" class="cl"/>
<path d="M88.9,313.1l4,2-5.1-1.7-2.8-1.5z" fill="#ff2700"/>
<path d="M81.7,310.5l5.2,1.7 2.7,1.5-3.9-1.2z" fill="#ff0c00"/>
<path d="M185.8,337.8l1.5,1.7 0.4-1.5z" fill="#b5ff00"/>
<path d="M182.4,334.2l4,4.3 1.2,0.1 1-4z" fill="#e5ff00"/>
<path d="M182.2,334l0.8,0.8 5.4,0.4 1-3.9-6.4-0.5z" fill="#ffef00"/>
<path d="M189.2,331.9l1-4-6.3-0.4-1,3.9z" fill="#ffcc00"/>
<path d="M190.1,328.5l1-3.9-6.4-0.5-1,4z" fill="#ffa900"/>
<path d="M190.9,325.2l1-4-6.3-0.4-1,3.9z" fill="#ff8600"/>
<path d="M191.7,321.8l0.4-1.4-2.7-2.7-3-0.2-1,3.9z" fill="#ff6400"/>
<path d="M190.1,318.3l-3.1-3.2-0.7,2.9z" fill="#ff4300"/>
<path d="M188.9,332.1L183.1,331.7M191.5,320.2L186.1,319.8" class="cl"/>
<path d="M76.1,303.9l2.7,1.9-2.4-3.6zM73.3,301.5l3.3,2.8 0.2-1.4-3-4.2z" fill="#fe0000"/>
<path d="M69.8,298.3l2.5,2.4 1.5,1.3 0.5-2.6-0.2-0.3-4.3-2.2zM67.5,295.8l2.8,3 0.1-1.6z" fill="#fd0000"/>
<path d="M72,300L72,298.4" class="cl"/>
<path d="M170.6,346.7l3,1.9 0.4-1.5z" fill="#0ef20f"/>
<path d="M168.4,345.6l2.9,1.7 2.5,0.3 1.1-3.9-5.7-0.8z" fill="#3af400"/>
<path d="M174.7,344.3l1.1-4-5.7-0.8-1.1,4z" fill="#7bfb00"/>
<path d="M175.6,340.9l1.1-4-5.7-0.7-1,3.9z" fill="#b5ff00"/>
<path d="M176.6,337.5l1-3.9-5.7-0.8-1,4z" fill="#e5ff00"/>
<path d="M177.5,334.2l0.8-3.2-2.1-1.1-3.3-0.4-1.1,3.9z" fill="#ffef00"/>
<path d="M176.9,330.4l-3.7-2.1-0.5,1.7z" fill="#ffcc00"/>
<path d="M174.8,343L169.7,342.3M177.6,331L172.9,330.4" class="cl"/>
<path d="M55.1,288.6l2.9,4 5.2-1.2 1.1-0.3-2.6-4zM53.3,286.1l2.2,3 6.5-1.5-2.3-3.6z" fill="#fc0000"/>
<path d="M55.5,288.6L61.4,287.2" class="cl"/>
<path d="M154.8,356.1l5.1,2.5 0.8-2.7-5.5-0.9z" fill="#00fe92"/>
<path d="M160.5,356.5l1.3-4-5.6-0.9-1.2,4z" fill="#05fb66"/>
<path d="M161.6,353l1.2-4-5.5-0.8-1.2,4z" fill="#09f63b"/>
<path d="M162.7,349.6l1.2-4-5.5-0.8-1.3,3.9z" fill="#0ef20f"/>
<path d="M163.7,346.2l0.9-2.9-3.8-1.7-1.4-0.3-1.2,4z" fill="#3af400"/>
<path d="M161.6,342.1l-2-1.1-0.3,0.9z" fill="#7bfb00"/>
<path d="M161.1,353.7L156.1,352.9" class="cl"/>
<path d="M142.6,355.8l3.7,2.1 2.9-2.7z" fill="#00fe92"/>
<path d="M141.3,355.1l2.1,1.2 5.2-0.5 2.6-2.4-4.9-2.8z" fill="#05fb66"/>
<path d="M147.5,351.7L145.3,351.8" class="cl"/>
<path d="M131.4,353.5l1.2,1.5 5.2-2.9-0.8-0.9z" fill="#05fb66"/>
<path d="M128.6,349.9l3.2,4.1 5.7-2.3-3.9-4.2z" fill="#09f63b"/>
<path d="M127.8,349l1.1,1.4 5.2-2.4-1-1.1z" fill="#0ef20f"/>
<path d="M120.7,344.3l3.8-0.4-1.1-1.4z" fill="#3af400"/>
<path d="M117,341.6l1.9,3 2.8-0.3 2.1-1.4-2.9-3.9z" fill="#7bfb00"/>
<path d="M114.8,338.1l2.5,4 4-2.7-1.6-2.1-3.5-0.2z" fill="#b5ff00"/>
<path d="M114.1,337.1l1,1.5 2-1.4z" fill="#e5ff00"/>
<path d="M119,344.2L122.7,341.9" class="cl"/>
<path d="M107.8,329l3.1,0.9-1.2-2.3z" fill="#ffcc00"/>
<path d="M104.3,326.8l0.7,1.4 3.5,1 1.5-1.1-2.1-3.8z" fill="#ffa900"/>
<path d="M102.7,323.5l1.9,3.9 3.6-2.6-2-3.9z" fill="#ff8600"/>
<path d="M101.1,320.1l1.9,3.9 3.5-2.6-0.4-0.6-3.7-1.7z" fill="#ff6400"/>
<path d="M100.1,318.1l1.2,2.5 1.7-1.2z" fill="#ff4300"/>
<path d="M102.4,322.2L104.8,320.5" class="cl"/>
<path d="M95.9,316.1l1.3,0.9-3.5-1.5z" fill="#ff4300"/>
<path d="M91.9,314.3l4.7,2.4-2.2-0.6-2.4-1-4-2.1z" fill="#ff2700"/>
<path d="M86,312.2l5.2,1.8 1.3,0.9-3.8-1.2z" fill="#ff0c00"/>
<path d="M189.9,344.7l1.9,3.5 0.8-3.5z" fill="#3af400"/>
<path d="M188.1,341.3l2.1,4 2.3,0 1-4z" fill="#7bfb00"/>
<path d="M186.9,339l1.5,2.9 4.9,0 1-3.9-7.2-0.1z" fill="#b5ff00"/>
<path d="M194.1,338.6l1-4-7.2,0-0.9,3.9z" fill="#e5ff00"/>
<path d="M195,335.2l0.9-3.9-7.1-0.1-1,4z" fill="#ffef00"/>
<path d="M195.8,331.9l0.8-3.3-0.4-0.7-6.6,0-1,3.9z" fill="#ffcc00"/>
<path d="M196.5,328.5l-2.2-3.9-3.8-0.1-1,4z" fill="#ffa900"/>
<path d="M194.7,325.2l-2.2-4-1.2,0-1,3.9z" fill="#ff8600"/>
<path d="M192.8,321.8l-1.1-2.1-0.6,2.1z" fill="#ff6400"/>
<path d="M189.9,344.1L192.5,344.1M195.4,332.1L188.9,332.1" class="cl"/>
<path d="M81.8,310.5l1.3,1-1.7-2.2z" fill="#ff0c00"/>
<path d="M79.6,308l2.9,3-0.3-1.1-3.5-4.1z" fill="#ff0000"/>
<path d="M77.4,305.5l3,3-1-2.2-1-1.3-2.6-1.9zM73.9,302.2l2.7,2.4 1.6,1.4-1.6-2.5-3.7-2.7z" fill="#fe0000"/>
<path d="M71.8,299.9l3,2.7-1-1.4z" fill="#fd0000"/>
<path d="M82.2,310.4L82.1,310.2" class="cl"/>
<path d="M173,348.3l5.2,3.4 1-3.9-5.8-0.8z" fill="#0ef20f"/>
<path d="M179.1,348.3l1-3.9-5.8-0.8-1.1,4z" fill="#3af400"/>
<path d="M180,344.9l1-3.9-5.8-0.8-1.1,4z" fill="#7bfb00"/>
<path d="M180.9,341.6l1-4-5.8-0.7-1.1,3.9z" fill="#b5ff00"/>
<path d="M181.7,338.2l1.1-4-5.8-0.7-1,3.9z" fill="#e5ff00"/>
<path d="M182.6,334.8l0.3-1.1-5.1-3-0.9,3.4z" fill="#ffef00"/>
<path d="M180,343.7L174.8,343" class="cl"/>
<path d="M62.5,296.1l6.4,0.6-2.1-2.6z" fill="#fd0000"/>
<path d="M57.7,292.2l4.6,4 1.1,0.1 3.8-1.7-3.2-4-0.9,0.2zM57.5,292.1l0.7,0.6 5.8-1.8z" fill="#fc0000"/>
<path d="M159.3,358.3l5.1,2.5 1.3-4.1-5.6-0.9z" fill="#00fe92"/>
<path d="M165.5,357.3l1.2-4-5.5-0.9-1.3,4z" fill="#05fb66"/>
<path d="M166.5,353.8l1.3-4-5.6-0.9-1.2,4z" fill="#09f63b"/>
<path d="M167.6,350.4l1.2-4-5.5-0.9-1.2,4z" fill="#0ef20f"/>
<path d="M168.7,347l0.5-1.7-5.1-2.3-1,3.1z" fill="#3af400"/>
<path d="M166,354.5L161.1,353.7" class="cl"/>
<path d="M145.7,357.6l5,2.8 5-4.5-2-1.1-5.4,0.4z" fill="#00fe92"/>
<path d="M154.5,355.3l-3.8-2.2-3,2.8z" fill="#05fb66"/>
<path d="M136,357.5l1.1,0.9 2.4-1.7z" fill="#00fe92"/>
<path d="M132.2,354.5l4.4,3.5 2.2-0.7 3.5-2.3-4.9-3.3z" fill="#05fb66"/>
<path d="M132.8,354.7L138.4,352.7" class="cl"/>
<path d="M121.8,348.6l1.6,2.2 5.4-1.5-2.6-3.3z" fill="#0ef20f"/>
<path d="M119.3,345.1l2.8,4 4.5-2.6-2.5-3.1-2.7,0.3z" fill="#3af400"/>
<path d="M118.5,344.1l1.1,1.4 2.8-1.8z" fill="#7bfb00"/>
<path d="M109.4,337l5.8,0.8-1.8-3.4z" fill="#e5ff00"/>
<path d="M107.7,333.6l1.7,3.4 0.9,0.1 3.3-2.2-2.1-3.9z" fill="#ffef00"/>
<path d="M106,330.2l2,3.9 3.8-2.6-1.3-2.4-2.1-0.6z" fill="#ffcc00"/>
<path d="M104.6,327.4l1.7,3.3 2.8-2z" fill="#ffa900"/>
<path d="M108.4,334.3L111.7,332" class="cl"/>
<path d="M98.4,318l3.1,1-5-2.6-1.5-0.4z" fill="#ff4300"/>
<path d="M92.8,315.4l2.5,1.2 4,1.5-3.4-2-4.9-1.9z" fill="#ff2700"/>
<path d="M90.3,313.9l3.4,1.6-1.8-1.2z" fill="#ff0c00"/>
<path d="M193.7,351.5l2.6,4.4 1.1-4.4z" fill="#09f63b"/>
<path d="M191.7,348.1l2.4,4 3.2,0 0.9-3.9z" fill="#0ef20f"/>
<path d="M191.4,347.4l0.7,1.3 6,0.1 0.9-4-7-0.1z" fill="#3af400"/>
<path d="M198.9,345.4l0.9-3.9-6.9-0.2-1,4z" fill="#7bfb00"/>
<path d="M199.7,342.1l1-4-7-0.1-1,3.9z" fill="#b5ff00"/>
<path d="M200.5,338.7l0.6-2.6-0.8-1.4-5.8-0.1-1,4z" fill="#e5ff00"/>
<path d="M200.7,335.4l-2.5-4.1-2.9,0-0.9,3.9z" fill="#ffef00"/>
<path d="M198.6,331.9l-2.4-4-1,4z" fill="#ffcc00"/>
<path d="M198.9,344.2L192.5,344.1M198.4,332.2L195.4,332.1" class="cl"/>
<path d="M85.9,311l1.6,2-5.2-1.9-1-1.3z" fill="#ff0c00"/>
<path d="M83.8,308.5l2.6,3.2-4.5-1.1-2.8-3.2z" fill="#ff0000"/>
<path d="M81.7,305.9l2.7,3.3-4.7-1.1-2.8-3.2zM76.1,303.9l5.2,1.5 1,1.3-4.8-1.1z" fill="#fe0000"/>
<path d="M85.8,311.4L82.2,310.4" class="cl"/>
<path d="M180.6,354.7l2.1,2.4 0.6-2.2z" fill="#05fb66"/>
<path d="M177.5,351.1l3.7,4.3 2,0.1 1-4z" fill="#09f63b"/>
<path d="M177.7,351.3l0.3,0.4 6,0.4 1.1-4-6.5-0.4z" fill="#0ef20f"/>
<path d="M184.9,348.7l1.1-4-6.5-0.4-1,4z" fill="#3af400"/>
<path d="M185.8,345.3l1-4-6.4-0.4-1.1,4z" fill="#7bfb00"/>
<path d="M186.7,341.9l0.8-3.1-0.9-0.9-5.3-0.4-1.1,4z" fill="#b5ff00"/>
<path d="M187.2,338.5l-3.9-4.3-1.1,0-1.1,3.9z" fill="#e5ff00"/>
<path d="M183.9,334.9l-1.5-1.6-0.4,1.5z" fill="#ffef00"/>
<path d="M182.2,356.1L182.7,356.2M185.8,344.1L180,343.7" class="cl"/>
<path d="M69.2,299.5l4,1.5-3.2-3.4zM63,296.5l3.6,2 3.2,1.2 0.6-1.6-2.1-2.1-5.2-0.3z" fill="#fd0000"/>
<path d="M61.6,295.7l1.9,1.1 0.2-1.1z" fill="#fc0000"/>
<path d="M71.9,300.3L72,300" class="cl"/>
<path d="M163.5,360.1l5.5,3.7 0.9-2.9z" fill="#00ebd8"/>
<path d="M163.9,360.5l0.3,0.2 5.5,0.8 1.2-4.1-5.8-0.8z" fill="#00fe92"/>
<path d="M170.7,358l1.3-4.1-5.9-0.7-1.2,4z" fill="#05fb66"/>
<path d="M171.8,354.5l1.2-4-5.8-0.8-1.3,4.1z" fill="#09f63b"/>
<path d="M172.8,351.1l0.9-3.1-2.2-1.3-3.3-0.4-1.2,4z" fill="#0ef20f"/>
<path d="M172.2,347.3l-3.6-2.3-0.5,1.9z" fill="#3af400"/>
<path d="M171.3,355.2L166,354.5" class="cl"/>
<path d="M151.9,360.9l3.4,1.7 2.3-2.1z" fill="#00ebd8"/>
<path d="M150.2,360.1l2.5,1.2 4.2-0.2 3.3-3-5.1-2.5zM136.6,358.1l5,3.2 5.2-3.8-3.3-1.9-4.9,1.2z" fill="#00fe92"/>
<path d="M144.2,356.1l-2.4-1.4-3.9,2.7zM126.9,355.7l0.9,1.3 5.4-2.3-1.2-1.5z" fill="#05fb66"/>
<path d="M124.3,352.2l3,4 5.1-2.5-3.3-4.1z" fill="#09f63b"/>
<path d="M123,350.3l1.7,2.3 4.8-2.5-1.1-1.3z" fill="#0ef20f"/>
<path d="M113.5,343.9l0.4,0.7 5.7,0-2.1-3.4z" fill="#7bfb00"/>
<path d="M111.5,340.5l2.3,4 4-2.8-2.5-3.9z" fill="#b5ff00"/>
<path d="M109.5,337l2.3,4 3.8-2.7-0.7-1.2-4.7-0.6z" fill="#e5ff00"/>
<path d="M109.1,336.4l0.7,1.1 1.3-0.9z" fill="#ffef00"/>
<path d="M118.8,344.3L119,344.2" class="cl"/>
<path d="M103.2,327.6l2.6,0.8-1-1.9z" fill="#ffa900"/>
<path d="M99.4,325.7l0.3,0.7 4.2,1.4 1.2-0.8-1.9-3.9z" fill="#ff8600"/>
<path d="M97.8,322.3l1.8,3.9 3.9-2.6-1.9-3.9z" fill="#ff6400"/>
<path d="M96.3,318.9l1.8,3.9 3.7-2.5-0.9-1.8-2.4-1.1z" fill="#ff4300"/>
<path d="M94.8,315.7l1.7,3.7 2.7-1.7z" fill="#ff2700"/>
<path d="M99.2,324.4L102.4,322.2" class="cl"/>
<path d="M89.6,311.9l2.1,2.9-5.1-2-1.6-2z" fill="#ff0c00"/>
<path d="M87.7,309.4l2.5,3.3-4.7-1.2-2.6-3.2z" fill="#ff0000"/>
<path d="M85.7,306.8l2.5,3.3-4.7-1.1-2.7-3.2zM80.4,305.2l5.2,1.6 0.6,0.8-4.8-1.1z" fill="#fe0000"/>
<path d="M89.6,312.3L85.8,311.4" class="cl"/>
<path d="M184.9,361.7l2.3,4.3 1.1-4.4z" fill="#00ebd8"/>
<path d="M183.2,358.3l2,4 3-0.1 1-4z" fill="#00fe92"/>
<path d="M182.3,356.5l1.2,2.4 5.5-0.1 1.1-4-7.4,0.1z" fill="#05fb66"/>
<path d="M189.9,355.4l1-4-7.3,0.1-1.1,4z" fill="#09f63b"/>
<path d="M190.8,352l1-3.9-7.3,0-1.1,4z" fill="#0ef20f"/>
<path d="M191.7,348.7l0.3-1.4-1.4-2.6-5.3,0-1,4z" fill="#3af400"/>
<path d="M190.9,345.3l-2.1-4-2.6,0-1,4z" fill="#7bfb00"/>
<path d="M189.1,341.9l-2-3.8-1,3.8z" fill="#b5ff00"/>
<path d="M189.4,356.1L182.7,356.2M189.9,344.1L185.8,344.1" class="cl"/>
<path d="M74.7,303.2l2.8,1.7-3.9-3.5z" fill="#fe0000"/>
<path d="M71.6,300.9l3.9,2.7-1.1-1.8-1.7-1.6-3.9-1.2zM65.9,297.8l5,2.6 0.2-0.2-1.4-1.1z" fill="#fd0000"/>
<path d="M73.3,301.8L71.9,300.3" class="cl"/>
<path d="M170.3,364.6l3.3,2.5 0.6-2.1z" fill="#00c1ff"/>
<path d="M168.5,363.5l2.4,1.7 3.1,0.4 1.2-4.1-5.9-0.7z" fill="#00ebd8"/>
<path d="M175.1,362.1l1.2-4-6-0.8-1.2,4.1z" fill="#00fe92"/>
<path d="M176.1,358.7l1.2-4.1-6-0.7-1.2,4z" fill="#05fb66"/>
<path d="M177.1,355.2l1.2-4.1-5.9-0.7-1.2,4.1z" fill="#09f63b"/>
<path d="M178.1,351.7l0.2-0.6-5.1-3.4-1,3.3z" fill="#0ef20f"/>
<path d="M176.6,355.8L171.3,355.2" class="cl"/>
<path d="M154.7,362.3l5.2,2.4 5-4.6-8.3,0.5z" fill="#00ebd8"/>
<path d="M164.2,360.8l0.6-0.5-5.2-2.5-3.6,3.4z" fill="#00fe92"/>
<path d="M143,362.1l3.2,2 3.6-3z" fill="#00ebd8"/>
<path d="M141.1,360.9l2.7,1.7 5.3-0.9 2.1-1.7-5-2.8zM130.9,359.7l1.5,1.3 5.3-2.9-1-0.8z" fill="#00fe92"/>
<path d="M127.4,356.6l4,3.5 5.8-2.4-4.4-3.5z" fill="#05fb66"/>
<path d="M128.2,356.9L132.8,354.7" class="cl"/>
<path d="M118,351.3l6-0.6-1.7-2.4z" fill="#0ef20f"/>
<path d="M115.8,347.5l2.6,3.9 0.5-0.1 3.8-2.5-2.9-4.1z" fill="#3af400"/>
<path d="M113.5,344l2.7,4 3.9-2.8-0.9-1.2z" fill="#7bfb00"/>
<path d="M115.6,346.6L118.8,344.3" class="cl"/>
<path d="M104.3,335.9l5.9,1.2-2-3.8z" fill="#ffef00"/>
<path d="M102.6,332.5l1.7,3.4 0.8,0.2 3.4-2.3-2-3.9z" fill="#ffcc00"/>
<path d="M101,329.1l1.9,3.9 3.9-2.6-1.4-2.7-1.5-0.6z" fill="#ffa900"/>
<path d="M99.4,325.6l1.9,4 3.3-2.2z" fill="#ff8600"/>
<path d="M105.9,336L108.4,334.3" class="cl"/>
<path d="M95.2,315.5l0.9,1.3-3.9-1.9z" fill="#ff2700"/>
<path d="M93.3,312.9l2.4,3.3-2.8-0.7-2-1-2.2-2.8z" fill="#ff0c00"/>
<path d="M91.5,310.4l2.4,3.3-4.6-1.2-2.5-3.3z" fill="#ff0000"/>
<path d="M85.9,306.9l4.1,1.5 2,2.7-4.7-1.2-2.5-3.3zM84.8,306.5l1.9,0.9-1.4,0z" fill="#fe0000"/>
<path d="M93.3,313.3L89.6,312.3" class="cl"/>
<path d="M190.5,371.9l1.2,2.2 0.6-2.2z" fill="#0036ff"/>
<path d="M188.6,368.4l2.2,4.1 1.3,0 1-4z" fill="#007cff"/>
<path d="M186.6,365l2.3,4 4.1,0.1 1-4z" fill="#00c1ff"/>
<path d="M186.8,365.2l0.2,0.4 6.9,0.1 1-4-7.2-0.1z" fill="#00ebd8"/>
<path d="M194.7,362.3l1-4-7.1-0.1-1.1,4z" fill="#00fe92"/>
<path d="M195.6,358.9l1-4-7.2-0.1-1,4z" fill="#05fb66"/>
<path d="M196.4,355.5l0.1-0.4-2.1-3.6-4.1-0.1-1,4z" fill="#09f63b"/>
<path d="M194.8,352.1l-2.4-4-1.2,0-1,3.9z" fill="#0ef20f"/>
<path d="M192.8,348.7l-1.2-2.1-0.6,2.1z" fill="#3af400"/>
<path d="M188.8,368.2L192.9,368.2M196,356.2L189.4,356.1" class="cl"/>
<path d="M79,303.5l2.9,2.6-5.2-1.5-2.6-2z" fill="#fe0000"/>
<path d="M76.1,301.2l3.5,3-4.8-1-3.8-2.9zM70.2,299.8l5.3,0.8 1.3,1.2-5.1-0.9z" fill="#fd0000"/>
<path d="M77.4,302.6L73.3,301.8" class="cl"/>
<path d="M174.6,368.6l3.5,4.2 1.2-4z" fill="#007cff"/>
<path d="M173.1,366.7l2.1,2.5 3.9,0.2 1.2-4.1-6.7-0.3z" fill="#00c1ff"/>
<path d="M180.2,365.9l1.1-4.1-6.7-0.3-1.2,4.1z" fill="#00ebd8"/>
<path d="M181.2,362.4l1.2-4.1-6.7-0.3-1.2,4.1z" fill="#00fe92"/>
<path d="M182.2,358.9l0.7-2.5-1.4-1.6-4.8-0.3-1.2,4.1z" fill="#05fb66"/>
<path d="M182,355.4l-3.7-4.3-0.6,0-1.2,4z" fill="#09f63b"/>
<path d="M178.9,351.7l-1-1.1-0.4,1.1z" fill="#0ef20f"/>
<path d="M174.8,368.3L179.1,368.5M182.2,356.1L176.6,355.8" class="cl"/>
<path d="M162.1,366.2l2.4,1.5 2.3-2.2z" fill="#00c1ff"/>
<path d="M159.3,364.4l3.6,2.3 3.2-0.5 3.2-2.9-4.9-3.2-0.4,0.1z" fill="#00ebd8"/>
<path d="M165.2,360.6l-1-0.6-0.9,0.8z" fill="#00fe92"/>
<path d="M145.6,363.8l5.1,2.7 5.1-4.3-3-1.5-3.9,0.4z" fill="#00ebd8"/>
<path d="M153.6,361.2l-2.9-1.5-2.5,2zM131.8,360.6l5.1,3.5 5.3-3.2-5-3.2z" fill="#00fe92"/>
<path d="M124,357.7l4.5-0.8-1.1-1.5z" fill="#05fb66"/>
<path d="M120.6,354.6l2.3,3.5 2-0.4 2.9-1.8-2.9-4z" fill="#09f63b"/>
<path d="M118.2,351l2.7,4.1 4.3-2.8-1.6-2.1-4.9,0.5z" fill="#0ef20f"/>
<path d="M118.1,350.8l0.4,0.7 1.1-0.8z" fill="#3af400"/>
<path d="M112.8,344.5l1.9,0.2-0.7-1.1z" fill="#7bfb00"/>
<path d="M108.2,342.9l0.6,1.2 4.9,0.5 0.6-0.5-2.3-4z" fill="#b5ff00"/>
<path d="M106.2,339.4l2.3,4 3.8-2.8-2.4-3.9z" fill="#e5ff00"/>
<path d="M104.3,335.9l2.2,4.1 3.8-2.8-0.5-0.7-4.9-1.1z" fill="#ffef00"/>
<path d="M103.9,335.2l0.7,1.3 1.1-0.9z" fill="#ffcc00"/>
<path d="M105,336.6L105.9,336" class="cl"/>
<path d="M99.4,325.9l1,1-0.7-2z" fill="#ff8600"/>
<path d="M97.5,323.5l2.4,3 0.2-0.8-1.9-4.2z" fill="#ff6400"/>
<path d="M95.6,320.9l2.4,3.1 0.5-1.7-1.9-4.1z" fill="#ff4300"/>
<path d="M93.8,318.2l0.4,0.8 1.9,2.5 0.9-2.6-1.3-2.7-0.8-1.1z" fill="#ff2700"/>
<path d="M92.3,314.7l1.9,4.3 1.2-3.3-2.3-3.1z" fill="#ff0c00"/>
<path d="M90.7,311.3l1.9,4.2 0.9-2.3-2.3-3.2z" fill="#ff0000"/>
<path d="M89.4,307.9l1.6,4.2 0.6-1.5z" fill="#fe0000"/>
<path d="M99,324.9L99.2,324.4M92.7,314.9L93.3,313.3" class="cl"/>
<path d="M83,304.4l3.2,3.1-5.2-1.6-2.9-2.5z" fill="#fe0000"/>
<path d="M80.4,301.9l3.3,3.2-5-1-3.5-3zM74.6,300.5l5.2,0.9 1.2,1.2-5.1-0.9z" fill="#fd0000"/>
<path d="M81.6,303.4L77.4,302.6" class="cl"/>
<path d="M181.2,379l1.4,2.9 0.8-2.9z" fill="#5509e9"/>
<path d="M179.4,375.7l2.1,3.9 1.8,0 1.1-4.1z" fill="#2217f6"/>
<path d="M177.7,372.3l2,3.9 4.6-0.1 1.1-4.1z" fill="#0036ff"/>
<path d="M177.7,372.2l0.3,0.7 7.3-0.3 1.2-4.1-7.8,0.3z" fill="#007cff"/>
<path d="M186.3,369.1l1.1-4.1-7.7,0.3-1.2,4.1z" fill="#00c1ff"/>
<path d="M187.3,365.6l0.1-0.4-1.8-3.6-4.9,0.2-1.2,4.1z" fill="#00ebd8"/>
<path d="M185.9,362.2l-2.1-3.9-2.1,0-1.2,4.1z" fill="#00fe92"/>
<path d="M184.1,358.9l-1.6-3.2-0.9,3.2z" fill="#05fb66"/>
<path d="M182.3,380.7L182.6,380.7M186.2,368.3L179.1,368.5" class="cl"/>
<path d="M163.9,367.4l5.2,3.6 4.8-4.4-2.8-2-5.2,1z" fill="#00c1ff"/>
<path d="M171.8,365.1l-3-2.2-3.6,3.4z" fill="#00ebd8"/>
<path d="M168.4,370.2L169.8,369.9" class="cl"/>
<path d="M152.6,367.4l2.7,1.4 2.1-1.8z" fill="#00c1ff"/>
<path d="M150.2,366.2l3.2,1.6 3.3-0.2 3.7-3.3-5.2-2.4zM137,364.1l4.5,3.1 5.2-3.5-2.8-1.7z" fill="#00ebd8"/>
<path d="M136.4,363.7l1.2,0.9 7-2.2-3-1.8zM128.3,361.9l4.7-1.2-1.5-1.3z" fill="#00fe92"/>
<path d="M123.2,358.3l4.3,4 1.7-0.5 2.8-2-4-3.5-3.3,0.8z" fill="#05fb66"/>
<path d="M122.4,357.6l1.2,1.1 2-1.7z" fill="#09f63b"/>
<path d="M124.9,359.5L128.2,356.9" class="cl"/>
<path d="M112.6,350.1l0.7,1.1 5.8,0.2-2.8-4.3z" fill="#3af400"/>
<path d="M110.3,346.5l2.6,4.1 3.8-3-2.4-3.6-0.8,0z" fill="#7bfb00"/>
<path d="M108.4,343.4l2.3,3.6 3.6-2.9z" fill="#b5ff00"/>
<path d="M112.4,349.1L115.6,346.6" class="cl"/>
<path d="M102.4,333.6l2.5,2.8-2-4.7z" fill="#ffcc00"/>
<path d="M100.5,331.2l2.4,3 0.4-1.6-2-4.3z" fill="#ffa900"/>
<path d="M98.6,328.6l0.2,0.5 2.1,2.6 0.8-2.5-1.5-3.2-0.6-0.8z" fill="#ff8600"/>
<path d="M97,325.1l1.9,4.3 1.2-3.6-2.3-3z" fill="#ff6400"/>
<path d="M95.4,321.7l2,4.2 0.8-2.6-2.3-3z" fill="#ff4300"/>
<path d="M94,318.1l1.8,4.3 0.5-1.6z" fill="#ff2700"/>
<path d="M98.3,327.2L99,324.9" class="cl"/>
<path d="M89.4,307.8l1.1,1.3-5.5-2.2zM87,305.3l3,3.2-4.3-1-0.4-0.2-3.2-3z" fill="#fe0000"/>
<path d="M84.6,302.8l3,3.2-4.8-1.1-3.3-3.1zM78.9,301.3l5.4,1.1 0.9,1.1-5.1-1z" fill="#fd0000"/>
<path d="M85.7,304.3L81.6,303.4" class="cl"/>
<path d="M184.8,385.9l2.4,4.3 1.2-4.4z" fill="#8900cf"/>
<path d="M182.9,382.4l2.2,4.1 3.1-0.1 1.2-4.1z" fill="#7c00dc"/>
<path d="M182.2,381.1l1.1,1.9 5.9-0.1 1.2-4.1-7.6,0.2z" fill="#5509e9"/>
<path d="M190.2,379.4l1.2-4.1-7.6,0.2-1.2,4.1z" fill="#2217f6"/>
<path d="M191.2,375.9l0.7-2.6-0.7-1.4-6.4,0.1-1.2,4.1z" fill="#0036ff"/>
<path d="M191.5,372.5l-2.3-4.1-3.4,0.1-1.2,4.1z" fill="#007cff"/>
<path d="M189.6,369l-2.3-4-0.5,0-1.2,4.1z" fill="#00c1ff"/>
<path d="M187.7,365.6l-0.7-1.2-0.4,1.2z" fill="#00ebd8"/>
<path d="M189.6,380.5L182.6,380.7M188.8,368.2L186.2,368.3" class="cl"/>
<path d="M171.8,374.4l1.9,2.2 4.2-4z" fill="#0036ff"/>
<path d="M168.7,370.7l3.6,4.2 5-1.6 1.1-1.1-3-3.7z" fill="#007cff"/>
<path d="M168.7,370.6l0.4,0.6 6.7-2.2-2.3-2.8z" fill="#00c1ff"/>
<path d="M174.8,368.3L169.8,369.9" class="cl"/>
<path d="M154.8,368.5l5.2,3.7 4.9-4.9-1.9-1.2-6.6,0.9z" fill="#00c1ff"/>
<path d="M163.8,366.6l-4-2.6-4,3.7z" fill="#00ebd8"/>
<path d="M159.5,371.5L160.3,371.4" class="cl"/>
<path d="M144.7,369l1.4,0.8 1.7-1.4z" fill="#00c1ff"/>
<path d="M140.9,366.8l4.5,2.6 1.7-0.3 4.2-3-5.2-2.7z" fill="#00ebd8"/>
<path d="M127.6,362.4l4.5,3.2 5.5-1.8-5.1-3.5-3.6,1z" fill="#00fe92"/>
<path d="M126.9,361.9l1.2,0.9 1.7-1.7z" fill="#05fb66"/>
<path d="M117.2,357.2l0.7,1.1 5.7-0.2-2.5-3.8z" fill="#09f63b"/>
<path d="M114.9,353.6l2.6,4.1 3.9-2.9-2.7-4.1z" fill="#0ef20f"/>
<path d="M112.9,350.6l2.3,3.5 3.8-2.9-0.3-0.4z" fill="#3af400"/>
<path d="M108.3,343.4l1.2,1.1-1.2-2.3z" fill="#b5ff00"/>
<path d="M106.3,341l2.5,3.1 0-1.2-2.4-4.2z" fill="#e5ff00"/>
<path d="M104.3,338.7l2.6,3 0-2.3-2.4-4.2z" fill="#ffef00"/>
<path d="M102.4,335.7l1,1.9 1.5,1.8 0.1-3.5-0.3-0.4-2.2-2.8z" fill="#ffcc00"/>
<path d="M100.5,332.2l2.4,4.3 0.2-3.1-2.5-3.1z" fill="#ffa900"/>
<path d="M98.6,328.2l2.4,4.7 0.1-1.9z" fill="#ff8600"/>
<path d="M105,339L105,336.6" class="cl"/>
<path d="M93.6,318.4l1.3,1.2-0.7-2z" fill="#ff2700"/>
<path d="M91.2,316l2.8,2.8 0.5-0.6-1.8-4z" fill="#ff0c00"/>
<path d="M88.7,313.6l2.9,2.8 1.3-1.6-1.8-4.1z" fill="#ff0000"/>
<path d="M87.1,310.1l1.4,3.2 0.7,0.7 2.2-2.7-1.3-2.8-0.8-0.9zM85.5,306.6l1.9,4.1 2.3-2.7-2.8-2.9z" fill="#fe0000"/>
<path d="M84,303.1l1.8,4.1 1.5-1.6-2.9-3zM83.6,302l0.6,1.7 0.7-0.7z" fill="#fd0000"/>
<path d="M91.7,316.1L92.7,314.9M85.1,304.9L85.7,304.3" class="cl"/>
<path d="M177.8,384.9l0.4,0.7 1.1-1.2z" fill="#7c00dc"/>
<path d="M176,381.4l2.1,4 0.6-0.3 4.2-4-1.1-2.2z" fill="#5509e9"/>
<path d="M174.3,378l2,4 5.8-2.5-2-4z" fill="#2217f6"/>
<path d="M173.3,376.1l1.2,2.4 5.8-2.4-2-3.9-1.3,0.5z" fill="#0036ff"/>
<path d="M178.6,372.7l-0.5-1-1.7,1.8z" fill="#007cff"/>
<path d="M177.1,383L182.3,380.7" class="cl"/>
<path d="M159.7,372l4.9,3.9 4.9-5.3z" fill="#007cff"/>
<path d="M159.5,371.8l0.9,0.7 8.5-1.2 0.6-0.7-5.1-3.7z" fill="#00c1ff"/>
<path d="M168.4,370.2L160.3,371.4" class="cl"/>
<path d="M145.5,369.5l5.2,2.9 5.2-4-2.4-1.2-6.6,1.3z" fill="#00c1ff"/>
<path d="M154.3,367.7l-3.6-1.9-4.5,3.3zM134.1,367l2.5,1.8 5.5-1.9-4.5-3.1z" fill="#00ebd8"/>
<path d="M131.4,365.2l3.2,2.2 3.5-3.2-1.1-0.8z" fill="#00fe92"/>
<path d="M120.9,361.3l1.6,1.6 5.7-0.7-4.6-4.3z" fill="#05fb66"/>
<path d="M117.4,357.8l3.9,3.9 2.7-3.4-0.8-0.8z" fill="#09f63b"/>
<path d="M122.4,362.4L124.9,359.5" class="cl"/>
<path d="M112.8,350.6l1.2,1-1.3-2.3z" fill="#3af400"/>
<path d="M110.9,348.3l2.6,2.9-0.2-1.2-2.9-4.2z" fill="#7bfb00"/>
<path d="M108.9,346l2.6,2.9-0.5-2.5-1.8-2.8-1-1.1z" fill="#b5ff00"/>
<path d="M106.7,342.9l1.3,2 1.5,1.7-0.7-3.5-2.6-2.9z" fill="#e5ff00"/>
<path d="M104.5,339.3l2.8,4.3-0.4-2.8-2.7-3z" fill="#ffef00"/>
<path d="M103.1,336.7l2,3.3-0.2-1.6z" fill="#ffcc00"/>
<path d="M112.6,349.8L112.4,349.1M105.1,339.8L105,339" class="cl"/>
<path d="M98.4,328.7l1.1,0.9-0.5-1.6z" fill="#ff8600"/>
<path d="M96,326.4l2.9,2.7 0.3-0.5-1.8-4.1z" fill="#ff6400"/>
<path d="M93.5,324.1l2.9,2.7 1.3-1.7-1.9-4z" fill="#ff4300"/>
<path d="M91.8,320.7l1.4,3.1 0.7,0.7 2.2-2.8-1.4-3-0.7-0.8z" fill="#ff2700"/>
<path d="M90.2,317.2l1.9,4.1 2.3-2.9-2.8-2.9z" fill="#ff0c00"/>
<path d="M88.7,313.6l1.8,4.2 1.5-1.8-2.9-2.9z" fill="#ff0000"/>
<path d="M88.3,312.5l0.6,1.7 0.7-0.7z" fill="#fe0000"/>
<path d="M97.9,327.8L98.3,327.2M90.7,317.4L91.7,316.1" class="cl"/>
<path d="M181.5,391.8l1.3,2.3 4.6-4.8z" fill="#9500c3"/>
<path d="M179.6,388.4l2.2,4 5-2.3 0.6-0.6-2-3.7z" fill="#8900cf"/>
<path d="M177.9,385.1l2,3.8 5.8-2.6-2.1-4-5.2,2.3z" fill="#7c00dc"/>
<path d="M183.9,382.9l-1.3-2.3-4.8,4.7z" fill="#5509e9"/>
<path d="M168,380.1l1.2,1.5 2.1-2.3z" fill="#2217f6"/>
<path d="M164.9,376.3l3.5,4.3 2.3-0.6 3.4-3.8-1.6-1.9z" fill="#0036ff"/>
<path d="M164.2,375.4l1.1,1.4 7.6-2-3.5-4.3-0.8,0.2z" fill="#007cff"/>
<path d="M169.8,371l-0.7-0.8-1.1,1.2z" fill="#00c1ff"/>
<path d="M152.6,373.9l2.8,2.1 4.3-3.8z" fill="#007cff"/>
<path d="M150.2,372l3,2.4 5.9-1.5 1.3-1.1-5.1-3.7z" fill="#00c1ff"/>
<path d="M152.4,373.3L159.5,371.5" class="cl"/>
<path d="M144.2,370.3l2.6-0.8-1.4-0.8z" fill="#00c1ff"/>
<path d="M136,368.4l5.3,3 3.8-1.3 0.8-1.1-4.4-2.5z" fill="#00ebd8"/>
<path d="M126.1,365.6l1,0.8 5.8-1-4.9-3.4z" fill="#00fe92"/>
<path d="M121.8,362.3l4.8,3.7 1.9-3.7-0.9-0.6z" fill="#05fb66"/>
<path d="M117.4,357.7l1.2,1-1.4-2.2z" fill="#09f63b"/>
<path d="M115.4,355.5l2.7,2.8-0.2-1.1-2.9-4.3z" fill="#0ef20f"/>
<path d="M113.4,353.3l2.7,2.8-0.5-2.5-1.9-2.9-1-1.1z" fill="#3af400"/>
<path d="M111.3,350.2l1.3,2.1 1.5,1.6-0.7-3.6-2.6-2.9z" fill="#7bfb00"/>
<path d="M109,346.6l2.9,4.3-0.5-2.9-2.6-2.9z" fill="#b5ff00"/>
<path d="M107.7,344l1.9,3.2-0.2-1.5z" fill="#e5ff00"/>
<path d="M113.2,352.5L112.6,349.8" class="cl"/>
<path d="M102,336.4l2.2,1.7-1.6-3.2z" fill="#ffcc00"/>
<path d="M99.6,334.1l2.9,2.7 0.5-1.2-2.3-4.2z" fill="#ffa900"/>
<path d="M97.3,331.4l0.6,1.2 2.1,1.9 1.1-2.4-1.8-3.4-0.6-0.5z" fill="#ff8600"/>
<path d="M95.3,327.8l2.3,4.3 1.6-3.5-2.9-2.7z" fill="#ff6400"/>
<path d="M93.4,324.2l2.3,4.3 1-2.2-2.9-2.8z" fill="#ff4300"/>
<path d="M92.9,323l0.9,1.9 0.4-0.9z" fill="#ff2700"/>
<path d="M96.8,330L97.9,327.8" class="cl"/>
<path d="M172.2,387.2l1.6,3 4.8-5-0.3-0.6z" fill="#7c00dc"/>
<path d="M170.3,383.7l2.2,4 6.1-2.5-2-4z" fill="#5509e9"/>
<path d="M168.9,381.1l1.7,3.1 6.3-2.4-2.1-4-4.5,1.6z" fill="#2217f6"/>
<path d="M175.1,378.3l-1.3-2.6-4,4.5z" fill="#0036ff"/>
<path d="M171.5,385.2L177.1,383" class="cl"/>
<path d="M157.9,378.2l2.1,1.9 3.2-3.1z" fill="#0036ff"/>
<path d="M154.9,375.7l3.6,3 4.1-1 2.5-2.3-4.6-3.5-1.7,0.4z" fill="#007cff"/>
<path d="M161.1,372.4l-1.2-1-1.7,1.6zM142.7,372.2l3.3,1.8 5.4-1.9-5.3-3-1.4,0.5z" fill="#00c1ff"/>
<path d="M140.6,371l2.6,1.5 2.4-3.2zM132.7,369.6l4.7-1-2.9-2z" fill="#00ebd8"/>
<path d="M126.4,365.9l5.3,3.9 1.8-0.4 1.5-2.5-2.8-2z" fill="#00fe92"/>
<path d="M122.1,361.7l1.1,1.5-2.5-2.6z" fill="#05fb66"/>
<path d="M120,359.5l2.5,3-1.4-1.1-3.3-3.2-0.7-1.2z" fill="#09f63b"/>
<path d="M117.4,357.8l3,2.5-2.5-2.9-2.8-2.7z" fill="#0ef20f"/>
<path d="M114.1,354l3.1,3.6 1,0.6-2.3-3-2.7-2.7z" fill="#3af400"/>
<path d="M112.3,351.5l2.6,3-1-1.6z" fill="#7bfb00"/>
<path d="M122.5,362.5L122.4,362.4M113.4,352.8L113.2,352.5" class="cl"/>
<path d="M106.6,343.7l2.2,1.7-2-3.4z" fill="#e5ff00"/>
<path d="M104.2,341.5l3,2.7 0.1-1.5-2.7-4.3z" fill="#ffef00"/>
<path d="M101.8,338.8l0.7,1.2 2.2,2 0.4-2.9-1.2-1.9-1.7-1.5z" fill="#ffcc00"/>
<path d="M99.5,335.1l2.8,4.4 0.4-3.3-3-2.8z" fill="#ffa900"/>
<path d="M97.6,331.7l2.4,4.2 0.3-2z" fill="#ff8600"/>
<path d="M104.9,341.8L105.1,339.8" class="cl"/>
<path d="M176.1,394.2l2.4,4.2 4.7-4.7-1.1-2.1z" fill="#9500c3"/>
<path d="M174.1,390.7l2.3,4 6-2.6-2.2-4z" fill="#8900cf"/>
<path d="M173.5,389.7l0.9,1.5 6.1-2.6-2.2-4z" fill="#7c00dc"/>
<path d="M161.9,382.3l2.8,3.3 5-4.5-1.1-1.2z" fill="#2217f6"/>
<path d="M159.6,379.6l2.7,3.1 6.8-2.3-3.6-4.3-3.2,1.1z" fill="#0036ff"/>
<path d="M165.9,376.6l-1.3-1.6-2.9,2.9zM149.4,376.9l1.2,0.9 5.3-2.1-2.6-2.1z" fill="#007cff"/>
<path d="M145.4,373.6l4.5,3.6 3.8-3.2-3-2.3z" fill="#00c1ff"/>
<path d="M149,376.2L152.4,373.3" class="cl"/>
<path d="M132.6,370.4l3.8,2.2 5.7-1.4-5.4-3.1-3.6,0.8z" fill="#00ebd8"/>
<path d="M131,369.4l2.2,1.3 0.6-1.9zM127.1,365.6l0.7,1-2-1.6z" fill="#00fe92"/>
<path d="M124.7,363.7l2.9,2.7-1.3-0.6-3.9-3-1.1-1.5z" fill="#05fb66"/>
<path d="M122.1,361.7l0.2,0.1 1.5,1.6-2.1-1.3-2.5-3z" fill="#09f63b"/>
<path d="M118,357.6l4.5,4.9-2.9-2.5-2.6-3z" fill="#0ef20f"/>
<path d="M116.8,356.8l1.6,1.6-1-0.6z" fill="#3af400"/>
<path d="M125.2,364.5L122.5,362.5" class="cl"/>
<path d="M111.2,351l2.2,1.8-2-3.6z" fill="#7bfb00"/>
<path d="M108.8,348.9l3,2.6 0.1-1.5-2.8-4.4z" fill="#b5ff00"/>
<path d="M106.4,346.2l0.8,1.3 2.1,1.9 0.3-3-1.1-1.9-1.8-1.5z" fill="#e5ff00"/>
<path d="M104.1,342.5l2.8,4.4 0.4-3.4-3-2.7z" fill="#ffef00"/>
<path d="M102.2,339.2l2.4,4 0.2-1.9z" fill="#ffcc00"/>
<path d="M104.8,343L104.9,341.8" class="cl"/>
<path d="M167.1,389.7l2.2,3.7 5-3.6-1.6-2.9z" fill="#7c00dc"/>
<path d="M164.9,386.1l2.5,4.1 5.6-2.8-2.2-4z" fill="#5509e9"/>
<path d="M164.4,385.1l0.9,1.5 5.8-2.6-1.8-3.4z" fill="#2217f6"/>
<path d="M166.2,387.7L171.5,385.2" class="cl"/>
<path d="M154.4,381.2l1,0.8 5.2-2.3-2-1.7z" fill="#0036ff"/>
<path d="M150.1,377.4l4.8,4.2 4.1-3.2-3.6-3.1z" fill="#007cff"/>
<path d="M141.6,375.3l5.1-1.5-3.7-2.1z" fill="#00c1ff"/>
<path d="M135.7,372.2l5.4,3.2 1.2-0.3 1.2-3.1-2.1-1.2z" fill="#00ebd8"/>
<path d="M129.1,368.3l3.4,1.7-5.1-4.2-1.2-0.5z" fill="#00fe92"/>
<path d="M126,366.2l0.6,0.6 3.4,1.8-2.9-3-3.2-2.3z" fill="#05fb66"/>
<path d="M121.4,361.4l5.4,5.3-2.1-3z" fill="#09f63b"/>
<path d="M127.2,366.8L125.2,364.5" class="cl"/>
<path d="M114.9,355.8l3.2,2.2-4.2-4.9z" fill="#3af400"/>
<path d="M112.2,353.7l3.4,2.5-1-2.5-1.6-1.8-2-1.7z" fill="#7bfb00"/>
<path d="M109.2,350l2.7,3.4 1.1,0.8-1.2-3.5-3.2-2.6z" fill="#b5ff00"/>
<path d="M106.9,346.7l3,3.9-0.6-2z" fill="#e5ff00"/>
<path d="M114.4,355L113.4,352.8" class="cl"/>
<path d="M171.7,397l2.3,3.8 4.9-2.8-2.3-4.1z" fill="#9500c3"/>
<path d="M169.3,393.3l2.7,4.2 4.9-3-2.3-4.1z" fill="#8900cf"/>
<path d="M169,392.9l0.6,0.9 5.3-2.9-0.9-1.6z" fill="#7c00dc"/>
<path d="M158.3,385.2l1.8,2 5.2-1.9-2.9-3.3z" fill="#2217f6"/>
<path d="M154.9,381.5l3.8,4.2 4.1-3.3-2.7-3.1z" fill="#0036ff"/>
<path d="M147.9,378.6l3.4-1-1.4-1.1z" fill="#007cff"/>
<path d="M141.1,375.5l4.7,3.9 3-1 1.5-1.6-4.3-3.4-4.1,1.2z" fill="#00c1ff"/>
<path d="M140.5,375l1.1,0.8 1.2-1.4z" fill="#00ebd8"/>
<path d="M146.4,378.9L149,376.2" class="cl"/>
<path d="M134.9,372l2.3,0.7-4.9-3z" fill="#00ebd8"/>
<path d="M131.4,370.7l4.4,1.5-2.6-2.2-1.3-0.8-3.3-1.7z" fill="#00fe92"/>
<path d="M126,366.1l5.3,4.6 0.9,0.2-2.7-3.1z" fill="#05fb66"/>
<path d="M127.6,367.3L127.2,366.8" class="cl"/>
<path d="M121.7,362.2l1.1,0.3-1.4-1.3z" fill="#09f63b"/>
<path d="M118.7,360.4l3.9,2.2-0.4-0.9-4.9-4.6z" fill="#0ef20f"/>
<path d="M115.6,357.9l1,1.2 3,1.7-1.5-3.2-0.5-0.4-3-2.3z" fill="#3af400"/>
<path d="M112.3,353.9l4,4.6-0.9-3.1-3.4-2.6z" fill="#7bfb00"/>
<path d="M111.5,352.6l1.5,1.9-0.2-1.2z" fill="#b5ff00"/>
<path d="M115,356.6L114.4,355" class="cl"/>
<path d="M164.1,392.9l0.7,1 5.1-0.7-2.3-3.9z" fill="#7c00dc"/>
<path d="M161.4,389.1l3,4.3 3.5-3.5-2.4-4.1z" fill="#5509e9"/>
<path d="M159.7,386.7l2,2.9 4.1-3.3-0.9-1.5z" fill="#2217f6"/>
<path d="M162.9,390.7L166.2,387.7" class="cl"/>
<path d="M153.2,382.6l2.8-0.8-1.1-1z" fill="#0036ff"/>
<path d="M146.4,379.9l4.2,3.7 3.5-1.2 1.2-1.2-4.6-4-2.2,0.7z" fill="#007cff"/>
<path d="M145.3,378.9l1.5,1.4 2.6-2.6z" fill="#00c1ff"/>
<path d="M146.1,379.2L146.4,378.9" class="cl"/>
<path d="M136.8,374.7l5.2,0.7-5.4-3.4-2.2-0.7z" fill="#00ebd8"/>
<path d="M131.3,370.7l4.8,3.8 1.6,0.3-2.4-3.3-4.4-1.6z" fill="#00fe92"/>
<path d="M130.7,370l1.4,1.1-0.4-0.9zM126,366.6l1.5,0.4-1.7-1.7z" fill="#05fb66"/>
<path d="M122.4,365.1l4.3,1.8-0.2-1-4.2-4.1-0.8-0.5z" fill="#09f63b"/>
<path d="M118.9,361.8l2.5,2.9 1.7,0.7-0.9-3.6-3.6-2.2z" fill="#0ef20f"/>
<path d="M116.2,358.3l3.4,4.2-0.4-2.5z" fill="#3af400"/>
<path d="M169.8,400.4l4.9,0.3-2.6-4.2z" fill="#9500c3"/>
<path d="M166.9,396.8l2.7,3.6 0.9,0 1.9-3.3-2.6-4.2z" fill="#8900cf"/>
<path d="M164.4,393.4l2.9,3.9 2.8-3.8-0.5-0.9z" fill="#7c00dc"/>
<path d="M155.3,388.5l5.4-1.5-2-2.2z" fill="#2217f6"/>
<path d="M151.1,384.2l4.3,4.3 0.8-0.2 2.9-3-3.6-4-1.8,0.6z" fill="#0036ff"/>
<path d="M150.1,383.2l1.4,1.4 3.1-2.9z" fill="#007cff"/>
<path d="M141.5,379l5.2,0.4-5.5-4.6z" fill="#00c1ff"/>
<path d="M136.7,375.1l4.2,3.9 1.2,0.1-0.3-3.8-0.5-0.5-4.6-0.8z" fill="#00ebd8"/>
<path d="M135.4,373.9l1.9,1.8 0-1.6z" fill="#00fe92"/>
<path d="M126.9,369.7l5.3,1.1-5.3-4.5-1.1-0.4z" fill="#05fb66"/>
<path d="M122.6,365.9l3.6,3.6 1.4,0.3-1.1-3.6-4.2-1.8z" fill="#09f63b"/>
<path d="M120.8,364l2.5,2.5-0.3-1.8z" fill="#0ef20f"/>
<path d="M128.4,369.7L127.6,367.3" class="cl"/>
<path d="M163.2,394.1l2.3-0.3-1-1.4z" fill="#7c00dc"/>
<path d="M158.5,392.4l1.7,2 3.8-0.4 0.8-1.1-3-4.2z" fill="#5509e9"/>
<path d="M155.2,388.4l3.7,4.4 3.3-3.6-1.9-2.7-4.4,1.3z" fill="#2217f6"/>
<path d="M155,388l0.6,0.8 1.2-1.2z" fill="#0036ff"/>
<path d="M160.2,394L162.9,390.7" class="cl"/>
<path d="M145.9,383.6l5.6,0-4.9-4.3z" fill="#007cff"/>
<path d="M141.3,379.4l4.4,4.2 0.8,0 0.7-3.8-1.2-1-4.5-0.4z" fill="#00c1ff"/>
<path d="M140.2,378.3l1.6,1.6 0.3-1.4z" fill="#00ebd8"/>
<path d="M145.4,382.9L146.1,379.2" class="cl"/>
<path d="M131.1,374.3l5.9,0.3-5.7-4.7z" fill="#00fe92"/>
<path d="M126.8,370.1l4.2,4.2 0.7,0 0.2-4-0.3-0.2-4.7-1.1z" fill="#05fb66"/>
<path d="M125.6,368.8l1.8,1.9 0.1-1.5z" fill="#09f63b"/>
<path d="M128.3,371.2L128.4,369.7" class="cl"/>
<path d="M165.6,400l4.8,0.4-3.2-4.2z" fill="#8900cf"/>
<path d="M162,396.4l3,3.6 1.2,0.1 1.4-3.4-2.5-3.4-1.4,0.1z" fill="#7c00dc"/>
<path d="M159.7,393.8l2.7,3.1 2-3.6z" fill="#5509e9"/>
<path d="M149.9,387.9l0.7,0.7 5.6-0.1-4.8-4.9z" fill="#0036ff"/>
<path d="M145.8,383.7l4.6,4.7 1.5-4.3-1.1-1.1-4.8,0z" fill="#007cff"/>
<path d="M145.1,383l1.1,1.1 0.5-1.1z" fill="#00c1ff"/>
<path d="M135.3,378.6l0.5,0.6 5.9-0.2-4.8-4.6z" fill="#00ebd8"/>
<path d="M131,374.3l4.8,4.8 1.5-4.2-1-0.9-5.1-0.3z" fill="#00fe92"/>
<path d="M130.4,373.7l1.1,1.1 0.4-1z" fill="#05fb66"/>
<path d="M157.9,394.2l3.1,0.2-2.2-2.6z" fill="#5509e9"/>
<path d="M153.6,392.1l1.8,2 3.1,0.2 0.8-2-3.7-4.5z" fill="#2217f6"/>
<path d="M150,388l4.1,4.5 1.9-4.2-0.4-0.4z" fill="#0036ff"/>
<path d="M160.2,394.1L160.2,394" class="cl"/>
<path d="M139.6,382.9l1.1,1.1 5.8-0.4-5-4.8z" fill="#00c1ff"/>
<path d="M135.3,378.6l4.7,4.8 2-4.2-0.9-0.8z" fill="#00ebd8"/>
<path d="M145.2,383.4L145.4,382.9" class="cl"/>
<path d="M161.4,399.6l4.5,0.5-3.7-4.3z" fill="#7c00dc"/>
<path d="M157.4,396.3l3,3.2 1.6,0.2 0.7-3.4-2.2-2.5-2.4-0.2z" fill="#5509e9"/>
<path d="M154.9,393.5l3,3.3 0.8-3.1z" fill="#2217f6"/>
<path d="M159.3,397.9L160.2,394.1" class="cl"/>
<path d="M149.6,388.7l1.8-0.2-1.2-1.2z" fill="#0036ff"/>
<path d="M143.9,387.2l1.7,1.7 4.6-0.3 0.4-0.8-4.6-4.7z" fill="#007cff"/>
<path d="M140.2,383.5l4.2,4.2 2.1-4.2-0.6-0.5z" fill="#00c1ff"/>
<path d="M143.6,386.5L145.2,383.4" class="cl"/>
<path d="M152.9,394l3.4,0.1-2.4-2.7z" fill="#2217f6"/>
<path d="M148.2,391.6l2.4,2.4 3,0 0.7-2.1-3.5-3.9-0.9,0z" fill="#0036ff"/>
<path d="M145.1,388.4l3.6,3.7 1.8-4.1z" fill="#007cff"/>
<path d="M157.1,399.1l4.2,0.5-3.8-4.1z" fill="#5509e9"/>
<path d="M152.6,396l2.9,2.9 2.2,0.3 0.4-3.1-2.4-2.6-2.6-0.1z" fill="#2217f6"/>
<path d="M149.9,393.4l3.2,3.1 0.6-3z" fill="#0036ff"/>
<path d="M159.2,399L159.3,397.9" class="cl"/>
</g>
<path d="M50.3,384.9L44.5,258.9M50.3,384.9L155.4,415.7M155.4,415.7L220.4,373.7M50.3,384.9L47.8,386.5M58.8,387.4L56.2,389M67.4,389.9L64.9,391.5M76.3,392.5L73.8,394.1M85.3,395.2L82.8,396.8M94.6,397.9L92.1,399.5M104.1,400.7L101.6,402.3M113.9,403.5L111.4,405.2M123.9,406.5L121.4,408.1M134.1,409.5L131.6,411.1M144.6,412.6L142.1,414.2M155.4,415.7L152.9,417.4M155.4,415.7L158.3,416.6M166.3,408.7L169.2,409.5M176.6,402.1L179.5,402.9M186.3,395.8L189.2,396.6M195.5,389.8L198.4,390.7M204.2,384.2L207.1,385M212.5,378.8L215.4,379.7M220.4,373.7L223.3,374.6M49.2,360.6L46.4,361.8M48.1,337.5L45.4,338.7M47,313.8L44.3,315M45.9,289.5L43.1,290.7M44.7,264.5L42,265.7" class="ax"/>
<text class="zt" font-size="11.8" transform="matrix(0.790,-0.103,0,1,47.4,363.6)" text-anchor="end" y="3.9">-0.001</text>
<text class="zt" font-size="11.8" transform="matrix(0.790,-0.103,0,1,46.3,340.5)" text-anchor="end" y="3.9">0.000</text>
<text class="zt" font-size="11.8" transform="matrix(0.790,-0.103,0,1,45.2,316.8)" text-anchor="end" y="3.9">0.001</text>
<text class="zt" font-size="11.8" transform="matrix(0.790,-0.103,0,1,44,292.5)" text-anchor="end" y="3.9">0.002</text>
<text class="zt" font-size="11.8" transform="matrix(0.790,-0.103,0,1,42.9,267.5)" text-anchor="end" y="3.9">0.003</text>
<text class="ttl" font-size="11.7" transform="translate(15.8,332.7) rotate(90)" text-anchor="middle" y="2.9">Shape coefficient</text>
<text class="ft" font-size="6.8" transform="matrix(0.455,-0.776,0.864,0.253,48.4,388.2)" text-anchor="end" y="2.2">12</text>
<text class="ft" font-size="6.8" transform="matrix(0.455,-0.776,0.864,0.253,56.8,390.6)" text-anchor="end" y="2.2">11</text>
<text class="ft" font-size="6.8" transform="matrix(0.455,-0.776,0.864,0.253,65.5,393.2)" text-anchor="end" y="2.2">10</text>
<text class="ft" font-size="6.8" transform="matrix(0.455,-0.776,0.864,0.253,74.4,395.8)" text-anchor="end" y="2.2">9</text>
<text class="ft" font-size="6.8" transform="matrix(0.455,-0.776,0.864,0.253,83.4,398.4)" text-anchor="end" y="2.2">8</text>
<text class="ft" font-size="6.8" transform="matrix(0.455,-0.776,0.864,0.253,92.7,401.2)" text-anchor="end" y="2.2">7</text>
<text class="ft" font-size="6.8" transform="matrix(0.455,-0.776,0.864,0.253,102.2,404)" text-anchor="end" y="2.2">6</text>
<text class="ft" font-size="6.8" transform="matrix(0.455,-0.776,0.864,0.253,112,406.8)" text-anchor="end" y="2.2">5</text>
<text class="ft" font-size="6.8" transform="matrix(0.455,-0.776,0.864,0.253,122,409.7)" text-anchor="end" y="2.2">4</text>
<text class="ft" font-size="6.8" transform="matrix(0.455,-0.776,0.864,0.253,132.2,412.8)" text-anchor="end" y="2.2">3</text>
<text class="ft" font-size="6.8" transform="matrix(0.455,-0.776,0.864,0.253,142.7,415.8)" text-anchor="end" y="2.2">2</text>
<text class="ft" font-size="6.8" transform="matrix(0.455,-0.776,0.864,0.253,153.5,419)" text-anchor="end" y="2.2">1</text>
<text class="ft" font-size="6.8" transform="matrix(0.657,0.615,-0.756,0.489,158.2,418.3)" text-anchor="start" y="2.2">1</text>
<text class="ft" font-size="6.8" transform="matrix(0.657,0.615,-0.756,0.489,169.1,411.3)" text-anchor="start" y="2.2">2</text>
<text class="ft" font-size="6.8" transform="matrix(0.657,0.615,-0.756,0.489,179.3,404.7)" text-anchor="start" y="2.2">3</text>
<text class="ft" font-size="6.8" transform="matrix(0.657,0.615,-0.756,0.489,189.1,398.4)" text-anchor="start" y="2.2">4</text>
<text class="ft" font-size="6.8" transform="matrix(0.657,0.615,-0.756,0.489,198.3,392.4)" text-anchor="start" y="2.2">5</text>
<text class="ft" font-size="6.8" transform="matrix(0.657,0.615,-0.756,0.489,207,386.8)" text-anchor="start" y="2.2">6</text>
<text class="ft" font-size="6.8" transform="matrix(0.657,0.615,-0.756,0.489,215.3,381.4)" text-anchor="start" y="2.2">7</text>
<text class="ft" font-size="6.8" transform="matrix(0.657,0.615,-0.756,0.489,223.1,376.3)" text-anchor="start" y="2.2">8</text>
<text class="ttl" font-size="10" transform="translate(90.4,409) rotate(17.0) skewX(-25.0) scale(0.985,0.720)" text-anchor="middle" y="2.5" style="white-space:pre" xml:space="preserve">Number of columns  of PV modules</text>
<text class="ttl" font-size="10" transform="translate(204.3,401.3) rotate(-33.0) skewX(0.0) scale(0.720,1.000)" text-anchor="middle" y="2.5" style="white-space:pre" xml:space="preserve">Number of rows of PV modules</text>
</g>
<g id="plot-f">
<path d="M336.3,379.7L426.4,352M426.4,352L426.9,242.2M346.9,384.6L437.4,355.7M437.4,355.7L438.5,243.8M358.1,389.8L448.8,359.6M448.8,359.6L450.7,245.5M369.7,395.1L460.8,363.6M460.8,363.6L463.5,247.3M382,400.7L473.2,367.8M473.2,367.8L476.7,249.2M394.8,406.7L486.2,372.1M486.2,372.1L490.6,251.1M408.3,412.9L499.7,376.7M499.7,376.7L505.2,253.2M422.5,419.4L513.9,381.5M513.9,381.5L520.4,255.3M336.3,379.7L422.5,419.4M336.3,379.7L330.8,254.6M345.6,376.9L432.1,415.4M345.6,376.9L340.8,253.3M354.6,374.1L441.4,411.5M354.6,374.1L350.4,252.1M363.4,371.4L450.4,407.8M363.4,371.4L359.9,250.8M372,368.8L459.2,404.2M372,368.8L369,249.7M380.3,366.2L467.7,400.6M380.3,366.2L377.9,248.5M388.5,363.7L475.9,397.2M388.5,363.7L386.6,247.4M396.4,361.2L484,393.9M396.4,361.2L395.1,246.3M404.2,358.9L491.7,390.6M404.2,358.9L403.3,245.2M411.7,356.5L499.3,387.5M411.7,356.5L411.4,244.2M419.1,354.2L506.7,384.4M419.1,354.2L419.2,243.2M426.4,352L513.9,381.5M426.4,352L426.9,242.2M335.2,353.8L426.5,329.1M426.5,329.1L515.2,355.3M334.1,328.7L426.6,307M426.6,307L516.5,330M332.9,302.9L426.7,284.3M426.7,284.3L517.9,304M331.8,276.3L426.8,261.1M426.8,261.1L519.3,277.2" class="grid"/>
<path d="M330.8,254.6L426.9,242.2M426.9,242.2L520.4,255.3M520.4,255.3L513.9,381.5" class="frame"/>
<path d="M336.3,379.7L426.4,352M426.4,352L513.9,381.5" class="frame2"/>
<path d="M426.9,242.2L426.4,352" class="frame3"/>
<g>
<path d="M429.5,292.8l0.6,0.9-2-1.1z" fill="#ff9100"/>
<path d="M427.2,290.5l2.8,3-1.3-0.3-2.3-1.2-2.3-2.5z" fill="#ff6c00"/>
<path d="M423.3,287.6l2,1 2.4,2.6-3-1-2.9-3z" fill="#ff4700"/>
<path d="M421.7,286.9l2.3,1.3-1.6-0.3z" fill="#ff2200"/>
<path d="M431.7,293.6l1.2,1.5-3.7-1.7-0.6-0.8z" fill="#ff9100"/>
<path d="M429.4,291.3l2.8,3-3.1-1-2.8-3z" fill="#ff6c00"/>
<path d="M424.5,288.4l3.7,1.6 1.7,2-3.1-1zM424.9,288.1l0.9,1.3-3.4-1.9z" fill="#ff4700"/>
<path d="M422.8,285.7l2.6,3.2-2.3-0.8-0.9-0.4-2.5-2.9z" fill="#ff2200"/>
<path d="M419.5,282.9l1.5,0.9 2.3,2.7-3-1-2.7-3.2z" fill="#ff1100"/>
<path d="M417.3,281.9l2.9,1.6-2-0.4z" fill="#ff0000"/>
<path d="M422.8,286.3L420.7,285.5" class="cl"/>
<path d="M433.9,294.4l1.9,2.1-3.7-1.6-1.3-1.5z" fill="#ff9100"/>
<path d="M431.6,292l2.9,3.1-3.2-1-2.8-3z" fill="#ff6c00"/>
<path d="M427.3,289.8l3.7,1.6 1.2,1.4-3.2-1zM427.1,288.9l1.6,1.9-3.7-1.7-1-1.2z" fill="#ff4700"/>
<path d="M424.9,286.5l2.8,3.1-3.1-0.9-2.7-3.2z" fill="#ff2200"/>
<path d="M420.1,283.5l3.7,1.9 1.6,1.8-3-0.9z" fill="#ff1100"/>
<path d="M425,287L422.8,286.3" class="cl"/>
<path d="M420.6,283.3l0.8,1.2-2.8-1.7z" fill="#ff1100"/>
<path d="M418.6,280.8l2.6,3.3-1.9-0.6-1.5-0.9-2-2.8z" fill="#ff0000"/>
<path d="M416.6,278.3l2.6,3.3-2.9-1-2.4-3.3zM412.9,275.7l3.7,2.5 0.5,0.9-2.7-1.1z" fill="#fe0000"/>
<path d="M436.3,295.1l2.4,2.6-3.8-1.4-1.9-2.1z" fill="#ff9100"/>
<path d="M434,292.8l2.9,3.1-3.3-1-2.9-3z" fill="#ff6c00"/>
<path d="M430.1,291.2l3.8,1.5 0.7,0.8-3.3-0.9zM429.3,289.7l2.2,2.5-3.7-1.7-1.6-1.8z" fill="#ff4700"/>
<path d="M427,287.3l2.9,3.1-3.1-1-2.8-3.1z" fill="#ff2200"/>
<path d="M423,285.1l3.7,1.8 0.9,1.1-3.1-1z" fill="#ff1100"/>
<path d="M427.1,287.8L425,287" class="cl"/>
<path d="M422.7,284.1l1.6,2-3.7-1.9-0.8-1.1z" fill="#ff1100"/>
<path d="M420.5,281.6l2.7,3.2-2.9-1-2.5-3.2z" fill="#ff0000"/>
<path d="M416.8,278.4l2.6,1.9 1.6,2.1-2.7-1.1-2.5-3.3zM415.7,277.8l1.7,1.3-1.1-0.3zM414.7,275.8l2.3,3.2-3.7-2.5-1.2-1.8z" fill="#fe0000"/>
<path d="M412.8,273.2l2.4,3.3-2.6-1-2.2-3.4zM409.8,270l2.2,2.2 1.2,1.8-2.3-1.1-2.2-3.5z" fill="#fd0000"/>
<path d="M408.4,268.9l1.9,1.8-1.2-0.5z" fill="#fc0000"/>
<path d="M414.6,276.1L412.8,275.3" class="cl"/>
<path d="M431.7,290.4l2.7,3-3.7-1.5-2.3-2.4z" fill="#ff4700"/>
<path d="M428.3,287.7l1.3,0.7 2.6,2.7-3.2-0.9-2.9-3.1z" fill="#ff2200"/>
<path d="M425.8,286.7l3.1,1.6-2.2-0.5z" fill="#ff1100"/>
<path d="M429.3,288.6L427.1,287.8" class="cl"/>
<path d="M441.8,299.5l2.7,2.9-6.4-4.8z" fill="#ffb800"/>
<path d="M439,296.9l0.8,0.6 2.5,2.7-3.6-1.9-0.9-0.7-2.4-2.7z" fill="#ff9100"/>
<path d="M434,292.9l5.6,4.7-3.7-1.9-2.8-3.2z" fill="#ff6c00"/>
<path d="M433.1,292.4l1.5,1.2-1-0.3z" fill="#ff4700"/>
<path d="M442.1,300.2L439.9,298.9" class="cl"/>
<path d="M424.7,284.9l2.5,2.8-3.8-1.9-1.6-2z" fill="#ff1100"/>
<path d="M422.3,282.4l2.9,3.2-2.9-1-2.6-3.3z" fill="#ff0000"/>
<path d="M418.6,280l3.7,2.4 0.5,0.8-2.6-1.1zM418.4,279.1l1.4,2-3.9-2.9zM416.2,276.6l2.7,3.3-2.4-1-0.4-0.3-2.2-3.2z" fill="#fe0000"/>
<path d="M413.4,273.6l1.5,1.5 1.8,2.3-2.4-1.2-2.3-3.4zM411.2,271.8l2.7,2.6-1.5-0.7z" fill="#fd0000"/>
<path d="M416.1,276.9L414.6,276.1" class="cl"/>
<path d="M410.6,270.7l1.8,2.3-3.4-3.4z" fill="#fd0000"/>
<path d="M408.2,268.1l2.8,3.4-1.6-1.1-0.7-0.7-0.8-1.6zM405.4,265.3l1.5,2.3 1.6,1.4-0.9-1.8-2.6-3.2z" fill="#fc0000"/>
<path d="M403.8,262.6l2.3,3.3-0.4-1.3z" fill="#fb0000"/>
<path d="M405.5,264.9L405.3,264.6" class="cl"/>
<path d="M429.2,288.1l0.9,1-2.7-1.5z" fill="#ff2200"/>
<path d="M426.6,285.7l3.2,3.1-1.8-0.5-1.7-0.9-2.5-2.8z" fill="#ff1100"/>
<path d="M422.3,282.5l2.9,1.9 2,2-2.9-1-2.9-3.2z" fill="#ff0000"/>
<path d="M421.4,282.1l1.5,1-1-0.2z" fill="#fe0000"/>
<path d="M429.4,288.6L429.3,288.6" class="cl"/>
<path d="M439.5,297.1l0.7,1.2-2-1.6z" fill="#ff9100"/>
<path d="M437.4,294.7l2.6,3.2-1.3-0.5-5.6-4.8z" fill="#ff6c00"/>
<path d="M435.2,292.2l0.3,0.2 2.4,3.1-4.2-2.1-0.2-0.2-2.8-3z" fill="#ff4700"/>
<path d="M428.7,288.1l7.1,4.7-4.5-1.8z" fill="#ff2200"/>
<path d="M419.8,280l2.9,3.2-3.7-2.4-1.5-2zM417.1,277.3l0.7,0.6 2.5,2.9-2.3-1.2-2.6-3.3z" fill="#fe0000"/>
<path d="M414.1,274.7l3.5,3.4-1.8-1z" fill="#fd0000"/>
<path d="M417,277.6L416.1,276.9" class="cl"/>
<path d="M449.8,306.1l0.6,0.9-1.6-1.2z" fill="#ebff00"/>
<path d="M447.4,303.9l2.9,3-0.9-0.4-5.9-4.8z" fill="#ffe300"/>
<path d="M444.1,301l1.6,1.3 2.2,2.3-3.8-2.2-0.5-0.4-2.6-2.8z" fill="#ffb800"/>
<path d="M438.9,297.1l5.8,4.6-3.3-1.8z" fill="#ff9100"/>
<path d="M445,302.1L442.1,300.2" class="cl"/>
<path d="M413.3,274.5l2,1.4-2.6-2.7zM410.2,272.1l3.9,2.9-0.6-1.3-1.5-1.5-2-2.1z" fill="#fd0000"/>
<path d="M407.7,268.7l2.1,3 1.1,0.9-0.2-1.9-3-3.2zM406.6,266.7l1.7,2.7 0-1.2zM404.6,265.9l3.2,2.1-2.1-3.3z" fill="#fc0000"/>
<path d="M401.8,263.1l0.4,0.9 2.9,2.2 0.9-1-1.4-2.1-1.2-1.4z" fill="#fb0000"/>
<path d="M400.3,259.8l1.7,3.9 1.8-1.6-2.6-3.1z" fill="#ee0000"/>
<path d="M399.1,256.8l1.4,3.6 1.1-0.9z" fill="#da0000"/>
<path d="M404.8,265.6L405.5,264.9" class="cl"/>
<path d="M423.9,283.3l1.8,1.8-4.2-2.8z" fill="#ff0000"/>
<path d="M421,281l3.4,3.1-2.4-1.1-0.1-0.1-2.9-3.2zM416.9,277.6l3.8,3.1-0.6-0.1-0.7-0.1z" fill="#fe0000"/>
<path d="M435.4,292.2l0.5,0.9-1.6-1.1z" fill="#ff4700"/>
<path d="M433.2,289.8l2.7,3.2-1-0.3-5.7-3.8-0.9-1z" fill="#ff2200"/>
<path d="M430.5,287.1l0.6,0.4 2.6,3-4.8-1.9-3.2-3.1z" fill="#ff1100"/>
<path d="M424.3,284.2l6.8,3.6-4.9-1.6z" fill="#ff0000"/>
<path d="M433.2,290.3L429.3,288.6" class="cl"/>
<path d="M416.6,278l1.6,0.7-1.4-1.8z" fill="#fe0000"/>
<path d="M412.5,275.6l0.2,0.3 4.4,2.4 0.2-0.8-2.4-2.4-1.5-1.2zM410.1,272.1l2.8,4 1-1.8-3.5-2.8z" fill="#fd0000"/>
<path d="M409.5,270.9l0.9,1.7 0.5-0.8z" fill="#fc0000"/>
<path d="M417,277.9L417,277.6" class="cl"/>
<path d="M445.2,301.5l0.9,1.6-2.9-2.3z" fill="#ffb800"/>
<path d="M443.4,299l2.2,3.3-1.8-0.8-4.4-3.6-0.8-1z" fill="#ff9100"/>
<path d="M441.6,296.5l2.3,3.3-4.8-2.2-2.5-3.2z" fill="#ff6c00"/>
<path d="M434.6,292l6.9,4.2 0.6,1.1-5-2.1z" fill="#ff4700"/>
<path d="M445.3,302.2L445,302.1" class="cl"/>
<path d="M404.8,269.6l0.3,0.8 5.6,1.6-2.6-3.8zM403.2,266.3l1.8,3.8 3.5-1.4-1.1-1.5-2.3-1.7z" fill="#fc0000"/>
<path d="M401.9,263.2l1.6,3.6 2.1-0.9z" fill="#fb0000"/>
<path d="M403.5,266.2L404.8,265.6" class="cl"/>
<path d="M452.8,307.1l1.2,1.4-4.4-1.2-1.2-1.2z" fill="#ebff00"/>
<path d="M450.5,304.8l2.9,3-4.4-1.1-2.9-2.9z" fill="#ffe300"/>
<path d="M444.8,302.5l4.4,0.9 1.9,2.1-4.4-1z" fill="#ffb800"/>
<path d="M400.5,263.3l2.5,1.1-0.7-1.6z" fill="#fb0000"/>
<path d="M396.9,260.7l0.5,1.4 3.9,1.6 1.3-0.3-1.8-3.9z" fill="#ee0000"/>
<path d="M395.7,257.4l1.4,3.8 4-1.1-1.3-2.8-1.1-0.8z" fill="#da0000"/>
<path d="M394.6,254.2l1.3,3.8 3.4-1.1-3.8-3z" fill="#c50000"/>
<path d="M394.2,253l0.6,1.7 1.2-0.3z" fill="#af0000"/>
<path d="M394.8,253.9L394.9,253.8" class="cl"/>
<path d="M415,279l0.7,0.9 5.5,1.4-3.5-3.4-0.8-0.5z" fill="#fe0000"/>
<path d="M412.3,275.1l3.1,4.4 2-1.8z" fill="#fd0000"/>
<path d="M415.5,279.1L417,277.9" class="cl"/>
<path d="M430.9,287.3l0.7,0.9-2.1-1.1z" fill="#ff1100"/>
<path d="M428.3,284.9l3.2,3.1-1.3-0.3-5.4-2.8-1.9-1.7z" fill="#ff0000"/>
<path d="M421.9,281.2l4.6,2.1 2.3,2.3-5.3-1.8-3.5-3zM419.7,280.5l2.9,1.3-2-0.3z" fill="#fe0000"/>
<path d="M407.8,276.1l0.3,0.7 5.4-0.9-0.5-0.7zM406.3,272.9l1.7,3.8 5.4-1-2.9-4z" fill="#fd0000"/>
<path d="M404.8,269.7l1.7,3.7 4.4-1.2-0.7-0.9z" fill="#fc0000"/>
<path d="M455.5,308.2l2,2.6-4.4-2.5-1.2-1.4z" fill="#ebff00"/>
<path d="M453.4,305.9l2.6,3.1-3.6-1.4-2.7-3z" fill="#ffe300"/>
<path d="M448.4,303.2l4.5,2.1 1,1.3-3.7-1.3z" fill="#ffb800"/>
<path d="M439.8,294l2.1,3.1-6.8-4.3-0.6-0.8z" fill="#ff4700"/>
<path d="M437.9,291.4l2.3,3.3-5.2-2-2.7-3.1z" fill="#ff2200"/>
<path d="M430.2,287.2l6.9,3.1 1.3,1.9-5.6-1.9z" fill="#ff1100"/>
<path d="M437.9,292L433.2,290.3" class="cl"/>
<path d="M402.4,270.2l3.4,0.3-0.5-1.1zM399.2,267.2l1.2,3.2 2.9,0 2.3-0.4-1.8-3.9z" fill="#fc0000"/>
<path d="M398.1,263.9l1.3,3.8 4.7-1-1.4-3.1-1.3-0.5z" fill="#fb0000"/>
<path d="M397.2,261.4l1.1,3.1 3.9-1z" fill="#ee0000"/>
<path d="M399.5,267.1L403.5,266.2" class="cl"/>
<path d="M448.6,302.4l1.2,1.7-4.5-0.9-1.3-1.9z" fill="#ffb800"/>
<path d="M446.9,299.8l2.2,3.3-4.5-1-2.3-3.3z" fill="#ff9100"/>
<path d="M445.1,297.3l2.2,3.3-4.5-1-2.2-3.3z" fill="#ff6c00"/>
<path d="M440.4,296.6l4.6,0.5 0.6,0.9z" fill="#ff4700"/>
<path d="M448.7,303.1L445.1,302.3" class="cl"/>
<path d="M392.1,261.4l0.5,1.7 5.5-1-0.6-1.6z" fill="#ee0000"/>
<path d="M391,258.1l1.2,3.8 5.5-0.8-1.4-3.8z" fill="#da0000"/>
<path d="M390,254.9l1.2,3.8 5.3-0.8-1.3-3.9z" fill="#c50000"/>
<path d="M389.4,253.3l0.8,2.1 5.2-0.8-0.5-1.2z" fill="#af0000"/>
<path d="M390.2,254.6L394.8,253.9" class="cl"/>
<path d="M409.3,279.5l1.8,3.7 5.2-3.5-0.7-1z" fill="#fe0000"/>
<path d="M407.8,276.3l1.8,3.7 6.4-0.7-2.9-4z" fill="#fd0000"/>
<path d="M409.8,279.8L415.5,279.1" class="cl"/>
<path d="M425.3,282.5l1.8,1.4-6.1-2.7zM415,279.5l6.9,0.8 4,2.8-4.2-1.3-1.3-0.6z" fill="#fe0000"/>
<path d="M459.8,315.1l1.1,0.9-1.4-2.1z" fill="#60ff00"/>
<path d="M457.9,312.7l2.6,2.9-0.3-1.1-3.1-4.1z" fill="#aeff00"/>
<path d="M455.9,310.2l0.1,0.1 2.6,2.9-0.9-2.2-0.6-0.9-2.3-2.3z" fill="#ebff00"/>
<path d="M453.1,306.6l3.6,4.2-1.1-2.5-2.9-2.9z" fill="#ffe300"/>
<path d="M452.1,304.9l1.8,2.2-0.4-1.2z" fill="#ffb800"/>
<path d="M402.7,276.9l0.7,1.8 5.3-2-0.3-0.7zM401.6,273.7l1.3,3.8 5.8-0.9-1.8-3.9z" fill="#fd0000"/>
<path d="M400.4,270.4l1.4,3.8 5.3-0.9-1.5-3.4-2.4-0.1zM400.2,269.8l0.4,1.2 3.5-0.9z" fill="#fc0000"/>
<path d="M451.6,303.4l1.7,2.7-4.4-2.2-1.2-1.8z" fill="#ffb800"/>
<path d="M450,300.8l2.1,3.3-3.9-1.2-2.2-3.3z" fill="#ff9100"/>
<path d="M445.9,297.6l2.8,1.2 1.8,2.8-4-1.2-2.2-3.3z" fill="#ff6c00"/>
<path d="M444.2,296.8l2.4,1.3-1.8-0.3z" fill="#ff4700"/>
<path d="M451.8,304.1L448.7,303.1" class="cl"/>
<path d="M435.7,288.9l1.9,2.2-6.9-3.2-0.7-0.8z" fill="#ff1100"/>
<path d="M433.3,286.4l2.9,3.2-5.6-1.8-3.2-3.1z" fill="#ff0000"/>
<path d="M425.6,283.1l7,2.5 1.3,1.5-5.9-1.7z" fill="#fe0000"/>
<path d="M395.2,271.1l0.4,1.2 3.3-1.5zM394.2,267.9l1.2,3.8 2.8-0.4 2.8-1-1.2-3.3z" fill="#fc0000"/>
<path d="M393.1,264.6l1.3,3.8 5.6-0.8-1.3-3.8z" fill="#fb0000"/>
<path d="M392.4,262.5l0.9,2.7 5.6-0.8-1-2.8z" fill="#ee0000"/>
<path d="M394.5,267.9L399.5,267.1" class="cl"/>
<path d="M443.3,294.8l2.2,3-4.4-0.8-2.4-3.2z" fill="#ff4700"/>
<path d="M441.4,292.2l2.4,3.3-4.6-1-2.4-3.3z" fill="#ff2200"/>
<path d="M436.2,290.4l4.4,0.8 1.3,1.7-4.5-0.9z" fill="#ff1100"/>
<path d="M441.4,292.8L437.7,292" class="cl"/>
<path d="M387.2,262.1l0.5,1.8 5.5-0.9-0.5-1.7z" fill="#ee0000"/>
<path d="M386.2,258.9l1.1,3.8 5.5-0.9-1.2-3.8z" fill="#da0000"/>
<path d="M385.2,255.6l1.2,3.8 5.4-0.8-1.2-3.8z" fill="#c50000"/>
<path d="M384.5,253.1l0.9,3.1 5.4-0.8-0.7-2.1z" fill="#af0000"/>
<path d="M385.5,255.3L390.2,254.6" class="cl"/>
<path d="M405.1,283.5l1.2,3.4 5.3-4.1zM403.9,280.2l1.4,3.8 5.6-0.6 0.7-0.5-1.6-3.5z" fill="#fe0000"/>
<path d="M403.2,278.1l0.9,2.7 6.1-0.9-1.8-3.8z" fill="#fd0000"/>
<path d="M404.3,280.5L409.8,279.8" class="cl"/>
<path d="M410.4,283.1l6.2-1.7 3.4-0.4 2.6-0.4-6.8-1.2z" fill="#fe0000"/>
<path d="M415.7,281.3l1.3-0.6 3.8-0.1z" fill="#fd0000"/>
<path d="M416.4,281.2L420.6,280.7" class="cl"/>
<path d="M461.8,319.3l2.7,2.9-2.7-4.9z" fill="#29ff00"/>
<path d="M459.8,316.9l2.6,3.1-0.1-2-1.6-2.8-0.9-1.1z" fill="#60ff00"/>
<path d="M457.9,313.6l1.7,3.1 0.8,0.9-0.1-2.8-2.4-3.1z" fill="#aeff00"/>
<path d="M455.8,309.4l2.6,4.9 0-1.9z" fill="#ebff00"/>
<path d="M460.7,317.5L460.6,315.7" class="cl"/>
<path d="M456.5,309.9l0.3,1-1.2-1.5z" fill="#ebff00"/>
<path d="M454.9,307.4l1.9,3.3-0.8-0.4-3.2-4.5z" fill="#ffe300"/>
<path d="M453.3,304.8l1.9,3.4-2-1.6-0.8-0.9-1.5-2.7z" fill="#ffb800"/>
<path d="M451.2,301.8l1.1,1.3 1.4,2.5-2.5-1.8-2-3.3z" fill="#ff9100"/>
<path d="M447.9,298.3l3.7,4.3-2-1.3z" fill="#ff6c00"/>
<path d="M453.4,305.5L451.8,304.1" class="cl"/>
<path d="M397.3,277.6l1.3,3.8 5.3-3-0.6-1.6zM396.3,274.4l1.2,3.8 6-0.8-1.3-3.8z" fill="#fd0000"/>
<path d="M395.4,271.7l1.1,3.3 5.9-0.9-1.4-3.8-3,0.4zM401.2,270.9l-0.4-1.2-3.5,1.5z" fill="#fc0000"/>
<path d="M448.3,298.3l0.8,1.3-4.1-2.1z" fill="#ff6c00"/>
<path d="M446.4,295.7l2.4,3.3-3.1-0.9-1.1-0.5-2.2-3.1z" fill="#ff4700"/>
<path d="M444.6,293.1l2.3,3.4-4-1.2-2.4-3.3z" fill="#ff2200"/>
<path d="M439.8,290.9l4.5,1.9 0.8,1.1-4-1.2z" fill="#ff1100"/>
<path d="M444.6,293.7L441.4,292.8" class="cl"/>
<path d="M430.9,283.8l2.2,2.5-6.9-2.5-1.8-1.4zM421,280.3l2.3,0.1 5.1,0.9 3.1,3.2-6.5-1.5z" fill="#fe0000"/>
<path d="M422.4,280.6l5.6,0.2 1.1,1.2z" fill="#fd0000"/>
<path d="M422.7,280.6L428.4,281.6" class="cl"/>
<path d="M390.1,271.9l0.6,2.1 5.4-1.9-0.3-1.1zM389.1,268.6l1.1,3.9 5.8-0.9-1.2-3.8z" fill="#fc0000"/>
<path d="M388.1,265.4l1.2,3.8 5.7-0.8-1.3-3.9z" fill="#fb0000"/>
<path d="M387.5,263.3l0.8,2.7 5.6-0.9-0.9-2.7z" fill="#ee0000"/>
<path d="M389.4,268.7L394.5,267.9" class="cl"/>
<path d="M439,289.7l2.2,2.1-4.5-0.7-2.1-2.3z" fill="#ff1100"/>
<path d="M436.3,287.3l3.3,3.1-4.4-0.9-2.9-3.3z" fill="#ff0000"/>
<path d="M431.7,285.5l4.5,1.6 0.7,0.9-4-1.1z" fill="#fe0000"/>
<path d="M382.2,262.9l0.5,1.6 5.6-0.7-0.5-1.8z" fill="#ee0000"/>
<path d="M381.3,259.6l1.1,3.9 5.5-0.9-1.1-3.8z" fill="#da0000"/>
<path d="M380.4,256.3l1.1,3.9 5.5-0.9-1.2-3.8z" fill="#c50000"/>
<path d="M379.5,253l1.1,3.9 5.4-0.8-0.9-2.9z" fill="#af0000"/>
<path d="M380.6,256.1L385.5,255.3" class="cl"/>
<path d="M465.9,328.7l2.1,1.9-1.2-3.1z" fill="#00ff3c"/>
<path d="M463.8,326.4l2.6,2.7 0.7-1-1.7-3.9z" fill="#04ff00"/>
<path d="M462.2,323.4l0.9,2.3 1.1,1.2 1.5-2.1-1.7-3.9z" fill="#17ff00"/>
<path d="M461,320.1l1.5,4 1.9-2.6-2.4-2.8z" fill="#29ff00"/>
<path d="M459.7,316.9l1.5,3.9 1.2-1.6-2.3-2.9z" fill="#60ff00"/>
<path d="M459.4,315.8l0.5,1.7 0.6-0.7z" fill="#aeff00"/>
<path d="M467.1,329.5L467.3,329.3M460.4,317.9L460.7,317.5" class="cl"/>
<path d="M400.5,287.4l1.1,3.2 4.7-3.8z" fill="#ff0000"/>
<path d="M399.5,284.2l1.2,3.8 4.9-0.6 1.2-0.9-1.1-3.1zM398.4,280.9l1.3,3.9 6.2-0.8-1.4-3.9z" fill="#fe0000"/>
<path d="M398.4,280.8l0.2,0.7 6.1-0.8-1-2.9z" fill="#fd0000"/>
<path d="M398.8,281.2L404.3,280.5" class="cl"/>
<path d="M405.8,286.9l3-2.7 2.7-1.6zM408.3,285l3.6-3.2 5.4-0.9-6,2.1-0.3,0.3z" fill="#fe0000"/>
<path d="M411.2,282.5l1-0.9 5.7-0.8-1.3,0.6z" fill="#fd0000"/>
<path d="M411.9,282.2L416.4,281.2" class="cl"/>
<path d="M458.2,314.4l2.1,2.8-2.5-4.5z" fill="#aeff00"/>
<path d="M456.6,311.9l2.2,3.2-0.4-1.7-1.9-3.4-0.6-0.7z" fill="#ebff00"/>
<path d="M454.9,309.1l0.5,1 1.8,2.5-0.7-2.6-2.2-3.2z" fill="#ffe300"/>
<path d="M453,305.7l2.5,4.1-0.6-2.4-2.2-3.2z" fill="#ffb800"/>
<path d="M451.6,302.6l2,3.7-0.2-1.4z" fill="#ff9100"/>
<path d="M453.7,306.2L453.4,305.5" class="cl"/>
<path d="M451.7,302.2l0.9,1.8-2.2-2.6z" fill="#ff9100"/>
<path d="M449.9,299.7l2.1,3.4-1.2-0.9-2.6-3-0.7-1.3z" fill="#ff6c00"/>
<path d="M448.1,297.1l2.1,3.4-2.3-1.8-2.2-3.3z" fill="#ff4700"/>
<path d="M444.8,293.4l3.2,3.6 0.4,0.9-2.4-1.7-2.2-3.4z" fill="#ff2200"/>
<path d="M443.6,292.4l1.6,1.8-1-0.6z" fill="#ff1100"/>
<path d="M445,294L444.6,293.7" class="cl"/>
<path d="M393,281.7l0.7,2.4 5.4-3.1z" fill="#fe0000"/>
<path d="M392,278.4l1.2,3.9 5.2-0.8 0.7-0.4-1.2-3.5zM391,275.2l1.2,3.8 5.9-0.9-1.2-3.8z" fill="#fd0000"/>
<path d="M390.5,273.4l0.7,2.3 5.9-0.8-1.1-3.4z" fill="#fc0000"/>
<path d="M393.4,282L398.1,281.3" class="cl"/>
<path d="M441.6,290.8l3.2,2.7-4.5-1.8-2.1-2.2z" fill="#ff1100"/>
<path d="M436.6,287.4l3.2,2 2.4,2-3.5-1.1-3.2-3.2z" fill="#ff0000"/>
<path d="M435.3,286.9l1.9,1.2-1.2-0.3zM424.1,280.7l-2.3-0.4-2.7,0.5z" fill="#fe0000"/>
<path d="M416.3,281.2l5.3-2.3 2.9,0 4.1,2.4-5.4-0.3-3.2,0zM420.8,279.3l2.4-1 2,1.2z" fill="#fd0000"/>
<path d="M422.7,280.6L420.6,280.7" class="cl"/>
<path d="M385,272.7l0.7,2.8 5.6-1.7-0.6-2zM384,269.4l1.1,3.9 5.7-0.9-1.1-3.9z" fill="#fc0000"/>
<path d="M383.1,266.2l1.1,3.8 5.7-0.9-1.2-3.8z" fill="#fb0000"/>
<path d="M382.5,264l0.8,2.7 5.6-0.8-0.8-2.7z" fill="#ee0000"/>
<path d="M384.4,269.4L389.4,268.7" class="cl"/>
<path d="M433.6,284.8l3.1,3-4.5-1.5-2.3-2.6zM429.3,281.7l2.3,1.3 2.6,2.5-3.7-1.1-3-3.3z" fill="#fe0000"/>
<path d="M427.2,280.6l2.7,1.7-1.9-0.5z" fill="#fd0000"/>
<path d="M429.3,282L428.3,281.6" class="cl"/>
<path d="M469.9,335.5l1.8,1.3-1.4-2.6z" fill="#00e9d8"/>
<path d="M467.4,333.4l3,2.5 0.3-1-2.4-4.2z" fill="#00fc8b"/>
<path d="M465.5,330.2l1.3,2.6 1.1,1 0.8-2.4-1-1.7-1.5-1.6z" fill="#00ff3c"/>
<path d="M463.7,326.8l2.1,4.2 0.9-2.4-2.6-2.8z" fill="#04ff00"/>
<path d="M462.9,324.9l1.2,2.6 0.4-1.2z" fill="#17ff00"/>
<path d="M466.5,331.5L467.1,329.5" class="cl"/>
<path d="M376.9,263.6l0.7,2.6 5.7-1.8-0.5-1.6z" fill="#ee0000"/>
<path d="M376.1,260.3l1,3.9 5.9-0.8-1.1-3.9z" fill="#da0000"/>
<path d="M375.2,257l1,3.9 5.9-0.8-1.1-3.8z" fill="#c50000"/>
<path d="M374.4,254.3l0.9,3.3 5.9-0.8-1.1-3.8z" fill="#af0000"/>
<path d="M375.4,256.8L380.6,256.1" class="cl"/>
<path d="M461.9,324l1.9,2.3-1.2-3.5z" fill="#17ff00"/>
<path d="M460.1,321.6l2.2,3 0.6-1.1-1.6-4z" fill="#29ff00"/>
<path d="M458.5,318.9l0.5,1.1 1.5,2.1 1.1-1.9-1.5-4z" fill="#60ff00"/>
<path d="M457.4,315.6l1.4,4 1.5-2.7-0.2-0.5-1.7-2.7z" fill="#aeff00"/>
<path d="M456.2,312.3l1.4,4 1.2-2-2-3.1z" fill="#ebff00"/>
<path d="M455.3,309.2l1.1,3.8 0.8-1.2z" fill="#ffe300"/>
<path d="M459.2,319.9L460.4,317.9" class="cl"/>
<path d="M395.9,291.5l0.8,2.6 4.2-3.2z" fill="#ff1100"/>
<path d="M394.9,288.2l1.2,3.9 4.1-0.6 1.9-1.3-1-2.8z" fill="#ff0000"/>
<path d="M394,285l1.1,3.8 6.2-0.9-1.2-3.8zM393.5,283.5l0.6,2 6.2-0.8-1.3-3.9-0.8,0.1z" fill="#fe0000"/>
<path d="M399.2,281.4l-0.3-0.8-1.4,0.9z" fill="#fd0000"/>
<path d="M398.8,281.2L398.1,281.3" class="cl"/>
<path d="M401,290.6l2.4-2.5 2.8-1.5z" fill="#ff0000"/>
<path d="M402.9,288.8l3.2-3.2 3.6-1.6-3,2.6-1,0.8zM405.6,286.4l1.8-1.9 4-2.4 1.3-0.5-3.6,3.1z" fill="#fe0000"/>
<path d="M410.8,282.7l2.3-1.4-0.9,1.1z" fill="#fd0000"/>
<path d="M411.4,282.4L411.9,282.2" class="cl"/>
<path d="M454.8,309.4l1.3,1.3-1.2-2.5z" fill="#ffe300"/>
<path d="M453,306.9l2.4,3.2 0-1.2-2.3-4.2z" fill="#ffb800"/>
<path d="M451.1,304.3l2.4,3.3 0.1-2.1-1.3-2.4-1.1-1.5z" fill="#ff9100"/>
<path d="M449.3,300.8l2.3,4.2 0.2-2.7-2.4-3.3z" fill="#ff6c00"/>
<path d="M447.5,297.4l2.3,4.2 0.2-1.8-2.4-3.3z" fill="#ff4700"/>
<path d="M447.3,296.4l0.7,1.8 0.2-1z" fill="#ff2200"/>
<path d="M453.7,307.3L453.7,306.2" class="cl"/>
<path d="M444.1,295.2l4.3,2.5-4-4.8z" fill="#ff2200"/>
<path d="M441,291.9l2.1,2.7 1.6,0.9 0.2-2-0.6-0.7-3-2.3z" fill="#ff1100"/>
<path d="M439,289.1l2.5,3.4 0.3-1.6z" fill="#ff0000"/>
<path d="M444.8,295.3L445,294" class="cl"/>
<path d="M387.7,282.5l1,3.8 5.5-2.5-0.6-2.2z" fill="#fe0000"/>
<path d="M386.8,279.2l1,3.9 6-0.9-1.2-3.9zM385.9,276l1,3.8 5.9-0.9-1.2-3.8z" fill="#fd0000"/>
<path d="M385.6,274.9l0.4,1.7 5.8-1-0.7-2.4z" fill="#fc0000"/>
<path d="M388.1,282.8L393.4,282" class="cl"/>
<path d="M438.5,288.4l1.8,1.7-4.6-2.8z" fill="#ff0000"/>
<path d="M435.3,286l3.7,3.1-2.7-1.2-0.5-0.3-3-3.1zM430.8,282.7l4.5,3.3 0.5,0.8-2.6-1.5z" fill="#fe0000"/>
<path d="M411.6,282.2l3.1-2.9 7.8-0.3-5.3,2.3zM414.1,280l3.5-3.2 2.1-0.1 4.2,1.9-2.2,0.9z" fill="#fd0000"/>
<path d="M416.9,277.4l1.4-1.2 2.1,1z" fill="#fc0000"/>
<path d="M380.5,276.8l0.2,0.8 1.7-0.9z" fill="#fd0000"/>
<path d="M379.6,273.5l1,3.9 1.1-0.2 4.6-1.9-0.8-2.7zM378.7,270.2l1,3.9 6-0.9-1.1-3.9z" fill="#fc0000"/>
<path d="M377.8,266.9l1.1,3.9 5.9-0.9-1.1-3.8z" fill="#fb0000"/>
<path d="M377.5,265.7l0.5,1.8 5.9-0.9-0.8-2.8z" fill="#ee0000"/>
<path d="M379,270.2L384.4,269.4" class="cl"/>
<path d="M429.7,283l2.5,0.7-3.7-2.3z" fill="#fe0000"/>
<path d="M424.3,280l2.3,1.8 4,1.4-1.3-1.5-1.3-0.8-4.3-2.2zM422.4,278.2l2.7,2.2-0.6-1.4z" fill="#fd0000"/>
<path d="M430,282.8L429.3,282" class="cl"/>
<path d="M472.8,339.8l2.6,1.6-2.7-3.6z" fill="#00ccff"/>
<path d="M469.9,337.5l0.6,0.8 2.9,1.9-0.1-1.7-2-2.6-1.3-1.1z" fill="#00e9d8"/>
<path d="M467.5,333.8l3,4.4 0.1-2.9-3.1-2.7z" fill="#00fc8b"/>
<path d="M466.4,332l1.6,2.5 0.1-1.4zM465.3,331.1l2.2,2.2-1.8-3.9z" fill="#00ff3c"/>
<path d="M463.2,328.8l2.5,2.8 0.4-1.4-2.2-4.2z" fill="#04ff00"/>
<path d="M461.5,325.7l1.1,2.4 1.1,1.2 0.6-2.5-0.6-1.4-1.6-2z" fill="#17ff00"/>
<path d="M460,322.3l1.9,4.2 0.7-2.5-2.2-3.1z" fill="#29ff00"/>
<path d="M458.8,319.2l1.5,3.9 0.5-1.6z" fill="#60ff00"/>
<path d="M466.4,331.9L466.5,331.5" class="cl"/>
<path d="M371.8,267.5l0.8,3.1 4.2-3.6z" fill="#fb0000"/>
<path d="M370.9,264.2l1.1,3.9 4.1-0.4 2.1-1.7-0.7-2.5z" fill="#ee0000"/>
<path d="M370.1,260.9l1,3.9 6.6-0.7-1-3.9z" fill="#da0000"/>
<path d="M369.4,258.3l0.8,3.2 6.6-0.7-1-3.8-5.4,0.5z" fill="#c50000"/>
<path d="M375.9,257.5l-0.9-3.5-5.3,4.1z" fill="#af0000"/>
<path d="M375.4,256.8L371.3,257.2" class="cl"/>
<path d="M458.2,319.2l1.5,1.4-0.7-2.3z" fill="#60ff00"/>
<path d="M456.1,316.7l2.5,2.9 0.6-0.6-1.4-3.9z" fill="#aeff00"/>
<path d="M454.3,314l0.4,1.1 1.8,2.1 1.5-1.5-1.4-3.9z" fill="#ebff00"/>
<path d="M453.2,310.7l1.3,4 2.4-2.3-1-2.6-0.7-1z" fill="#ffe300"/>
<path d="M452.1,307.4l1.3,4 2.1-2.1-2.2-3z" fill="#ffb800"/>
<path d="M451,303.5l1.3,4.6 1.4-1.3z" fill="#ff9100"/>
<path d="M459.2,319.9L459.2,319.9M452.7,308.2L453.7,307.3" class="cl"/>
<path d="M391.3,295.6l0.5,1.6 2.8-1.9z" fill="#ff2200"/>
<path d="M390.4,292.4l1.1,3.8 2.4-0.4 3.3-2-0.7-2.4z" fill="#ff1100"/>
<path d="M389.5,289.1l1.1,3.8 6.1-0.9-1.2-3.9z" fill="#ff0000"/>
<path d="M388.6,285.8l1.1,3.9 6-1-1.1-3.8zM388.6,285.8l0.2,0.6 5.9-0.9-0.6-2.3z" fill="#fe0000"/>
<path d="M391.8,296.2L393,296.1" class="cl"/>
<path d="M396.2,294.2l2.1-2.2 2.5-1.3z" fill="#ff1100"/>
<path d="M397.7,292.8l3.3-3.2 3.3-1.8-2.4,2.5-1.6,1.2z" fill="#ff0000"/>
<path d="M400.5,290.4l2-2 2.5-2 2-1-3.2,3.2zM404.5,287.1l3.7-2.9-1.7,1.9z" fill="#fe0000"/>
<path d="M447,302.1l5,2.7-2.3-4.5z" fill="#ff6c00"/>
<path d="M445.1,298.8l1.6,3.2 0.9,0.5 2.4-1.6-2-4z" fill="#ff4700"/>
<path d="M443.4,295.3l2,4 2.8-1.9-0.2-0.5-3.6-2.2z" fill="#ff2200"/>
<path d="M442.7,293.7l1,2.2 1.3-0.9z" fill="#ff1100"/>
<path d="M444,295.8L444.8,295.3" class="cl"/>
<path d="M440.5,292.9l3.4,2-2.7-3.7z" fill="#ff1100"/>
<path d="M437.3,289.9l1.2,1.8 2.5,1.5 0.7-1.4-1.9-2.4-1.6-1.2z" fill="#ff0000"/>
<path d="M434.5,285.7l3.2,4.8 1-1.9zM383.1,286.6l0.7,2.3 5.6-3.1zM382.2,283.4l1.1,3.8 5.4-0.8 0.6-0.3-1-3.7z" fill="#fe0000"/>
<path d="M381.4,280.1l1,3.8 6-0.9-1-3.8zM380.5,277l1,3.6 6-0.9-1-3.8-5,0.7z" fill="#fd0000"/>
<path d="M386.6,276.5l-0.5-1.8-5.3,2.4z" fill="#fc0000"/>
<path d="M382.6,283.7L388.1,282.8" class="cl"/>
<path d="M428.7,283.8l1.6,1.6 5.5,1.2-4.2-3.6-1.8-0.6z" fill="#fe0000"/>
<path d="M426,281.1l3.1,3.2 1.3-1.7z" fill="#fd0000"/>
<path d="M429.1,283.9L430,282.8" class="cl"/>
<path d="M475.1,341.5l4.2,1.9-4.4-2.8-2.5-1.4z" fill="#00ccff"/>
<path d="M470,337.5l4.3,3.6 1.7,0.6-2.8-2.3z" fill="#00e9d8"/>
<path d="M406.9,285.3l1.8-2.2 3.6-1.2z" fill="#fe0000"/>
<path d="M408.2,283.9l3-3.3 4.4-1.4-3.1,2.9-0.8,0.5zM410.7,281.3l2.7-2.9 1.9-0.9 3.2-0.8-3.5,3.2z" fill="#fd0000"/>
<path d="M414.6,278.1l4.5-2-1.2,1.3z" fill="#fc0000"/>
<path d="M408.8,283.4L411.4,282.4" class="cl"/>
<path d="M375.3,280.7l0.4,1.5 1.8-1.7zM374.4,277.4l1.1,3.9 1.3-0.1 4.4-3.9-0.1-0.6z" fill="#fd0000"/>
<path d="M373.6,274.1l1,3.9 6.6-0.7-1-3.9zM372.7,270.8l1,3.9 6.6-0.7-1-3.9z" fill="#fc0000"/>
<path d="M372.4,269.9l0.4,1.5 6.7-0.7-1.1-3.9-2.5,0.3z" fill="#fb0000"/>
<path d="M378.6,267.4l-0.6-2.1-2.8,2.4z" fill="#ee0000"/>
<path d="M373,270.9L379,270.2" class="cl"/>
<path d="M423.1,281l4.4,0.9-3-2.5zM418.8,277.4l3,3.3 2,0.5 1.2-1.5-1.7-1.3-3.9-1.7z" fill="#fd0000"/>
<path d="M417.7,276.1l1.5,1.8 0.8-1z" fill="#fc0000"/>
<path d="M470,337.8l1.2,0.9-1.3-2.1z" fill="#00e9d8"/>
<path d="M467.6,335.6l3,2.8-0.1-1.1-3-4.4z" fill="#00fc8b"/>
<path d="M465.3,332.7l1,1.7 1.9,1.8-0.1-2.6-0.9-1.2-1.9-2.2z" fill="#00ff3c"/>
<path d="M463.2,329.2l2.6,4.3 0.1-2.6-2.7-3z" fill="#04ff00"/>
<path d="M462.3,327.2l1.4,2.7 0.1-1.3z" fill="#17ff00"/>
<path d="M466.4,334L466.4,331.9" class="cl"/>
<path d="M460.8,326.4l2.5,2.2-1.4-3.5z" fill="#17ff00"/>
<path d="M458.4,324.2l2.9,2.6 0.9-1.1-1.8-4z" fill="#29ff00"/>
<path d="M457,320.8l1.3,3.3 0.5,0.5 1.8-2.3-1.1-2.6-0.9-1z" fill="#60ff00"/>
<path d="M455.6,317.4l1.6,4 1.8-2.2-2.5-2.9z" fill="#aeff00"/>
<path d="M454.5,314.2l1.4,3.8 1-1.2z" fill="#ebff00"/>
<path d="M457.7,321.8L459.2,319.9" class="cl"/>
<path d="M366.6,271.5l0.9,3.6 4.7-4.2z" fill="#fc0000"/>
<path d="M365.7,268.2l1,3.9 4.8-0.6 1.6-1.4-0.7-2.6z" fill="#fb0000"/>
<path d="M364.9,264.8l1,3.9 6.7-0.7-1.1-3.9z" fill="#ee0000"/>
<path d="M364.2,262.2l0.8,3.2 6.7-0.7-1-3.9-5.4,0.6z" fill="#da0000"/>
<path d="M370.8,261.4l-0.9-3.5-5.3,4.1z" fill="#c50000"/>
<path d="M366.9,271.5L371.7,271" class="cl"/>
<path d="M453.2,314.5l2.3,1-0.7-1.8z" fill="#ebff00"/>
<path d="M450,312.1l0.3,1 3.6,1.7 1.1-0.5-1.3-3.9z" fill="#ffe300"/>
<path d="M448.9,308.8l1.3,3.9 3.7-1.7-1.2-3.9z" fill="#ffb800"/>
<path d="M447.8,305.5l1.3,3.8 3.7-1.6-1.2-3.9z" fill="#ff9100"/>
<path d="M446.7,302.1l1.3,3.9 4.1-1.7-4.5-2.5z" fill="#ff6c00"/>
<path d="M446.4,301.1l0.5,1.6 1.4-0.6z" fill="#ff4700"/>
<path d="M449.5,309.6L452.7,308.2" class="cl"/>
<path d="M385.8,296.5l1,3.7 5.5-3.3-0.4-1.4z" fill="#ff2200"/>
<path d="M384.9,293.2l1.1,3.9 6.1-1-1.1-3.8z" fill="#ff1100"/>
<path d="M384,289.9l1.1,3.9 6.1-1-1.1-3.8z" fill="#ff0000"/>
<path d="M383.6,288.3l0.6,2.2 6.1-0.9-1.1-3.9-0.7,0.1zM389.4,286.3l-0.3-0.8-1.3,0.9z" fill="#fe0000"/>
<path d="M386.3,297.1L391.8,296.2" class="cl"/>
<path d="M391.3,297.2l1.3-1.3 2-0.8z" fill="#ff2200"/>
<path d="M392,296.6l3.5-3.1 3.6-1.7-2.1,2.1-3,1.9z" fill="#ff1100"/>
<path d="M395,294.3l2.6-2.3 1.8-1.4 2.5-1.2-3.3,3.1z" fill="#ff0000"/>
<path d="M398.9,291.3l4.4-3.2-1.9,2z" fill="#fe0000"/>
<path d="M392.4,296.4L393,296.1" class="cl"/>
<path d="M443.1,300l4.4,2.4-1.9-4z" fill="#ff4700"/>
<path d="M440.9,296.8l1.3,2.6 1.5,0.9 2.2-1.3-2-4z" fill="#ff2200"/>
<path d="M439.3,293.3l1.9,4 3-1.8-0.7-1.4-2.6-1.7z" fill="#ff1100"/>
<path d="M438.2,290.8l1.4,3.1 1.8-1.1z" fill="#ff0000"/>
<path d="M441.5,297.3L444,295.8" class="cl"/>
<path d="M433.9,291.1l5.5,0.7-1.6-2.2z" fill="#ff0000"/>
<path d="M431.5,287.4l2.4,3.8 0.9,0.1 3.3-1.2-2.9-4.2zM429.8,284.7l2,3.2 3.8-1.5-0.3-0.4z" fill="#fe0000"/>
<path d="M482.4,344l0.9,0.7-3.9-1.4z" fill="#00a5ff"/>
<path d="M477.7,342.2l0.7,0.4 4.7,2-3-0.7-1.6-0.6-4-2.4z" fill="#00ccff"/>
<path d="M473.7,340.5l4.7,2.3-3.3-1.2z" fill="#00e9d8"/>
<path d="M377.9,290.7l0.9,3.1 3.8-3.7z" fill="#ff0000"/>
<path d="M377.1,287.4l1,3.9 3.8-0.5 2.4-2.2-0.6-2zM376.2,284.1l1,3.8 6.7-0.8-1.1-3.8z" fill="#fe0000"/>
<path d="M375.5,281.5l0.8,3.1 6.7-0.7-1-3.9-5.4,0.6zM382.1,280.6l-1-3.9-5.2,4.5z" fill="#fd0000"/>
<path d="M376.6,284.4L382.6,283.7" class="cl"/>
<path d="M424.9,285.2l6.3,0.3-2.1-2z" fill="#fe0000"/>
<path d="M422.2,281.2l3.3,4.1 0.3,0 3.8-1.4-2.7-2.6-3.3-0.8zM421.3,280l1.3,1.7 1.9-1z" fill="#fd0000"/>
<path d="M426,285.1L429.1,283.9" class="cl"/>
<path d="M472.1,339.6l3.1,1.8-4.3-3.6 0,0.4z" fill="#00e9d8"/>
<path d="M468.7,336.8l1.4,1.3 2.8,1.7-2.5-2.4-3.1-2.6z" fill="#00fc8b"/>
<path d="M465.9,333.6l3.6,3.6-1.4-2z" fill="#00ff3c"/>
<path d="M402,289.2l1.7-2 2.2-1.1zM403.2,287.9l3-3.3 3.4-1.7-1.9,2.1-2.4,1.9z" fill="#fe0000"/>
<path d="M405.7,285.4l2.7-3.1 0.6-0.4 3.1-1.6-3,3.3zM408.5,282.6l5.7-4.6-2.6,3.1z" fill="#fd0000"/>
<path d="M406.3,284.9L408.8,283.4" class="cl"/>
<path d="M369.9,284.7l0.7,2.7 3-3.1z" fill="#fe0000"/>
<path d="M369.1,281.4l1,3.9 2.9-0.3 3.2-3.3-0.3-1zM368.2,278.1l1,3.9 6.9-0.7-1.1-3.9z" fill="#fd0000"/>
<path d="M367.4,274.8l1,3.9 6.8-0.7-1-3.9zM367.3,274.5l0.2,0.9 6.8-0.7-1-3.9-2,0.2z" fill="#fc0000"/>
<path d="M373.4,271.3l-0.5-1.8-2.3,2.1z" fill="#fb0000"/>
<path d="M370.3,285.1L372.7,284.8M373,270.9L371.7,271" class="cl"/>
<path d="M415.4,281.6l1.7,2.1 4-2.5zM413.1,278.5l2.8,3.6 4.5-0.3 2.1-1.3-3.2-3.4-3.9,0.4z" fill="#fd0000"/>
<path d="M419.8,277.7l-1.3-1.5-3.8,1.8z" fill="#fc0000"/>
<path d="M464.9,333.4l2.2,1.4-1.5-2.8z" fill="#00ff3c"/>
<path d="M462,331.3l3.4,2.4 0.5-1.1-2.4-4.1z" fill="#04ff00"/>
<path d="M460.2,327.7l1.8,3.6 0.5,0.3 1.4-2.5-0.8-1.4-2-1.8z" fill="#17ff00"/>
<path d="M458.4,324.2l2.1,4.2 1.1-2.1-2.9-2.7z" fill="#29ff00"/>
<path d="M458.1,323.3l0.6,1.6 0.4-0.8z" fill="#60ff00"/>
<path d="M466.4,334.1L466.4,334" class="cl"/>
<path d="M453.6,322.4l5.5,2.1-1.6-4.1z" fill="#60ff00"/>
<path d="M452.5,318.9l1.4,3.6 0.4,0.2 3.4-1.7-1.6-4z" fill="#aeff00"/>
<path d="M451.2,315.5l1.5,3.9 3.6-1.8-1.1-2.9-1.3-0.6z" fill="#ebff00"/>
<path d="M450,312.2l1.4,3.8 3.2-1.6z" fill="#ffe300"/>
<path d="M455.7,322.9L457.7,321.8" class="cl"/>
<path d="M361.7,278.7l0.7,2.5 2.3-2.8z" fill="#fd0000"/>
<path d="M360.9,275.4l1,3.9 2.3-0.2 3.7-4.4zM360,272l1,4 6.4-0.6 0.6-0.7-0.8-3.3z" fill="#fc0000"/>
<path d="M359.2,268.7l1,3.9 7.1-0.6-1-3.9z" fill="#fb0000"/>
<path d="M359.1,268.3l0.2,1 7.2-0.6-1-3.9-3.7,0.3z" fill="#ee0000"/>
<path d="M365.6,265.4l-0.9-3.7-3.5,4z" fill="#da0000"/>
<path d="M360.3,272.1L366.9,271.5" class="cl"/>
<path d="M449.1,312.5l1.9,0.9-0.5-1.6z" fill="#ffe300"/>
<path d="M445.6,310.2l0.2,0.7 4,1.9 0.9-0.4-1.3-3.9z" fill="#ffb800"/>
<path d="M444.5,306.9l1.2,3.9 3.9-1.7-1.2-3.9z" fill="#ff9100"/>
<path d="M443.4,303.5l1.3,3.9 3.9-1.6-1.3-3.9z" fill="#ff6c00"/>
<path d="M442.4,300.2l1.2,3.9 3.9-1.6-0.3-1-3.5-1.9z" fill="#ff4700"/>
<path d="M441.9,298.6l0.7,2.2 1.8-0.8z" fill="#ff2200"/>
<path d="M446.5,310.9L449.5,309.6" class="cl"/>
<path d="M381.4,303.9l0.4,1.4 1.7-1.6z" fill="#ff6c00"/>
<path d="M380.6,300.6l1,3.9 1.2-0.2 4.6-4.6z" fill="#ff4700"/>
<path d="M379.7,297.3l1,3.9 6.1-0.8 0.5-0.5-0.9-3.5z" fill="#ff2200"/>
<path d="M378.8,294l1,3.9 6.8-0.9-1.1-3.9z" fill="#ff1100"/>
<path d="M378.6,293.1l0.4,1.5 6.7-0.9-1.1-3.8-2.9,0.3z" fill="#ff0000"/>
<path d="M384.8,290.4l-0.7-2.5-3.1,3z" fill="#fe0000"/>
<path d="M380.2,297.9L386.3,297.1" class="cl"/>
<path d="M386.3,300.2l3.5-2.7 3.6-1.9-1.3,1.4z" fill="#ff2200"/>
<path d="M389.2,298.2l3.4-2.6 0.9-0.7 2.9-1.6-3.5,3.1z" fill="#ff1100"/>
<path d="M393,295.6l5.4-3.9-2.5,2.3z" fill="#ff0000"/>
<path d="M389.6,298L392.4,296.4" class="cl"/>
<path d="M437,298l0.6,1.2 5.3,0.3-1.4-2.9z" fill="#ff2200"/>
<path d="M435.4,294.5l1.8,4 4.5-1.4-1.9-4z" fill="#ff1100"/>
<path d="M433.8,291l1.8,4 4.5-1.4-1.2-2.4-4.2-0.5z" fill="#ff0000"/>
<path d="M433.6,290.6l0.4,0.9 1.6-0.6z" fill="#fe0000"/>
<path d="M437.6,298.5L441.5,297.3" class="cl"/>
<path d="M485.6,345.9l1.6,0.1-4.6-1.9 0.5,0.5z" fill="#00a5ff"/>
<path d="M477.5,342.5l4.6,2.5 4.4,0.9-4.1-1.9z" fill="#00ccff"/>
<path d="M427.2,288.4l2,3.5 5.4-0.7-2.5-4zM425.2,284.9l2.3,4.1 4.9-1.3-1.8-2.8-4.9-0.2z" fill="#fe0000"/>
<path d="M425.7,285.1L426,285.1" class="cl"/>
<path d="M478.3,342.5l0.8,0.7-2.3-1.1z" fill="#00ccff"/>
<path d="M474.9,340.6l4,2.5-1.4-0.4-3.2-1.5-2.8-2.4z" fill="#00e9d8"/>
<path d="M469.6,337.4l4.7,2.9-0.3,0.2-1.9-0.9z" fill="#00fc8b"/>
<path d="M373.3,298l0.4,1.6 1.6-1.8z" fill="#ff2200"/>
<path d="M372.4,294.7l1,3.9 1.4-0.2 3.8-4.4z" fill="#ff1100"/>
<path d="M371.6,291.4l1,3.9 5.4-0.6 1.2-1.4-0.7-2.7z" fill="#ff0000"/>
<path d="M370.8,288.1l1,3.9 6.9-0.8-1-3.9zM370.4,286.7l0.5,1.9 6.9-0.7-1-3.9-4.1,0.4z" fill="#fe0000"/>
<path d="M376.9,284.6l-0.9-3.6-4,4.1z" fill="#fd0000"/>
<path d="M373.8,298.6L374.2,298.6M376.6,284.4L372.7,284.8" class="cl"/>
<path d="M418.2,285.3l2.5,3.7 5.7-4.2z" fill="#fe0000"/>
<path d="M416.7,283.2l1.9,2.7 7.6-0.6-3.4-4.3-2.6,0.2zM423.3,281.5l-1.2-1.4-2.6,1.6z" fill="#fd0000"/>
<path d="M418.8,285.6L425.5,285.2" class="cl"/>
<path d="M468.9,337.5l2.1,0.9-2.5-2.6z" fill="#00fc8b"/>
<path d="M465.4,335.3l0.4,0.6 3.9,2-0.5-1.5-2.5-2.4-1.9-1.4z" fill="#00ff3c"/>
<path d="M462.1,331.4l3.9,4.6-0.5-2.9-3.6-2.6z" fill="#04ff00"/>
<path d="M461.6,330.5l1.1,1.5-0.1-1z" fill="#17ff00"/>
<path d="M467,336.2L466.4,334.1" class="cl"/>
<path d="M397.1,292.7l1.3-1.5 1.9-0.8z" fill="#ff0000"/>
<path d="M397.9,291.9l3.1-3.2 3.5-1.8-1.6,1.9-3.1,2.3zM400.5,289.4l3-3 0.4-0.4 3.1-1.7-3,3.3z" fill="#fe0000"/>
<path d="M403.4,286.7l5.9-4.7-2.7,3.1z" fill="#fd0000"/>
<path d="M404,286.3L406.3,284.9" class="cl"/>
<path d="M365.2,292.1l0.3,1.2 1.2-1.4z" fill="#ff0000"/>
<path d="M364.3,288.7l1,4 0.8-0.1 3.9-4.5zM363.4,285.4l1.1,3.9 4.9-0.5 1.7-1.9-0.6-2.2z" fill="#fe0000"/>
<path d="M362.6,282.1l1,3.9 7.1-0.7-1-3.9zM362.2,280.5l0.5,2.2 7.1-0.8-1-3.9-4.9,0.5z" fill="#fd0000"/>
<path d="M369,278.6l-1-3.9-0.9,0.1-3.8,4.4zM368.2,275.3l-0.4-1.3-1.3,1.5z" fill="#fc0000"/>
<path d="M363.8,285.7L370.3,285.1" class="cl"/>
<path d="M410.3,285.6l1.9,2.8 3.2-3z" fill="#fe0000"/>
<path d="M408.2,282.5l2.5,3.7 4.1-0.2 2.8-2.7-1.4-1.8-7.1,0.3zM416.6,282.1l-3-3.9-5.2,4.2z" fill="#fd0000"/>
<path d="M410.9,285.9L414.5,285.8" class="cl"/>
<path d="M457.3,329.3l0.3,0.8 5.2,1.5-2.2-4.3z" fill="#17ff00"/>
<path d="M455.6,325.8l2,4.1 3.3-2.1-2.1-4z" fill="#29ff00"/>
<path d="M453.8,322.3l2,4 3.3-2-0.3-0.6-4.5-1.7z" fill="#60ff00"/>
<path d="M453.6,321.7l0.5,1.1 0.9-0.5z" fill="#aeff00"/>
<path d="M454.7,323.4L455.7,322.9" class="cl"/>
<path d="M448.9,320.6l5.8,2.2-1.6-4.2z" fill="#aeff00"/>
<path d="M448.1,317l1.4,4 3.8-1.8-1.5-4z" fill="#ebff00"/>
<path d="M446.8,313.6l1.5,4 3.7-1.8-1.2-3.2-1-0.4z" fill="#ffe300"/>
<path d="M445.5,310l1.5,4.2 3.5-1.7z" fill="#ffb800"/>
<path d="M446.2,311.1L446.5,310.9" class="cl"/>
<path d="M356.6,286l0.6,2.4 1.9-2.6z" fill="#fe0000"/>
<path d="M355.8,282.7l1,3.9 1.8-0.2 3.1-4.3zM355,279.3l1,3.9 5.3-0.4 1.5-2.2-0.5-1.9z" fill="#fd0000"/>
<path d="M354.2,276l1,3.9 7.3-0.6-1-4zM353.9,274.5l0.5,2.1 7.2-0.7-1-3.9-5,0.4z" fill="#fc0000"/>
<path d="M360.8,272.6l-1-3.9-1.1,0.1-3.6,4.3z" fill="#fb0000"/>
<path d="M359.9,269.2l-0.4-1.5-1.4,1.7z" fill="#ee0000"/>
<path d="M357,286.3L358.4,286.2M360.3,272.1L356,272.5" class="cl"/>
<path d="M444.3,310.7l2.1,0.3-0.3-1z" fill="#ffb800"/>
<path d="M440.3,308.1l0.9,2.6 4,0.2 1.1-0.3-1.2-3.9z" fill="#ff9100"/>
<path d="M439.3,304.7l1.2,3.9 4.8-1.4-1.3-3.9z" fill="#ff6c00"/>
<path d="M438.2,301.3l1.2,4 4.8-1.4-1.3-3.9z" fill="#ff4700"/>
<path d="M437.3,298.6l1.1,3.3 4.7-1.3-0.5-1.7z" fill="#ff2200"/>
<path d="M489.7,347.1l1.5-0.1-4.8-1.5-1.5-0.1z" fill="#00a5ff"/>
<path d="M481.4,344.5l4.7,2.2 4.5,0.2-4.8-1.6z" fill="#00ccff"/>
<path d="M375.8,307.9l1,3.9 3.5-4.4z" fill="#ff9100"/>
<path d="M375,304.6l1,3.9 3.8-0.4 2.5-3.3-0.3-1z" fill="#ff6c00"/>
<path d="M374.1,301.3l1,3.9 7.1-0.8-1-3.9z" fill="#ff4700"/>
<path d="M373.5,298.9l0.8,3 7-0.8-1-3.9-5.8,0.7z" fill="#ff2200"/>
<path d="M380.4,297.8l-1-3.9-1.6,0.2-3.9,4.4z" fill="#ff1100"/>
<path d="M379.6,294.5l-0.5-1.9-1.9,2.2z" fill="#ff0000"/>
<path d="M380.2,297.9L374.2,298.6" class="cl"/>
<path d="M381.3,305.3l1.4-0.8 0.6-1.1z" fill="#ff6c00"/>
<path d="M381.9,305l3.7-2.8 1.6-2.8-4.7,4.4z" fill="#ff4700"/>
<path d="M384.8,302.7l3.1-2.3 1-0.9 1.7-2.4-3.8,2.4-0.4,0.4z" fill="#ff2200"/>
<path d="M388.1,299.9l5.3-4.6-3.7,2.2z" fill="#ff1100"/>
<path d="M388.1,299.8L389.6,298" class="cl"/>
<path d="M432.3,299l0.5,1.1 5.4-1-0.6-1.3z" fill="#ff2200"/>
<path d="M430.8,295.5l1.8,4.1 5.2-1.3-1.8-4z" fill="#ff1100"/>
<path d="M429.2,292l1.8,4.1 5.2-1.2-1.8-4.1z" fill="#ff0000"/>
<path d="M428.9,291.4l0.5,1.2 5.2-1.2-0.3-0.8z" fill="#fe0000"/>
<path d="M432.9,299.6L437.6,298.5" class="cl"/>
<path d="M480.8,344.5l2.2,0.6-4.5-2.5-1.1-0.3z" fill="#00ccff"/>
<path d="M475.3,341.7l2.6,1.8 3.8,1.1-3.4-2.1-4.3-2.1z" fill="#00e9d8"/>
<path d="M473.4,340.1l2.8,1.9-1.3-1.4z" fill="#00fc8b"/>
<path d="M422.5,292.6l1.9,3.6 4.9-4.2z" fill="#ff0000"/>
<path d="M420.7,289l2.1,4.1 5.8-0.5 1.1-0.9-1.9-3.4zM420.4,288.5l0.6,1.1 7.2-0.7-2.4-4.3z" fill="#fe0000"/>
<path d="M425.7,285.1L425.5,285.2" class="cl"/>
<path d="M470.3,339.5l4.6,1.5-4.4-3.3-2-1z" fill="#00fc8b"/>
<path d="M465.3,335.2l4.4,4.1 1.4,0.5-1.7-2.7z" fill="#00ff3c"/>
<path d="M467.4,336.9L467,336.2" class="cl"/>
<path d="M367.7,302.1l0.9,3.4 3.4-3.9z" fill="#ff4700"/>
<path d="M366.9,298.7l1,4 3.5-0.5 2.8-3.1-0.3-1.2z" fill="#ff2200"/>
<path d="M366,295.4l1,3.9 7-0.8-0.9-3.9z" fill="#ff1100"/>
<path d="M365.3,292.6l0.9,3.4 7-0.8-1-3.9-6.4,0.7z" fill="#ff0000"/>
<path d="M372.4,291.9l-1-3.9-2.3,0.2-3.8,4.5zM371.5,288.6l-0.6-2.4-2.4,2.7z" fill="#fe0000"/>
<path d="M367.3,299.4L373.8,298.6" class="cl"/>
<path d="M415,293l0.9,1.4 1.4-1.5z" fill="#ff0000"/>
<path d="M412.7,289.3l2.6,4.2 1.4,0 4.2-4.5zM411.9,287.9l1.2,2 7.2-0.3 0.9-0.9-2.3-3.5-4.4,0.2z" fill="#fe0000"/>
<path d="M419.3,285.8l-2.1-2.9-3.3,3.1z" fill="#fd0000"/>
<path d="M418.8,285.6L414.5,285.8" class="cl"/>
<path d="M464.7,335.7l2.1,0.4-1.1-1.3z" fill="#00ff3c"/>
<path d="M460.1,333.3l1.4,1.8 3.9,0.7 0.7-0.6-3.7-4.4z" fill="#04ff00"/>
<path d="M457.2,329.3l3.3,4.4 2.3-2.4-0.4-0.5z" fill="#17ff00"/>
<path d="M392.1,296.3l0.9-1.1 1.4-0.5z" fill="#ff1100"/>
<path d="M392.5,295.9l3.3-3.1 3.5-1.9-1.4,1.5-4.1,3z" fill="#ff0000"/>
<path d="M395.3,293.5l3.2-3.1 0.3-0.2 3.1-1.8-3.1,3.2zM398.3,290.9l6-4.9-2.9,3.1z" fill="#fe0000"/>
<path d="M359.9,299.3l0.5,2.2 1.4-2.3z" fill="#ff2200"/>
<path d="M359.1,296l0.9,3.9 1.4-0.1 2.8-4.2z" fill="#ff1100"/>
<path d="M358.2,292.7l1,3.9 4.5-0.4 2.2-3.4-0.1-0.8z" fill="#ff0000"/>
<path d="M357.4,289.3l1,4 7.5-0.7-1-3.9zM357,287.6l0.6,2.3 7.5-0.6-1.1-4-5.7,0.5z" fill="#fe0000"/>
<path d="M364.2,285.9l-1-3.9-2.2,0.2-3.2,4.3zM363.3,282.6l-0.7-2.7-2.1,2.9z" fill="#fd0000"/>
<path d="M360.3,300L361,299.9M363.8,285.7L358.4,286.2" class="cl"/>
<path d="M405.2,289.7l2,3.2 3.9-3.5zM403.3,286.5l2.3,3.8 4.9-0.3 2.2-2-1.7-2.5-7,0.4z" fill="#fe0000"/>
<path d="M411.4,286.1l-2.7-4-5.4,4.5z" fill="#fd0000"/>
<path d="M410.9,285.9L404,286.3" class="cl"/>
<path d="M456.6,329.7l1.8,0.6-0.6-1.3z" fill="#17ff00"/>
<path d="M452.6,327.5l0.6,1.2 4.2,1.3 0.7-0.4-2-4.1z" fill="#29ff00"/>
<path d="M451,324l1.9,4.1 3.4-2.1-2-4z" fill="#60ff00"/>
<path d="M449.1,320l2.1,4.5 3.4-2-0.2-0.4z" fill="#aeff00"/>
<path d="M451.8,325.1L454.7,323.4" class="cl"/>
<path d="M443.9,318.3l1,2.6 5.2,0-1.5-4.1z" fill="#ebff00"/>
<path d="M442.7,314.9l1.4,4 4.7-1.5-1.4-4z" fill="#ffe300"/>
<path d="M441.4,311.5l1.5,4 4.7-1.5-1.4-3.6-1.1-0.1z" fill="#ffb800"/>
<path d="M441,310.1l0.7,1.9 4.3-1.5z" fill="#ff9100"/>
<path d="M442.1,312.4L446.2,311.1" class="cl"/>
<path d="M494,348.2l1.2-0.2-4.8-1.5-1.5,0.1z" fill="#00a5ff"/>
<path d="M485.4,346.2l4.8,2.1 4.7-0.3-5.1-1.5z" fill="#00ccff"/>
<path d="M351.1,293.2l1,3.8 2.4-4z" fill="#ff0000"/>
<path d="M350.2,289.9l1,3.9 2.9-0.2 2.6-4.2zM349.3,286.5l1.1,4 5.9-0.5 1.4-2.3-0.5-1.8z" fill="#fe0000"/>
<path d="M348.7,284.3l0.8,2.8 7.9-0.6-1-3.9-7,0.5zM356.6,283.2l-1-3.9-4.4,0.2-2.2,4.2z" fill="#fd0000"/>
<path d="M355.8,279.9l-1-4-1.7,0.1-2.2,4.2zM355,276.5l-0.7-2.8-1.6,3z" fill="#fc0000"/>
<path d="M349.7,286.8L357,286.3" class="cl"/>
<path d="M435.7,309.2l0.8,2.4 5.3-0.9-0.9-2.8z" fill="#ff9100"/>
<path d="M434.6,305.8l1.3,4 5.2-1.3-1.3-4z" fill="#ff6c00"/>
<path d="M433.6,302.4l1.2,4 5.2-1.3-1.2-3.9z" fill="#ff4700"/>
<path d="M432.6,299.6l1.1,3.4 5.3-1.2-1-3.2z" fill="#ff2200"/>
<path d="M483.5,346.2l3.5,0.4-4.7-2.1-2.2-0.6z" fill="#00ccff"/>
<path d="M477.3,342.8l4.6,3 2.5,0.4-3.4-2.2z" fill="#00e9d8"/>
<path d="M371.1,315.4l0.6,2.2 2.2-2.5z" fill="#ffe300"/>
<path d="M370.3,312.1l1,3.9 2-0.3 4.1-4.5z" fill="#ffb800"/>
<path d="M369.4,308.8l1,3.9 6.4-0.8 0.5-0.6-0.9-3.4z" fill="#ff9100"/>
<path d="M368.6,305.4l1,3.9 7-0.8-1-3.9z" fill="#ff6c00"/>
<path d="M368.4,304.7l0.3,1.3 7-0.9-1-3.9-3.6,0.5z" fill="#ff4700"/>
<path d="M374.9,301.8l-0.9-3.4-3.5,4z" fill="#ff2200"/>
<path d="M370.8,313L375.9,312.4" class="cl"/>
<path d="M376.4,311.8l2.8-2.6 0.9-2.1z" fill="#ff9100"/>
<path d="M378.5,309.7l3-3 1.6-3-1.3,0.8-2.5,3.1z" fill="#ff6c00"/>
<path d="M380.8,307.2l2-1.8 1.8-1.8 1.4-2.2-3.7,2.7z" fill="#ff4700"/>
<path d="M383.9,304l4.4-4.4-3.1,2.2z" fill="#ff2200"/>
<path d="M427.6,303.2l0.5,1.1 1.4-1.3z" fill="#ff4700"/>
<path d="M426,299.7l1.8,4.1 1.1-0.1 4.5-3.8-0.5-1z" fill="#ff2200"/>
<path d="M424.4,296.1l1.8,4.1 7-0.7-1.8-4.1z" fill="#ff1100"/>
<path d="M424.1,295.6l0.5,1.1 7-0.7-1.8-4.1-1.5,0.1z" fill="#ff0000"/>
<path d="M430.1,292.5l-0.7-1.4-1.7,1.6z" fill="#fe0000"/>
<path d="M426.6,300.3L432.9,299.6" class="cl"/>
<path d="M475.9,343.1l2.9,0.4-3.9-2.7z" fill="#00e9d8"/>
<path d="M470.3,339.8l3.3,2.9 3,0.5-0.9-1.9-1.4-1-4.3-1.5z" fill="#00fc8b"/>
<path d="M469.1,338.6l1.9,1.8-0.3-1.4z" fill="#00ff3c"/>
<path d="M418.6,300.1l0.9,1.9 1.7-2z" fill="#ff2200"/>
<path d="M416.9,296.6l2,4.1 1.8-0.1 3.9-4.5z" fill="#ff1100"/>
<path d="M415.6,293.9l1.6,3.2 6.8-0.4 0.9-0.9-1.7-3.3-6.8,0.4z" fill="#ff0000"/>
<path d="M423.5,293.1l-2.2-4.2-1.2,0.1-4.3,4.5zM421.6,289.5l-0.7-1.4-1.4,1.5z" fill="#fe0000"/>
<path d="M419.3,300.8L420.2,300.8" class="cl"/>
<path d="M463.8,337.4l1.5,1.6 5.4,0.4-4.5-4-1-0.2z" fill="#00ff3c"/>
<path d="M460.9,334.4l3.4,3.5 1.5-2.6z" fill="#04ff00"/>
<path d="M466.1,338.7L467.4,336.9" class="cl"/>
<path d="M363.1,312.7l0.4,1.8 1.2-2z" fill="#ffb800"/>
<path d="M362.3,309.3l0.9,4 1.1-0.1 2.4-4.2z" fill="#ff9100"/>
<path d="M361.5,306l0.9,3.9 4-0.3 2.4-4.2z" fill="#ff6c00"/>
<path d="M360.7,302.7l0.9,3.9 6.8-0.6 0.7-1.1-0.8-2.9z" fill="#ff4700"/>
<path d="M360.2,300.6l0.6,2.7 7.7-0.7-1-3.9-6.4,0.5z" fill="#ff2200"/>
<path d="M367.6,299.3l-1-4-3.2,0.3-2.7,4.3z" fill="#ff1100"/>
<path d="M366.8,295.9l-1.1-3.9-2.7,4.3z" fill="#ff0000"/>
<path d="M363.6,313.6L363.7,313.6M367.3,299.4L361,299.9" class="cl"/>
<path d="M409.6,297.1l1.3,2.2 2.5-2.4z" fill="#ff1100"/>
<path d="M407.5,293.4l2.4,4.2 2.8-0.1 3.6-3.6-0.6-1z" fill="#ff0000"/>
<path d="M406.9,292.4l0.9,1.6 8.2-0.5-2.6-4.3-3.2,0.2zM413.8,289.8l-1.5-2.3-2.8,2.5z" fill="#fe0000"/>
<path d="M458.7,334.5l3.7,0.8-1.9-2.5z" fill="#04ff00"/>
<path d="M455,331.3l2,2.8 2.4,0.5 1.5-1.3-2.9-3.7-0.7-0.3z" fill="#17ff00"/>
<path d="M452.7,327.9l2.7,3.9 2.5-2.3z" fill="#29ff00"/>
<path d="M387.1,300.7l0.9-1.3 1.4-0.6z" fill="#ff2200"/>
<path d="M387.5,300.2l3-3.3 3.3-2-0.9,1.1-4,3.5z" fill="#ff1100"/>
<path d="M390,297.7l3-3.3 3.7-1.9-3.4,3.2z" fill="#ff0000"/>
<path d="M392.5,295.1l0.8-1.1 6-3.8-3.2,3.1z" fill="#fe0000"/>
<path d="M387.9,299.9L388.1,299.8" class="cl"/>
<path d="M354.6,306.7l0.6,2.1 1.6-2.3z" fill="#ff6c00"/>
<path d="M353.7,303.4l1.1,3.9 1.5-0.1 3.1-4.4z" fill="#ff4700"/>
<path d="M352.9,300l1,3.9 5-0.4 1.9-2.7-0.3-1.5z" fill="#ff2200"/>
<path d="M352,296.6l1,4 7.6-0.7-0.9-3.9z" fill="#ff1100"/>
<path d="M351.9,296.2l0.2,1 7.7-0.7-0.9-3.9-5.1,0.4z" fill="#ff0000"/>
<path d="M359,293.2l-1-3.9-2.1,0.2-2.5,4.2zM358.2,289.9l-0.7-3-2,3.2z" fill="#fe0000"/>
<path d="M353.3,300.6L360.3,300" class="cl"/>
<path d="M400.2,293.9l2,3.3 4.3-3.7z" fill="#ff0000"/>
<path d="M398.3,290.6l2.3,3.9 5.2-0.4 1.9-1.6-1.8-2.8-7,0.4zM406.3,290.2l-2.6-4-5.5,4.5z" fill="#fe0000"/>
<path d="M449.6,328.7l4.3,0-0.7-1.4z" fill="#29ff00"/>
<path d="M446.9,325.4l1.7,3.6 1.9-0.1 2.9-1.1-1.9-4.1z" fill="#60ff00"/>
<path d="M445.3,321.8l1.9,4.1 4.6-1.6-2-4.1z" fill="#aeff00"/>
<path d="M444.6,320.3l0.9,2.1 5-2z" fill="#ebff00"/>
<path d="M447.8,326.6L451.8,325.1" class="cl"/>
<path d="M496.6,348.3l-2.2-0.7-1.3,0.2z" fill="#00a5ff"/>
<path d="M489.4,347.9l4.9,1.6 5-0.8-3.5-0.8-1.8-0.3z" fill="#00ccff"/>
<path d="M439.4,319.6l0.8,2.2 5.3-0.9-1-2.8z" fill="#ebff00"/>
<path d="M438.2,316.1l1.4,4.1 5.1-1.5-1.4-4z" fill="#ffe300"/>
<path d="M436.9,312.7l1.5,4 5.1-1.4-1.5-4z" fill="#ffb800"/>
<path d="M436.3,311l0.8,2.2 5.1-1.3-0.6-1.8z" fill="#ff9100"/>
<path d="M437.5,313.6L442.1,312.4" class="cl"/>
<path d="M484.9,347.6l1,0.5 5.2,0.1-4.8-2.1-3.5-0.6z" fill="#00ccff"/>
<path d="M481.2,345.3l4.6,2.5-2.1-2.2z" fill="#00e9d8"/>
<path d="M346.2,303.9l0.7,2.6 1.5-2.8z" fill="#ff4700"/>
<path d="M345.2,300.5l1.1,3.9 1.8-0.1 2.3-4.2z" fill="#ff2200"/>
<path d="M344.2,297l1.2,4 4.6-0.2 2.3-4.2z" fill="#ff1100"/>
<path d="M343.6,294.6l0.8,3 7.6-0.4 0.5-0.9-0.8-3.1-7.6,0.4z" fill="#ff0000"/>
<path d="M351.8,293.8l-1-4-5,0.3-2,4.1zM351,290.4l-1.1-3.9-2.3,0.1-2.1,4.1z" fill="#fe0000"/>
<path d="M350.1,287l-1-3.6-1.8,3.8z" fill="#fd0000"/>
<path d="M345.7,301.1L349.6,300.9M349.7,286.8L347.7,286.9" class="cl"/>
<path d="M431.1,313.6l0.6,1.8 2.9-2.3z" fill="#ffb800"/>
<path d="M430,310.1l1.3,4 2.6-0.4 3.1-2.4-0.7-2.2z" fill="#ff9100"/>
<path d="M428.8,306.7l1.4,4 6.3-1-1.3-4z" fill="#ff6c00"/>
<path d="M427.8,303.8l1.2,3.5 6.4-1-1.3-4-5.5,0.8z" fill="#ff4700"/>
<path d="M434.3,302.9l-1.1-3.6-5.2,4.4z" fill="#ff2200"/>
<path d="M431.8,314.5L432.6,314.4" class="cl"/>
<path d="M475.9,344.5l1.7,1.3 5.2,0-4.6-2.9-2.4-0.4z" fill="#00e9d8"/>
<path d="M473,342.1l3.5,2.9-0.1-2.4z" fill="#00fc8b"/>
<path d="M366.3,326l0.4,1.5 0.8-1.6z" fill="#60ff00"/>
<path d="M365.5,322.7l1,3.9 0.7-0.1 2.2-4.2z" fill="#aeff00"/>
<path d="M364.7,319.3l1,4 3.4-0.3 2.1-4.2z" fill="#ebff00"/>
<path d="M363.9,316l1,3.9 6-0.5 1.3-2.4-0.4-1.6z" fill="#ffe300"/>
<path d="M363.3,313.6l0.7,3 7.9-0.7-1-3.9-7,0.6z" fill="#ffb800"/>
<path d="M371,312.6l-1-3.9-4,0.3-2.4,4.2z" fill="#ff9100"/>
<path d="M370.2,309.3l-1-3.9-1.2,0-2.4,4.3z" fill="#ff6c00"/>
<path d="M369.3,305.9l-0.5-1.9-1.1,2.1z" fill="#ff4700"/>
<path d="M370.8,313L363.7,313.6" class="cl"/>
<path d="M371.3,317.6l1.1-1.8 1.4-1z" fill="#ffe300"/>
<path d="M372,316.6l2.4-3.3 2.8-2.4-3.8,4.8z" fill="#ffb800"/>
<path d="M374,314.1l2.4-3.3 3.2-2.4-2.4,3-0.4,0.4z" fill="#ff9100"/>
<path d="M376,311.6l1.2-1.8 2.7-2.6 2-1.2-2.7,3.2z" fill="#ff6c00"/>
<path d="M379.5,308l3.7-3.5-1.7,2.3z" fill="#ff4700"/>
<path d="M374.2,314L375.9,312.4" class="cl"/>
<path d="M422,307.3l1.2,2.7 2.6-3z" fill="#ff6c00"/>
<path d="M420.3,303.7l1.9,4.2 3.1-0.2 3.2-3.8-0.3-0.7z" fill="#ff4700"/>
<path d="M419.2,301.4l1.4,2.9 7.9-0.6-1.9-4.1-6.2,0.4z" fill="#ff2200"/>
<path d="M426.9,300.2l-1.9-4.1-1.3,0.1-3.8,4.5z" fill="#ff1100"/>
<path d="M425.3,296.7l-0.7-1.5-1.4,1.6z" fill="#ff0000"/>
<path d="M426.6,300.3L420.2,300.8" class="cl"/>
<path d="M468.1,341.7l1.1,1.2 5.3-0.2-4-3.5z" fill="#00fc8b"/>
<path d="M464.7,338.3l3.8,3.9 2.5-2.6-1-0.8z" fill="#00ff3c"/>
<path d="M465.8,339L466.1,338.7" class="cl"/>
<path d="M413.2,304.3l1.4,2.9 3-3.2z" fill="#ff4700"/>
<path d="M411.5,300.7l2,4.2 3.5-0.3 3-3.1-0.7-1.4z" fill="#ff2200"/>
<path d="M410.6,298.8l1.2,2.5 7.7-0.6-2-4.2-5,0.4z" fill="#ff1100"/>
<path d="M417.8,297.1l-1.8-3.7-4.2,4.2z" fill="#ff0000"/>
<path d="M412.2,301.4L419.3,300.8" class="cl"/>
<path d="M462.6,338.7l3.7,0.4-2.1-2.1z" fill="#00ff3c"/>
<path d="M458.1,335.3l2.8,3.2 2.4,0.3 1.3-1.4-2.8-2.9-2.6-0.5z" fill="#04ff00"/>
<path d="M456.4,333.4l2.1,2.4 1.4-1.7z" fill="#17ff00"/>
<path d="M357.3,316.9l1,3.7 3.6-4.3z" fill="#ffe300"/>
<path d="M356.4,313.5l1.1,3.9 3.8-0.4 2.7-3.2-0.3-1.2z" fill="#ffb800"/>
<path d="M355.5,310.1l1.1,4 7.2-0.9-0.9-3.9z" fill="#ff9100"/>
<path d="M355,308.1l0.7,2.6 7.3-0.8-0.9-3.9-6.1,0.6z" fill="#ff6c00"/>
<path d="M362.2,306.5l-0.9-3.9-2.7,0.3-3,4.3z" fill="#ff4700"/>
<path d="M361.4,303.2l-0.8-3.2-2.5,3.5z" fill="#ff2200"/>
<path d="M357,314.4L363.6,313.6" class="cl"/>
<path d="M404.5,301.3l1.4,2.4 3-2.7z" fill="#ff2200"/>
<path d="M402.4,297.6l2.4,4.3 3.4-0.3 3.1-2.7-1-1.9z" fill="#ff1100"/>
<path d="M401.9,296.7l0.8,1.5 7.9-0.6-2.5-4.3-2.5,0.2z" fill="#ff0000"/>
<path d="M408.5,293.9l-1.1-1.9-2.5,2.2z" fill="#fe0000"/>
<path d="M405.3,302L407.5,301.8" class="cl"/>
<path d="M451.2,332.8l1.3,1.9 5.2-0.6-2.1-3.1z" fill="#17ff00"/>
<path d="M448.7,329l2.9,4.3 4.3-1.8-2.4-3.4-3.2,0.2z" fill="#29ff00"/>
<path d="M448.3,328.4l0.7,1.1 2.2-1.1z" fill="#60ff00"/>
<path d="M493.4,349.1l5,1.9 5.1-1.2-5-1.4z" fill="#00ccff"/>
<path d="M382,305.8l1.3-2 1.8-1z" fill="#ff4700"/>
<path d="M382.8,304.6l2.5-3.4 3.6-2.1-1,1.3-3.3,3.2z" fill="#ff2200"/>
<path d="M384.8,302l2.5-3.5 4.1-1.9-3,3.3z" fill="#ff1100"/>
<path d="M386.8,299.3l1.4-1.9 4.2-2.7 1.5-0.6-3,3.3z" fill="#ff0000"/>
<path d="M391.8,295.3l2.4-1.6-0.8,1.2z" fill="#fe0000"/>
<path d="M385.2,301.7L387.9,299.9" class="cl"/>
<path d="M349.1,314.1l0.9,3.3 2.2-3.6z" fill="#ffb800"/>
<path d="M348.1,310.7l1.1,4 2.6-0.2 2.6-4.3z" fill="#ff9100"/>
<path d="M347.1,307.3l1.2,4 5.7-0.5 1.6-2.6-0.4-1.5z" fill="#ff6c00"/>
<path d="M346.7,305.6l0.6,2.3 8.1-0.6-1-4-6.7,0.5z" fill="#ff4700"/>
<path d="M354.5,303.9l-1-4-3.8,0.3-2.3,4.2z" fill="#ff2200"/>
<path d="M353.6,300.5l-1-3.9-1,0-2.3,4.2z" fill="#ff1100"/>
<path d="M352.7,297.2l-0.4-1.8-1,1.8z" fill="#ff0000"/>
<path d="M349.7,315L351.2,314.9M353.3,300.6L349.6,300.9" class="cl"/>
<path d="M395.5,298.3l1.6,2.7 4.1-3.2z" fill="#ff1100"/>
<path d="M393.3,294.5l2.5,4.3 4.7-0.4 2.2-1.6-1.8-2.9z" fill="#ff0000"/>
<path d="M393.1,294.2l0.6,0.9 7.5-0.7-2.5-4.1z" fill="#fe0000"/>
<path d="M442.5,326.7l1.5,3 5.2-0.8-1.7-3.7z" fill="#60ff00"/>
<path d="M440.9,323.1l1.9,4.2 5-1.6-1.9-4.1z" fill="#aeff00"/>
<path d="M440,321.2l1.1,2.5 5-1.5-0.8-1.9z" fill="#ebff00"/>
<path d="M443.5,327.9L447.8,326.6" class="cl"/>
<path d="M485.2,347.7l4.8,2.3 5.2-0.7-4.9-1.6z" fill="#00ccff"/>
<path d="M435,324l0.5,1.4 2.2-1.7z" fill="#aeff00"/>
<path d="M433.7,320.5l1.5,4.1 1.8-0.3 3.8-2.8-0.8-2.1z" fill="#ebff00"/>
<path d="M432.4,317l1.5,4.1 6.3-1.1-1.5-4z" fill="#ffe300"/>
<path d="M431.5,314.8l1.1,2.8 6.4-1-1.5-4.1-3.8,0.6z" fill="#ffb800"/>
<path d="M437.7,313.1l-0.9-2.4-3.8,3.1z" fill="#ff9100"/>
<path d="M437.5,313.6L432.6,314.4" class="cl"/>
<path d="M483.9,348.5l2.9-0.5-1.8-1.1z" fill="#00ccff"/>
<path d="M476.9,345.3l4.7,3.6 3.1-0.5 0.8-1.2-3.4-1.9z" fill="#00e9d8"/>
<path d="M340.8,314.4l1,3.1 1.5-3.2z" fill="#ffb800"/>
<path d="M339.6,310.9l1.4,4.1 2-0.1 1.9-4.1z" fill="#ff9100"/>
<path d="M338.4,307.5l1.4,4 4.8-0.1 2-4.1z" fill="#ff6c00"/>
<path d="M338.5,307.6l0.1,0.4 7.7-0.1 1-2.2-0.5-1.9-6.9,0.2z" fill="#ff4700"/>
<path d="M347,304.4l-1.2-4-4.5,0.1-1.6,4.1z" fill="#ff2200"/>
<path d="M346,301l-1.1-4-2.3,0.1-1.6,4z" fill="#ff1100"/>
<path d="M345,297.6l-1.1-3.8-1.5,3.9z" fill="#ff0000"/>
<path d="M341.4,315.4L342.5,315.4M345.7,301.1L341.3,301.2" class="cl"/>
<path d="M425.9,317.8l1,2.8 3.1-3.3z" fill="#ffe300"/>
<path d="M424.7,314.3l1.4,4.1 3.3-0.4 2.8-3-0.5-1.5z" fill="#ffb800"/>
<path d="M423.5,310.9l1.4,4 7-0.8-1.3-4.1z" fill="#ff9100"/>
<path d="M423,309.4l0.7,2 7.1-0.8-1.4-4-4.4,0.5z" fill="#ff6c00"/>
<path d="M429.6,307.2l-1.3-3.9-3.9,4.5z" fill="#ff4700"/>
<path d="M425.4,315.3L431.8,314.5" class="cl"/>
<path d="M472.8,346.4l5.6-0.7-2.2-1.7z" fill="#00e9d8"/>
<path d="M468.6,342.3l4.6,4.2 0.6-0.1 2.9-2-2.8-2.3z" fill="#00fc8b"/>
<path d="M360.9,330.3l0.5,2.2 2.5-2.6z" fill="#29ff00"/>
<path d="M360,327l1,3.9 2.3-0.3 3.8-3.8-0.2-0.9z" fill="#60ff00"/>
<path d="M359.1,323.6l1,4 7-1.1-1-3.9z" fill="#aeff00"/>
<path d="M358.2,320.2l1,4 7.1-1-1-3.9z" fill="#ebff00"/>
<path d="M358.1,319.9l0.2,0.9 7.2-0.9-1-4-3.5,0.5z" fill="#ffe300"/>
<path d="M364.6,316.5l-0.8-3.5-3.3,4.1z" fill="#ffb800"/>
<path d="M360.6,328.2L366.1,327.4" class="cl"/>
<path d="M366.4,327.4l0.9-0.9 0-1.1z" fill="#60ff00"/>
<path d="M366.7,327.2l2.3-3.3 0.2-2-2.4,4.2z" fill="#aeff00"/>
<path d="M368.4,324.6l2.3-3.2 0.3-3.1-2.4,4.3z" fill="#ebff00"/>
<path d="M370.1,322.1l2.3-3.3 0.6-3.6-1.4,1.6-1.2,2.2z" fill="#ffe300"/>
<path d="M371.8,319.5l0.7-0.9 2.1-3.4 0.4-2.5-2.7,3.2z" fill="#ffb800"/>
<path d="M374,315.9l2.8-4.4 0.2-1.3-2.7,3.2z" fill="#ff9100"/>
<path d="M376.3,312.2l1.6-2.9-1.5,1.5z" fill="#ff6c00"/>
<path d="M373.9,315.8L374.2,314" class="cl"/>
<path d="M416.6,311.5l1.7,3.6 3.9-4.1z" fill="#ff9100"/>
<path d="M414.9,307.9l2,4.2 4.6-0.4 2.2-2.2-1.1-2.2z" fill="#ff6c00"/>
<path d="M414.3,306.6l0.9,1.9 7.7-0.7-1.9-4.1-4.3,0.3z" fill="#ff4700"/>
<path d="M421.2,304.3l-1.5-3.4-3.6,3.8z" fill="#ff2200"/>
<path d="M466.7,342.9l3.4-0.1-1.5-1.5z" fill="#00fc8b"/>
<path d="M461.7,339.5l3.1,3.4 2.8,0 1.4-1.1-3.4-3.4-2.5-0.2z" fill="#00ff3c"/>
<path d="M460.3,337.9l1.8,2 1.8-1.7z" fill="#04ff00"/>
<path d="M463.5,341.1L465.8,339" class="cl"/>
<path d="M408.2,308.6l1.3,2.8 3.8-3.3z" fill="#ff6c00"/>
<path d="M406.5,305l2,4.2 4.1-0.4 2.4-2.1-1.2-2.5z" fill="#ff4700"/>
<path d="M405.6,303.1l1.1,2.5 7.4-0.8-2-4.1-4.2,0.4z" fill="#ff2200"/>
<path d="M412.4,301.2l-1.3-2.8-3.8,3.3z" fill="#ff1100"/>
<path d="M412.2,301.4L407.5,301.8" class="cl"/>
<path d="M454.2,336.8l2.1,2.6 5.3-0.9-3.1-3.5z" fill="#04ff00"/>
<path d="M452,334.1l2.6,3.2 4.3-1.9-1.6-1.8z" fill="#17ff00"/>
<path d="M502.3,353.1l5.3-1.5-2.2-1z" fill="#00a5ff"/>
<path d="M497.6,350.6l4.9,2.6 0.7-0.2 2.8-2.1-3.4-1.4z" fill="#00ccff"/>
<path d="M352,324.3l1.1,4 3-4.4z" fill="#aeff00"/>
<path d="M351,320.9l1.1,4 3.6-0.3 3-4.4z" fill="#ebff00"/>
<path d="M350,317.5l1.2,4 7-0.7 0.6-0.8-0.9-3.2z" fill="#ffe300"/>
<path d="M349.8,316.6l0.4,1.5 7.9-0.7-1.1-4-5.6,0.5z" fill="#ffb800"/>
<path d="M357.2,314l-1.1-4-2.4,0.3-2.7,4.2z" fill="#ff9100"/>
<path d="M356.3,310.6l-0.9-3.2-2.1,3.5z" fill="#ff6c00"/>
<path d="M357,314.4L351.2,314.9" class="cl"/>
<path d="M399.7,305.7l1,1.9 2.7-2.2z" fill="#ff4700"/>
<path d="M397.6,302l2.4,4.3 2.7-0.3 3.6-2.7-1.1-2z" fill="#ff2200"/>
<path d="M396.8,300.4l1.2,2.2 7.5-0.8-2.4-4.2-2.8,0.2z" fill="#ff1100"/>
<path d="M403.4,298.1l-1-1.8-2.8,2.1z" fill="#ff0000"/>
<path d="M398.4,302.7L405.3,302" class="cl"/>
<path d="M447,334.3l0.8,1.2 5.3-0.9-1.3-2z" fill="#17ff00"/>
<path d="M444.5,330.4l2.9,4.4 4.7-1.7-2.9-4.3z" fill="#29ff00"/>
<path d="M443.6,329.2l1.2,1.7 4.8-1.6-0.6-1z" fill="#60ff00"/>
<path d="M489.2,349.5l4.9,2.5 5.2-1.3-5-1.8z" fill="#00ccff"/>
<path d="M376.9,310.7l1.4-2.6 2.5-1.2z" fill="#ff6c00"/>
<path d="M377.9,309l2.2-3.5 4-2-1.3,1.9-2.5,2.3z" fill="#ff4700"/>
<path d="M379.6,306.3l2.3-3.5 4.2-1.9-2.4,3.3z" fill="#ff2200"/>
<path d="M381.4,303.6l1.5-2.4 2.7-1.9 2.6-1.1-2.5,3.4z" fill="#ff1100"/>
<path d="M385,300l4-3-1.3,2z" fill="#ff0000"/>
<path d="M381.9,303.3L385.2,301.7" class="cl"/>
<path d="M344.3,324.9l0.5,1.6 1-1.7z" fill="#aeff00"/>
<path d="M343.1,321.4l1.3,4 1.1,0 2.4-4.3z" fill="#ebff00"/>
<path d="M341.9,317.9l1.4,4.1 4.2-0.2 2.5-4.3z" fill="#ffe300"/>
<path d="M341.5,316.7l0.6,1.8 7.5-0.4 0.8-1.4-0.7-2.7-7.1,0.4z" fill="#ffb800"/>
<path d="M349.9,314.6l-1.2-4-4.4,0.2-2,4.2z" fill="#ff9100"/>
<path d="M348.9,311.2l-1.1-4-1.9,0.1-1.9,4.1z" fill="#ff6c00"/>
<path d="M347.9,307.8l-0.8-3-1.5,3.1z" fill="#ff4700"/>
<path d="M349.7,315L342.5,315.4" class="cl"/>
<path d="M390.9,302.7l1,1.7 2.8-2z" fill="#ff2200"/>
<path d="M388.8,299l2.5,4.3 2.7-0.3 3.6-2.4-1.4-2.4z" fill="#ff1100"/>
<path d="M388,297.6l1.1,1.9 7.4-0.7-2.5-4.3-1.5,0.1z" fill="#ff0000"/>
<path d="M394.3,295l-0.7-1.1-1.8,1.3z" fill="#fe0000"/>
<path d="M391.7,303.4L393.1,303.2" class="cl"/>
<path d="M438.4,331.3l0.9,1.7 3.1-2.3z" fill="#29ff00"/>
<path d="M436.6,327.6l2.1,4.3 3.1-0.6 2.7-1.8-1.4-2.9z" fill="#60ff00"/>
<path d="M435.2,324.8l1.7,3.4 6.5-1.1-1.9-4.1-4.7,0.7z" fill="#aeff00"/>
<path d="M441.7,323.5l-1.2-2.5-4.4,3.3z" fill="#ebff00"/>
<path d="M437.6,328.9L443.5,327.9" class="cl"/>
<path d="M482.9,349.6l2.8,1.7 5.2-1.6-4.9-2.2-1.6,0.3z" fill="#00ccff"/>
<path d="M480.8,348.4l2.6,1.5 1.9-2.2z" fill="#00e9d8"/>
<path d="M429.9,328.4l0.7,1.8 2.2-2.2z" fill="#60ff00"/>
<path d="M428.6,324.9l1.6,4.1 2-0.3 3.8-3.7-0.4-1.1z" fill="#aeff00"/>
<path d="M427.2,321.3l1.6,4.1 7-0.9-1.5-4.1z" fill="#ebff00"/>
<path d="M426.7,319.9l0.7,2 7.1-0.9-1.5-4-3.9,0.4z" fill="#ffe300"/>
<path d="M433.2,317.5l-1.2-3.1-3.6,3.7z" fill="#ffb800"/>
<path d="M430.7,329.7L430.8,329.7" class="cl"/>
<path d="M472.9,346.2l4.3,3.8 5.2-1.3-4.6-3.5-4.3,0.6z" fill="#00e9d8"/>
<path d="M472.6,346l0.8,0.6 1.1-0.8z" fill="#00fc8b"/>
<path d="M334.8,324.8l1.9,4.6 1.9-4.5z" fill="#aeff00"/>
<path d="M333.3,321.2l1.7,4.2 3.4,0.1 1.7-4.1z" fill="#ebff00"/>
<path d="M333.4,321.4l0.2,0.4 6.3,0.2 1.8-4.1-7-0.1z" fill="#ffe300"/>
<path d="M341.4,318.5l0.8-1.8-0.8-2.3-5.4-0.1-1.5,4.1z" fill="#ffb800"/>
<path d="M341.6,315l-1.4-4.1-2.9,0-1.5,4z" fill="#ff9100"/>
<path d="M340.4,311.5l-1.3-4.1-0.6,0-1.5,4.1z" fill="#ff6c00"/>
<path d="M339.3,308l-0.5-1.3-0.5,1.3z" fill="#ff4700"/>
<path d="M341.4,315.4L336,315.3" class="cl"/>
<path d="M420.8,322.2l1.2,3.2 3.9-3.9z" fill="#ebff00"/>
<path d="M419.5,318.7l1.5,4 4.2-0.5 2.2-2.1-0.9-2.4z" fill="#ffe300"/>
<path d="M418.2,315.1l1.5,4.1 7-0.9-1.4-4z" fill="#ffb800"/>
<path d="M418,314.5l0.5,1.2 7-0.9-1.4-4-2.8,0.3z" fill="#ff9100"/>
<path d="M424.3,311.4l-0.9-2.5-2.8,2.9z" fill="#ff6c00"/>
<path d="M418.9,316.1L425.4,315.3" class="cl"/>
<path d="M465.5,343.7l3.2,3.3 5.3-0.6-4.5-4.1-2.1,0z" fill="#00fc8b"/>
<path d="M464.2,342.3l1.7,1.8 2.4-1.8z" fill="#00ff3c"/>
<path d="M355.8,338l0.4,1.3 1.2-1.5z" fill="#04ff00"/>
<path d="M354.9,334.6l1.1,4 0.8-0.1 3.6-4.6z" fill="#17ff00"/>
<path d="M353.9,331.1l1.1,4 4.9-0.5 2-2.6-0.4-1.7z" fill="#29ff00"/>
<path d="M352.9,327.7l1.2,4 7.5-0.9-1-3.9z" fill="#60ff00"/>
<path d="M352.9,327.5l0.2,0.8 7.6-0.8-1-4-4.4,0.5z" fill="#aeff00"/>
<path d="M359.8,324.1l-1-3.9-0.9,0-3,4.4z" fill="#ebff00"/>
<path d="M358.9,320.7l-0.3-1.4-1.1,1.6z" fill="#ffe300"/>
<path d="M353.6,329L360.6,328.2" class="cl"/>
<path d="M361,332.6l1.1-1.9 1.8-1z" fill="#29ff00"/>
<path d="M361.7,331.5l2.2-3.3 3.7-2.5-0.6,1.2-3.6,3.6z" fill="#60ff00"/>
<path d="M363.5,329.1l2.2-3.4 3.6-2.5-2.1,3.4z" fill="#aeff00"/>
<path d="M365.3,326.6l1.5-2.4 1.4-1.6 2.8-2-2.1,3.4z" fill="#ebff00"/>
<path d="M367.8,323.4l4-4.8 0.9-0.5-2.1,3.4z" fill="#ffe300"/>
<path d="M371.3,319.4l1.5-1.6-0.5,1.1z" fill="#ffb800"/>
<path d="M363.5,329.2L366.1,327.4" class="cl"/>
<path d="M411.7,315.9l1.5,3.3 4.7-3.9z" fill="#ffb800"/>
<path d="M409.9,312.3l2,4.2 5.3-0.6 1.5-1.3-1.5-3.1z" fill="#ff9100"/>
<path d="M409.3,310.9l0.9,2 7.3-0.9-2-4.1-3.1,0.3z" fill="#ff6c00"/>
<path d="M415.8,308.4l-1.1-2.2-3,2.6z" fill="#ff4700"/>
<path d="M412.5,316.9L416,316.5" class="cl"/>
<path d="M457.6,340.9l2.6,3.2 5.3-1.3-3.3-3.7z" fill="#00ff3c"/>
<path d="M455.9,338.9l2.1,2.5 4.6-1.8-1.5-1.7z" fill="#04ff00"/>
<path d="M459.4,342.6L463.5,341.1" class="cl"/>
<path d="M502,352.9l4.8,2.4 5-2-5-2.1-3.9,1.2z" fill="#00a5ff"/>
<path d="M501.8,352.8l0.9,0.4 1.1-0.8z" fill="#00ccff"/>
<path d="M403.4,313.1l1,2.2 3.4-2.7z" fill="#ff9100"/>
<path d="M401.6,309.4l2.1,4.3 3.4-0.4 2.9-2.3-1.2-2.4z" fill="#ff6c00"/>
<path d="M400.5,307l1.4,3 7.2-0.9-2-4.2-4.6,0.6z" fill="#ff4700"/>
<path d="M407.4,305.5l-1.4-2.8-4.2,3.4z" fill="#ff2200"/>
<path d="M450,338.3l1.7,2.1 5.3-1.1-2.2-2.7z" fill="#04ff00"/>
<path d="M447.4,334.9l3,3.9 4.8-1.7-2.5-3.1z" fill="#17ff00"/>
<path d="M493.4,351.5l4.9,3.2 5-1.8-4.8-2.5z" fill="#00ccff"/>
<path d="M346.6,331.9l1.2,3.7 3-4.1z" fill="#29ff00"/>
<path d="M345.4,328.4l1.4,4 3.5-0.3 3.2-4.4z" fill="#60ff00"/>
<path d="M344.6,325.8l1,3.1 7.5-0.6 0.4-0.6-0.9-3.4-7.5,0.5z" fill="#aeff00"/>
<path d="M352.8,324.9l-1.2-4-4.4,0.3-2.5,4.2z" fill="#ebff00"/>
<path d="M351.8,321.4l-1.2-4-1.4,0.1-2.4,4.3z" fill="#ffe300"/>
<path d="M350.8,318l-0.6-2.1-1.3,2.3z" fill="#ffb800"/>
<path d="M346.2,329.6L352.1,329.2" class="cl"/>
<path d="M393.1,306.5l2.5,4.5 5.6-3.8-0.8-1.5z" fill="#ff4700"/>
<path d="M391.6,303.9l1.8,3.2 7.3-0.9-2.4-4.3-4.5,0.5z" fill="#ff2200"/>
<path d="M398.6,302.5l-1.3-2.4-4.2,2.9z" fill="#ff1100"/>
<path d="M398.4,302.7L393.1,303.2" class="cl"/>
<path d="M440.8,335.2l2.3,3.3 5.3-3.3-0.8-1.1z" fill="#17ff00"/>
<path d="M439,332.5l2.2,3.2 6.8-1-2.9-4.5-3.6,0.6z" fill="#29ff00"/>
<path d="M445.4,330.8l-1.2-1.8-3.4,2.3z" fill="#60ff00"/>
<path d="M485,350.9l4.8,3 5.1-2.2-4.8-2.4z" fill="#00ccff"/>
<path d="M371.8,319.2l1.6-3.4 1.4-1.4z" fill="#ffb800"/>
<path d="M373.2,316.7l1.7-3.6 2.1-2.4-2.4,4.5z" fill="#ff9100"/>
<path d="M374.7,314l1.7-3.6 2.6-2.7-1.3,2.5-0.9,1.4z" fill="#ff6c00"/>
<path d="M376.2,311.3l1.4-3 0.7-1 2.5-2.3-2.1,3.5z" fill="#ff4700"/>
<path d="M378,308.2l3.2-4.7 1.4-1.2-2.1,3.6z" fill="#ff2200"/>
<path d="M380.9,304.3l2.7-3.6-1.3,2.5z" fill="#ff1100"/>
<path d="M373.3,316.5L373.9,315.8M381.1,304.1L381.9,303.3" class="cl"/>
<path d="M337.7,332l1.9,4.6 2.4-4.6z" fill="#29ff00"/>
<path d="M336.3,328.4l1.7,4.2 3.7,0 2.2-4.2z" fill="#60ff00"/>
<path d="M336.4,328.7l0.1,0.3 7.1,0 1.6-3.2-0.3-1-6.9,0.1z" fill="#aeff00"/>
<path d="M345.1,325.4l-1.4-4.1-4.2,0.1-1.8,4.1z" fill="#ebff00"/>
<path d="M343.9,321.9l-1.4-4-1.5,0-1.8,4.1z" fill="#ffe300"/>
<path d="M342.7,318.5l-0.8-2.6-1.2,2.6z" fill="#ffb800"/>
<path d="M337.1,329.8L342.8,329.8" class="cl"/>
<path d="M386.1,307.2l0.6,1.1 1.5-1.2z" fill="#ff4700"/>
<path d="M383.9,303.4l2.5,4.4 1.1-0.2 4.9-3.5-0.8-1.4z" fill="#ff2200"/>
<path d="M382.7,301.4l1.5,2.5 7.7-0.7-2.5-4.3-3.6,0.3z" fill="#ff1100"/>
<path d="M389.7,299.5l-1.2-2.3-3.4,2.6z" fill="#ff0000"/>
<path d="M384.6,304.1L391.7,303.4" class="cl"/>
<path d="M433.6,335.8l0.8,1.6 2.1-1.9z" fill="#17ff00"/>
<path d="M431.7,332.1l2.2,4.3 1.9-0.3 3.9-3.5-0.7-1.4z" fill="#29ff00"/>
<path d="M430.4,329.6l1.6,3 7.3-0.8-2.1-4.2-5.3,0.5z" fill="#60ff00"/>
<path d="M437.5,328.1l-1.8-3.7-4.4,4.4z" fill="#aeff00"/>
<path d="M437.6,328.9L430.8,329.7" class="cl"/>
<path d="M478.6,351l2.7,2 5.1-2-3-1.8z" fill="#00ccff"/>
<path d="M476.6,349.6l2.6,1.9 4.8-1.9-2.3-1.4z" fill="#00e9d8"/>
<path d="M424.8,332.8l0.9,2.3 2.7-2.7z" fill="#29ff00"/>
<path d="M423.5,329.3l1.6,4.1 2.7-0.4 3.3-3.2-0.6-1.5z" fill="#60ff00"/>
<path d="M422.1,325.7l1.6,4.1 7.1-0.9-1.6-4.1z" fill="#aeff00"/>
<path d="M421.7,324.8l0.6,1.5 7.1-0.9-1.6-4.2-2.8,0.4z" fill="#ebff00"/>
<path d="M428,321.8l-0.9-2.3-2.8,2.8z" fill="#ffe300"/>
<path d="M424.3,330.5L430.7,329.7" class="cl"/>
<path d="M469.7,348l3,3.1 5.2-1.2-4.5-4z" fill="#00e9d8"/>
<path d="M468.2,346.5l2,2 3.7-2.2-0.5-0.4z" fill="#00fc8b"/>
<path d="M415.9,326.7l1.1,2.9 4.3-3.7z" fill="#aeff00"/>
<path d="M414.6,323.1l1.5,4.1 4.5-0.7 1.8-1.5-1-2.9z" fill="#ebff00"/>
<path d="M413.3,319.6l1.5,4.1 6.8-1-1.5-4.1z" fill="#ffe300"/>
<path d="M413,318.7l0.5,1.5 6.8-1.1-1.4-4-1.9,0.2z" fill="#ffb800"/>
<path d="M419.1,315.6l-0.6-1.6-2.2,2z" fill="#ff9100"/>
<path d="M418.9,316.1L416,316.5" class="cl"/>
<path d="M461.2,345.1l3,3.4 5.2-1.6-3.3-3.5z" fill="#00fc8b"/>
<path d="M459.8,343.6l1.8,2 4.9-1.8-1.5-1.5z" fill="#00ff3c"/>
<path d="M506,355l5.1,2.2 4.9-2.4-5-1.8z" fill="#00a5ff"/>
<path d="M350.1,342.4l0.8,2.3 2.6-2.8z" fill="#00ff3c"/>
<path d="M348.9,338.9l1.4,4.1 2.6-0.4 3.8-3.9-0.3-0.8z" fill="#04ff00"/>
<path d="M347.8,335.4l1.3,4 7.5-0.9-1.1-4z" fill="#17ff00"/>
<path d="M347.6,334.9l0.4,1 7.6-0.8-1.1-4-4.5,0.5z" fill="#29ff00"/>
<path d="M354.7,331.7l-1.1-4-0.9,0.1-3.2,4.4z" fill="#60ff00"/>
<path d="M353.7,328.3l-0.4-1.4-1,1.5z" fill="#aeff00"/>
<path d="M350.9,344L351.2,343.9M353.6,329L352.1,329.2" class="cl"/>
<path d="M355.8,339.3l1.1-0.8 0.3-1.1z" fill="#04ff00"/>
<path d="M356.1,339.1l3-2.9 1.1-2.7-3.7,4.5z" fill="#17ff00"/>
<path d="M358.4,336.8l3-2.9 1.3-3.7-1.4,1.5-1.8,2.4z" fill="#29ff00"/>
<path d="M360.6,334.5l1.4-1.2 1.7-2.8 0.8-2.8-2.5,3.1z" fill="#60ff00"/>
<path d="M363,331.2l2.9-4.4 0.4-1.6-2.5,3.1z" fill="#aeff00"/>
<path d="M365.3,327.4l2.2-3.7-1.9,2.1z" fill="#ebff00"/>
<path d="M362.7,331.5L363.5,329.2" class="cl"/>
<path d="M406.9,320.5l1.3,2.5 4-3.1z" fill="#ffe300"/>
<path d="M405.2,316.8l2,4.3 4.3-0.6 2.2-1.7-1.4-2.9z" fill="#ffb800"/>
<path d="M404.2,314.7l1.2,2.7 7.2-1-2-4.2-3.8,0.5z" fill="#ff9100"/>
<path d="M410.8,312.8l-1.1-2.3-3.5,2.8z" fill="#ff6c00"/>
<path d="M406,317.8L412.5,316.9" class="cl"/>
<path d="M453.3,342.4l2.3,2.9 5.3-1.4-2.7-3.2z" fill="#00ff3c"/>
<path d="M451.3,339.9l2.4,3 4.9-1.7-2-2.5z" fill="#04ff00"/>
<path d="M455,344.2L459.4,342.6" class="cl"/>
<path d="M497.8,354.3l4.7,3 5-2.3-4.8-2.4z" fill="#00a5ff"/>
<path d="M497.6,354.2l0.8,0.5 5-1.8-0.8-0.4z" fill="#00ccff"/>
<path d="M397.1,314l2.1,4.3 0.3,0 5.4-3.4-0.9-1.9z" fill="#ff9100"/>
<path d="M395.2,310.3l2.2,4.3 6.9-1-2.1-4.3z" fill="#ff6c00"/>
<path d="M394.9,310.8l7.6-0.9-1.5-3.2z" fill="#ff4700"/>
<path d="M443.6,339.1l3.4,4.3 5.2-3.2-1.5-2.1z" fill="#04ff00"/>
<path d="M442.7,338.1l1.3,1.6 7.1-1-3.1-3.9z" fill="#17ff00"/>
<path d="M491.2,355.1l2.7,2.1 5.1-3z" fill="#00a5ff"/>
<path d="M489.3,353.5l2.6,2.1 6.3-0.9 0.7-0.4-4.7-3z" fill="#00ccff"/>
<path d="M340.7,339.3l1.9,4.5 3-4.7z" fill="#04ff00"/>
<path d="M339.2,335.7l1.8,4.2 4.2-0.2 2.8-4.4z" fill="#17ff00"/>
<path d="M339.3,335.9l0.2,0.4 8.1-0.3 0.7-1-1.1-3.2-5.9,0.2z" fill="#29ff00"/>
<path d="M347.4,332.4l-1.4-4.1-2.8,0.1-2.2,4.2z" fill="#60ff00"/>
<path d="M346.2,328.9l-1.3-3.9-2,4z" fill="#aeff00"/>
<path d="M346.2,329.6L342.8,329.8" class="cl"/>
<path d="M388.2,311l2.1,3.8 6.2-4.6z" fill="#ff6c00"/>
<path d="M386.4,307.7l2.1,3.9 7.7-0.8-2.5-4.4-6.4,0.7z" fill="#ff4700"/>
<path d="M394,307l-1.9-3.5-5.5,4.2z" fill="#ff2200"/>
<path d="M436.2,339.7l2.1,2.9 4-3.4z" fill="#04ff00"/>
<path d="M434.1,336.8l2.5,3.5 5-0.4 2-1.7-2.1-3.1-5.9,0.4z" fill="#17ff00"/>
<path d="M441.8,335.6l-2.4-3.5-4.5,4.1z" fill="#29ff00"/>
<path d="M480.7,352.6l4.7,3.6 5-2.6-4.6-3z" fill="#00ccff"/>
<path d="M366.5,325.1l0.9-1.9 1.6-1z" fill="#ebff00"/>
<path d="M367,324l2-3.5 3.6-2.3-4,4.8z" fill="#ffe300"/>
<path d="M368.6,321.3l2-3.5 3.6-2.4-1.7,3.2-0.3,0.4z" fill="#ffb800"/>
<path d="M370.2,318.6l2-3.5 3.5-2.5-1.8,3.6z" fill="#ff9100"/>
<path d="M371.8,315.9l0.5-1.1 2.9-3.5 2.1-1.4-1.9,3.6z" fill="#ff6c00"/>
<path d="M374.8,312.1l3.6-4.4-1.5,3.1z" fill="#ff4700"/>
<path d="M370.5,318.6L373.3,316.5" class="cl"/>
<path d="M379,311.1l2.5,4.1 3.2-4.2z" fill="#ff6c00"/>
<path d="M377.5,308.5l1.9,3.2 4.8-0.1 2.9-3.8-0.4-0.7-8.2,0.1z" fill="#ff4700"/>
<path d="M387.1,307.7l-2.6-4.4-3.1,0.1-3.3,4.4z" fill="#ff2200"/>
<path d="M384.9,303.9l-1.7-2.9-2.3,3z" fill="#ff1100"/>
<path d="M384.6,304.1L381.2,304.1" class="cl"/>
<path d="M428.6,340.3l0.9,1.8 2.2-2.1z" fill="#04ff00"/>
<path d="M426.5,336.5l2.4,4.4 2.2-0.3 3.8-3.7-0.7-1.2z" fill="#17ff00"/>
<path d="M425.5,334.5l1.3,2.6 7.7-0.8-2.2-4.3-4.8,0.5z" fill="#29ff00"/>
<path d="M432.6,332.6l-1.8-3.4-3.9,3.9z" fill="#60ff00"/>
<path d="M474.5,352.6l2.3,2 5.2-1.8-2.7-2z" fill="#00ccff"/>
<path d="M472.2,350.6l2.8,2.5 4.8-1.9-2.5-1.8z" fill="#00e9d8"/>
<path d="M420,337.4l0.7,2 2.8-2.5z" fill="#17ff00"/>
<path d="M418.6,333.8l1.6,4.2 2.6-0.4 3.4-3-0.8-1.9z" fill="#29ff00"/>
<path d="M417.2,330.2l1.6,4.2 6.9-1.1-1.6-4.1z" fill="#60ff00"/>
<path d="M416.7,329l0.7,1.8 6.9-1.1-1.6-4.1-2.4,0.4z" fill="#aeff00"/>
<path d="M422.9,326.2l-0.7-1.8-2.5,2.2z" fill="#ebff00"/>
<path d="M418,331.5L424.3,330.5" class="cl"/>
<path d="M465,349.4l3.2,3.5 5.1-2.1-3-3z" fill="#00e9d8"/>
<path d="M463.7,348l1.7,1.9 5.4-1.6-1.9-1.9z" fill="#00fc8b"/>
<path d="M411.1,331.3l0.8,2.1 3.4-2.7z" fill="#60ff00"/>
<path d="M409.8,327.7l1.5,4.2 3.4-0.6 2.7-2.1-0.9-2.6z" fill="#aeff00"/>
<path d="M408.5,324.1l1.5,4.2 6.7-1.2-1.5-4.1z" fill="#ebff00"/>
<path d="M407.9,322.4l0.8,2.3 6.7-1.1-1.5-4.1-2.6,0.4z" fill="#ffe300"/>
<path d="M414.1,320.1l-0.6-1.8-2.9,2.2z" fill="#ffb800"/>
<path d="M411.9,332.6L412.6,332.4" class="cl"/>
<path d="M456.7,346.6l2.8,3.4 5.3-1.7-3-3.4z" fill="#00fc8b"/>
<path d="M455.2,344.8l1.9,2.3 5.1-1.7-1.8-2z" fill="#00ff3c"/>
<path d="M501.9,357l4.9,2.8 4.9-3-4.9-2.2z" fill="#00a5ff"/>
<path d="M503,357.3L511.1,356.9" class="cl"/>
<path d="M343.7,346.6l1.8,4.5 4.3-5z" fill="#00fc8b"/>
<path d="M342.2,342.9l1.7,4.3 5.3-0.5 2.1-2.5-0.6-1.9z" fill="#00ff3c"/>
<path d="M342.3,343.1l0.2,0.4 8.4-0.6-1.4-4.1-4.6,0.3z" fill="#04ff00"/>
<path d="M349.7,339.4l-1.3-4.1-1.1,0.1-2.8,4.4z" fill="#17ff00"/>
<path d="M348.6,335.9l-0.6-1.7-1.1,1.8z" fill="#29ff00"/>
<path d="M343.2,344.6L350.9,344" class="cl"/>
<path d="M350.4,344.8l1.8-1.4 1.2-1.7z" fill="#00ff3c"/>
<path d="M351.4,343.8l3.1-2.7 2.7-3.4-1.1,0.7-3.5,3.7z" fill="#04ff00"/>
<path d="M353.7,341.6l2.9-2.5 0.5-0.5 2.3-3.2-3,2.8z" fill="#17ff00"/>
<path d="M356.3,339.1l4.6-4.6 0.8-1.4-3.1,2.8z" fill="#29ff00"/>
<path d="M360.1,334.9l2.3-2.4-1.5,1z" fill="#60ff00"/>
<path d="M351.2,344L351.3,343.9" class="cl"/>
<path d="M400.8,321.5l2.1,4.3 0.4,0 5.4-3.1-1.1-2.3z" fill="#ffe300"/>
<path d="M399,317.9l2.1,4.2 6.7-1.1-2-4.3-6.5,1z" fill="#ffb800"/>
<path d="M406.1,317.3l-1.4-2.9-6.1,3.9z" fill="#ff9100"/>
<path d="M399.8,318.7L406,317.8" class="cl"/>
<path d="M450.3,347.5l0.6,0.8 1.2-1z" fill="#00fc8b"/>
<path d="M446.9,343.3l3.8,4.7 0.7-0.1 4.7-2.9-2.2-2.8z" fill="#00ff3c"/>
<path d="M446.6,343l0.7,0.8 7-1-2.4-3.1z" fill="#04ff00"/>
<path d="M448.7,345.1L455,344.2" class="cl"/>
<path d="M493.4,356.8l4.7,3.6 4.9-3.4-4.5-2.9-0.4,0z" fill="#00a5ff"/>
<path d="M499.3,354.6l-1-0.6-1,0.7z" fill="#00ccff"/>
<path d="M495.1,357.7L502.1,357.2" class="cl"/>
<path d="M392.3,318.6l1.7,3.4 6.2-4.3z" fill="#ffb800"/>
<path d="M390.4,314.8l2.2,4.4 7.2-1-2.1-4.3z" fill="#ff9100"/>
<path d="M390.1,314.2l0.6,1.2 7.3-0.9-2.2-4.4z" fill="#ff6c00"/>
<path d="M393.2,319.6L397.9,319" class="cl"/>
<path d="M439.3,343.9l2.9,3.5 5-4.1z" fill="#00ff3c"/>
<path d="M437.9,342.2l1.9,2.2 6.7-0.5 1-0.8-3.2-4-3,0.2z" fill="#04ff00"/>
<path d="M444.7,339.6l-1.5-1.9-2.5,2.2z" fill="#17ff00"/>
<path d="M441.2,345.7L444,345.5" class="cl"/>
<path d="M485.3,356.1l4.2,3.8 5-3-2.5-1.9z" fill="#00a5ff"/>
<path d="M484.9,355.8l0.9,0.8 6.9-1.1-2.8-2.3z" fill="#00ccff"/>
<path d="M488.4,358.6L492,358.1" class="cl"/>
<path d="M383.6,318.9l1.6,2.6 2.1-2.7z" fill="#ffb800"/>
<path d="M381.3,315l2.7,4.5 2.8-0.1 3.6-4.6z" fill="#ff9100"/>
<path d="M381.2,314.7l0.5,0.9 8.3-0.2 0.8-1.1-1.9-3.3-5,0z" fill="#ff6c00"/>
<path d="M389.2,311.5l-2.4-4.2-3.3,4.3z" fill="#ff4700"/>
<path d="M384.6,319.9L386,319.9" class="cl"/>
<path d="M431.2,344.3l2.2,3.1 3.6-3.5z" fill="#00ff3c"/>
<path d="M429.2,341.6l2.4,3.3 4.7-0.3 2.4-2.4-1.8-2.5-6.1,0.3z" fill="#04ff00"/>
<path d="M437.3,340.3l-2.7-3.9-4.4,4.3z" fill="#17ff00"/>
<path d="M432.9,346.1L434.3,346" class="cl"/>
<path d="M479.9,357.4l1,0.9 2.8-1.6z" fill="#00a5ff"/>
<path d="M476.3,354.1l4.1,3.8 2.6-0.6 3-1.4-4.6-3.6z" fill="#00ccff"/>
<path d="M361.3,333.8l2.1-2.4 0.3-1.8z" fill="#60ff00"/>
<path d="M362.7,332l2.5-3.1 0.8-3-2.9,4.4z" fill="#aeff00"/>
<path d="M364.6,329.5l2.6-3.2 0.7-3.7-1.2,1.6-1.3,2.3z" fill="#ebff00"/>
<path d="M366.5,327l1.1-1.2 1.4-2.9 0.5-3-2.2,3.3z" fill="#ffe300"/>
<path d="M368.4,323.6l2.4-4.4 0.3-2-2.2,3.4z" fill="#ffb800"/>
<path d="M370.3,319.9l2.4-4.4 0-1-2.2,3.4z" fill="#ff9100"/>
<path d="M372.1,316.2l0.9-2-0.9,1z" fill="#ff6c00"/>
<path d="M362.6,332L362.7,331.5M370.2,319.8L370.5,318.6" class="cl"/>
<path d="M374.6,319l1.6,2.7 2.2-2.7z" fill="#ffb800"/>
<path d="M372.2,315.1l2.7,4.5 3,0 3.8-4.6z" fill="#ff9100"/>
<path d="M372.2,315.1l0.4,0.6 8.6-0.1 0.7-0.9-2.2-3.6-4.3,0z" fill="#ff6c00"/>
<path d="M380.1,311.7l-2.2-3.7-3,3.8z" fill="#ff4700"/>
<path d="M375.6,320.1L377.1,320.1" class="cl"/>
<path d="M423.8,344.9l0.7,1.5 2-1.7z" fill="#00ff3c"/>
<path d="M421.7,341.1l2.4,4.4 1.8-0.2 4.1-3.6-0.8-1.5z" fill="#04ff00"/>
<path d="M420.5,338.8l1.5,2.9 7.5-0.9-2.3-4.4-4.6,0.6z" fill="#17ff00"/>
<path d="M427.5,337l-1.6-2.9-4,3.5z" fill="#29ff00"/>
<path d="M469.2,353.9l3,2.9 5.2-2.5-2.2-1.9z" fill="#00ccff"/>
<path d="M467.7,352.4l2,1.9 6-1.4-2.8-2.5z" fill="#00e9d8"/>
<path d="M415.2,342.1l0.5,1.2 1.8-1.5z" fill="#04ff00"/>
<path d="M413.8,338.5l1.6,4.2 1.4-0.3 4.4-3.4-0.6-1.7z" fill="#17ff00"/>
<path d="M412.5,334.9l1.6,4.2 6.7-1.2-1.6-4.2z" fill="#29ff00"/>
<path d="M411.7,332.8l1,2.7 6.7-1.2-1.6-4.2-3.4,0.6z" fill="#60ff00"/>
<path d="M418,330.7l-0.8-2.1-3.4,2.7z" fill="#aeff00"/>
<path d="M418,331.5L412.6,332.4" class="cl"/>
<path d="M460.3,350.9l3.2,3.7 5.3-1.9-3.2-3.5z" fill="#00e9d8"/>
<path d="M459.1,349.5l1.7,1.9 5.3-1.7-1.7-1.9z" fill="#00fc8b"/>
<path d="M405.4,332.5l1.3,3.6 5.7-3.1-0.7-1.8z" fill="#60ff00"/>
<path d="M404,328.9l1.6,4.2 6.3-1.4-1.5-4.1z" fill="#aeff00"/>
<path d="M402.7,325.4l1.6,4 6.3-1.2-1.5-4.2-6,1.2z" fill="#ebff00"/>
<path d="M409.3,324.6l-0.9-2.5-6,3.7z" fill="#ffe300"/>
<path d="M406.2,333.8L411.9,332.6" class="cl"/>
<path d="M453.9,351.8l0.9,1.1 2.1-1.4z" fill="#00e9d8"/>
<path d="M450.5,347.8l3.9,4.6 1.8-0.3 3.9-2.4-2.8-3.3-6.1,1z" fill="#00fc8b"/>
<path d="M457.8,347l-2-2.4-5.3,3.3z" fill="#00ff3c"/>
<path d="M497.9,360.2l4.5,3.3 3.8-3.3z" fill="#0061ff"/>
<path d="M497.6,360.1l1,0.7 6.9,0 1.8-1.4-4.8-2.8z" fill="#00a5ff"/>
<path d="M503,357.3L502.1,357.2" class="cl"/>
<path d="M344.9,351l1.4-0.2-0.5-0.8z" fill="#00e9d8"/>
<path d="M345.7,350.9l5.6-0.9 0.3-0.5-2.4-3.6-3.8,4.6z" fill="#00fc8b"/>
<path d="M351.3,350.1l2-4.3-1.2-3.1-1.3,1.3-2,2.4z" fill="#00ff3c"/>
<path d="M353,346.6l2.1-4.4-0.7-1.8-2.7,2.7z" fill="#04ff00"/>
<path d="M354.8,342.9l2.1-4.7-2.9,2.7z" fill="#17ff00"/>
<path d="M352.3,347.2L351.2,344" class="cl"/>
<path d="M396.2,326.2l1.6,3.1 6.1-4.1z" fill="#ebff00"/>
<path d="M394.3,322.4l2.2,4.4 7.1-1.1-2.2-4.3z" fill="#ffe300"/>
<path d="M393.8,321.5l0.7,1.5 7.2-1-2.2-4.4z" fill="#ffb800"/>
<path d="M399.8,318.7L397.9,319" class="cl"/>
<path d="M442.8,348.1l3.3,4 5.3-4.2-0.4-0.5z" fill="#00fc8b"/>
<path d="M441.8,347l1.4,1.7 8.2-0.7-3.8-4.8-1.3,0.1z" fill="#00ff3c"/>
<path d="M448,343.8l-0.9-1.2-1.5,1.3z" fill="#04ff00"/>
<path d="M448.7,345.1L444,345.5" class="cl"/>
<path d="M490.5,360.9l3.2,2.8 4.6-3.5z" fill="#0061ff"/>
<path d="M489,359.5l2.1,1.9 6.5-0.6 1-0.7-4.6-3.6z" fill="#00a5ff"/>
<path d="M495.1,357.7L492,358.1" class="cl"/>
<path d="M387.9,326.6l0.9,1.7 1.6-1.8z" fill="#ebff00"/>
<path d="M385.8,322.8l2.4,4.4 1.6-0.1 4-4.7z" fill="#ffe300"/>
<path d="M384.8,320.9l1.3,2.4 7.2-0.3 1.2-1.4-1.6-3.1-6.4,0.3z" fill="#ffb800"/>
<path d="M393.2,319.1l-2.2-4.3-1.3,0-3.7,4.6z" fill="#ff9100"/>
<path d="M391.3,315.4l-0.8-1.6-1.3,1.6z" fill="#ff6c00"/>
<path d="M393.2,319.6L386,319.9" class="cl"/>
<path d="M434.3,348.4l3,3.8 4.2-4.1z" fill="#00fc8b"/>
<path d="M433,346.9l1.7,2.1 6.1-0.2 1.8-1.8-2.6-3.2-3.9,0.2z" fill="#00ff3c"/>
<path d="M440.5,344.4l-2.1-2.6-3,2.8z" fill="#04ff00"/>
<path d="M441.2,345.7L434.3,346" class="cl"/>
<path d="M484.4,362l0.6,0.6 0.9-0.8z" fill="#0061ff"/>
<path d="M480.4,357.9l4.5,4.6 0.3-0.1 4.8-2.8-4-3.6-3.2,0.7z" fill="#00a5ff"/>
<path d="M486.6,356.5l-1.1-1-3.4,1.8z" fill="#00ccff"/>
<path d="M482.6,359.7L488.4,358.6" class="cl"/>
<path d="M377,323l2.8,4.7 4.2-4.9z" fill="#ffe300"/>
<path d="M375.8,321.2l1.5,2.4 6.2-0.1 2.1-2.5-1.3-2.2-6.7,0.2z" fill="#ffb800"/>
<path d="M384.7,319.4l-2.7-4.4-1.1,0-3.8,4.6z" fill="#ff9100"/>
<path d="M382.4,315.5l-0.8-1.3-1.2,1.4z" fill="#ff6c00"/>
<path d="M384.6,319.9L377.1,320.1" class="cl"/>
<path d="M426.4,349l2,2.8 3.6-3.2z" fill="#00fc8b"/>
<path d="M424.2,345.9l2.6,3.7 4.5-0.4 2.5-2.3-1.9-2.7-6.3,0.5z" fill="#00ff3c"/>
<path d="M432.3,344.8l-2.6-3.6-4.8,4.1z" fill="#04ff00"/>
<path d="M425.2,346.7L432.9,346.1" class="cl"/>
<path d="M473.8,358.5l2.5,2.4 5.1-2.9-0.8-0.8z" fill="#00a5ff"/>
<path d="M471.8,356.4l2.6,2.6 6.7-1.3-4.2-3.8z" fill="#00ccff"/>
<path d="M355.8,339.6l0.6-1.2 1-0.6z" fill="#17ff00"/>
<path d="M356,339.3l2.3-3.4 3-2.2-4.3,4.9z" fill="#29ff00"/>
<path d="M357.9,336.8l2.3-3.4 3.5-2.7-1.7,2.6-1.1,1.2z" fill="#60ff00"/>
<path d="M359.8,334.3l1.9-2.9 0.8-0.9 3.1-2.4-2.3,3.4z" fill="#aeff00"/>
<path d="M362.1,331.3l4.1-5 1.3-0.7-2.3,3.4z" fill="#ebff00"/>
<path d="M365.8,327.2l2.1-2.3-0.8,1.5z" fill="#ffe300"/>
<path d="M359.8,334.4L362.6,332" class="cl"/>
<path d="M369.7,330.2l1.3,1.9 0.9-1.8z" fill="#aeff00"/>
<path d="M367.1,326.1l3,4.7 1.5,0.1 2.2-4.3z" fill="#ebff00"/>
<path d="M367,325.9l0.5,0.9 6,0.4 2.2-4.3-7-0.5z" fill="#ffe300"/>
<path d="M375.4,323.5l1.2-2.3-1.3-2.2-4.8-0.3-2.1,4.3z" fill="#ffb800"/>
<path d="M375.6,319.7l-2.7-4.6-0.6,0-2.1,4.2z" fill="#ff9100"/>
<path d="M373.3,315.7l-0.7-1.2-0.6,1.2z" fill="#ff6c00"/>
<path d="M375.6,320.1L370.3,319.8" class="cl"/>
<path d="M417.1,345.9l2.4,4.5 5.5-4.4-0.6-1.1z" fill="#00ff3c"/>
<path d="M415.4,342.8l2,3.7 7.3-1.1-2.4-4.4-5.7,0.9z" fill="#04ff00"/>
<path d="M422.7,341.6l-1.8-3.2-5,4.1z" fill="#17ff00"/>
<path d="M418.3,347.6L423.5,346.9" class="cl"/>
<path d="M464.2,355.3l3.4,3.6 5.2-2.4-2.9-2.8z" fill="#00ccff"/>
<path d="M463.1,354.1l1.6,1.7 5.6-1.6-2-2z" fill="#00e9d8"/>
<path d="M409.5,343.4l1,2.7 5.7-3.1-0.4-1z" fill="#04ff00"/>
<path d="M408.1,339.8l1.6,4.2 6.3-1.4-1.6-4.2z" fill="#17ff00"/>
<path d="M406.7,336.1l1.6,4.2 6.3-1.4-1.5-4.1z" fill="#29ff00"/>
<path d="M406.5,335.6l0.4,1.1 6.4-1.4-1.1-2.9z" fill="#60ff00"/>
<path d="M457.7,356.2l1.1,1.3 2.5-1.7z" fill="#00ccff"/>
<path d="M454.4,352.4l3.8,4.4 2.4-0.4 3.5-2.1-3.1-3.6-5,0.8z" fill="#00e9d8"/>
<path d="M461.4,351.3l-1.7-2.1-4.4,2.9z" fill="#00fc8b"/>
<path d="M400.8,337.3l0.7,2 4.5-2.9z" fill="#29ff00"/>
<path d="M399.4,333.6l1.6,4.3 4.3-0.9 2-1.2-1.3-3.4z" fill="#60ff00"/>
<path d="M398,330l1.6,4.2 6.6-1.3-1.6-4.1z" fill="#aeff00"/>
<path d="M397.5,328.7l0.7,1.9 6.6-1.3-1.5-4.2z" fill="#ebff00"/>
<path d="M400.2,334.9L406.2,333.8" class="cl"/>
<path d="M446.4,352.5l3.6,4.1 5.3-4-0.7-0.9z" fill="#00e9d8"/>
<path d="M445.7,351.6l1.2,1.4 8.2-0.7-4.1-4.8z" fill="#00fc8b"/>
<path d="M496.2,365.8l1.7,1.4 1.7-1.5z" fill="#0017ff"/>
<path d="M493.2,363.3l3.7,3.1 2.1-0.1 3.8-3.2-4-2.9-1.4,0z" fill="#0061ff"/>
<path d="M499.5,360.7l-1.4-1-1.4,1.1z" fill="#00a5ff"/>
<path d="M390,330.5l2.6,4.6 4.5-5z" fill="#aeff00"/>
<path d="M388.5,327.7l1.9,3.4 6.2-0.4 1.7-1.8-1.4-2.7-7.4,0.3z" fill="#ebff00"/>
<path d="M397.2,326.7l-2.3-4.4-1.9,0.1-4,4.8z" fill="#ffe300"/>
<path d="M395.2,322.9l-1-1.9-1.7,2.1z" fill="#ffb800"/>
<path d="M437.7,352.7l3.5,4.2 4.6-4.5z" fill="#00e9d8"/>
<path d="M436.9,351.7l1.3,1.6 6.9-0.2 1.4-1.4-3-3.6-2.9,0.1z" fill="#00fc8b"/>
<path d="M444,348.7l-1.8-2.1-2.3,2.2z" fill="#00ff3c"/>
<path d="M484.5,362.1l4.6,4.7 5.1-3.5-2.9-2.5-6.3,1z" fill="#0061ff"/>
<path d="M491.9,361.3l-2.3-2.1-5.3,3.2z" fill="#00a5ff"/>
<path d="M381.6,330.9l1.9,3.3 3.1-3.5z" fill="#aeff00"/>
<path d="M379.4,327l2.6,4.5 4.1-0.2 3.2-3.5-0.7-1.2z" fill="#ebff00"/>
<path d="M379.5,327.2l0.2,0.4 9.2-0.4-2.4-4.5-3.3,0.2z" fill="#ffe300"/>
<path d="M386.8,323.3l-1.6-2.9-2.6,3.1z" fill="#ffb800"/>
<path d="M429.5,353.2l2.8,3.6 4.3-4z" fill="#00e9d8"/>
<path d="M428.1,351.3l1.8,2.5 6-0.4 1.8-1.6-2.7-3.4-3.9,0.2z" fill="#00fc8b"/>
<path d="M435.5,349l-2-2.5-3.1,2.8z" fill="#00ff3c"/>
<path d="M478.1,363l2.3,2.5 5.1-3.3-0.4-0.4z" fill="#0061ff"/>
<path d="M475.9,360.5l2.7,3 7-1.2-4.6-4.7z" fill="#00a5ff"/>
<path d="M476.6,360.8L482.6,359.7" class="cl"/>
<path d="M372.4,334.3l2.2,3.4 1.7-3.2z" fill="#60ff00"/>
<path d="M370.6,331.5l2.2,3.4 3.2,0.2 2.3-4.3-7.1-0.5z" fill="#aeff00"/>
<path d="M378,331.3l2.3-4.3-7.2-0.4-2.2,4.3z" fill="#ebff00"/>
<path d="M380.4,327.6l-2.7-4.6-2.7-0.2-2.2,4.3z" fill="#ffe300"/>
<path d="M378,323.6l-1.8-3-1.5,2.8z" fill="#ffb800"/>
<path d="M373.7,335.8L375.2,335.9" class="cl"/>
<path d="M421.9,353.9l1.5,2.1 2.9-2.5z" fill="#00e9d8"/>
<path d="M419.1,349.8l3.2,4.7 3.3-0.4 3.3-2.7-1.8-2.5z" fill="#00fc8b"/>
<path d="M418.8,350.3l8.7-0.8-2.8-4z" fill="#00ff3c"/>
<path d="M425.2,346.7L423.5,346.9" class="cl"/>
<path d="M468.4,359.8l3.2,3.5 5.2-2.7-2.2-2.3z" fill="#00a5ff"/>
<path d="M467.1,358.4l1.8,1.9 6.1-1.5-2.7-2.7z" fill="#00ccff"/>
<path d="M470.9,362.1L475.1,361.2" class="cl"/>
<path d="M350.5,350.3l1.3-0.6-0.6-0.7z" fill="#00fc8b"/>
<path d="M351.3,350l4.1-2.1-2.5-2.6-2,4.2z" fill="#00ff3c"/>
<path d="M354.8,348.2l2.1-1.1 0.7-2-2.9-3.5-2,4.3z" fill="#04ff00"/>
<path d="M357.4,345.7l1.4-4.2-2.2-3.4-0.5,0.7-1.6,3.4z" fill="#17ff00"/>
<path d="M358.6,342.2l1.4-4.2-1.5-2.4-2.3,3z" fill="#29ff00"/>
<path d="M359.8,338.7l1.5-4.3-0.9-1.3-2.3,3z" fill="#60ff00"/>
<path d="M361,335.1l1.3-4.2-2.3,2.7z" fill="#aeff00"/>
<path d="M353.5,348.5L352.3,347.2M360.6,335.5L359.8,334.4" class="cl"/>
<path d="M363.2,334.5l2.3,3.5 3.2-3.6z" fill="#60ff00"/>
<path d="M361.5,332l2,3.1 4.7-0.1 3.1-3.5-0.8-1.3-7.5,0.1z" fill="#aeff00"/>
<path d="M370.8,330.8l-2.9-4.6-1.3,0-4.2,4.7z" fill="#ebff00"/>
<path d="M368.3,326.8l-0.9-1.4-1.3,1.4z" fill="#ffe300"/>
<path d="M364.5,336L366.9,335.9" class="cl"/>
<path d="M413.2,351.1l1.2,2 5.9-3.4z" fill="#00fc8b"/>
<path d="M411.1,347.2l2.4,4.4 6.1-1.3 0.4-0.2-2.3-4.3z" fill="#00ff3c"/>
<path d="M410.3,345.6l1.1,2.1 6.6-1.3-2.1-4z" fill="#04ff00"/>
<path d="M412.4,348.9L418.3,347.6" class="cl"/>
<path d="M461.9,360.8l0.9,1.1 2-1.4z" fill="#00a5ff"/>
<path d="M458.4,357l3.9,4.3 1.9-0.3 3.9-2.4-3.2-3.5-4.5,0.7z" fill="#00ccff"/>
<path d="M465.4,355.7l-1.7-1.9-4,2.6z" fill="#00e9d8"/>
<path d="M405,348.3l0.3,1 1.7-1.2z" fill="#00ff3c"/>
<path d="M403.6,344.6l1.6,4.3 1.1-0.2 4.8-2.9-1-2.5z" fill="#04ff00"/>
<path d="M402.2,341l1.6,4.2 6.5-1.4-1.6-4.2z" fill="#17ff00"/>
<path d="M401.3,338.7l1.1,2.8 6.5-1.3-1.6-4.2-2.2,0.4z" fill="#29ff00"/>
<path d="M407.5,336.6l-0.5-1.3-2.6,1.7z" fill="#60ff00"/>
<path d="M450.3,356.9l3.7,4.2 5.3-4-0.9-1z" fill="#00ccff"/>
<path d="M449.6,356.2l1.2,1.3 8.1-0.8-4-4.6z" fill="#00e9d8"/>
<path d="M395.2,341.9l1.1,2.9 3.4-3.5z" fill="#17ff00"/>
<path d="M393.7,338.1l1.7,4.3 3.7-0.4 2.9-3.1-0.6-1.7z" fill="#29ff00"/>
<path d="M392.2,334.4l1.7,4.3 7.7-0.9-1.6-4.3z" fill="#60ff00"/>
<path d="M392.3,334.5l0.2,0.5 7.7-0.9-1.6-4.2-2.3,0.3z" fill="#aeff00"/>
<path d="M398.8,330.5l-0.8-2.2-2.3,2.5z" fill="#ebff00"/>
<path d="M393.1,335.8L400.2,334.9" class="cl"/>
<path d="M441.3,357.1l3.8,4.4 4.7-4.6z" fill="#00ccff"/>
<path d="M440.8,356.5l1.1,1.2 7.3-0.2 1.3-1.3-3.4-3.8-2.2,0.1z" fill="#00e9d8"/>
<path d="M447.7,353l-1.6-1.7-1.8,1.8z" fill="#00fc8b"/>
<path d="M488.9,366.5l4.4,4.4 5.1-4.1-1.3-1z" fill="#0017ff"/>
<path d="M488.7,366.4l0.7,0.7 8.4-0.8-4.1-3.4z" fill="#0061ff"/>
<path d="M386.3,338.9l0.9,1.7 1.8-1.8z" fill="#29ff00"/>
<path d="M383.9,334.9l2.7,4.6 1.8-0.1 4.9-5z" fill="#60ff00"/>
<path d="M383.2,333.6l1.1,1.9 8.4-0.5 0.3-0.3-2.3-4.2-4.9,0.3z" fill="#aeff00"/>
<path d="M391,331.1l-2-3.8-3.8,4.1z" fill="#ebff00"/>
<path d="M385.1,336.4L391.3,336" class="cl"/>
<path d="M432.9,357.5l3.3,4.2 4.8-4.6z" fill="#00ccff"/>
<path d="M431.9,356.3l1.4,1.8 7-0.3 1.3-1.3-3.1-3.8-2.8,0.1z" fill="#00e9d8"/>
<path d="M438.9,353.3l-1.6-2-2.3,2.2z" fill="#00fc8b"/>
<path d="M482.1,367.5l2.4,2.6 4.8-3.5z" fill="#0017ff"/>
<path d="M480,365.1l2.6,2.9 6-0.8 1-0.7-4.5-4.7z" fill="#0061ff"/>
<path d="M377.6,342.5l0.6,1 0.6-0.9z" fill="#17ff00"/>
<path d="M375,338.4l3,4.7 0.4,0.1 2.6-4.5z" fill="#29ff00"/>
<path d="M374.2,337.1l1.2,1.9 5.3,0.3 2.5-4.4-7.6-0.4z" fill="#60ff00"/>
<path d="M382.9,335.4l1-1.7-1.6-2.8-4.6-0.2-2.4,4.4z" fill="#aeff00"/>
<path d="M382.7,331.5l-2.8-4.8-2.6,4.6z" fill="#ebff00"/>
<path d="M382.1,336.3L375.2,335.9" class="cl"/>
<path d="M425,358.1l2.2,3 4-3.4z" fill="#00ccff"/>
<path d="M423,355.5l2.4,3.2 5.2-0.4 2.1-1.9-2.5-3.3-4.8,0.4z" fill="#00e9d8"/>
<path d="M430.6,353.7l-2.1-2.8-3.8,3.3z" fill="#00fc8b"/>
<path d="M472.4,364.3l3.3,3.9 5.2-3-2.1-2.3z" fill="#0061ff"/>
<path d="M471.2,362.9l1.7,1.9 6.4-1.4-2.9-3.2z" fill="#00a5ff"/>
<path d="M476.6,360.8L475.1,361.2" class="cl"/>
<path d="M365.9,338.6l3.2,4.8 4.6-4.9z" fill="#29ff00"/>
<path d="M365.1,337.5l1.2,1.7 6.8-0.1 1.8-2-1.8-2.8-5.2,0.1z" fill="#60ff00"/>
<path d="M373.5,334.9l-2.5-3.9-3.6,4z" fill="#aeff00"/>
<path d="M373.7,335.8L366.9,335.9" class="cl"/>
<path d="M415.8,355.2l2.4,3.5 5.7-3.1-1.3-1.8z" fill="#00e9d8"/>
<path d="M414,352.6l2.2,3.1 6.8-1.3-3.3-4.7-0.3,0z" fill="#00fc8b"/>
<path d="M465.9,365.3l1,1.1 2-1.4z" fill="#0061ff"/>
<path d="M462.4,361.4l4,4.5 1.8-0.3 4-2.6-3.1-3.3-5.2,0.8z" fill="#00a5ff"/>
<path d="M469.6,360.2l-1.9-2.1-4.5,3z" fill="#00ccff"/>
<path d="M464.4,363.1L470.9,362.1" class="cl"/>
<path d="M357.1,348.5l3.2,4.5 1.3-3.7z" fill="#00ff3c"/>
<path d="M356.4,347.4l1.2,1.8 3.8,0.7 1.5-4.2-5.6-1z" fill="#04ff00"/>
<path d="M362.7,346.3l1.5-4.2-5.7-0.9-1.4,4.1z" fill="#17ff00"/>
<path d="M364,342.7l1.5-4.2-5.8-0.9-1.4,4.2z" fill="#29ff00"/>
<path d="M365.3,339.1l0.5-1.6-1.9-3-3-0.4-1.4,4.1z" fill="#60ff00"/>
<path d="M364.3,335.2l-2.5-3.9-1.1,3.3z" fill="#aeff00"/>
<path d="M359,350.6L360.8,350.9M364.5,336L360.7,335.4" class="cl"/>
<path d="M407,352.3l2.2,3.9 5.7-3.4-1-1.9z" fill="#00fc8b"/>
<path d="M405.1,348.7l2.2,4.1 6.9-1.3-2.4-4.5-5.7,1.1z" fill="#00ff3c"/>
<path d="M412.1,347.6l-1.3-2.3-5.4,3.4z" fill="#04ff00"/>
<path d="M406.2,350L412.4,348.9" class="cl"/>
<path d="M454.4,361.5l3.6,4 5.3-4-0.7-0.8z" fill="#00a5ff"/>
<path d="M453.6,360.6l1.3,1.5 8.2-0.9-4.2-4.5z" fill="#00ccff"/>
<path d="M457.1,363.9L460,363.6" class="cl"/>
<path d="M399.5,353l0.6,1.6 1.9-1.9z" fill="#00fc8b"/>
<path d="M398.1,349.3l1.6,4.3 1.6-0.2 4.5-4.5-0.2-0.7z" fill="#00ff3c"/>
<path d="M396.6,345.6l1.7,4.3 7.5-1.1-1.6-4.3z" fill="#04ff00"/>
<path d="M396.1,344.2l0.7,1.9 7.6-1-1.6-4.2-4,0.5z" fill="#17ff00"/>
<path d="M403,341.4l-1.2-3.1-3.6,3.8z" fill="#29ff00"/>
<path d="M399,351L404,350.2" class="cl"/>
<path d="M445.2,361.6l3.9,4.4 4.6-4.5z" fill="#00a5ff"/>
<path d="M444.7,361.1l1.1,1.1 7.3-0.1 1.4-1.4-3.4-3.8-2.2,0z" fill="#00ccff"/>
<path d="M451.6,357.5l-1.5-1.7-1.8,1.7z" fill="#00e9d8"/>
<path d="M447.8,364.1L450.7,364" class="cl"/>
<path d="M389.6,346.5l1.4,3.4 4.2-4.1z" fill="#04ff00"/>
<path d="M388.1,342.8l1.7,4.3 4.7-0.6 2.3-2.2-1-2.5z" fill="#17ff00"/>
<path d="M386.9,340l1.4,3.3 7.7-0.9-1.7-4.3-6.2,0.7z" fill="#29ff00"/>
<path d="M394.5,338.6l-1.6-4.2-0.5,0-4.9,5.1z" fill="#60ff00"/>
<path d="M393.1,334.9l-0.4-0.8-0.9,1z" fill="#aeff00"/>
<path d="M393.1,335.8L391.3,336" class="cl"/>
<path d="M436.4,361.9l3.8,4.5 4.8-4.8z" fill="#00a5ff"/>
<path d="M435.8,361.2l1.1,1.3 7.5-0.2 1.2-1.2-3.5-4-2,0.1z" fill="#00ccff"/>
<path d="M442.6,357.7l-1.4-1.6-1.8,1.7z" fill="#00e9d8"/>
<path d="M438.8,364.3L441.9,364.2" class="cl"/>
<path d="M486.4,372.1l2.3,2.5 3.8-3.1z" fill="#2f09f2"/>
<path d="M484.1,369.7l2.8,2.9 4.9-0.5 2-1.6-4.2-4-1.2,0.1z" fill="#0017ff"/>
<path d="M490.2,367l-1-1-1.5,1.2z" fill="#0061ff"/>
<path d="M380.3,346.7l1.6,2.5 1.5-2.4z" fill="#04ff00"/>
<path d="M377.9,342.9l2.8,4.4 2.4,0.1 2.8-4.5-7.8-0.4z" fill="#17ff00"/>
<path d="M385.5,343.5l2.1-3.4-0.7-1.2-6.6-0.2-2.5,4.4z" fill="#29ff00"/>
<path d="M387.3,339.5l-2.7-4.6-2.1-0.1-2.5,4.5z" fill="#60ff00"/>
<path d="M385,335.5l-1.4-2.4-1.4,2.3z" fill="#aeff00"/>
<path d="M385.1,336.4L382.1,336.3" class="cl"/>
<path d="M428.3,362.5l2.9,3.6 4.6-4.1z" fill="#00a5ff"/>
<path d="M426.9,360.7l1.9,2.4 6.3-0.5 1.5-1.3-3-3.8-3.3,0.2z" fill="#00ccff"/>
<path d="M434,358l-1.6-2.1-2.8,2.4z" fill="#00e9d8"/>
<path d="M430.5,364.8L432.3,364.7" class="cl"/>
<path d="M476.1,368.7l3.8,4.5 5.1-3.4-2.1-2.4z" fill="#0017ff"/>
<path d="M475.3,367.8l1.3,1.4 6.7-1.3-2.8-3.1z" fill="#0061ff"/>
<path d="M371.5,347.1l1.2,1.8 1.9-1.9z" fill="#04ff00"/>
<path d="M368.7,342.9l3.2,4.8 2.1-0.1 4.6-4.6-0.3-0.5z" fill="#17ff00"/>
<path d="M368.7,342.9l0.4,0.5 9.6-0.3-3-4.7-2.8,0.1z" fill="#29ff00"/>
<path d="M376.1,339l-1.5-2.4-2.3,2.5z" fill="#60ff00"/>
<path d="M418.8,359.4l3.3,4.4 5.6-3-2-2.7z" fill="#00ccff"/>
<path d="M417.9,358.2l1.3,1.8 6.9-1.4-2.6-3.5z" fill="#00e9d8"/>
<path d="M469.7,369.8l1.3,1.6 3.1-2.2z" fill="#0017ff"/>
<path d="M466.5,366l3.6,4.3 3.4-0.5 2.7-1.9-3.1-3.8-5.1,0.9z" fill="#0061ff"/>
<path d="M473.5,364.7l-1.7-2.1-4.5,3z" fill="#00a5ff"/>
<path d="M360.3,352.9l3.6,4.8 1.5-3.9z" fill="#00fc8b"/>
<path d="M359.9,352.4l0.9,1.2 4.4,0.8 1.5-4.2-5.7-1z" fill="#00ff3c"/>
<path d="M366.5,350.7l1.6-4.2-5.8-0.9-1.5,4.2z" fill="#04ff00"/>
<path d="M367.9,347.1l1.6-4.2-5.9-0.9-1.5,4.2z" fill="#17ff00"/>
<path d="M369.3,343.4l0.1-0.5-2.8-4.3-1.7-0.2-1.5,4.2z" fill="#29ff00"/>
<path d="M367,339.3l-1.6-2.4-0.7,2.1z" fill="#60ff00"/>
<path d="M365.8,351.8L360.8,350.9" class="cl"/>
<path d="M412.3,360.6l0.7,1 2.3-1.4z" fill="#00ccff"/>
<path d="M409.3,356.3l3.4,4.8 1.9-0.3 4.1-2.4-2.3-3.4z" fill="#00e9d8"/>
<path d="M408.9,355.6l0.8,1.2 7.1-1.2-2.2-3.3z" fill="#00fc8b"/>
<path d="M458.6,366.1l3.5,3.9 5.3-3.9-0.7-0.9z" fill="#0061ff"/>
<path d="M457.6,365l1.5,1.7 8-0.9-4.2-4.7z" fill="#00a5ff"/>
<path d="M464.4,363.1L460,363.6" class="cl"/>
<path d="M401.6,357l2.4,4.1 5.2-4.9z" fill="#00e9d8"/>
<path d="M399.9,354l2,3.5 6.6-0.6 1.2-1.1-2-3.6-6.6,0.6z" fill="#00fc8b"/>
<path d="M408,352.7l-2.4-4.4-5.2,5.1z" fill="#00ff3c"/>
<path d="M406.2,350L404,350.2" class="cl"/>
<path d="M449.3,366.2l3.9,4.4 4.3-4.5z" fill="#0061ff"/>
<path d="M448.7,365.6l1.1,1.2 7.1-0.1 1.6-1.6-3.3-3.7-2.4,0.1z" fill="#00a5ff"/>
<path d="M455.7,362l-1.6-1.8-1.9,1.9z" fill="#00ccff"/>
<path d="M457.1,363.9L450.7,364" class="cl"/>
<path d="M394.1,357.8l0.7,1.7 2.1-2.1z" fill="#00e9d8"/>
<path d="M392.6,354.1l1.7,4.3 2-0.3 4.3-4-0.5-1.2z" fill="#00fc8b"/>
<path d="M391.1,350.3l1.7,4.3 7.5-1.1-1.6-4.3z" fill="#00ff3c"/>
<path d="M390.7,349.3l0.7,1.6 7.5-1.1-1.7-4.3-2.9,0.4z" fill="#04ff00"/>
<path d="M397.4,346.1l-0.9-2.4-2.9,2.9z" fill="#17ff00"/>
<path d="M392.1,352L399,351" class="cl"/>
<path d="M440.2,366.5l3.9,4.5 4.8-4.8z" fill="#0061ff"/>
<path d="M439.8,365.9l0.9,1.1 7.6-0.1 1.3-1.3-3.6-4-1.9,0.1z" fill="#00a5ff"/>
<path d="M446.6,362.2l-1.4-1.6-1.7,1.7z" fill="#00ccff"/>
<path d="M447.8,364.1L441.9,364.2" class="cl"/>
<path d="M384.2,354.5l1.5,3.5 2.4-3.7z" fill="#00fc8b"/>
<path d="M382.5,350.7l1.9,4.4 3.3-0.1 3.1-4.7z" fill="#00ff3c"/>
<path d="M381.6,348.7l1.1,2.6 7.7-0.4 1-1.5-1.2-2.9-7.4,0.3z" fill="#04ff00"/>
<path d="M390.5,347.1l-1.8-4.4-3.5,0.2-2.8,4.5z" fill="#17ff00"/>
<path d="M388.9,343.3l-1.6-3.9-2.5,4.1z" fill="#29ff00"/>
<path d="M383.6,352.4L389.2,352.2" class="cl"/>
<path d="M431.8,366.9l3.3,4.1 4.9-4.5z" fill="#0061ff"/>
<path d="M430.8,365.7l1.5,1.8 7.1-0.4 1.2-1.1-3.4-4.1-2.3,0.1z" fill="#00a5ff"/>
<path d="M437.7,362.5l-1.4-1.7-2.1,1.9z" fill="#00ccff"/>
<path d="M438.8,364.3L432.3,364.7" class="cl"/>
<path d="M479.9,373.2l4.2,4.7 5.1-3.7-2.1-2.2z" fill="#2f09f2"/>
<path d="M479.5,372.7l0.9,1 7.2-1.2-3-3.1z" fill="#0017ff"/>
<path d="M374.5,351.4l1.9,2.8 3.3-3z" fill="#00ff3c"/>
<path d="M372.4,348.4l2.5,3.6 4.1-0.2 3.3-3.1-1.3-2-7.3,0.3z" fill="#04ff00"/>
<path d="M381.4,347.3l-3.1-4.9-5.2,5.3z" fill="#17ff00"/>
<path d="M376.2,353.4L377,353.3" class="cl"/>
<path d="M422.1,363.8l3.9,5 5.6-3-2.6-3.4z" fill="#00a5ff"/>
<path d="M421.7,363.3l0.8,1 6.9-1.3-2-2.7z" fill="#00ccff"/>
<path d="M424.3,366.1L430.5,364.8" class="cl"/>
<path d="M473.5,374.3l1.7,2.1 4.1-3z" fill="#2f09f2"/>
<path d="M470.6,370.9l3.3,3.9 4.7-0.8 1.8-1.2-3.6-4.2-3.6,0.6z" fill="#0017ff"/>
<path d="M477.3,369.1l-1.4-1.7-3.4,2.4z" fill="#0061ff"/>
<path d="M363.7,357.4l3.8,4.8 1.6-3.8z" fill="#00e9d8"/>
<path d="M363.5,357.1l0.8,1 4.5,0.8 1.8-4.2-5.8-1z" fill="#00fc8b"/>
<path d="M370.3,355.2l1.8-4.2-6-0.9-1.5,4.2z" fill="#00ff3c"/>
<path d="M371.8,351.5l1.3-3.1-0.8-1.3-4.8-0.7-1.6,4.2z" fill="#04ff00"/>
<path d="M372.7,347.8l-3.3-4.9-0.5-0.1-1.6,4.2z" fill="#17ff00"/>
<path d="M369.9,343.5l-0.9-1.2-0.4,1.1z" fill="#29ff00"/>
<path d="M371.1,352.6L365.8,351.8" class="cl"/>
<path d="M415.6,365l1.3,1.8 4.4-2.7z" fill="#00a5ff"/>
<path d="M412.7,361.2l3.3,4.3 4.6-0.8 2-1.2-3.1-4.2-5.1,0.9z" fill="#00ccff"/>
<path d="M419.9,359.8l-1.5-1.9-4.7,2.9z" fill="#00e9d8"/>
<path d="M462.7,370.7l3.5,4.3 5.3-4-1.1-1.3z" fill="#0017ff"/>
<path d="M461.7,369.6l1.5,1.7 7.6-1.1-3.8-4.6z" fill="#0061ff"/>
<path d="M407.2,365.5l0.6,0.9 1.1-1z" fill="#00a5ff"/>
<path d="M404,361.1l3.6,5 0.6-0.1 5.3-4.7-0.5-0.8z" fill="#00ccff"/>
<path d="M403.6,360.6l0.8,1.1 9-0.7-3.4-4.8-1.7,0.1z" fill="#00e9d8"/>
<path d="M410.4,356.8l-1.1-1.5-1.7,1.6z" fill="#00fc8b"/>
<path d="M453.4,370.9l3.8,4.4 4.3-4.6z" fill="#0017ff"/>
<path d="M452.8,370.1l1.2,1.4 7-0.2 1.6-1.7-3.2-3.5-2.8,0z" fill="#0061ff"/>
<path d="M459.9,366.7l-1.8-2.1-2.1,2.1z" fill="#00a5ff"/>
<path d="M396.3,361.9l2.3,3.9 5.3-4.7z" fill="#00ccff"/>
<path d="M394.5,358.9l2.1,3.5 6.7-0.7 1.1-1-2.2-3.8-6.2,0.6z" fill="#00e9d8"/>
<path d="M402.6,357.5l-2.3-4-4.9,4.7z" fill="#00fc8b"/>
<path d="M444.2,371.1l4,4.6 4.6-4.8z" fill="#0017ff"/>
<path d="M443.8,370.6l0.9,1.1 7.5-0.2 1.4-1.4-3.5-3.9-2.1,0.1z" fill="#0061ff"/>
<path d="M450.6,366.8l-1.4-1.7-1.8,1.8zM389,366l0.5,1.2 0.9-1.3z" fill="#00a5ff"/>
<path d="M387.4,362.2l1.8,4.4 0.7,0 3.4-4.8z" fill="#00ccff"/>
<path d="M385.8,358.4l1.8,4.4 5.3-0.4 2.3-3.4-0.5-1.3z" fill="#00e9d8"/>
<path d="M385.4,357.4l0.7,1.6 8.9-0.7-1.8-4.3-5.8,0.4z" fill="#00fc8b"/>
<path d="M393.5,354.6l-1.8-4.4-1.6,0.1-3.1,4.7z" fill="#00ff3c"/>
<path d="M392,350.8l-0.8-2.1-1.5,2.3z" fill="#04ff00"/>
<path d="M392.1,352L389.2,352.2" class="cl"/>
<path d="M435.5,371.5l3.6,4.3 5-4.7z" fill="#0017ff"/>
<path d="M434.7,370.6l1.3,1.5 7.4-0.4 1.2-1.1-3.6-4.2-1.9,0.1z" fill="#0061ff"/>
<path d="M441.5,367l-1.3-1.5-1.8,1.6z" fill="#00a5ff"/>
<path d="M378.7,359.5l1.4,3.2 4.5-4z" fill="#00e9d8"/>
<path d="M376.9,355.6l2.1,4.4 5-0.7 2.1-1.8-1.3-3z" fill="#00fc8b"/>
<path d="M376.1,353.7l1.1,2.4 7.8-1-1.9-4.4-4.3,0.5z" fill="#00ff3c"/>
<path d="M383.4,351.2l-1.4-3-3.9,3.7z" fill="#04ff00"/>
<path d="M383.6,352.4L377,353.3" class="cl"/>
<path d="M429.3,372.9l0.7,0.8 1.7-1.1z" fill="#0017ff"/>
<path d="M425.6,368.3l4.1,5.1 1.3-0.3 4.6-2.4-3.1-3.8z" fill="#0061ff"/>
<path d="M425.6,368.3l0.4,0.5 7-1.4-1.7-2.1z" fill="#00a5ff"/>
<path d="M477.4,378.9l2,2.3 4.5-3.3z" fill="#6402e3"/>
<path d="M474.8,375.9l3,3.5 5.4-0.9 1.4-0.9-4-4.5-2.2,0.3z" fill="#2f09f2"/>
<path d="M481.1,373.6l-1.1-1.2-2.3,1.6z" fill="#0017ff"/>
<path d="M367.4,362.1l3.8,4.5 1.6-3.6z" fill="#00ccff"/>
<path d="M367.1,361.7l0.9,1.1 4.5,0.8 1.9-4.3-5.9-1z" fill="#00e9d8"/>
<path d="M374.2,359.8l1.9-4.3-6.1-0.9-1.8,4.2z" fill="#00fc8b"/>
<path d="M375.8,356.1l1-2.3-1.6-2.4-3.7-0.5-1.8,4.2z" fill="#00ff3c"/>
<path d="M375.7,352.1l-3-4.3-1.5,3.7z" fill="#04ff00"/>
<path d="M376.2,353.4L371.1,352.6" class="cl"/>
<path d="M419.1,369.5l1.7,2.2 5.9-3.5z" fill="#0061ff"/>
<path d="M416.6,366.3l2.9,3.8 6.5-1.3 0.5-0.3-3.7-4.8-2.4,0.4z" fill="#00a5ff"/>
<path d="M423.2,364.2l-0.9-1.2-2.6,1.7z" fill="#00ccff"/>
<path d="M417.7,367.3L424.3,366.1" class="cl"/>
<path d="M466.5,375.3l3.9,4.6 5.3-3.9-1.6-1.8z" fill="#2f09f2"/>
<path d="M465.8,374.5l1.2,1.4 7.6-1.2-3.5-4.1z" fill="#0017ff"/>
<path d="M410.7,370.1l1,1.2 1.6-1.4z" fill="#0061ff"/>
<path d="M407.5,365.9l3.7,4.7 1.4-0.1 4.8-4.1-1.2-1.5-8.2,0.5z" fill="#00a5ff"/>
<path d="M416.7,365.5l-3.5-4.7-5.9,5.3z" fill="#00ccff"/>
<path d="M409.4,367.9L415.8,367.5" class="cl"/>
<path d="M457.4,375.5l3.9,4.8 4.7-5z" fill="#2f09f2"/>
<path d="M456.8,374.8l1.1,1.3 7.5-0.2 1.3-1.3-3.3-3.9-2.7,0.1z" fill="#0017ff"/>
<path d="M463.9,371.3l-1.7-2.1-2.1,2.2z" fill="#0061ff"/>
<path d="M398.9,366.1l3.6,4.8 5.8-4.9-0.4-0.6z" fill="#00a5ff"/>
<path d="M398.3,365.3l1,1.4 9-0.7-3.6-5-1.7,0.2z" fill="#00ccff"/>
<path d="M405.1,361.6l-1-1.4-1.7,1.6z" fill="#00e9d8"/>
<path d="M401.1,368.5L405.2,368.2" class="cl"/>
<path d="M448.2,375.8l4.1,4.7 4.7-4.9z" fill="#2f09f2"/>
<path d="M447.8,375.3l0.9,1 7.7-0.1 1.3-1.4-3.5-3.9-2.2,0z" fill="#0017ff"/>
<path d="M454.7,371.5l-1.5-1.8-1.8,1.8zM391.6,370.3l1.7,2.6 2-2.6z" fill="#0061ff"/>
<path d="M389.2,366.6l2.8,4.3 2.9,0 3.7-4.9-9,0z" fill="#00a5ff"/>
<path d="M398.1,366.6l1-1.2-2.1-3.6-4.5,0-3.3,4.8z" fill="#00ccff"/>
<path d="M397.3,362.4l-2.4-4-2.8,4z" fill="#00e9d8"/>
<path d="M390.7,368.3L396.4,368.3" class="cl"/>
<path d="M439.4,376.1l3.7,4.5 5-4.8z" fill="#2f09f2"/>
<path d="M438.7,375.3l1.2,1.4 7.6-0.3 1.1-1.1-3.6-4.2-1.8,0z" fill="#0017ff"/>
<path d="M445.5,371.6l-1.3-1.4-1.7,1.6z" fill="#0061ff"/>
<path d="M382.1,367.2l1.9,4.5 5.9-5-0.3-0.7z" fill="#00a5ff"/>
<path d="M380.4,363.4l1.9,4.4 7.6-1.3-1.9-4.4z" fill="#00ccff"/>
<path d="M379.9,362.1l0.8,1.8 7.6-1.2-1.9-4.4-2.7,0.4z" fill="#00e9d8"/>
<path d="M386.7,358.9l-0.9-2-2.7,2.5z" fill="#00fc8b"/>
<path d="M383.3,369.3L387.1,368.6" class="cl"/>
<path d="M433.2,377.6l0.8,0.9 2-1.3z" fill="#2f09f2"/>
<path d="M429.6,373.2l4.1,4.9 1.6-0.3 4.3-2.3-3.4-4.1-5.4,1.2z" fill="#0017ff"/>
<path d="M436.7,372l-1.5-1.8-5.1,3zM373.1,370.8l1.8,3.5 1.5-3.3z" fill="#0061ff"/>
<path d="M371.1,366.8l2.3,4.6 2.8,0.2 2-4.5z" fill="#00a5ff"/>
<path d="M370.8,366.1l0.6,1.3 6.6,0.3 2.1-4.4-8-0.4z" fill="#00ccff"/>
<path d="M379.8,363.9l0.8-1.7-1.3-2.8-5.5-0.2-1.9,4.3z" fill="#00e9d8"/>
<path d="M379.6,360l-2-4.5-2.2-0.1-1.9,4.4z" fill="#00fc8b"/>
<path d="M377.8,356.1l-1.3-3.1-1.3,3z" fill="#00ff3c"/>
<path d="M372.6,369L376.9,369.2" class="cl"/>
<path d="M422.8,374.2l2,2.4 5.7-3.2-0.5-0.6z" fill="#0017ff"/>
<path d="M420.5,371.3l2.7,3.4 7.2-1.4-4.1-5.1-0.5,0z" fill="#0061ff"/>
<path d="M426.7,368.7l-0.5-0.7-1.1,0.8z" fill="#00a5ff"/>
<path d="M470.4,379.9l4.2,4.8 5.3-3.8-1.8-2.1z" fill="#6402e3"/>
<path d="M470,379.4l0.9,1.1 7.6-1.2-3.2-3.7z" fill="#2f09f2"/>
<path d="M473.3,382.8L477.6,382.2" class="cl"/>
<path d="M414.6,374.8l1,1.3 1.7-1.5z" fill="#0017ff"/>
<path d="M411.3,370.9l3.7,4.4 1.7-0.1 4.6-3.8-1.5-2-7.4,0.5z" fill="#0061ff"/>
<path d="M420.2,370l-3.2-4-5.3,4.6z" fill="#00a5ff"/>
<path d="M417.7,367.3L415.8,367.5" class="cl"/>
<path d="M461.2,380.1l4.3,5.2 5-5.4z" fill="#6402e3"/>
<path d="M461,379.8l0.7,0.9 8.2-0.2 0.9-1-3.6-4.3-2,0.1z" fill="#2f09f2"/>
<path d="M467.7,375.8l-1.4-1.7-1.7,1.8z" fill="#0017ff"/>
<path d="M464,383L467.2,382.9" class="cl"/>
<path d="M402.3,370.7l4.1,4.9 5.8-4.7-0.8-0.9z" fill="#0061ff"/>
<path d="M402.1,370.4l0.7,0.8 9.1-0.6-4-5.1z" fill="#00a5ff"/>
<path d="M409.4,367.9L405.2,368.2" class="cl"/>
<path d="M452.2,380.4l4.2,5.2 5.1-5.5z" fill="#6402e3"/>
<path d="M451.9,380.1l0.7,0.9 8.3-0.2 0.9-1-3.6-4.3-2.1,0.1z" fill="#2f09f2"/>
<path d="M458.7,376.1l-1.4-1.7-1.8,1.8z" fill="#0017ff"/>
<path d="M454.9,383.3L458.2,383.2" class="cl"/>
<path d="M395,374.9l2.2,2.6 2-2.4z" fill="#0017ff"/>
<path d="M393,372.4l2.5,3.1 3.2,0.1 4.1-5-8.2-0.3z" fill="#0061ff"/>
<path d="M402.3,371.2l0.6-0.8-3.3-4.3-1.8-0.1-3.7,4.9z" fill="#00a5ff"/>
<path d="M400.1,366.7l-1.4-1.9-1.3,1.8z" fill="#00ccff"/>
<path d="M401.1,368.5L396.4,368.3" class="cl"/>
<path d="M443.3,380.8l3.9,4.8 5.1-5.2z" fill="#6402e3"/>
<path d="M442.8,380.2l0.9,1.2 8-0.3 1-1-3.7-4.4-1.8,0.1z" fill="#2f09f2"/>
<path d="M449.5,376.3l-1.3-1.5-1.6,1.6z" fill="#0017ff"/>
<path d="M446.1,383.7L448.8,383.6" class="cl"/>
<path d="M386.7,375.6l1.1,1.7 2.4-2z" fill="#0017ff"/>
<path d="M383.6,371.1l3.4,5 2.5-0.2 4.2-3.4-1.4-2.2z" fill="#0061ff"/>
<path d="M383.7,371.2l0.3,0.5 8.7-0.9-3.1-4.7z" fill="#00a5ff"/>
<path d="M390.7,368.3L387.1,368.6" class="cl"/>
<path d="M437.2,382.4l0.8,0.9 2.4-1.5z" fill="#6402e3"/>
<path d="M433.6,378l4,4.9 2.1-0.5 3.9-2.1-3.5-4.2-5,1.1z" fill="#2f09f2"/>
<path d="M440.5,376.6l-1.3-1.6-4.8,2.8z" fill="#0017ff"/>
<path d="M376.9,378.8l1.7,3.9 2-3.8z" fill="#2f09f2"/>
<path d="M375.1,374.8l2.1,4.6 3.1,0.1 2.2-4.6z" fill="#0017ff"/>
<path d="M374.5,373.6l0.9,1.8 6.8,0.1 2.3-4.5-8.7-0.1z" fill="#0061ff"/>
<path d="M384.2,371.6l0.2-0.4-1.7-4-5.1-0.1-2.1,4.4z" fill="#00a5ff"/>
<path d="M382.9,367.8l-1.9-4.5-1.6,0-2.1,4.4z" fill="#00ccff"/>
<path d="M381.3,363.9l-1-2.5-1.2,2.5z" fill="#00e9d8"/>
<path d="M383.3,369.3L376.9,369.2" class="cl"/>
<path d="M426.7,378.9l2.1,2.5 5.7-3.2-0.6-0.7z" fill="#2f09f2"/>
<path d="M424.4,376.1l2.8,3.3 7.1-1.4-4.2-5.1z" fill="#0017ff"/>
<path d="M418.6,379.6l1,1.1 1.5-1.2z" fill="#2f09f2"/>
<path d="M415.2,375.6l3.9,4.6 1.3-0.1 4.9-3.8-1.8-2.3-7.1,0.6z" fill="#0017ff"/>
<path d="M423.9,374.6l-2.9-3.7-5.3,4.3z" fill="#0061ff"/>
<path d="M465.1,384.8l4.6,5.4 5.1-5.6z" fill="#7f00d3"/>
<path d="M465.1,384.8l0.5,0.6 8.6-0.2 0.8-0.9-3.9-4.4-1.4,0z" fill="#6402e3"/>
<path d="M471.7,380.4l-1.3-1.4-1.3,1.5z" fill="#2f09f2"/>
<path d="M473.3,382.8L467.2,382.9" class="cl"/>
<path d="M406.2,375.4l4.1,4.8 5.8-4.5-0.8-1z" fill="#0017ff"/>
<path d="M406,375.2l0.7,0.8 9.1-0.7-4-4.8z" fill="#0061ff"/>
<path d="M459.8,389.8l0.7,0.9 0.9-1z" fill="#9300c3"/>
<path d="M456,385.1l4.3,5.3 0.5,0 5.2-5.6z" fill="#7f00d3"/>
<path d="M456,385.1l0.4,0.6 9-0.3 0.5-0.6-3.9-4.7-1.4,0.1z" fill="#6402e3"/>
<path d="M462.5,380.7l-1.1-1.3-1.4,1.4z" fill="#2f09f2"/>
<path d="M464,383L458.2,383.2" class="cl"/>
<path d="M399.2,379.8l1.8,2.1 1.7-1.9z" fill="#2f09f2"/>
<path d="M396.8,377.1l2.9,3.3 2.5,0.1 4.5-5.1-8.3-0.4z" fill="#0017ff"/>
<path d="M406.2,375.9l0.6-0.7-3.7-4.6-1.1,0-4,5z" fill="#0061ff"/>
<path d="M403.6,371.2l-1.1-1.2-0.9,1.2z" fill="#00a5ff"/>
<path d="M447.1,385.5l4.2,5.3 5.6-5.7z" fill="#7f00d3"/>
<path d="M446.8,385.1l0.8,1 8.7-0.4 0.5-0.5-3.9-4.8-1.4,0.1z" fill="#6402e3"/>
<path d="M453.4,381l-1.1-1.4-1.5,1.5z" fill="#2f09f2"/>
<path d="M454.9,383.3L448.8,383.6" class="cl"/>
<path d="M390.5,380.4l1.1,1.3 1.8-1.4z" fill="#2f09f2"/>
<path d="M387.4,376.8l3.6,4.2 1.8-0.1 4.8-3.8-1.8-2.2-6.5,0.4z" fill="#0017ff"/>
<path d="M396.2,375.4l-2.8-3.4-4.8,3.9z" fill="#0061ff"/>
<path d="M441.2,387.1l0.9,1.2 3.2-2z" fill="#7f00d3"/>
<path d="M437.6,382.8l4,4.9 3-0.8 3.1-1.6-3.7-4.5-4.5,1z" fill="#6402e3"/>
<path d="M444.4,381.3l-1.2-1.5-4.4,2.6z" fill="#2f09f2"/>
<path d="M440,385.2L446.1,383.7" class="cl"/>
<path d="M379,382.9l3.5,4.4 2-3.6z" fill="#6402e3"/>
<path d="M378.3,382l1.3,1.6 4.5,0.6 2.5-4.5-6.7-0.9z" fill="#2f09f2"/>
<path d="M386.3,380.2l1.9-3.4-0.8-1.3-5.5-0.6-2.3,4.5z" fill="#0017ff"/>
<path d="M387.8,376.2l-3.5-5.1-0.4-0.1-2.3,4.5z" fill="#0061ff"/>
<path d="M384.8,371.7l-0.8-1.1-0.4,1z" fill="#00a5ff"/>
<path d="M381.9,386.1L382.7,386.2" class="cl"/>
<path d="M430.8,383.8l2,2.4 5.7-3.2-0.6-0.8z" fill="#6402e3"/>
<path d="M428.4,380.9l2.9,3.4 7-1.6-4.2-5zM419.2,380.3l4.4,4.9 5.7-4.2-1.9-2.2-7.2,0.7z" fill="#2f09f2"/>
<path d="M427.9,379.4l-3-3.6-5.4,4.3z" fill="#0017ff"/>
<path d="M410.4,380.3l3.8,4.4 5.9-4.3-0.7-0.9z" fill="#2f09f2"/>
<path d="M409.9,379.7l1,1.2 8.9-0.8-4.1-4.9z" fill="#0017ff"/>
<path d="M463.8,394.6l0.9,1.1 1.1-1.1z" fill="#a000b8"/>
<path d="M460.1,390.2l4.2,5 0.9,0 5.1-5.7-9.7,0.3z" fill="#9300c3"/>
<path d="M469.8,390.2l0.3-0.4-4.2-5-0.8,0-5.1,5.6z" fill="#7f00d3"/>
<path d="M466.4,385.4l-0.9-1-0.9,1zM404,385l0.9,1 0.8-0.9z" fill="#6402e3"/>
<path d="M400.6,381.5l4,4.2 0.6,0 5.1-5.4-8.4-0.4z" fill="#2f09f2"/>
<path d="M409.7,380.9l1-1.1-3.8-4.4-1-0.1-4.5,5.2z" fill="#0017ff"/>
<path d="M407.5,376l-1.1-1.2-1,1.1z" fill="#0061ff"/>
<path d="M454.7,395l0.8,1 1-1.1z" fill="#a000b8"/>
<path d="M450.9,390.2l4.2,5.3 0.8,0 5-5.3-0.4-0.4z" fill="#9300c3"/>
<path d="M450.9,390.3l0.4,0.5 9.7-0.5-4.3-5.2-0.7,0z" fill="#7f00d3"/>
<path d="M457.2,385.6l-0.8-0.9-1,1z" fill="#6402e3"/>
<path d="M391.2,381.3l4.3,4.7 6-4.5-1.5-1.7-7.5,0.5z" fill="#2f09f2"/>
<path d="M400.5,380.4l-3.3-3.7-5.4,4.2z" fill="#0017ff"/>
<path d="M445.1,391.9l1.1,1.4 5.1-2.9z" fill="#9300c3"/>
<path d="M441.7,387.8l3.8,4.7 5.1-1.5 1.2-0.6-4-4.9-3.4,0.8z" fill="#7f00d3"/>
<path d="M448.2,386l-0.9-1.2-3.6,2.1z" fill="#6402e3"/>
<path d="M383.3,388l3,3.1 1.3-2.3z" fill="#7f00d3"/>
<path d="M382.1,386.8l1.8,1.9 3.4,0.7 2.7-4.7-6.2-1.1z" fill="#6402e3"/>
<path d="M389.7,385.2l2.4-3.9-0.8-0.9-5.3-0.8-2.5,4.5z" fill="#2f09f2"/>
<path d="M391.9,381.1l-4.1-4.8-2.1,3.8z" fill="#0017ff"/>
<path d="M388.2,387.2L382.7,386.2" class="cl"/>
<path d="M434.9,388.6l2,2.5 5.7-3.1-0.8-1z" fill="#7f00d3"/>
<path d="M432.4,385.7l2.9,3.4 6.9-1.6-4.1-5z" fill="#6402e3"/>
<path d="M433.7,386.7L440,385.2" class="cl"/>
<path d="M423,384.6l4.6,5.2 5.8-4-1.9-2.2z" fill="#6402e3"/>
<path d="M422.8,385.2l9.2-1-3.1-3.6z" fill="#2f09f2"/>
<path d="M426.1,387.7L431.1,387.1" class="cl"/>
<path d="M415,385.4l3.2,3.6 6.2-4.4z" fill="#6402e3"/>
<path d="M413.8,384.2l1.7,1.8 8.7-0.9-4.5-5.2z" fill="#2f09f2"/>
<path d="M404.5,385.6l4.4,4.5 4.7-4.7-8.6-0.3z" fill="#6402e3"/>
<path d="M413,386l1.7-1.7-3.5-4-1.7,0-5.1,5.4z" fill="#2f09f2"/>
<path d="M411.7,380.9l-1.4-1.6-1.4,1.5z" fill="#0017ff"/>
<path d="M407.7,388.5L410,388.5" class="cl"/>
<path d="M458.6,399.8l1.1,1.3 1.3-1.4zM455.1,395.5l4,4.9 1.3-0.1 4.7-5-0.5-0.7-8.9,0.3z" fill="#a000b8"/>
<path d="M465.1,395.2l-4.5-5.4-5.5,5.7z" fill="#9300c3"/>
<path d="M395.2,385.6l4.2,4.3 6-4.3-0.5-0.5z" fill="#6402e3"/>
<path d="M395.1,385.5l0.7,0.7 9.6-0.6-4.3-4.6z" fill="#2f09f2"/>
<path d="M399,389.1L400.2,389" class="cl"/>
<path d="M449,396.8l1.4,1.7 5.6-2.9-0.6-0.7z" fill="#a000b8"/>
<path d="M445.8,392.9l3.6,4.4 6.4-1.9-4.2-5.3-1.2,0.4z" fill="#9300c3"/>
<path d="M452,390.7l-0.6-0.8-1.7,1.2zM385.8,390.6l4.3,4 3-4.7-6.1-1.2z" fill="#7f00d3"/>
<path d="M392.8,390.4l3.1-4.8-6.5-1-2.8,4.6z" fill="#6402e3"/>
<path d="M395.5,386.2l0.4-0.7-4.3-4.7-2.5,4.3z" fill="#2f09f2"/>
<path d="M393.8,388.2L388.2,387.2" class="cl"/>
<path d="M439,393.5l2.1,2.6 5.6-3-1-1.3z" fill="#9300c3"/>
<path d="M436.5,390.6l2.9,3.5 6.7-1.8-3.9-4.8zM427.5,389.7l4.2,4.8 5.7-3.7-1.8-2.3z" fill="#7f00d3"/>
<path d="M427.2,389.4l0.8,0.8 8-1.2-3-3.6z" fill="#6402e3"/>
<path d="M433.7,386.7L431.1,387.1" class="cl"/>
<path d="M419.8,390.7l2.5,2.7 5.1-3.6z" fill="#7f00d3"/>
<path d="M417.8,388.6l2.5,2.6 6.4-0.8 1.4-0.9-4.4-5z" fill="#6402e3"/>
<path d="M418.3,388.6L426.1,387.7" class="cl"/>
<path d="M409.4,390.6l3.5,3.4 3.5-3.3z" fill="#7f00d3"/>
<path d="M408.4,389.7l1.6,1.5 5.8,0.1 2.9-2.7-3-3.2-2.9-0.1z" fill="#6402e3"/>
<path d="M416.3,386l-2-2.2-2.1,2.1z" fill="#2f09f2"/>
<path d="M418.3,388.6L410,388.5" class="cl"/>
<path d="M400.8,391.3l2.5,2.5 4.2-2.9z" fill="#7f00d3"/>
<path d="M399,389.5l2.4,2.4 5.4-0.5 2.5-1.7-4.3-4.5z" fill="#6402e3"/>
<path d="M407.7,388.5L400.2,389" class="cl"/>
<path d="M453.1,401.7l1.5,1.8 5.6-2.8-0.9-1zM450,398l3.5,4.2 6.2-2-4.1-5.1z" fill="#a000b8"/>
<path d="M389.7,394.1l4.3,3.7 1.7-2.5z" fill="#9300c3"/>
<path d="M389.6,394.2l0.7,0.5 5.1,1.1 3.5-4.9-6.4-1.2z" fill="#7f00d3"/>
<path d="M398.5,391.4l1.3-1.9-3.8-3.9-0.8-0.1-3.1,4.8z" fill="#6402e3"/>
<path d="M396.7,386.3l-1.2-1.2-0.6,0.9z" fill="#2f09f2"/>
<path d="M399,389.1L393.8,388.2" class="cl"/>
<path d="M443.1,398.5l2.1,2.6 5.7-2.9-1.3-1.6z" fill="#a000b8"/>
<path d="M440.7,395.6l2.8,3.4 6.5-1.9-3.6-4.5zM432,394.8l3.8,4.4 5.8-3.4-2-2.4z" fill="#9300c3"/>
<path d="M431.3,394l1.1,1.3 7.7-1.4-3-3.6z" fill="#7f00d3"/>
<path d="M424.7,396l1.7,1.9 3.9-2.6z" fill="#9300c3"/>
<path d="M421.9,393l3.3,3.6 4.4-0.8 2.6-1.6-4-4.6-1.7,0.2z" fill="#7f00d3"/>
<path d="M428.7,390.1l-1-1.1-1.9,1.4z" fill="#6402e3"/>
<path d="M415.3,396.4l1.6,1.5 1.9-1.6z" fill="#9300c3"/>
<path d="M412.4,393.6l3.5,3.4 2.2-0.1 4.7-3.9-2.3-2.4-5,0.1z" fill="#7f00d3"/>
<path d="M421.1,391.2l-2.8-3-3.4,3.1z" fill="#6402e3"/>
<path d="M418.3,388.6L418.3,388.6" class="cl"/>
<path d="M402.9,393.4l4.4,4.2 6-4-3-3-3.7,0.3z" fill="#7f00d3"/>
<path d="M410.8,391.1l-1.9-1.8-3,2.1z" fill="#6402e3"/>
<path d="M393.5,397.4l4.4,3.7 3.6-4.8-6.4-1.1z" fill="#9300c3"/>
<path d="M401.1,396.9l2.7-3.5-2.2-2.1-3.4-0.6-3.5,5z" fill="#7f00d3"/>
<path d="M402.2,391.9l-2.8-2.9-1.6,2.3z" fill="#6402e3"/>
<path d="M447.3,403.5l2.2,2.6 5.6-2.8-1.4-1.8zM444.8,400.6l2.9,3.4 6.4-2-3.6-4.3zM436.5,400l3.5,4 5.8-3.2-2.1-2.5z" fill="#a000b8"/>
<path d="M435.4,398.8l1.6,1.7 7.1-1.7-2.9-3.5z" fill="#9300c3"/>
<path d="M429.7,401.5l0.8,0.8 1.8-1.2z" fill="#a000b8"/>
<path d="M426,397.4l4.2,4.6 1.4-0.3 4.8-2.8-3.7-4.2-3.3,0.6z" fill="#9300c3"/>
<path d="M433.1,395.2l-1.3-1.5-3.1,2.2z" fill="#7f00d3"/>
<path d="M416.5,397.5l4.5,4.5 5.9-4.5-1.5-1.6-7.5,0.4z" fill="#9300c3"/>
<path d="M425.9,396.5l-3.5-3.9-5.2,4.4z" fill="#7f00d3"/>
<path d="M407,397.3l4.4,4.1 6-3.8-1.3-1.2z" fill="#9300c3"/>
<path d="M406.9,397.2l0.7,0.6 9.1-0.9-3.8-3.7z" fill="#7f00d3"/>
<path d="M398.2,401.2l3.6,2.9 1.7-1.9z" fill="#a000b8"/>
<path d="M397.4,400.7l1.5,1.1 4.2,0.9 4.6-5.5-6.8-1z" fill="#9300c3"/>
<path d="M407.3,397.8l0.5-0.6-4.5-4.2-2.9,3.8z" fill="#7f00d3"/>
<path d="M441.2,405.3l3,3.4 5.8-2.9-2.1-2.4zM439.6,403.5l2,2.3 6.7-1.9-2.9-3.6zM430.1,401.9l4.6,4.9 5.8-3.1-3.3-3.8-5.8,1.2z" fill="#a000b8"/>
<path d="M437.6,400.4l-1.7-2-5.2,3.3z" fill="#9300c3"/>
<path d="M421.3,402.3l3.8,3.6 5.9-3.9-0.6-0.7z" fill="#a000b8"/>
<path d="M420.5,401.5l1.4,1.4 9-1-4.4-4.8z" fill="#9300c3"/>
<path d="M413.6,403.5l1.9,1.8 3.8-2.5z" fill="#a000b8"/>
<path d="M410.9,401l3.2,3 4.5-0.6 2.9-1.8-4.6-4.4z" fill="#9300c3"/>
<path d="M401.4,403.7l4.5,3.5 3.9-4.1-7-1.1z" fill="#a000b8"/>
<path d="M409.3,403.6l2.5-2.6-4-3.8-0.8-0.1-4.6,5.5z" fill="#9300c3"/>
<path d="M408.5,397.9l-1.2-1.1-0.7,0.9z" fill="#7f00d3"/>
<path d="M434.9,407l4,4.3 5.9-2.9-3-3.3zM434.3,406.4l1,1.1 7-1.9-2.2-2.4zM427.8,408.5l1.5,1.4 3.7-2.3zM424.7,405.5l3.6,3.5 4-0.8 2.9-1.7-4.6-4.9zM415,404.8l4.6,4.2 6-3.4-3.5-3.4-3.7,0.6z" fill="#a000b8"/>
<path d="M422.7,402.8l-1.7-1.6-3.3,2.2z" fill="#9300c3"/>
<path d="M408.6,409.2l1.3,1.1 1-0.9zM405.4,406.8l3.9,3 1,0.2 5.6-5.1-1.5-1.5-5.3-0.4z" fill="#a000b8"/>
<path d="M415,404l-3.6-3.4-2.8,2.9z" fill="#9300c3"/>
<path d="M428.8,409.5l4.7,4.4 6-2.8-4-4.2-3.4,0.7zM436,407.4l-1.2-1.3-3.4,2.1zM420.8,410l3,2.8 6.1-3.2-1.4-1.3zM419.1,408.6l2.2,1.9 7.7-1.7-3.8-3.6zM409.4,410l4.7,3.3 4.1-3.2-8.1-0.8zM417.5,410.6l2.6-2-4.6-4.1-6,5.4zM423.3,412.3l4.7,4.3 6.1-2.9-4.7-4.5zM413.5,412.9l4.7,3.3 6.1-3.8-2.8-2.5-4.2,0.1zM422.2,410.5l-2.5-2.3-3.1,2.4zM417.7,415.9l4.8,3.3 6.1-2.9-4.7-4.3z" fill="#a000b8"/>
</g>
<path d="M336.3,379.7L330.8,254.6M336.3,379.7L422.5,419.4M422.5,419.4L513.9,381.5M336.3,379.7L333.5,380.9M346.9,384.6L344.2,385.8M358.1,389.8L355.3,390.9M369.7,395.1L367,396.3M382,400.7L379.2,401.9M394.8,406.7L392,407.8M408.3,412.9L405.5,414M422.5,419.4L419.7,420.5M422.5,419.4L425.2,420.6M432.1,415.4L434.8,416.7M441.4,411.5L444.1,412.8M450.4,407.8L453.1,409.1M459.2,404.2L461.9,405.4M467.7,400.6L470.4,401.9M475.9,397.2L478.7,398.5M484,393.9L486.7,395.1M491.7,390.6L494.5,391.9M499.3,387.5L502.1,388.7M506.7,384.4L509.4,385.7M513.9,381.5L516.6,382.7M335.2,353.8L332.3,354.7M334.1,328.7L331.2,329.6M332.9,302.9L330.1,303.8M331.8,276.3L328.9,277.2" class="ax"/>
<text class="zt" font-size="11.8" transform="matrix(0.870,-0.087,0,1,333.3,356)" text-anchor="end" y="3.9">0.005</text>
<text class="zt" font-size="11.8" transform="matrix(0.870,-0.087,0,1,332.2,330.9)" text-anchor="end" y="3.9">0.010</text>
<text class="zt" font-size="11.8" transform="matrix(0.870,-0.087,0,1,331.1,305.1)" text-anchor="end" y="3.9">0.015</text>
<text class="zt" font-size="11.8" transform="matrix(0.870,-0.087,0,1,329.9,278.5)" text-anchor="end" y="3.9">0.020</text>
<text class="ttl" font-size="11.4" transform="translate(300.8,325.7) rotate(90)" text-anchor="middle" y="2.9">Shape coefficient</text>
<text class="ft" font-size="6.8" transform="matrix(0.571,-0.696,0.818,0.376,333.9,382.7)" text-anchor="end" y="2.2">1</text>
<text class="ft" font-size="6.8" transform="matrix(0.571,-0.696,0.818,0.376,344.5,387.6)" text-anchor="end" y="2.2">2</text>
<text class="ft" font-size="6.8" transform="matrix(0.571,-0.696,0.818,0.376,355.7,392.7)" text-anchor="end" y="2.2">3</text>
<text class="ft" font-size="6.8" transform="matrix(0.571,-0.696,0.818,0.376,367.3,398.1)" text-anchor="end" y="2.2">4</text>
<text class="ft" font-size="6.8" transform="matrix(0.571,-0.696,0.818,0.376,379.6,403.7)" text-anchor="end" y="2.2">5</text>
<text class="ft" font-size="6.8" transform="matrix(0.571,-0.696,0.818,0.376,392.4,409.6)" text-anchor="end" y="2.2">6</text>
<text class="ft" font-size="6.8" transform="matrix(0.571,-0.696,0.818,0.376,405.9,415.8)" text-anchor="end" y="2.2">7</text>
<text class="ft" font-size="6.8" transform="matrix(0.571,-0.696,0.818,0.376,420.1,422.3)" text-anchor="end" y="2.2">8</text>
<text class="ft" font-size="6.8" transform="matrix(0.544,0.717,-0.831,0.345,424.8,422.4)" text-anchor="start" y="2.2">1</text>
<text class="ft" font-size="6.8" transform="matrix(0.544,0.717,-0.831,0.345,434.4,418.4)" text-anchor="start" y="2.2">2</text>
<text class="ft" font-size="6.8" transform="matrix(0.544,0.717,-0.831,0.345,443.7,414.6)" text-anchor="start" y="2.2">3</text>
<text class="ft" font-size="6.8" transform="matrix(0.544,0.717,-0.831,0.345,452.7,410.8)" text-anchor="start" y="2.2">4</text>
<text class="ft" font-size="6.8" transform="matrix(0.544,0.717,-0.831,0.345,461.5,407.2)" text-anchor="start" y="2.2">5</text>
<text class="ft" font-size="6.8" transform="matrix(0.544,0.717,-0.831,0.345,470,403.7)" text-anchor="start" y="2.2">6</text>
<text class="ft" font-size="6.8" transform="matrix(0.544,0.717,-0.831,0.345,478.2,400.2)" text-anchor="start" y="2.2">7</text>
<text class="ft" font-size="6.8" transform="matrix(0.544,0.717,-0.831,0.345,486.3,396.9)" text-anchor="start" y="2.2">8</text>
<text class="ft" font-size="6.8" transform="matrix(0.544,0.717,-0.831,0.345,494,393.7)" text-anchor="start" y="2.2">9</text>
<text class="ft" font-size="6.8" transform="matrix(0.544,0.717,-0.831,0.345,501.6,390.5)" text-anchor="start" y="2.2">10</text>
<text class="ft" font-size="6.8" transform="matrix(0.544,0.717,-0.831,0.345,509,387.5)" text-anchor="start" y="2.2">11</text>
<text class="ft" font-size="6.8" transform="matrix(0.544,0.717,-0.831,0.345,516.2,384.5)" text-anchor="start" y="2.2">12</text>
<text class="ttl" font-size="10" transform="translate(363.6,404.1) rotate(25.4) skewX(-25.0) scale(0.810,0.800)" text-anchor="middle" y="2.5" style="white-space:pre" xml:space="preserve">Number of rows of PV modules</text>
<text class="ttl" font-size="10" transform="translate(483.8,410.4) rotate(-21.2) skewX(0.0) scale(0.884,0.950)" text-anchor="middle" y="2.5" style="white-space:pre" xml:space="preserve">Number of columns of PV modules</text>
</g>
<g id="plot-g">
<path d="M195.9,625.2L283.2,592.6M283.2,592.6L283.5,475M209.1,629.9L295.9,596.2M295.9,596.2L297,476.7M222.7,634.8L309.1,599.8M309.1,599.8L310.9,478.5M236.8,639.8L322.6,603.6M322.6,603.6L325.3,480.3M251.6,645.1L336.7,607.5M336.7,607.5L340.2,482.2M266.9,650.6L351.2,611.5M351.2,611.5L355.7,484.2M282.9,656.3L366.3,615.7M366.3,615.7L371.8,486.2M299.5,662.3L381.9,620M381.9,620L388.5,488.3M195.9,625.2L299.5,662.3M195.9,625.2L190.7,490M205,621.8L308.2,657.8M205,621.8L200.4,488.4M213.8,618.5L316.6,653.5M213.8,618.5L209.8,486.9M222.3,615.3L324.8,649.3M222.3,615.3L218.9,485.4M230.7,612.2L332.7,645.3M230.7,612.2L227.8,484M238.8,609.2L340.4,641.3M238.8,609.2L236.4,482.6M246.7,606.3L347.8,637.5M246.7,606.3L244.8,481.3M254.3,603.4L355,633.8M254.3,603.4L253,480M261.8,600.6L362,630.2M261.8,600.6L260.9,478.7M269.1,597.9L368.9,626.7M269.1,597.9L268.7,477.4M276.2,595.2L375.5,623.3M276.2,595.2L276.2,476.2M283.2,592.6L381.9,620M283.2,592.6L283.5,475M195.3,608.5L283.2,578M283.2,578L382.7,603.7M194.6,589.7L283.3,561.6M283.3,561.6L383.6,585.4M193.8,570.6L283.3,544.9M283.3,544.9L384.6,566.8M193,551.1L283.4,527.9M283.4,527.9L385.5,547.8M192.3,531.2L283.4,510.7M283.4,510.7L386.5,528.5M191.5,511L283.5,493.2M283.5,493.2L387.5,508.8M190.7,490.4L283.5,475.4M283.5,475.4L388.5,488.8" class="grid"/>
<path d="M190.7,490L283.5,475M283.5,475L388.5,488.3M388.5,488.3L381.9,620" class="frame"/>
<path d="M195.9,625.2L283.2,592.6M283.2,592.6L381.9,620" class="frame2"/>
<path d="M283.5,475L283.2,592.6" class="frame3"/>
<g>
<path d="M286.5,552.7l0.8,3.6-2-4.7z" fill="#00ff21"/>
<path d="M285.7,550l1,3.6-1.2-1.1-1.4-4.1z" fill="#25ff00"/>
<path d="M285,547.3l0.9,3.6-1.6-1.6-1.3-3.2-0.1-0.9z" fill="#66ff00"/>
<path d="M284.2,544.6l0.9,3.6-2.1-2.1-0.7-3.7z" fill="#a3ff00"/>
<path d="M283.4,541.8l0.9,3.7-1.9-2.2-0.7-3.7z" fill="#dcff00"/>
<path d="M282.6,539.1l0.9,3.6-1.7-2.2-0.7-3.7z" fill="#f5ea00"/>
<path d="M281.8,536l0.7,2.7 0.2,1.3-1.6-2.3-0.6-3.7z" fill="#fdca00"/>
<path d="M280.9,532.8l0.9,4.1-1.3-1.9-0.7-3.8z" fill="#ffa600"/>
<path d="M280.1,529.6l0.9,4.1-1.2-1.6-0.6-3.7z" fill="#ff8100"/>
<path d="M279.2,526.5l0.9,4-0.9-1.2-0.7-3.7z" fill="#ff5e00"/>
<path d="M278.3,523.9l1,3.5-0.7-0.9z" fill="#ff3b00"/>
<path d="M285.9,551.7L285.2,550.9M282.9,541.2L281.9,539.7M279.7,529.4L279.4,528.9" class="cl"/>
<path d="M290.2,562.4l0.9,3.2-1.8-4.4z" fill="#00dbe5"/>
<path d="M289.2,559.8l1,3.5-0.9-1.2-1.3-4.2z" fill="#00f3ac"/>
<path d="M288.2,557.2l1.1,3.5-1.3-1.8-1.3-4.1z" fill="#00ff6a"/>
<path d="M287.2,554.5l1.1,3.6-1.6-2.5-0.7-3.6z" fill="#00ff21"/>
<path d="M285.6,552l0.1,0.3 0.9,1.5-0.1-1.1-1.2-3.4z" fill="#25ff00"/>
<path d="M284.8,548.9l1.4,3.9-0.4-2.7-1.3-3.5z" fill="#66ff00"/>
<path d="M283.9,545.7l1.4,3.9-0.3-2.3-1.3-3.4z" fill="#a3ff00"/>
<path d="M283,542.5l1.4,3.9-0.2-1.8-1.3-3.5z" fill="#dcff00"/>
<path d="M282.1,539.3l1.4,4-0.1-1.4-1.3-3.5z" fill="#f5ea00"/>
<path d="M282,538l0.6,2.1 0-1z" fill="#fdca00"/>
<path d="M290.3,563.5L290.1,563.2M286.5,553.5L285.9,551.7M283,541.6L282.9,541.2" class="cl"/>
<path d="M280.8,536.5l1.7,3.1-0.9-4.2z" fill="#fdca00"/>
<path d="M279.5,533.8l1.6,3.3 0.7-0.9-1-3.9z" fill="#ffa600"/>
<path d="M278.3,531.1l1.5,3.3 1.2-1.4-1-3.9z" fill="#ff8100"/>
<path d="M277,528.4l1.6,3.3 1.5-1.9-1-3.9z" fill="#ff5e00"/>
<path d="M276.3,525.2l0.7,3.2 0.3,0.6 2-2.4-0.6-2-0.6-1.6z" fill="#ff3b00"/>
<path d="M275.6,522l0.8,4 2-2.4-1.3-3.4z" fill="#ff2200"/>
<path d="M274.9,518.8l0.8,4 1.7-1.9-1.3-3.5z" fill="#ff0d00"/>
<path d="M274.2,515.6l0.8,4 1.3-1.5-1.2-3.5z" fill="#ff0000"/>
<path d="M273.4,512.4l0.9,4 1-1.1-1.3-3.5zM273.2,510.2l0.4,2.9 0.7-0.7z" fill="#fe0000"/>
<path d="M278.5,530.9L279.7,529.4M275.2,519.1L276.1,518.2" class="cl"/>
<path d="M293.9,569.1l1,2.7-2.4-3.9z" fill="#0776ff"/>
<path d="M292.7,566.6l1.4,3.4-1.3-1.2-2.3-4.3z" fill="#02b1ff"/>
<path d="M291.4,564.1l1.5,3.3-2.1-2-0.3-0.5-1-3.2z" fill="#00dbe5"/>
<path d="M290.2,561.5l1.4,3.4-2-2.3-1.1-3.5z" fill="#00f3ac"/>
<path d="M288.9,558.4l1.2,2.8 0.3,1.2-1.8-2.4-1-3.5z" fill="#00ff6a"/>
<path d="M287.5,555.1l1.5,4.2-1.4-1.9-1-3.5z" fill="#00ff21"/>
<path d="M285.7,551.4l1.9,4.6-0.9-1.2z" fill="#25ff00"/>
<path d="M291.7,565.2L290.3,563.5M286.7,553.8L286.5,553.5" class="cl"/>
<path d="M285.5,552l0.9,0.9-0.3-1.5z" fill="#25ff00"/>
<path d="M283.9,549.5l1.9,3 0.5-0.5-1.1-3.8z" fill="#66ff00"/>
<path d="M282.3,546.9l1.9,3.1 1.2-1.1-1.1-3.9z" fill="#a3ff00"/>
<path d="M280.7,544.3l0.1,0.4 1.8,2.7 1.9-1.7-1.1-3.8z" fill="#dcff00"/>
<path d="M280,541.1l0.9,3.9 2.7-2.5-1.1-3.8z" fill="#f5ea00"/>
<path d="M279.2,538l1,3.8 2.5-2.5-0.2-0.6-1.2-2.7z" fill="#fdca00"/>
<path d="M278.5,534.8l0.9,3.8 2.1-2-1.5-3.2z" fill="#ffa600"/>
<path d="M277.7,531.6l0.9,3.8 1.7-1.5-1.6-3.2z" fill="#ff8100"/>
<path d="M277,528.4l0.9,3.8 1.1-1-1.6-3.2z" fill="#ff5e00"/>
<path d="M277,527.5l0.1,1.5 0.6-0.5z" fill="#ff3b00"/>
<path d="M280.9,543.6L283,541.6M278,531.4L278.5,530.9" class="cl"/>
<path d="M297.2,576.1l1.5,1.8-1.9-3.2z" fill="#1002ff"/>
<path d="M295.7,573.8l2.2,2.9-0.4-1.4-2.8-4z" fill="#0b3cff"/>
<path d="M294.1,571.4l2.3,3-1.1-2.5-0.5-1-1.5-2.4z" fill="#0776ff"/>
<path d="M292.6,568.5l0.7,1.6 1.5,1.9-0.9-2.9-1.8-3.2z" fill="#02b1ff"/>
<path d="M291.1,565.2l2.1,4-0.5-2.6-1.8-3.2z" fill="#00dbe5"/>
<path d="M289.7,561.9l2,4-0.2-1.8-1.9-3.2z" fill="#00f3ac"/>
<path d="M289.4,560.6l0.9,2-0.1-1z" fill="#00ff6a"/>
<path d="M297.8,576.5L297.7,576.2M292,566.4L291.7,565.2" class="cl"/>
<path d="M274.8,525.8l2.9,3.3-0.9-4.2z" fill="#ff3b00"/>
<path d="M272.7,523.3l2.5,3 1.8-0.8-0.9-3.8z" fill="#ff2200"/>
<path d="M271.5,520.3l0.4,2 1.2,1.4 3.1-1.4-0.8-3.8z" fill="#ff0d00"/>
<path d="M270.9,517.1l0.7,3.8 3.9-1.8-0.8-3.8z" fill="#ff0000"/>
<path d="M270.2,513.8l0.8,3.9 3.8-1.8-0.8-3.8zM269.5,510.6l0.8,3.8 3.8-1.7-0.4-1.8-1.1-1.7z" fill="#fe0000"/>
<path d="M268.9,507.4l0.8,3.8 3.3-1.5-2.1-3.2zM268.2,504.1l0.8,3.9 2.2-1-2-3.3z" fill="#fd0000"/>
<path d="M268,502l0.4,2.7 1.1-0.5z" fill="#fc0000"/>
<path d="M271.9,520.7L275.2,519.1M269.4,508.3L271.2,507.5" class="cl"/>
<path d="M287.6,559.3l2.6,2.8-1.5-4.2z" fill="#00ff6a"/>
<path d="M285.6,557l2.4,2.8 1-1.3-1.7-3.9z" fill="#00ff21"/>
<path d="M284,554.1l0.7,1.9 1.3,1.5 1.6-2.2-1.3-3.3-0.4-0.5z" fill="#25ff00"/>
<path d="M282.9,550.9l1.4,3.9 2-2.8-2-3z" fill="#66ff00"/>
<path d="M281.8,547.6l1.4,4 1.4-2.1-1.9-3z" fill="#a3ff00"/>
<path d="M280.7,543.8l1.4,4.5 0.9-1.3z" fill="#dcff00"/>
<path d="M285,556L286.7,553.8" class="cl"/>
<path d="M301.5,579.7l1.2,1.9-3.1-3.1z" fill="#2d00f4"/>
<path d="M299.7,577.4l2.2,3.1-1.9-1.2-2-2-1.1-2z" fill="#1002ff"/>
<path d="M297.8,575.1l2.2,3.1-2.7-2-1.9-3.3z" fill="#0b3cff"/>
<path d="M295.2,571.7l2.4,3.2 0.6,1.1-2.5-2.2-1.8-3.2z" fill="#0776ff"/>
<path d="M293.1,569.3l2.4,3.2-1.4-1.1z" fill="#02b1ff"/>
<path d="M299.9,578.1L297.8,576.5" class="cl"/>
<path d="M280.5,544.4l1,0.9-0.2-1.3z" fill="#dcff00"/>
<path d="M277.8,542.1l3.2,2.7 0.4-0.2-0.9-3.8z" fill="#f5ea00"/>
<path d="M275.6,539.6l0.2,0.8 2.5,2.1 2.4-1.1-0.9-3.8z" fill="#fdca00"/>
<path d="M274.9,536.4l0.8,3.8 4.2-2-0.9-3.8z" fill="#ffa600"/>
<path d="M274.2,533.1l0.9,3.9 4.1-2-0.9-3.7z" fill="#ff8100"/>
<path d="M273.5,529.9l0.9,3.9 4-2-0.9-3.7z" fill="#ff5e00"/>
<path d="M272.9,526.7l0.8,3.8 4-1.8-0.1-0.5-2.2-2.6z" fill="#ff3b00"/>
<path d="M272.2,523.5l0.8,3.8 2.8-1.3-2.5-3z" fill="#ff2200"/>
<path d="M271.8,521.4l0.5,2.7 1.4-0.6z" fill="#ff0d00"/>
<path d="M280.3,543.9L280.9,543.6M274.5,533L278,531.4" class="cl"/>
<path d="M291.8,569l2.3,1.7-1.1-2.8z" fill="#02b1ff"/>
<path d="M289.1,567l3.2,2.4 0.9-1-1.7-3.8z" fill="#00dbe5"/>
<path d="M287.6,563.9l0.9,2.6 1.1,0.8 2.2-2.2-1.7-3.9z" fill="#00f3ac"/>
<path d="M286.4,560.7l1.4,3.9 2.5-2.8-0.3-0.6-2-2.3z" fill="#00ff6a"/>
<path d="M285.2,557.4l1.4,3.9 1.8-2-2.4-2.7z" fill="#00ff21"/>
<path d="M284.5,555.1l0.9,2.9 1-1z" fill="#25ff00"/>
<path d="M290.6,567.8L292,566.4M285,556L285,556" class="cl"/>
<path d="M305.2,583.6l1.3,1.7-2.9-2.9z" fill="#4b00e9"/>
<path d="M303.1,581.5l2.5,2.9-1.6-1.1-2.1-2.2-1.2-1.9z" fill="#2d00f4"/>
<path d="M300.3,579.3l0.7,1 2.5,2-2-2.6-2.6-2.8z" fill="#1002ff"/>
<path d="M297.5,575.7l3.6,4.2-1.4-2.5-2.6-2.7z" fill="#0b3cff"/>
<path d="M296.9,574.4l1.3,1.8-0.3-1z" fill="#0776ff"/>
<path d="M301.2,580L299.9,578.1" class="cl"/>
<path d="M270,520.8l2.6,2.1-0.5-2.8z" fill="#ff0d00"/>
<path d="M267,518.4l3.6,2.8 1.6-0.6-0.8-3.8z" fill="#ff0000"/>
<path d="M266.2,515.2l0.5,2.9 0.9,0.7 3.9-1.4-0.7-3.8zM265.5,511.9l0.8,3.9 4.6-1.6-0.8-3.8z" fill="#fe0000"/>
<path d="M264.9,508.7l0.8,3.8 4.5-1.5-0.7-3.8zM264.3,505.4l0.7,3.9 4.6-1.5-0.8-3.9z" fill="#fd0000"/>
<path d="M263.7,502.2l0.7,3.8 4.5-1.5-0.3-1.8-1.5-1.6zM263,498.9l0.8,3.9 3.7-1.3-2.9-3.1z" fill="#fc0000"/>
<path d="M262.6,496.3l0.6,3.2 1.9-0.6z" fill="#fb0000"/>
<path d="M270.8,521.1L271.9,520.7M265.4,509.7L269.4,508.3M263,497.2L263.1,497.1" class="cl"/>
<path d="M282.5,554.9l2.9,1.6-0.9-2.7z" fill="#25ff00"/>
<path d="M279.5,552.6l0.2,0.7 3.4,1.9 1.6-0.9-1.3-3.8z" fill="#66ff00"/>
<path d="M278.5,549.4l1.1,3.8 4-2.1-1.3-3.9z" fill="#a3ff00"/>
<path d="M277.5,546.1l1.2,3.9 3.8-2.2-1.1-3.4-0.4-0.3z" fill="#dcff00"/>
<path d="M276.5,542.8l1.2,3.9 3.8-2.2-3.1-2.7z" fill="#f5ea00"/>
<path d="M275.6,539.5l1.1,3.9 2.2-1.2z" fill="#fdca00"/>
<path d="M277.6,545.4L280.3,543.9" class="cl"/>
<path d="M294.3,573.6l3.7,2.1-3.2-4.5z" fill="#0776ff"/>
<path d="M291.4,571l1,1.4 2.4,1.5 0.5-2.1-1.5-2-1.7-1.3z" fill="#02b1ff"/>
<path d="M289.1,567.4l2.8,4.3 0.7-2.8-3.2-2.5z" fill="#00dbe5"/>
<path d="M288.2,565.7l1.4,2.4 0.3-1.3z" fill="#00f3ac"/>
<path d="M290.4,568.8L290.6,567.8" class="cl"/>
<path d="M309.1,587.9l1.4,0.7-2.4-2z" fill="#6800de"/>
<path d="M306.6,585.9l3.3,2.3-0.9-1.3-2.9-2.4-1.7-1.3z" fill="#4b00e9"/>
<path d="M303.7,583.2l1.3,1.3 2.5,1.7-2.3-2.6-2.9-2.5z" fill="#2d00f4"/>
<path d="M300.7,579.5l3.8,4.1-1.4-2.1z" fill="#1002ff"/>
<path d="M274.7,539.9l1.8,0.9-0.3-1.5z" fill="#fdca00"/>
<path d="M271,537.8l4.4,2.5 0.9-0.4-0.8-3.8z" fill="#ffa600"/>
<path d="M270.1,534.7l0.6,3 1,0.5 3.9-1.5-0.8-3.8z" fill="#ff8100"/>
<path d="M269.4,531.4l0.8,3.9 4.7-1.8-0.8-3.8z" fill="#ff5e00"/>
<path d="M268.7,528.2l0.8,3.8 4.7-1.7-0.8-3.8z" fill="#ff3b00"/>
<path d="M268.1,525l0.8,3.8 4.7-1.7-0.9-3.8z" fill="#ff2200"/>
<path d="M267.4,521.7l0.8,3.9 4.7-1.7-0.4-1.9-1.8-1.5z" fill="#ff0d00"/>
<path d="M266.8,518.5l0.8,3.8 3.6-1.3-3.5-2.9z" fill="#ff0000"/>
<path d="M266.5,517.2l0.4,1.8 1.4-0.4z" fill="#fe0000"/>
<path d="M270.3,534.6L274.5,533M267.8,522.1L270.8,521.1" class="cl"/>
<path d="M284.6,565.4l4.6,1.4-1.1-3.2z" fill="#00f3ac"/>
<path d="M282.7,562.5l0.9,2.6 1.8,0.5 2.9-1.4-1.4-3.9z" fill="#00ff6a"/>
<path d="M281.6,559.2l1.3,3.9 4.2-2.2-1.4-3.9z" fill="#00ff21"/>
<path d="M280.5,555.9l1.3,3.9 4.1-2.2-0.7-2-2.1-1.1z" fill="#25ff00"/>
<path d="M279.4,552.5l1.3,4 3.1-1.6z" fill="#66ff00"/>
<path d="M281.5,557.9L285,556" class="cl"/>
<path d="M299.9,579.9l2,0.7-1.4-2z" fill="#1002ff"/>
<path d="M296.2,578.2l4.3,1.9 0.4-1-3.2-4.2z" fill="#0b3cff"/>
<path d="M293.8,574.6l2.5,3.6 0.5,0.3 1.3-3-0.5-0.6-3.1-1.9z" fill="#0776ff"/>
<path d="M292,571.6l2.2,3.5 0.8-1.8z" fill="#02b1ff"/>
<path d="M301.2,580.1L301.2,580" class="cl"/>
<path d="M311.9,589l2.5,2-4.8-2.7-1-1.2z" fill="#6800de"/>
<path d="M308.5,587.4l0.4,0.4 3.5,1.9-2.9-2.3-3.3-2.3z" fill="#4b00e9"/>
<path d="M304.5,583.8l4.9,4-2.4-2.4z" fill="#2d00f4"/>
<path d="M263.3,516.1l4.1,2.4-0.7-3.5zM261.1,513.3l0.3,1.6 2.6,1.6 2.8-0.9-0.7-3.8z" fill="#fe0000"/>
<path d="M260.5,510l0.7,3.9 5-1.5-0.7-3.9zM259.9,506.7l0.7,3.9 5-1.5-0.7-3.8z" fill="#fd0000"/>
<path d="M259.3,503.4l0.7,3.9 5-1.5-0.8-3.8zM258.7,500.1l0.7,3.9 5-1.4-0.8-3.9z" fill="#fc0000"/>
<path d="M258.1,496.8l0.7,3.9 4.9-1.4-0.4-2.4-1.4-1.2z" fill="#fb0000"/>
<path d="M257.5,493.5l0.7,3.9 4.3-1.2-3.7-3.1z" fill="#f60000"/>
<path d="M257.2,491.8l0.4,2.3 1.7-0.5z" fill="#e70000"/>
<path d="M261,511L265.4,509.7M258.7,498.4L263,497.2" class="cl"/>
<path d="M278.5,553l1.9,0.6-0.4-1.2z" fill="#66ff00"/>
<path d="M274.4,551.1l0.2,0.8 4.8,1.4 0.8-0.3-1.2-3.9z" fill="#a3ff00"/>
<path d="M273.5,547.8l1,3.8 4.7-1.9-1.1-3.9z" fill="#dcff00"/>
<path d="M272.6,544.5l1,3.9 4.6-2-1.1-3.8z" fill="#f5ea00"/>
<path d="M271.6,541.2l1.1,3.9 4.6-1.9-1-3.1-0.8-0.5z" fill="#fdca00"/>
<path d="M270.7,537.9l1.1,3.9 4.3-1.8-4.4-2.5z" fill="#ffa600"/>
<path d="M270.4,536.9l0.5,1.6 1.5-0.6z" fill="#ff8100"/>
<path d="M273.6,547.1L277.6,545.4" class="cl"/>
<path d="M289.9,572l3.3,0.7-1.4-2.2z" fill="#02b1ff"/>
<path d="M286.3,569.5l1.2,2 3.2,0.6 1.5-1.1-2.7-4.1z" fill="#00dbe5"/>
<path d="M284.1,565.9l2.5,4.1 3.2-2.6-0.9-1.4-3.6-1z" fill="#00f3ac"/>
<path d="M283.1,564.3l1.3,2.1 1.6-1.2z" fill="#00ff6a"/>
<path d="M287.5,571L290.4,568.8" class="cl"/>
<path d="M303.4,584l2.5,0.8-2.1-2.4z" fill="#2d00f4"/>
<path d="M299.4,582l0.8,1 3.8,1.2 0.3-1.3-2.9-3-1.3-0.6z" fill="#1002ff"/>
<path d="M296.3,578.2l3.6,4.4 0.8-3.1-4.3-1.9z" fill="#0b3cff"/>
<path d="M295.8,577.5l0.9,1.3 0.3-0.9z" fill="#0776ff"/>
<path d="M300.5,582.8L301.2,580.1" class="cl"/>
<path d="M316.8,593l1.6,0.5-3.2-2z" fill="#7e00d5"/>
<path d="M313.6,591.3l4.1,1.9-1.6-1.5-2.2-1.4-2.9-1.6z" fill="#6800de"/>
<path d="M308.4,587l4.5,4 1.6,0.5-2.6-2.5z" fill="#4b00e9"/>
<path d="M317.1,592.8L316.3,592.3" class="cl"/>
<path d="M266.2,536l5.1,1.9-0.7-3.4z" fill="#ff8100"/>
<path d="M264.9,532.9l0.5,2.8 1.6,0.6 3.7-1.2-0.7-3.9z" fill="#ff5e00"/>
<path d="M264.2,529.7l0.8,3.8 5.1-1.7-0.8-3.8z" fill="#ff3b00"/>
<path d="M263.6,526.4l0.8,3.9 5-1.7-0.7-3.8z" fill="#ff2200"/>
<path d="M263,523.1l0.7,3.9 5.1-1.6-0.8-3.9z" fill="#ff0d00"/>
<path d="M262.3,519.8l0.8,3.9 5-1.6-0.7-3.8z" fill="#ff0000"/>
<path d="M261.7,516.6l0.8,3.8 5-1.5-0.3-1.2-3.1-1.9zM261.2,514.1l0.6,3 3-0.9z" fill="#fe0000"/>
<path d="M266.6,535.8L270.3,534.6M263.4,523.6L267.8,522.1" class="cl"/>
<path d="M278,564.5l6.2,0.7-1-3z" fill="#00ff6a"/>
<path d="M277.4,561l1.1,3.7 0.4,0 4.5-1.9-1.2-3.9z" fill="#00ff21"/>
<path d="M276.4,557.7l1.2,3.8 4.8-2-1.3-3.8z" fill="#25ff00"/>
<path d="M275.4,554.4l1.1,3.8 4.8-2-1.1-3.3-0.8-0.3z" fill="#66ff00"/>
<path d="M274.4,551.2l1.1,3.7 4.8-2z" fill="#a3ff00"/>
<path d="M277.3,559.7L281.5,557.9" class="cl"/>
<path d="M290.7,576.6l0.7,1.2 5.7,0.6-2.9-4.3z" fill="#0776ff"/>
<path d="M288.5,573l2.5,4.1 3.6-2.5-1.8-2.6-2.3-0.5z" fill="#02b1ff"/>
<path d="M287.1,570.8l1.7,2.8 2.5-1.9z" fill="#00dbe5"/>
<path d="M308.5,587.7l1.4,0.2-1.6-1.4z" fill="#4b00e9"/>
<path d="M303.7,586.2l0.5,0.4 5,1.2-0.2-0.8-3.7-3-1.9-0.6z" fill="#2d00f4"/>
<path d="M299.7,582.3l4.7,4.5-0.4-3.2z" fill="#1002ff"/>
<path d="M300.5,582.8L300.5,582.8" class="cl"/>
<path d="M259,513.8l3.1,1.4-0.4-2.1z" fill="#fe0000"/>
<path d="M255.7,511.3l0.3,1.1 3.9,1.8 1.9-0.5-0.7-3.9zM255.2,507.9l0.6,4 5.4-1.5-0.7-3.9z" fill="#fd0000"/>
<path d="M254.6,504.6l0.7,3.9 5.3-1.4-0.7-3.9zM254,501.3l0.7,3.9 5.3-1.4-0.7-3.9z" fill="#fc0000"/>
<path d="M253.4,498l0.7,3.9 5.3-1.4-0.7-3.9z" fill="#fb0000"/>
<path d="M252.8,494.6l0.7,3.9 5.3-1.3-0.7-3.9z" fill="#f60000"/>
<path d="M252.2,491.3l0.7,3.9 5.3-1.3-0.3-1.5-2.8-1.8z" fill="#e70000"/>
<path d="M251.7,488.3l0.6,3.6 3.5-0.9z" fill="#d90000"/>
<path d="M256.3,512.3L261,511M254,499.6L258.7,498.4" class="cl"/>
<path d="M319,594.8l3.4,1.1-4.6-3-1.6-0.6z" fill="#7e00d5"/>
<path d="M314.2,591.9l2.7,2 3,1-2.8-2.4-4-1.9z" fill="#6800de"/>
<path d="M312.3,590.2l2.8,2-1.2-1.4z" fill="#4b00e9"/>
<path d="M319.4,594.6L317.1,592.8" class="cl"/>
<path d="M273.2,551.6l2,0.4-0.3-1.2z" fill="#a3ff00"/>
<path d="M269,549.4l0.4,1.7 4.7,0.7 1-0.4-1.1-3.8z" fill="#dcff00"/>
<path d="M268.1,546.1l1,3.9 5.1-1.9-1.1-3.8z" fill="#f5ea00"/>
<path d="M267.3,542.8l1,3.9 5-1.8-1.1-3.9z" fill="#fdca00"/>
<path d="M266.4,539.5l1,3.9 5-1.8-1.1-3.9z" fill="#ffa600"/>
<path d="M265.6,536.2l1,3.9 4.9-1.8-0.3-1.1-4.1-1.5z" fill="#ff8100"/>
<path d="M265.2,535l0.5,1.8 2.2-0.8z" fill="#ff5e00"/>
<path d="M269.1,548.7L273.6,547.1M265.8,536.1L266.6,535.8" class="cl"/>
<path d="M282.9,571.3l5.3,0.3-1.4-2.4z" fill="#00dbe5"/>
<path d="M280.4,567.9l2.1,3.5 1.3,0 3.3-1.7-2.5-4.1z" fill="#00f3ac"/>
<path d="M278.4,564.3l2.3,4.1 4.2-2.3-0.9-1.5-5.2-0.5z" fill="#00ff6a"/>
<path d="M278.2,564l0.5,0.8 1-0.6z" fill="#00ff21"/>
<path d="M287,571.2L287.5,571" class="cl"/>
<path d="M298.1,582.9l3,0.2-1.3-1.6z" fill="#1002ff"/>
<path d="M293.5,580.4l1.9,2.4 3.6,0.2 1.1-1-3.5-4.3z" fill="#0b3cff"/>
<path d="M290.9,577.1l3,3.8 3.1-2.7-0.4-0.5z" fill="#0776ff"/>
<path d="M308.6,590.3l5.3,0.7-4.7-3.8-0.7-0.1z" fill="#4b00e9"/>
<path d="M303.6,586l4.6,4.2 1,0.2-0.1-3.2z" fill="#2d00f4"/>
<path d="M260.5,534.3l5.6,1.6-0.7-3.2z" fill="#ff5e00"/>
<path d="M259.5,531.1l0.5,3.2 1.4,0.3 4.2-1.3-0.8-3.8z" fill="#ff3b00"/>
<path d="M258.8,527.8l0.8,3.9 5.3-1.6-0.7-3.9z" fill="#ff2200"/>
<path d="M258.2,524.5l0.7,3.9 5.4-1.6-0.7-3.9z" fill="#ff0d00"/>
<path d="M257.6,521.2l0.7,3.9 5.4-1.6-0.8-3.8z" fill="#ff0000"/>
<path d="M257,517.9l0.7,3.9 5.3-1.5-0.7-3.9zM256.4,514.6l0.7,3.9 5.3-1.5-0.5-2.5-2-0.9z" fill="#fe0000"/>
<path d="M255.8,511.7l0.7,3.5 4.3-1.2z" fill="#fd0000"/>
<path d="M258.6,525L263.4,523.6M256.2,512.3L256.3,512.3" class="cl"/>
<path d="M322,596.3l4.5,1.2-4.7-2.3-3.4-1z" fill="#7e00d5"/>
<path d="M316.3,593.3l4.7,2.7 1.9,0.4-3.6-2.2z" fill="#6800de"/>
<path d="M322.4,596.1L319.4,594.6" class="cl"/>
<path d="M272.8,562.7l0.6,2.1 5.7-0.1-1.2-4z" fill="#00ff21"/>
<path d="M271.8,559.4l1.1,3.9 5.2-2-1.2-3.9z" fill="#25ff00"/>
<path d="M270.8,556.1l1.2,3.9 5.1-2-1.2-3.9z" fill="#66ff00"/>
<path d="M269.9,552.7l1.1,3.9 5.1-1.9-1-3.3-1.1-0.2z" fill="#a3ff00"/>
<path d="M269.2,550.4l0.8,2.9 4.9-1.9z" fill="#dcff00"/>
<path d="M272.7,561.4L277.3,559.7" class="cl"/>
<path d="M288.7,577.8l3.4,0-0.9-1.5z" fill="#0776ff"/>
<path d="M284.7,575l1.7,3 3.3-0.2 1.8-1-2.5-4.1z" fill="#02b1ff"/>
<path d="M282.5,571.4l2.5,4.2 4.3-2.4-1.5-2.2-4.2-0.2z" fill="#00dbe5"/>
<path d="M282.1,570.8l0.7,1.2 1.7-1.1z" fill="#00f3ac"/>
<path d="M283.8,573L287,571.2" class="cl"/>
<path d="M303.2,586.6l1.9,0.1-1.1-1.1z" fill="#2d00f4"/>
<path d="M297.1,584.5l2.3,2.1 4.5,0.1 0.5-0.7-3.9-3.5-1.8-0.1z" fill="#1002ff"/>
<path d="M294.7,582.2l2.9,2.7 1.9-2.5z" fill="#0b3cff"/>
<path d="M298.5,585.4L300.5,582.8" class="cl"/>
<path d="M253.8,511.8l2.8,0.8-0.3-1.5zM250.1,509.2l0.3,1.8 4.3,1.1 1.7-0.4-0.7-3.9z" fill="#fd0000"/>
<path d="M249.5,505.8l0.7,4 5.6-1.4-0.7-3.9zM248.9,502.5l0.7,3.9 5.7-1.3-0.7-4z" fill="#fc0000"/>
<path d="M248.3,499.1l0.7,4 5.7-1.4-0.7-3.9z" fill="#fb0000"/>
<path d="M247.7,495.7l0.7,4 5.7-1.3-0.7-3.9z" fill="#f60000"/>
<path d="M247.1,492.4l0.7,3.9 5.7-1.2-0.7-4z" fill="#e70000"/>
<path d="M246.5,489l0.7,3.9 5.7-1.2-0.6-3-1.6-0.6z" fill="#d90000"/>
<path d="M246.1,486.2l0.6,3.4 4.9-1.1z" fill="#ca0000"/>
<path d="M248.9,500.7L254,499.6M246.6,487.8L248.3,487.5" class="cl"/>
<path d="M314.3,593.7l3.6,0.3-3.8-2.9z" fill="#6800de"/>
<path d="M308.6,590.5l3.6,3 2.7,0.2-0.2-2.2-1.5-1.1-4.6-0.8z" fill="#4b00e9"/>
<path d="M307.6,589.6l1.6,1.4 0-1.3z" fill="#2d00f4"/>
<path d="M265.6,550.7l4.4,0.4-0.5-1.9z" fill="#dcff00"/>
<path d="M263.3,547.7l0.8,3.1 2.4,0.1 3.2-1.1-1-3.9z" fill="#f5ea00"/>
<path d="M262.5,544.4l1,3.9 5.3-1.8-1-3.9z" fill="#fdca00"/>
<path d="M261.7,541.1l1,3.9 5.3-1.8-1-3.9z" fill="#ffa600"/>
<path d="M260.9,537.8l1,3.9 5.2-1.8-1-3.9z" fill="#ff8100"/>
<path d="M260.1,534.4l0.9,3.9 5.3-1.7-0.4-1.4-4.5-1.2z" fill="#ff5e00"/>
<path d="M259.9,533.6l0.3,1.4 2-0.7z" fill="#ff3b00"/>
<path d="M264.3,550.4L269.1,548.7M261.2,537.6L265.8,536.1" class="cl"/>
<path d="M329.4,599.1l1.2,0-3.1-1.2z" fill="#8800cc"/>
<path d="M324.1,597.6l1,0.5 5.2,1-1.9-1.1-2.6-1.1-4.4-1.2z" fill="#7e00d5"/>
<path d="M320.3,595.4l4.7,2.3-2.7-1.9z" fill="#6800de"/>
<path d="M325,597.7L322.4,596.1" class="cl"/>
<path d="M276.2,569.8l1.1,2 5.8-0.4-2.1-3.8z" fill="#00f3ac"/>
<path d="M274.2,566.2l2.3,4.1 4.8-2.2-2.4-4.1z" fill="#00ff6a"/>
<path d="M273.1,564.2l1.4,2.5 4.7-2.1-0.3-0.5z" fill="#00ff21"/>
<path d="M290,582.6l0.4,0.5 5.7-0.3-2.1-2.7z" fill="#0b3cff"/>
<path d="M287,578.7l3.3,4.3 4.1-2.5-2.7-3.3-2.2,0z" fill="#0776ff"/>
<path d="M286,577.4l1.4,1.8 3-1.9z" fill="#02b1ff"/>
<path d="M301.5,588.7l1.9,1.7 5.7-0.2-4.6-4.1-0.8-0.1z" fill="#2d00f4"/>
<path d="M298.7,586l3.3,3.1 2.4-3z" fill="#1002ff"/>
<path d="M254.4,532.6l0.2,1.1 6.1,0.7-0.7-3.4z" fill="#ff3b00"/>
<path d="M253.8,529.2l0.7,4 5.6-1.7-0.7-3.8z" fill="#ff2200"/>
<path d="M253.1,525.9l0.8,3.9 5.6-1.6-0.7-3.8z" fill="#ff0d00"/>
<path d="M252.5,522.6l0.8,3.9 5.6-1.6-0.7-3.8z" fill="#ff0000"/>
<path d="M251.9,519.2l0.7,4 5.7-1.6-0.7-3.9zM251.3,515.9l0.7,3.9 5.7-1.5-0.8-3.9z" fill="#fe0000"/>
<path d="M250.7,512.5l0.7,4 5.6-1.5-0.5-3-1.8-0.5zM250.3,510.4l0.5,2.7 4.8-1.3z" fill="#fd0000"/>
<path d="M253.5,526.4L258.6,525M251.2,513.6L256.2,512.3" class="cl"/>
<path d="M315.6,595.4l0.7,0.5 5.7,0.1-4.8-2.6-3.3-0.4z" fill="#6800de"/>
<path d="M311.5,592.9l4.9,2.9-1.7-2.7z" fill="#4b00e9"/>
<path d="M267.9,564.4l0.2,0.9 5.9-0.6-0.7-2.2z" fill="#00ff21"/>
<path d="M266.9,561.1l1.1,3.9 5.5-1.9-1.1-3.9z" fill="#25ff00"/>
<path d="M266,557.8l1.1,3.9 5.4-1.9-1.1-3.9z" fill="#66ff00"/>
<path d="M265.1,554.4l1.1,3.9 5.4-1.9-1.2-3.9z" fill="#a3ff00"/>
<path d="M264.2,551.1l1.1,3.9 5.3-1.9-0.7-2.6-3.5-0.2z" fill="#dcff00"/>
<path d="M263.9,550.1l0.4,1.5 3-1.1z" fill="#f5ea00"/>
<path d="M267.8,563.2L272.7,561.4" class="cl"/>
<path d="M332.4,600.6l2.3,0.2-4.8-2.2-1.3-0.1z" fill="#8800cc"/>
<path d="M324.4,597.5l4.9,2.7 4,0.4-3.7-2.1z" fill="#7e00d5"/>
<path d="M280.4,577l0.9,1.5 5.8-0.6-1.9-3.1z" fill="#02b1ff"/>
<path d="M278.3,573.4l2.4,4.1 4.8-2.2-2.5-4.1z" fill="#00dbe5"/>
<path d="M277,571.2l1.6,2.7 4.7-2.2-0.5-0.9z" fill="#00f3ac"/>
<path d="M279.6,575L283.8,573" class="cl"/>
<path d="M293.7,587.1l6.5-0.5-2.7-2.6z" fill="#1002ff"/>
<path d="M289.9,582.6l4.6,4.6 3.5-2.7-2.4-2.3z" fill="#0b3cff"/>
<path d="M297,586.6L298.5,585.4" class="cl"/>
<path d="M244.6,510.4l0.2,1.1 6.2-0.4-0.3-2.1z" fill="#fd0000"/>
<path d="M244,507l0.7,4 6.1-1.4-0.7-3.9zM243.4,503.6l0.7,4 6.1-1.3-0.7-4z" fill="#fc0000"/>
<path d="M242.8,500.2l0.7,4 6.1-1.3-0.7-3.9z" fill="#fb0000"/>
<path d="M242.2,496.8l0.7,4 6.1-1.2-0.7-4z" fill="#f60000"/>
<path d="M241.6,493.4l0.7,4 6.1-1.2-0.7-4z" fill="#e70000"/>
<path d="M241,490l0.7,4 6.1-1.2-0.7-3.9z" fill="#d90000"/>
<path d="M240.4,486.5l0.7,4.1 6.1-1.1-0.5-3.1z" fill="#ca0000"/>
<path d="M243.4,501.8L248.9,500.7M241.1,488.8L246.6,487.8" class="cl"/>
<path d="M306.5,593l0.9,0.9 5.7-0.5-4.3-3.5z" fill="#4b00e9"/>
<path d="M302.7,589.8l4.2,3.6 2.4-3.1-0.9-0.7z" fill="#2d00f4"/>
<path d="M258.3,549.3l0.4,1.8 6-0.4-0.8-3.1z" fill="#f5ea00"/>
<path d="M257.5,546l0.9,3.9 5.7-1.8-1-3.9z" fill="#fdca00"/>
<path d="M256.7,542.6l0.9,4 5.6-1.8-0.9-3.9z" fill="#ffa600"/>
<path d="M255.9,539.3l0.9,3.9 5.6-1.7-0.9-3.9z" fill="#ff8100"/>
<path d="M255.1,535.9l0.9,4 5.6-1.7-0.9-3.9z" fill="#ff5e00"/>
<path d="M254.4,533.1l0.9,3.4 5.5-1.7-0.3-1z" fill="#ff3b00"/>
<path d="M263.9,550.5L264.3,550.4M256.2,539.2L261.2,537.6" class="cl"/>
<path d="M324.5,598.1l1.6-0.1-2.5-1.2z" fill="#7e00d5"/>
<path d="M315.6,595.4l4.9,2.8 4.7-0.1-0.8-1-3.2-1.7z" fill="#6800de"/>
<path d="M325.1,597.8L325,597.7" class="cl"/>
<path d="M271.7,571.7l0.4,0.8 5.9-0.8-1.2-2.2z" fill="#00f3ac"/>
<path d="M269.7,568l2.3,4.2 5.1-2.1-2.3-4.1z" fill="#00ff6a"/>
<path d="M267.8,564.7l2.2,3.9 5.1-2.1-1.4-2.4z" fill="#00ff21"/>
<path d="M335.7,602.2l3.2,0-4.9-1.9-2.3-0.2z" fill="#8800cc"/>
<path d="M328.5,599.6l5,2.4 3.1,0.1-4-2z" fill="#7e00d5"/>
<path d="M289.1,583.2l2-0.1-0.6-0.8z" fill="#0b3cff"/>
<path d="M283.1,580.8l2.2,3 4.7-0.6 0.8-0.5-3.2-4.3z" fill="#0776ff"/>
<path d="M280.9,578l2.5,3.3 4.5-2.4-1.2-1.6z" fill="#02b1ff"/>
<path d="M298.8,590.9l5.4-0.6-2.2-2.1z" fill="#2d00f4"/>
<path d="M293.9,586.6l4.5,4.4 1.3-0.2 2.7-2.1-2.8-2.7z" fill="#1002ff"/>
<path d="M295.5,587.7L297,586.6" class="cl"/>
<path d="M248.7,534.3l6.5-0.6-0.2-1.3z" fill="#ff3b00"/>
<path d="M248.3,530.6l0.7,3.9 0.6-0.1 5.5-1.4-0.8-3.9z" fill="#ff2200"/>
<path d="M247.7,527.3l0.7,3.9 6-1.5-0.7-3.9z" fill="#ff0d00"/>
<path d="M247.1,523.9l0.7,4 6-1.6-0.7-3.9z" fill="#ff0000"/>
<path d="M246.5,520.5l0.7,4 6-1.5-0.7-3.9zM245.8,517.2l0.8,3.9 6-1.4-0.7-4z" fill="#fe0000"/>
<path d="M245.2,513.8l0.7,3.9 6.1-1.4-0.7-3.9zM244.7,510.9l0.6,3.5 6.1-1.4-0.5-2.5z" fill="#fd0000"/>
<path d="M248.1,527.7L253.5,526.4M245.7,514.8L251.2,513.6" class="cl"/>
<path d="M315.4,596l1.9-0.2-1.7-1.1z" fill="#6800de"/>
<path d="M306.7,593.4l4.9,3.1 4.4-0.6 0.1-0.8-3.7-2.2z" fill="#4b00e9"/>
<path d="M265,565.6l3.7-0.4-0.3-1z" fill="#00ff21"/>
<path d="M261.8,562.8l0.9,3.5 3.2-0.6 2.7-0.9-1.1-3.9z" fill="#25ff00"/>
<path d="M260.9,559.4l1.1,4 5.7-1.9-1.1-3.9z" fill="#66ff00"/>
<path d="M260,556.1l1.1,3.9 5.6-1.9-1-3.9z" fill="#a3ff00"/>
<path d="M259.1,552.7l1.1,3.9 5.6-1.8-1.1-3.9z" fill="#dcff00"/>
<path d="M258.5,550.5l0.8,2.8 5.6-1.8-0.4-1.3z" fill="#f5ea00"/>
<path d="M262.7,564.9L267.8,563.2M259.2,552L263.9,550.5" class="cl"/>
<path d="M325.8,600.4l4.4-0.4-4.9-2.5-1.2,0z" fill="#7e00d5"/>
<path d="M319.7,597.7l4.9,2.8 1.9-0.1-1.7-2.9z" fill="#6800de"/>
<path d="M326.5,600.1L325.1,597.8" class="cl"/>
<path d="M275.6,579.3l6.4-0.9-1-1.6z" fill="#02b1ff"/>
<path d="M273.8,575.3l2.3,4.1 0.5-0.1 4.7-2-2.4-4.2z" fill="#00dbe5"/>
<path d="M271.8,571.9l2.3,3.9 5.1-2.1-1.5-2.6z" fill="#00f3ac"/>
<path d="M275,576.9L279.6,575" class="cl"/>
<path d="M339.5,603.5l3.6-0.1-5-1.7-3.1,0z" fill="#8800cc"/>
<path d="M332.7,601.5l5,2 2.7-0.1-4.5-1.8z" fill="#7e00d5"/>
<path d="M286.4,584.8l3,3 5.8-0.8-4.6-4.5-0.8,0.1z" fill="#0b3cff"/>
<path d="M284.8,583.3l2,2 3.9-2.7z" fill="#0776ff"/>
<path d="M238.8,511.6l0.3,1.6 6.3-1.8-0.2-1.1z" fill="#fd0000"/>
<path d="M238.2,508.2l0.7,4 6.4-1.3-0.7-4zM237.5,504.7l0.8,4 6.4-1.2-0.7-4z" fill="#fc0000"/>
<path d="M236.9,501.3l0.8,4 6.4-1.2-0.7-4z" fill="#fb0000"/>
<path d="M236.3,497.9l0.7,4 6.5-1.2-0.7-4z" fill="#f60000"/>
<path d="M235.7,494.4l0.7,4.1 6.5-1.2-0.7-4z" fill="#e70000"/>
<path d="M235.1,491l0.7,4 6.5-1.1-0.7-4z" fill="#d90000"/>
<path d="M234.6,488.3l0.6,3.3 6.5-1.1-0.7-4.1z" fill="#ca0000"/>
<path d="M237.5,503L243.4,501.8M235.2,489.8L241.1,488.8" class="cl"/>
<path d="M305.2,594.2l3-0.4-1.3-1.2z" fill="#4b00e9"/>
<path d="M298.5,591l4,3.6 3.6-0.5 1.2-1.1-3.7-3.2-4.2,0.5z" fill="#2d00f4"/>
<path d="M297.9,590.5l1.1,0.9 1.3-1.2z" fill="#1002ff"/>
<path d="M252.8,550.9l0.4,1.7 6.1-1.6-0.5-1.8z" fill="#f5ea00"/>
<path d="M252,547.5l0.9,4 6.1-1.8-0.9-3.9z" fill="#fdca00"/>
<path d="M251.2,544.1l1,4 6-1.7-0.9-3.9z" fill="#ffa600"/>
<path d="M250.5,540.8l0.9,3.9 6-1.6-0.9-4z" fill="#ff8100"/>
<path d="M249.7,537.4l0.9,3.9 6-1.6-0.9-3.9z" fill="#ff5e00"/>
<path d="M248.9,534l0.9,4 6-1.7-0.7-3.2-5.7,0.8z" fill="#ff3b00"/>
<path d="M250.8,540.7L256.2,539.2" class="cl"/>
<path d="M314.7,598.4l1,0.6 5.7-0.9-4.9-2.8-1,0.1z" fill="#6800de"/>
<path d="M310.8,596l4.4,2.7 0.9-3.4z" fill="#4b00e9"/>
<path d="M269.1,572.9l3.6-0.6-0.5-0.9z" fill="#00f3ac"/>
<path d="M264.7,569.9l2.1,3.7 3.2-0.7 2.5-0.9-2.3-4.2z" fill="#00ff6a"/>
<path d="M262.7,566.2l2.3,4.2 5.5-2-2-3.8-2.8,0.5z" fill="#00ff21"/>
<path d="M262.5,565.8l0.5,0.9 3.6-1.5z" fill="#25ff00"/>
<path d="M326.6,601.5l2.2,1.1 5.6-0.8-5-2.2-4,0.3z" fill="#7e00d5"/>
<path d="M323.8,600.1l3.7,1.7-1.4-2z" fill="#6800de"/>
<path d="M327.7,601.7L326.5,600.1" class="cl"/>
<path d="M278.8,582.9l1.3,1.8 5.9-1-2.4-3.2z" fill="#0776ff"/>
<path d="M275.8,579l3.3,4.4 4.9-2.4-2.4-3.1-5.2,0.8z" fill="#02b1ff"/>
<path d="M275.7,578.8l0.5,0.7 1.1-0.7z" fill="#00dbe5"/>
<path d="M343.2,604.9l4.2-0.3-5.1-1.7-3.6,0.1z" fill="#8800cc"/>
<path d="M336.9,603l5.1,2 2.1-0.3-4.5-1.8z" fill="#7e00d5"/>
<path d="M290.6,589l2.8,2.8 5.8-0.9-4.6-4.5z" fill="#1002ff"/>
<path d="M288.8,587.3l2.2,2.2 4.3-3z" fill="#0b3cff"/>
<path d="M292.1,590.1L295.5,587.7" class="cl"/>
<path d="M243.2,535.4l0.2,0.9 6.2-2.2z" fill="#ff3b00"/>
<path d="M242.6,532l0.7,4 5.5-1.4 0.8-0.2-0.7-3.9z" fill="#ff2200"/>
<path d="M241.9,528.6l0.8,4 6.3-1.5-0.7-4z" fill="#ff0d00"/>
<path d="M241.3,525.2l0.8,4 6.3-1.5-0.7-3.9z" fill="#ff0000"/>
<path d="M240.7,521.8l0.7,4 6.4-1.4-0.8-4zM240,518.4l0.8,4 6.3-1.4-0.7-4z" fill="#fe0000"/>
<path d="M239.4,515l0.7,4 6.4-1.4-0.7-4zM239,512.6l0.5,3 6.4-1.4-0.6-3.4z" fill="#fd0000"/>
<path d="M242.3,529.1L248.1,527.7M239.9,516.1L245.7,514.8" class="cl"/>
<path d="M304.2,595.7l2.5,1.7 5.7-1.1-4.8-3.1-1.8,0.3z" fill="#4b00e9"/>
<path d="M301.8,594.1l2.9,2 1.9-2.7z" fill="#2d00f4"/>
<path d="M256.3,564.5l1,3.7 6-2-0.9-3.6z" fill="#25ff00"/>
<path d="M255.4,561.1l1.1,3.9 6-1.8-1-4z" fill="#66ff00"/>
<path d="M254.5,557.7l1.1,4 6-1.9-1-3.9z" fill="#a3ff00"/>
<path d="M253.6,554.3l1.1,4 6-1.8-1-4z" fill="#dcff00"/>
<path d="M253,552l0.8,2.9 6-1.8-0.7-2.7z" fill="#f5ea00"/>
<path d="M257.2,566.6L262.7,564.9M253.8,553.6L259.2,552" class="cl"/>
<path d="M314.9,598.5l5,3 5.6-1.1-4.9-2.8z" fill="#6800de"/>
<path d="M268.8,577.2l2,3.4 5.9-1.3-2.4-4.2z" fill="#00dbe5"/>
<path d="M266.8,573.5l2.3,4.2 5.5-2.1-2.2-3.8-2.5,0.5z" fill="#00f3ac"/>
<path d="M266.5,573l0.6,1 3.7-1.6z" fill="#00ff6a"/>
<path d="M270.1,578.8L275,576.9" class="cl"/>
<path d="M328,602.1l5.1,2.2 5.5-1.1-5-1.8z" fill="#7e00d5"/>
<path d="M282.4,587l1.8,1.8 5.9-1.1-3.2-3.2z" fill="#0b3cff"/>
<path d="M279.7,584.2l3.2,3.3 4.4-2.6-1.7-1.7z" fill="#0776ff"/>
<path d="M346.8,606.4l4.9-0.6-5.1-1.6-4.2,0.3z" fill="#8800cc"/>
<path d="M341.2,604.5l5.1,2 1.4-0.3-4.4-1.9z" fill="#7e00d5"/>
<path d="M232.7,512.8l0.6,3.1 6.3-2.9-0.2-1.5z" fill="#fd0000"/>
<path d="M232,509.3l0.8,4.1 6.7-1.3-0.7-4.1zM231.4,505.8l0.7,4.1 6.8-1.3-0.8-4z" fill="#fc0000"/>
<path d="M230.8,502.4l0.7,4 6.7-1.2-0.7-4z" fill="#fb0000"/>
<path d="M230.1,498.9l0.8,4.1 6.7-1.2-0.7-4z" fill="#f60000"/>
<path d="M229.5,495.4l0.7,4.1 6.8-1.1-0.7-4.1z" fill="#e70000"/>
<path d="M228.8,492l0.8,4 6.8-1.1-0.7-4z" fill="#d90000"/>
<path d="M228.7,491.4l0.2,1.2 6.9-1.1-0.6-3.4z" fill="#ca0000"/>
<path d="M231.4,504.1L237.5,503M235.2,489.8L231.3,490.4" class="cl"/>
<path d="M295.2,593.4l2.3,2.1 5.8-1-4.3-3.8z" fill="#2d00f4"/>
<path d="M292.9,591.3l2.7,2.5 3.9-2.7-0.9-0.7z" fill="#1002ff"/>
<path d="M247.1,552.5l0.5,2.2 6.2-2.3-0.4-1.7z" fill="#f5ea00"/>
<path d="M246.3,549l0.9,4 6.3-1.7-0.9-3.9z" fill="#fdca00"/>
<path d="M245.5,545.6l0.9,4 6.3-1.7-0.9-3.9z" fill="#ffa600"/>
<path d="M244.7,542.2l0.9,4 6.4-1.6-1-4z" fill="#ff8100"/>
<path d="M244,538.8l0.9,4 6.3-1.6-0.9-4z" fill="#ff5e00"/>
<path d="M243.2,535.7l0.9,3.7 6.3-1.6-0.9-4-0.9,0.3z" fill="#ff3b00"/>
<path d="M245,542.1L250.8,540.7" class="cl"/>
<path d="M313.8,599.4l2.7-0.6-1.5-0.9z" fill="#6800de"/>
<path d="M305.9,596.9l4.9,3.2 3.8-0.8 0.9-1.1-3.8-2.3z" fill="#4b00e9"/>
<path d="M259.2,571.6l2.2,3.8 6-2-2.1-3.7z" fill="#00ff6a"/>
<path d="M257.2,567.9l2.3,4.2 6.1-1.9-2.3-4.2z" fill="#00ff21"/>
<path d="M257.1,567.6l0.4,0.8 6.1-1.8-0.5-1z" fill="#25ff00"/>
<path d="M326.4,603.1l3.3-0.8-3.2-1.5z" fill="#7e00d5"/>
<path d="M319.1,601l5,2.7 2.9-0.7 0.1-1.9-2.4-1.2z" fill="#6800de"/>
<path d="M327.6,602.5L327.7,601.7" class="cl"/>
<path d="M274.1,584.9l0.8,1 5.9-1.3-1.5-2z" fill="#0776ff"/>
<path d="M271.1,581l3.3,4.4 5.3-2.3-3.3-4.4z" fill="#02b1ff"/>
<path d="M270.4,580.1l1.1,1.3 5.3-2.2-0.4-0.5z" fill="#00dbe5"/>
<path d="M332.3,603.9l5.1,2.1 5.5-1.3-5.1-1.8z" fill="#7e00d5"/>
<path d="M286.7,591.3l1.6,1.5 5.8-1.1-3-3z" fill="#1002ff"/>
<path d="M283.7,588.3l3.5,3.4 4.4-2.5-2-2z" fill="#0b3cff"/>
<path d="M288.2,592.4L292.1,590.1" class="cl"/>
<path d="M348.3,607.2l2.4,0.8 5.3-0.9-5.1-1.7-4.9,0.6z" fill="#8800cc"/>
<path d="M345.5,606.1l3.7,1.2-2.3-1.5z" fill="#7e00d5"/>
<path d="M237.2,536.8l0.4,2 6.3-2.7-0.1-0.8z" fill="#ff3b00"/>
<path d="M236.6,533.4l0.7,4 6.6-1.5-0.7-4z" fill="#ff2200"/>
<path d="M235.9,530l0.8,4 6.6-1.5-0.8-4z" fill="#ff0d00"/>
<path d="M235.3,526.5l0.7,4.1 6.6-1.5-0.7-4z" fill="#ff0000"/>
<path d="M234.6,523.1l0.8,4 6.6-1.4-0.7-4zM234,519.7l0.7,4 6.7-1.4-0.8-4z" fill="#fe0000"/>
<path d="M233.3,516.2l0.8,4 6.6-1.3-0.7-4zM233.1,515.3l0.3,1.5 6.7-1.3-0.6-3.1z" fill="#fd0000"/>
<path d="M236.3,530.4L242.3,529.1M233.8,517.3L239.9,516.1" class="cl"/>
<path d="M301.2,598.5l6.3-1.3-2.9-1.9z" fill="#4b00e9"/>
<path d="M296.8,595l4.8,3.5 0.5-0.1 3-2.8-2.4-1.6z" fill="#2d00f4"/>
<path d="M251.5,569.6l0.2,1 4.6-2.2z" fill="#00ff21"/>
<path d="M250.6,566.1l1,4 4-1.2 2.2-0.9-0.9-3.7z" fill="#25ff00"/>
<path d="M249.7,562.7l1,4 6.3-1.8-1-4z" fill="#66ff00"/>
<path d="M248.8,559.3l1,4 6.3-1.8-1-4z" fill="#a3ff00"/>
<path d="M247.9,555.9l1,4 6.4-1.8-1.1-4z" fill="#dcff00"/>
<path d="M247.4,554.1l0.6,2.3 6.4-1.7-0.8-2.9z" fill="#f5ea00"/>
<path d="M251.4,568.3L257.2,566.6M248,555.2L253.8,553.6" class="cl"/>
<path d="M312.5,601.1l2.5,1.6 5.7-1.4-4.9-2.9-1.5,0.3z" fill="#6800de"/>
<path d="M310.1,599.6l2.9,1.8 2.2-2.9z" fill="#4b00e9"/>
<path d="M263.4,579l2,3.4 6-2-2-3.4z" fill="#00dbe5"/>
<path d="M261.3,575.3l2.4,4.2 6-2-2.4-4.2z" fill="#00f3ac"/>
<path d="M261.1,574.9l0.5,0.9 6-2-0.5-0.9z" fill="#00ff6a"/>
<path d="M264.7,580.7L270.1,578.8" class="cl"/>
<path d="M327.2,605l1.1,0.5 5.7-1.5-5.1-2.1-2.6,0.6z" fill="#7e00d5"/>
<path d="M323.3,603.3l4.6,2-1-2.9z" fill="#6800de"/>
<path d="M328.5,605.1L327.6,602.5" class="cl"/>
<path d="M278.1,589.2l0.8,0.9 6-1.4-1.9-2z" fill="#0b3cff"/>
<path d="M274.4,585.4l4.1,4.2 4.9-2.4-3-3.1z" fill="#0776ff"/>
<path d="M336.5,605.6l5.2,2 5.5-1.4-5.2-1.8z" fill="#7e00d5"/>
<path d="M227,517.4l0.4,1.8 4.2-2.5zM226.4,513.9l0.7,4.1 3.8-0.7 2.9-1.6-0.5-3.1z" fill="#fd0000"/>
<path d="M225.7,510.5l0.8,4 6.9-1.3-0.8-4zM225,507l0.8,4 6.9-1.2-0.7-4.1z" fill="#fc0000"/>
<path d="M224.4,503.5l0.7,4.1 7-1.3-0.7-4z" fill="#fb0000"/>
<path d="M223.7,500l0.8,4.1 7-1.2-0.8-4.1z" fill="#f60000"/>
<path d="M223,496.5l0.8,4.1 7-1.2-0.7-4.1z" fill="#e70000"/>
<path d="M222.8,495.1l0.3,1.9 7.1-1.1-0.8-4-1.9,0.3z" fill="#d90000"/>
<path d="M229.5,492.5l-0.2-1.4-2.5,1.6z" fill="#ca0000"/>
<path d="M227.5,518.5L228.3,518.4M225,505.2L231.4,504.1" class="cl"/>
<path d="M291.4,595.8l1,0.8 5.8-1.2-2.5-2.3z" fill="#2d00f4"/>
<path d="M287.7,592.3l4.2,3.9 4.2-2.7-2.5-2.3z" fill="#1002ff"/>
<path d="M349.8,607.6l5.2,2.3 5.4-1.2-5.2-2z" fill="#8800cc"/>
<path d="M241.1,554l0.8,3.5 6.2-3-0.5-2.2z" fill="#f5ea00"/>
<path d="M240.3,550.6l0.9,4 6.6-1.7-0.9-4z" fill="#fdca00"/>
<path d="M239.5,547.1l0.9,4.1 6.6-1.7-0.9-4z" fill="#ffa600"/>
<path d="M238.7,543.7l1,4 6.5-1.6-0.9-4z" fill="#ff8100"/>
<path d="M238,540.3l0.9,4 6.6-1.6-1-4z" fill="#ff5e00"/>
<path d="M237.5,538.2l0.6,2.6 6.6-1.5-0.9-3.8z" fill="#ff3b00"/>
<path d="M242,556.7L243.8,556.3M239,543.6L245,542.1" class="cl"/>
<path d="M301.4,598.3l4.4,3 5.8-1.4-4.8-3.1-4.9,1z" fill="#4b00e9"/>
<path d="M301,598l0.9,0.6 0.9-0.9z" fill="#2d00f4"/>
<path d="M255.4,577l0.4,0.7 2.7-1.3z" fill="#00f3ac"/>
<path d="M253.3,573.3l2.4,4.2 2.1-0.6 4.1-1.7-2.1-3.8z" fill="#00ff6a"/>
<path d="M251.5,570.1l2.1,3.7 6.5-1.9-2.3-4.2-2.4,0.7z" fill="#00ff21"/>
<path d="M258.1,568.3l-0.5-0.9-2.9,1.5z" fill="#25ff00"/>
<path d="M314.2,602.2l5,2.8 5.7-1.6-5-2.6z" fill="#6800de"/>
<path d="M268.8,586.8l0.7,0.9 6-1.9-0.9-1.1z" fill="#0776ff"/>
<path d="M265.7,582.8l3.5,4.5 5.8-2.1-3.3-4.5z" fill="#02b1ff"/>
<path d="M265,581.9l1.1,1.4 5.9-2.1-0.9-1.3z" fill="#00dbe5"/>
<path d="M327.5,605.1l5.2,2.3 5.6-1.7-5.2-2.1z" fill="#7e00d5"/>
<path d="M328.5,605.3L328.5,605.1" class="cl"/>
<path d="M282.5,593.5l0.5,0.6 6-1.4-1.7-1.7z" fill="#1002ff"/>
<path d="M278.4,589.6l4.5,4.4 4.8-2.6-3.3-3.2z" fill="#0b3cff"/>
<path d="M287.5,592.7L288.2,592.4" class="cl"/>
<path d="M349.5,608.4l2-0.6-3.8-1.3z" fill="#8800cc"/>
<path d="M340.9,607.3l5.2,2.1 4-1.2-1.5-1.5-2.3-0.8z" fill="#7e00d5"/>
<path d="M231.1,538.2l0.7,3.6 6.4-3.2-0.4-1.9z" fill="#ff3b00"/>
<path d="M230.4,534.8l0.8,4 6.7-1.5-0.7-4z" fill="#ff2200"/>
<path d="M229.7,531.3l0.8,4.1 6.8-1.5-0.8-4.1z" fill="#ff0d00"/>
<path d="M229,527.9l0.8,4 6.8-1.5-0.7-4z" fill="#ff0000"/>
<path d="M228.4,524.4l0.8,4 6.8-1.4-0.8-4zM227.7,520.9l0.8,4.1 6.8-1.4-0.7-4.1z" fill="#fe0000"/>
<path d="M227.2,518.6l0.6,2.9 6.9-1.4-0.8-4-3.2,0.6zM234,516.7l-0.3-1.6-3.8,2.2z" fill="#fd0000"/>
<path d="M230.1,531.8L236.3,530.4M233.8,517.3L228.3,518.4" class="cl"/>
<path d="M291.8,596.1l4.7,3.6 5.9-1.4-4.7-3.4z" fill="#2d00f4"/>
<path d="M354.2,609.5l5.3,2.2 5.3-1.5-5.2-1.9z" fill="#8800cc"/>
<path d="M245.5,571.3l0.6,2.2 6.2-3.1-0.3-1z" fill="#00ff21"/>
<path d="M244.6,567.8l1,4 6.6-1.8-1.1-4z" fill="#25ff00"/>
<path d="M243.7,564.4l1,4 6.6-1.9-1.1-3.9z" fill="#66ff00"/>
<path d="M242.8,560.9l1,4 6.6-1.8-1-4z" fill="#a3ff00"/>
<path d="M241.9,557.4l1,4.1 6.6-1.8-1-4z" fill="#dcff00"/>
<path d="M241.7,556.9l0.3,1.1 6.6-1.7-0.6-2.4z" fill="#f5ea00"/>
<path d="M245.5,570L251.4,568.3M248,555.2L243.8,556.3" class="cl"/>
<path d="M309.3,604.1l6.5-1.6-2.9-1.8z" fill="#6800de"/>
<path d="M305.1,600.9l5,3.2 3.3-3.1-2.5-1.6z" fill="#4b00e9"/>
<path d="M257.6,580.8l2.3,3.9 6.1-2.5-2-3.4z" fill="#00dbe5"/>
<path d="M255.5,577.2l2.4,4.1 6.4-1.9-2.4-4.3-4.3,1.3z" fill="#00f3ac"/>
<path d="M262.2,575.6l-0.6-0.9-4.7,2.2z" fill="#00ff6a"/>
<path d="M259,582.5L264.7,580.7" class="cl"/>
<path d="M326.8,606l2.4-0.8-2-0.9z" fill="#7e00d5"/>
<path d="M318.4,604.6l5.1,2.4 4-1.2 0.3-1.2-3.7-1.6z" fill="#6800de"/>
<path d="M273.1,591.2l0.5,0.5 6-1.8-1-1z" fill="#0b3cff"/>
<path d="M269,587.2l4.5,4.5 5.6-2.3-4-4.1z" fill="#0776ff"/>
<path d="M331.8,607l5.2,2.2 5.6-1.8-5.2-2.1z" fill="#7e00d5"/>
<path d="M221,522.1l0.4,1.9 2.9-2.4z" fill="#fe0000"/>
<path d="M220.3,518.6l0.8,4.1 2.5-0.4 4.3-3.4-0.3-1.6zM219.6,515.1l0.8,4.1 7.3-1.3-0.8-4.1z" fill="#fd0000"/>
<path d="M218.9,511.6l0.8,4.1 7.4-1.3-0.8-4zM218.2,508l0.8,4.2 7.4-1.3-0.8-4z" fill="#fc0000"/>
<path d="M217.5,504.5l0.8,4.1 7.4-1.1-0.7-4.1z" fill="#fb0000"/>
<path d="M216.8,501l0.8,4.1 7.5-1.1-0.8-4.1z" fill="#f60000"/>
<path d="M216.7,500.7l0.2,0.9 7.5-1.1-0.8-4.1-2.6,0.3z" fill="#e70000"/>
<path d="M223.7,497l-0.4-2.3-2.9,2.7z" fill="#d90000"/>
<path d="M220.8,519.7L227.5,518.5M218.2,506.2L225,505.2" class="cl"/>
<path d="M289.2,597.2l3.9-0.7-1.1-1.1z" fill="#2d00f4"/>
<path d="M282.5,593.6l4.7,4.3 2.9-0.7 2.3-1.3-3.9-3.7z" fill="#1002ff"/>
<path d="M284.1,594.6L287.5,592.7" class="cl"/>
<path d="M349.4,610.9l1.1,0.4 5.4-1.7-5.2-2.2-1.5,0.4z" fill="#8800cc"/>
<path d="M345.2,609l4.9,2.1-0.3-3.4z" fill="#7e00d5"/>
<path d="M235.7,559l0.4,1.6 4.6-2.7z" fill="#dcff00"/>
<path d="M234.9,555.6l1,4 4.1-1.1 2.4-1.3-0.7-3.3z" fill="#f5ea00"/>
<path d="M234.1,552.1l1,4.1 6.7-1.8-0.9-4z" fill="#fdca00"/>
<path d="M233.3,548.6l1,4.1 6.7-1.7-0.9-4z" fill="#ffa600"/>
<path d="M232.5,545.2l1,4 6.7-1.6-0.9-4z" fill="#ff8100"/>
<path d="M231.8,541.7l0.9,4.1 6.8-1.7-1-4z" fill="#ff5e00"/>
<path d="M231.6,541.2l0.3,1.1 6.8-1.6-0.6-2.7z" fill="#ff3b00"/>
<path d="M235.9,558.3L242,556.7M232.8,545.1L239,543.6" class="cl"/>
<path d="M298.1,600.8l2.6,1.9 5.9-1.6-4.8-3.2z" fill="#4b00e9"/>
<path d="M295.9,599.3l2.7,1.9 3.7-3-0.5-0.4z" fill="#2d00f4"/>
<path d="M358.6,611.3l5.4,2.2 5.3-1.7-5.3-1.9z" fill="#8800cc"/>
<path d="M249.2,578.7l1,1.8 6.2-3-0.4-0.7z" fill="#00f3ac"/>
<path d="M247,574.9l2.5,4.3 6.8-1.8-2.4-4.3z" fill="#00ff6a"/>
<path d="M245.9,573l1.4,2.4 6.9-1.8-2.1-3.8z" fill="#00ff21"/>
<path d="M309.3,603.6l5,2.8 5.7-1.7-4.9-2.7z" fill="#6800de"/>
<path d="M263.2,588.7l0.8,1 6.1-2.3-0.7-0.8z" fill="#0776ff"/>
<path d="M259.9,584.6l3.7,4.6 6.2-2.1-3.5-4.5z" fill="#02b1ff"/>
<path d="M259.5,584.2l0.8,0.9 6.4-2-1.1-1.4z" fill="#00dbe5"/>
<path d="M325.9,608l1.9,0.9 5.7-1.8-5.1-2.2-1.4,0.4z" fill="#7e00d5"/>
<path d="M322.7,606.6l3.7,1.7 1.3-3.2z" fill="#6800de"/>
<path d="M327.3,608.4L328.5,605.3" class="cl"/>
<path d="M280.8,594.5l2.9-0.6-0.7-0.6z" fill="#1002ff"/>
<path d="M273.1,591.2l4.6,4.5 4-1.2 1.8-0.8-4.4-4.3z" fill="#0b3cff"/>
<path d="M336.2,608.8l5.2,2.2 5.5-1.9-5.2-2.1z" fill="#7e00d5"/>
<path d="M225.3,543.1l0.5,2.9 5.8-4.1z" fill="#ff5e00"/>
<path d="M224.6,539.6l0.8,4.1 5.5-1.2 1.4-1-0.6-3.4z" fill="#ff3b00"/>
<path d="M223.9,536.1l0.8,4.1 7.1-1.5-0.8-4z" fill="#ff2200"/>
<path d="M223.1,532.6l0.9,4.1 7.1-1.5-0.8-4z" fill="#ff0d00"/>
<path d="M222.4,529.1l0.9,4.1 7.1-1.4-0.8-4.1z" fill="#ff0000"/>
<path d="M221.7,525.6l0.9,4.1 7.1-1.4-0.7-4zM221.3,523.3l0.5,2.9 7.3-1.3-0.8-4.1-5,0.9z" fill="#fe0000"/>
<path d="M228.4,521.4l-0.6-3.2-5.1,4.1z" fill="#fd0000"/>
<path d="M223.5,533.1L230.1,531.8" class="cl"/>
<path d="M287.5,598.2l3.8,3 6-1.7-4.8-3.5-2.6,0.6z" fill="#2d00f4"/>
<path d="M286.6,597.4l1.4,1.2 2.8-2z" fill="#1002ff"/>
<path d="M349.6,610.9l5.3,2.4 5.5-1.9-5.3-2.2z" fill="#8800cc"/>
<path d="M239.4,573l0.9,3.7 6.3-3.5-0.5-2.1z" fill="#00ff21"/>
<path d="M238.4,569.5l1.1,4.1 6.7-1.9-1-4.1z" fill="#25ff00"/>
<path d="M237.5,566l1.1,4.1 6.7-1.9-1-4z" fill="#66ff00"/>
<path d="M236.6,562.5l1.1,4.1 6.7-1.8-1-4.1z" fill="#a3ff00"/>
<path d="M235.9,560l0.8,3.1 6.8-1.8-1-4-2.7,0.7z" fill="#dcff00"/>
<path d="M242.6,557.9l-0.3-1.3-3.2,2z" fill="#f5ea00"/>
<path d="M239.3,571.7L245.5,570" class="cl"/>
<path d="M300.1,602.2l4.8,3.3 5.9-1.7-4.9-3.1z" fill="#4b00e9"/>
<path d="M369.8,615.2l3.9-1.5-3-1.3z" fill="#9200c4"/>
<path d="M363.2,613.2l5.3,2.5 2-0.8 0.7-2.3-2.8-1.1z" fill="#8800cc"/>
<path d="M253.8,586.4l0.5,0.8 3.1-1.6z" fill="#02b1ff"/>
<path d="M251.5,582.5l2.6,4.4 2.6-0.7 3.8-1.8-2.3-3.8z" fill="#00dbe5"/>
<path d="M249.9,579.9l1.9,3.2 6.7-2-2.4-4.1z" fill="#00f3ac"/>
<path d="M252.9,584.2L259,582.5" class="cl"/>
<path d="M313.5,606l5.1,2.5 5.8-1.8-5.1-2.4z" fill="#6800de"/>
<path d="M267.6,593.2l0.5,0.5 6.1-2.2-0.5-0.5z" fill="#0b3cff"/>
<path d="M263.6,589.3l4.5,4.4 6-2.3-4.4-4.4z" fill="#0776ff"/>
<path d="M327,608.6l5.2,2.3 5.6-2-5.1-2.2z" fill="#7e00d5"/>
<path d="M214.5,526.8l0.9,4.4 4.5-5.3zM213.7,523.3l0.9,4.1 4.7-0.8 2.6-3-0.3-1.6z" fill="#fe0000"/>
<path d="M213,519.7l0.8,4.1 7.9-1.2-0.8-4.1zM212.2,516.2l0.9,4.1 7.9-1.2-0.8-4.1z" fill="#fd0000"/>
<path d="M211.4,512.6l0.9,4.1 8-1.1-0.8-4.1zM210.7,509l0.9,4.2 8-1.1-0.8-4.1z" fill="#fc0000"/>
<path d="M210.4,509.7l8.5-1.2-0.8-4.1-4.4,0.6z" fill="#fb0000"/>
<path d="M218.2,505l-0.8-4.1-0.8,0.1-3.3,4.7z" fill="#f60000"/>
<path d="M217.5,501.5l-0.3-1.4-1.1,1.6z" fill="#e70000"/>
<path d="M213.5,520.8L220.8,519.7M218.2,506.2L212.7,506.9" class="cl"/>
<path d="M277.7,595.7l4.1,3.8 6-1.8-4.6-4.3-1.7,0.5z" fill="#1002ff"/>
<path d="M277.2,595.2l1,0.9 4.2-2.2z" fill="#0b3cff"/>
<path d="M279.3,596.8L284.1,594.6" class="cl"/>
<path d="M348.5,612l2.8-1-1.7-0.7z" fill="#8800cc"/>
<path d="M340.6,610.6l5.2,2.4 3.6-1.3 0.8-1.2-4.1-1.8z" fill="#7e00d5"/>
<path d="M229.3,560.6l0.9,4 6.4-4.3-0.3-1.4z" fill="#dcff00"/>
<path d="M228.5,557.1l0.9,4.1 7-1.7-0.9-4.1z" fill="#f5ea00"/>
<path d="M227.6,553.6l1,4.1 7-1.7-0.9-4z" fill="#fdca00"/>
<path d="M226.8,550.1l1,4.1 7.1-1.6-1-4.1z" fill="#ffa600"/>
<path d="M226,546.6l1,4.1 7.1-1.6-1-4.1z" fill="#ff8100"/>
<path d="M225.7,545.3l0.4,1.9 7.2-1.6-1-4-1.7,0.3z" fill="#ff5e00"/>
<path d="M232.5,542.2l-0.3-1.3-2.2,1.7z" fill="#ff3b00"/>
<path d="M229.4,559.9L235.9,558.3M226.3,546.5L232.8,545.1" class="cl"/>
<path d="M294.2,603.2l1.3,1 6-1.7-2.9-2.1z" fill="#4b00e9"/>
<path d="M290.7,600.7l4,2.9 4.4-2.8-2.4-1.7z" fill="#2d00f4"/>
<path d="M354.1,612.9l5.3,2.3 5.4-2-5.3-2.1z" fill="#8800cc"/>
<path d="M242.7,580.4l1.8,3 6.3-3.2-1-1.7z" fill="#00f3ac"/>
<path d="M240.3,576.5l2.7,4.4 7.1-1.8-2.5-4.4z" fill="#00ff6a"/>
<path d="M240.1,576.1l0.6,0.9 7.2-1.7-1.5-2.6z" fill="#00ff21"/>
<path d="M306.5,606.4l2.7,1.6 5.9-1.8-5.1-2.9z" fill="#6800de"/>
<path d="M304.2,605.1l2.9,1.6 3.7-3.4z" fill="#4b00e9"/>
<path d="M368.5,615.7l4.5,2.9 5.1-2.2-5.2-3.1-2.8,1.1z" fill="#9200c4"/>
<path d="M367.8,615.3l1.3,0.8 1.9-1.9z" fill="#8800cc"/>
<path d="M257.1,590.6l1.3,1.5 6.2-2.6-0.8-1z" fill="#0776ff"/>
<path d="M253.9,586.7l3.7,4.4 6.6-2.1-3.7-4.6-4,1.2z" fill="#02b1ff"/>
<path d="M260.9,585l-0.8-1.1-4.3,2.3z" fill="#00dbe5"/>
<path d="M324,610.2l4.6-1.5-2.4-1.2z" fill="#7e00d5"/>
<path d="M317.8,608.2l5.1,2.4 2-0.7 1.8-2.1-3.1-1.5z" fill="#6800de"/>
<path d="M326.7,609L327.3,608.4" class="cl"/>
<path d="M267.6,593.2l4.6,4.4 6.1-2.1-4.6-4.5z" fill="#0b3cff"/>
<path d="M331.4,610.5l5.2,2.3 5.6-2.1-5.2-2.2z" fill="#7e00d5"/>
<path d="M219,548l0.9,4 5.1-5.1z" fill="#ff8100"/>
<path d="M218.3,544.5l0.8,4.1 5.3-1.1 2-1.9-0.5-2.6z" fill="#ff5e00"/>
<path d="M217.5,541l0.9,4.1 7.6-1.5-0.9-4.1z" fill="#ff3b00"/>
<path d="M216.7,537.4l0.9,4.1 7.7-1.4-0.9-4.1z" fill="#ff2200"/>
<path d="M216,533.9l0.9,4.1 7.7-1.4-0.9-4.1z" fill="#ff0d00"/>
<path d="M215.2,530.4l0.9,4.1 7.8-1.4-0.9-4.1z" fill="#ff0000"/>
<path d="M215.2,530.5l0.1,0.4 7.8-1.3-0.8-4.1-3.3,0.6zM222.4,526.1l-0.6-3.3-3.4,4z" fill="#fe0000"/>
<path d="M219.3,547.9L224.7,546.8M216.4,534.4L223.5,533.1" class="cl"/>
<path d="M283,600.4l3,2.5 6-2-3.9-3.1z" fill="#2d00f4"/>
<path d="M281.3,599.1l2.2,1.7 5.1-2.6-1.3-1z" fill="#1002ff"/>
<path d="M347.3,613.7l3,1.4 5.4-2.1-5.2-2.3-1.5,0.5z" fill="#8800cc"/>
<path d="M345,612.7l2.9,1.3 2-3.1z" fill="#7e00d5"/>
<path d="M233.9,578.2l0.6,2.3 5.6-3.8z" fill="#00ff6a"/>
<path d="M232.9,574.7l1.1,4.1 5.4-1.5 1.5-0.9-1-3.6z" fill="#00ff21"/>
<path d="M232,571.2l1.1,4.1 7-1.9-1.1-4.1z" fill="#25ff00"/>
<path d="M231,567.6l1.1,4.1 7.1-1.8-1.1-4z" fill="#66ff00"/>
<path d="M230.1,564.1l1.1,4.1 7.1-1.8-1.1-4z" fill="#a3ff00"/>
<path d="M230.1,564l0.1,0.7 7.1-1.7-0.8-3.3z" fill="#dcff00"/>
<path d="M232.9,573.4L239.3,571.7" class="cl"/>
<path d="M294.9,603.8l4.9,3.3 5.9-1.8-4.9-3.3z" fill="#4b00e9"/>
<path d="M358.7,614.9l5.2,2.7 5.3-2.2-5.2-2.5z" fill="#8800cc"/>
<path d="M247.5,588.2l1.1,1.8 6.2-3-0.4-0.8z" fill="#02b1ff"/>
<path d="M245,584.3l2.8,4.4 6.9-2-2.6-4.3z" fill="#00dbe5"/>
<path d="M244.2,582.9l1.2,1.9 7-1.9-1.9-3.2z" fill="#00f3ac"/>
<path d="M246.5,586L252.9,584.2" class="cl"/>
<path d="M308.5,607.6l5,2.6 5.9-1.9-5.1-2.5z" fill="#6800de"/>
<path d="M372.4,618.2l5.1,3.2 5.1-2.4-5.2-3z" fill="#9200c4"/>
<path d="M261.7,595.1l0.8,0.8 6.2-2.4-0.5-0.5z" fill="#0b3cff"/>
<path d="M258,591.6l4.2,4 6.5-2.1-4.5-4.5z" fill="#0776ff"/>
<path d="M323.3,610.9l4,1.8 5.7-2.1-5.1-2.3-3.3,1.1z" fill="#7e00d5"/>
<path d="M322.1,610.3l1.8,0.8 1.5-1.9z" fill="#6800de"/>
<path d="M324.8,611.2L326.7,609" class="cl"/>
<path d="M208.7,538.5l0.7,3 2-3.3z" fill="#ff2200"/>
<path d="M207.9,535l1,4.1 2.1-0.3 2.8-4.6z" fill="#ff0d00"/>
<path d="M207.1,531.4l0.9,4.2 5.4-0.7 2.7-4.7z" fill="#ff0000"/>
<path d="M206.2,527.8l1,4.2 8.5-1.1 0.2-0.3-0.8-3.9zM205.4,524.2l0.9,4.2 8.9-1.1-0.9-4.1z" fill="#fe0000"/>
<path d="M204.7,521.5l0.8,3.3 8.9-1-0.9-4.2-8.3,1zM213.7,520.2l-0.9-4.1-5.7,0.6-2.2,4.5z" fill="#fd0000"/>
<path d="M212.9,516.7l-0.9-4.2-3,0.3-2.2,4.5zM212.2,513.1l-1.1-4.7-2.5,5.1z" fill="#fc0000"/>
<path d="M208.3,535.5L213,534.9M205.1,521.8L213.5,520.8" class="cl"/>
<path d="M272.5,597.8l3.9,3.6 6.1-2.1-4.2-3.9z" fill="#1002ff"/>
<path d="M271.7,597.2l1.3,1.1 5.8-2.4-1-0.9z" fill="#0b3cff"/>
<path d="M274.2,599L279.3,596.8" class="cl"/>
<path d="M335.8,612.4l5.2,2.5 5.6-2.2-5.2-2.4z" fill="#7e00d5"/>
<path d="M224.1,569.2l0.2,0.9 1-1.1z" fill="#66ff00"/>
<path d="M223.2,565.7l1,4.1 0.5-0.2 6.2-5.6z" fill="#a3ff00"/>
<path d="M222.3,562.1l1,4.1 6.9-1.5 0.5-0.5-0.8-3.7z" fill="#dcff00"/>
<path d="M221.5,558.6l1,4.1 7.5-1.6-1-4.1z" fill="#f5ea00"/>
<path d="M220.6,555.1l1,4.1 7.6-1.6-1-4.1z" fill="#fdca00"/>
<path d="M219.8,551.5l1,4.1 7.6-1.5-1-4.1z" fill="#ffa600"/>
<path d="M219.7,551.3l0.2,0.8 7.6-1.5-0.9-4.1-2.5,0.5z" fill="#ff8100"/>
<path d="M226.7,547.1l-0.5-2.2-2.7,2.8z" fill="#ff5e00"/>
<path d="M222.5,561.4L229.4,559.9M226.3,546.5L224.7,546.8" class="cl"/>
<path d="M289.6,605.6l0.6,0.4 6-2-1.5-1.1z" fill="#4b00e9"/>
<path d="M285.4,602.4l4.8,3.6 5.1-2.7-3.9-2.8z" fill="#2d00f4"/>
<path d="M349.5,614.7l5.3,2.4 5.4-2.2-5.3-2.3z" fill="#8800cc"/>
<path d="M238,585.9l0.7,1 2.2-1.5z" fill="#00dbe5"/>
<path d="M235.5,581.9l2.9,4.5 1.8-0.4 4.8-2.9-1.7-2.9z" fill="#00f3ac"/>
<path d="M234.3,579.9l1.6,2.6 7.7-1.7-2.6-4.4-1.8,0.4z" fill="#00ff6a"/>
<path d="M241.3,576.9l-0.7-1.1-2.1,1.6z" fill="#00ff21"/>
<path d="M302.8,609l1.3,0.7 5.9-1.9-3-1.8z" fill="#6800de"/>
<path d="M299.1,606.7l4.3,2.6 4.2-3-2.6-1.5z" fill="#4b00e9"/>
<path d="M364.8,618.2l3.7,2.4 5.1-2.3-4.6-2.9z" fill="#9200c4"/>
<path d="M363.3,617.2l2,1.3 4.3-2.8-1.1-0.7z" fill="#8800cc"/>
<path d="M250.7,592.4l2,2.3 6.3-2.9-1.2-1.4z" fill="#0776ff"/>
<path d="M248.2,589.5l3,3.4 7-2-3.7-4.4z" fill="#02b1ff"/>
<path d="M312.8,609.9l5.1,2.6 5.8-2.1-5.1-2.5z" fill="#6800de"/>
<path d="M262.1,595.5l4.6,4.2 6.2-2.3-4.6-4.4z" fill="#0b3cff"/>
<path d="M326.5,612.3l5.2,2.3 5.7-2.1-5.2-2.3z" fill="#7e00d5"/>
<path d="M212.9,556.4l1,4 3.5-4.8z" fill="#fdca00"/>
<path d="M212.1,552.8l1,4.2 3.8-0.7 3.5-4.9z" fill="#ffa600"/>
<path d="M211.3,549.3l0.9,4.1 7.7-1.3 0.5-0.6-0.8-3.6z" fill="#ff8100"/>
<path d="M210.4,545.7l1,4.1 8.3-1.3-0.9-4.1z" fill="#ff5e00"/>
<path d="M209.6,542.1l1,4.2 8.4-1.3-0.9-4.1z" fill="#ff3b00"/>
<path d="M209.2,540.7l0.5,2 8.5-1.3-0.9-4.1-6.7,1z" fill="#ff2200"/>
<path d="M217.5,537.9l-0.9-4.1-3.6,0.5-2.8,4.7z" fill="#ff0d00"/>
<path d="M216.7,534.4l-1-4.6-3.1,5.2z" fill="#ff0000"/>
<path d="M211.5,549.2L219.3,547.9M216.4,534.4L213,534.9" class="cl"/>
<path d="M278,602.6l2.6,2.2 6.1-2.2-3.1-2.5z" fill="#2d00f4"/>
<path d="M275.9,600.9l2.6,2.2 5.6-2.5-2.1-1.8z" fill="#1002ff"/>
<path d="M344.5,616.5l1,0.4 5.6-2.2-3.4-1.5z" fill="#8800cc"/>
<path d="M340.3,614.5l4.8,2.2 3.2-3.2-2.5-1.1z" fill="#7e00d5"/>
<path d="M228,583.4l0.6,1.9 3.2-2.7z" fill="#00f3ac"/>
<path d="M227,579.9l1.2,4.1 2.9-0.7 3.9-3.2-0.5-2.1z" fill="#00ff6a"/>
<path d="M226,576.3l1.2,4.1 7.4-1.8-1.1-4.1z" fill="#00ff21"/>
<path d="M225,572.7l1.2,4.2 7.5-1.8-1.1-4.1z" fill="#25ff00"/>
<path d="M224.1,569.4l1.1,3.9 7.5-1.7-1.1-4.1-7.2,1.6z" fill="#66ff00"/>
<path d="M231.8,568.1l-1.1-4.1-0.7,0.1-6.2,5.7z" fill="#a3ff00"/>
<path d="M230.8,564.6l-0.2-1-1.3,1.2z" fill="#dcff00"/>
<path d="M226,575L232.9,573.4" class="cl"/>
<path d="M289.6,605.6l4.9,3.3 6-2-4.9-3.3z" fill="#4b00e9"/>
<path d="M354.1,616.7l5.2,2.9 5.4-2.3-5.3-2.7z" fill="#8800cc"/>
<path d="M240.6,589.9l2.2,3.4 6.3-3.6-1-1.7z" fill="#02b1ff"/>
<path d="M238.3,586.4l2.6,4 7.5-1.8-2.8-4.5-5.6,1.3z" fill="#00dbe5"/>
<path d="M246,584.6l-1.3-2-5.4,3.5z" fill="#00f3ac"/>
<path d="M239.5,587.7L246.5,586" class="cl"/>
<path d="M303.3,609.3l5.1,2.8 5.9-2.1-5-2.6z" fill="#6800de"/>
<path d="M367.9,620.2l5.1,3.4 5.2-2.5-5.2-3.2z" fill="#9200c4"/>
<path d="M255.3,597l1.6,1.4 6.2-2.7-0.8-0.8z" fill="#0b3cff"/>
<path d="M252.3,594.2l3.6,3.3 6.9-2.1-4.2-4z" fill="#0776ff"/>
<path d="M320,613.5l2.3,1.1 5.8-2.2-4.3-2z" fill="#7e00d5"/>
<path d="M317.1,612.1l3.5,1.7 3.8-3.1-1.5-0.7z" fill="#6800de"/>
<path d="M321.5,613.9L324.8,611.2" class="cl"/>
<path d="M202.9,553.8l0.7,2.4 1-2.6z" fill="#ffa600"/>
<path d="M201.9,550.2l1.1,4.2 1.4-0.2 1.8-4.4z" fill="#ff8100"/>
<path d="M200.9,546.5l1.1,4.2 3.9-0.3 1.8-4.4z" fill="#ff5e00"/>
<path d="M199.9,542.9l1.1,4.2 6.5-0.5 1.8-4.5z" fill="#ff3b00"/>
<path d="M198.9,539.3l1.1,4.2 9-0.7 0.9-2.1-0.6-2.2z" fill="#ff2200"/>
<path d="M198.9,539.2l0.1,0.7 10.5-0.8-1-4.2-8.4,0.6z" fill="#ff0d00"/>
<path d="M208.6,535.5l-0.9-4.2-6.4,0.5-1.4,4.3z" fill="#ff0000"/>
<path d="M207.8,531.9l-1-4.2-4.2,0.3-1.5,4.4zM207,528.3l-1-4.1-2.2,0.1-1.4,4.4z" fill="#fe0000"/>
<path d="M206.1,524.8l-1-4.1-1.5,4.2z" fill="#fd0000"/>
<path d="M202.2,550.1L205.9,549.8M208.3,535.5L200.2,536.1M205.1,521.8L205,521.8" class="cl"/>
<path d="M266.8,599.9l4.1,3.5 6.1-2.3-3.9-3.5z" fill="#1002ff"/>
<path d="M266.2,599.3l1.1,1 6.3-2.3-1.2-1.1z" fill="#0b3cff"/>
<path d="M268.7,601.1L274.2,599" class="cl"/>
<path d="M331,614.3l5.2,2.5 5.6-2.2-5.2-2.5z" fill="#7e00d5"/>
<path d="M217.5,574.2l0.8,3.1 3.2-3.9z" fill="#25ff00"/>
<path d="M216.6,570.7l1,4.1 3.3-0.7 3.9-4.5-0.2-0.5z" fill="#66ff00"/>
<path d="M215.6,567.1l1.1,4.1 8.1-1.6-1-4.1z" fill="#a3ff00"/>
<path d="M214.7,563.5l1.1,4.2 8.1-1.6-1-4.1z" fill="#dcff00"/>
<path d="M213.8,559.9l1.1,4.2 8.2-1.5-1-4.1z" fill="#f5ea00"/>
<path d="M213.7,559.7l0.2,0.8 8.3-1.4-1-4.1-4.7,0.8z" fill="#fdca00"/>
<path d="M221.4,555.5l-1-4.1-0.8,0.2-3.6,4.9z" fill="#ffa600"/>
<path d="M220.5,552l-0.3-1.3-1.1,1.5z" fill="#ff8100"/>
<path d="M218.4,576.5L218.6,576.4M214.8,562.8L222.5,561.4" class="cl"/>
<path d="M288.3,606.4l2.6-0.6-0.7-0.5z" fill="#4b00e9"/>
<path d="M280,604.4l4.8,3.6 4.5-1.6 1.5-0.7-4.7-3.5z" fill="#2d00f4"/>
<path d="M344.8,616.6l5.3,2.5 5.4-2.3-5.2-2.4z" fill="#8800cc"/>
<path d="M230.1,587.3l2.7,4.1 6.4-4.8-0.5-0.8z" fill="#00dbe5"/>
<path d="M228.3,584.8l2.1,3 8.6-1.5-2.8-4.5-5.3,0.9z" fill="#00f3ac"/>
<path d="M236.5,582.4l-1.8-2.9-4.5,3.8z" fill="#00ff6a"/>
<path d="M231.6,589.1L236.4,588.3" class="cl"/>
<path d="M299,611.3l5.8-1.8-1.4-0.9z" fill="#6800de"/>
<path d="M293.9,608.5l4.9,3.1 1.1-0.4 4-2.2-4-2.6z" fill="#4b00e9"/>
<path d="M360.8,620.6l3.1,2.1 5.2-2.4-3.7-2.5z" fill="#9200c4"/>
<path d="M358.7,619.2l2.6,1.8 4.6-2.8-1.9-1.3z" fill="#8800cc"/>
<path d="M243.6,594.1l3.3,3.6 6.4-3.3-1.9-2.2z" fill="#0776ff"/>
<path d="M242.4,592.8l1.6,1.8 7.8-1.9-3-3.4z" fill="#02b1ff"/>
<path d="M307.7,611.7l5.1,2.7 5.8-2.2-5-2.6z" fill="#6800de"/>
<path d="M256.4,597.9l4.6,4.2 6.3-2.6-4.6-4.3z" fill="#0b3cff"/>
<path d="M321.5,614.3l5.2,2.3 5.8-2.3-5.2-2.3z" fill="#7e00d5"/>
<path d="M206.8,568.2l1.1,4.1 2.4-4.5z" fill="#a3ff00"/>
<path d="M205.8,564.6l1.2,4.2 2.9-0.4 2.4-4.6z" fill="#dcff00"/>
<path d="M204.9,561l1.1,4.2 5.9-0.7 2.4-4.6z" fill="#f5ea00"/>
<path d="M203.9,557.4l1.1,4.2 9-1.1 0.3-0.7-0.8-3.5z" fill="#fdca00"/>
<path d="M203.3,555.3l0.7,2.7 9.7-1.1-1-4.2-8.8,1z" fill="#ffa600"/>
<path d="M212.8,553.3l-0.9-4.1-6.4,0.7-1.8,4.4z" fill="#ff8100"/>
<path d="M212,549.8l-1-4.2-3.9,0.4-1.9,4.5z" fill="#ff5e00"/>
<path d="M211.2,546.2l-1-4.2-1.6,0.2-1.8,4.5z" fill="#ff3b00"/>
<path d="M210.3,542.6l-0.7-2.7-1.2,2.9z" fill="#ff2200"/>
<path d="M206,563.9L212.3,563.1M211.5,549.2L205.9,549.8" class="cl"/>
<path d="M272.5,604.8l2.6,2.1 6.1-2.3-2.6-2.2z" fill="#2d00f4"/>
<path d="M270.3,603l2.8,2.2 6-2.4-2.6-2.1z" fill="#1002ff"/>
<path d="M343.3,617.7l3-1.1-1.3-0.6z" fill="#8800cc"/>
<path d="M335.4,616.4l5.3,2.5 3.5-1.4 1.4-1.2-4.5-2.1z" fill="#7e00d5"/>
<path d="M221.7,588.6l0.9,2.9 3.7-3.8z" fill="#00dbe5"/>
<path d="M220.6,585l1.3,4.2 3.8-0.9 3.4-3.4-0.5-1.6z" fill="#00f3ac"/>
<path d="M219.5,581.4l1.3,4.2 8-1.7-1.2-4.2z" fill="#00ff6a"/>
<path d="M218.5,577.8l1.2,4.2 8.1-1.7-1.2-4.1z" fill="#00ff21"/>
<path d="M218.1,576.6l0.5,1.8 8.2-1.6-1.2-4.2-5,1z" fill="#25ff00"/>
<path d="M225.8,573.2l-1.2-4.3-4.6,5.4z" fill="#66ff00"/>
<path d="M222.5,590.3L223.7,590M226,575L218.6,576.4" class="cl"/>
<path d="M284.7,607.9l4.4,3.1 6.1-2.3-4.9-3.4-1.3,0.5z" fill="#4b00e9"/>
<path d="M284.2,607.6l1,0.7 4.7-2.5z" fill="#2d00f4"/>
<path d="M349.4,618.7l5.2,3 5.4-2.4-5.2-2.8z" fill="#8800cc"/>
<path d="M235.6,595.5l1.3,1.9 3.8-2.8z" fill="#0776ff"/>
<path d="M232.8,591.4l3.2,4.6 4.1-0.8 3.2-2.2-2.1-3.3z" fill="#02b1ff"/>
<path d="M232.4,590.9l0.8,1 8.4-1.6-2.8-4.2z" fill="#00dbe5"/>
<path d="M239.5,587.7L236.4,588.3" class="cl"/>
<path d="M298.4,611.4l4.7,2.7 6-2.3-5-2.7-4.4,1.6z" fill="#6800de"/>
<path d="M298.1,611.3l0.9,0.5 1.6-1.2z" fill="#4b00e9"/>
<path d="M363.3,622.3l5.2,3.5 5.2-2.5-5.2-3.4z" fill="#9200c4"/>
<path d="M248.2,598.7l2.9,2.5 6.3-3.1-1.4-1.3z" fill="#0b3cff"/>
<path d="M246.5,597.2l2.2,2 7.9-1.9-3.8-3.3z" fill="#0776ff"/>
<path d="M316,616.1l1.2,0.6 5.8-2.4-2.5-1.2z" fill="#7e00d5"/>
<path d="M312,614.1l4.7,2.3 4.5-3-3.3-1.6z" fill="#6800de"/>
<path d="M318.7,615.7L321.5,613.9" class="cl"/>
<path d="M196.6,569l1,3 1.2-3.1z" fill="#a3ff00"/>
<path d="M195.4,565.3l1.4,4.3 1.8-0.1 1.7-4.4z" fill="#dcff00"/>
<path d="M194.1,561.6l1.5,4.3 4.4-0.2 1.7-4.4z" fill="#f5ea00"/>
<path d="M193,558.4l1.3,3.8 7.2-0.3 1.6-4.4-9.9,0.4z" fill="#fdca00"/>
<path d="M202.9,558.1l1-2.8-0.4-1.6-9.2,0.5-1.3,4.3z" fill="#ffa600"/>
<path d="M203.6,554.3l-1.1-4.2-7.1,0.4-1.3,4.3z" fill="#ff8100"/>
<path d="M202.6,550.7l-1.1-4.2-4.9,0.2-1.3,4.4z" fill="#ff5e00"/>
<path d="M201.6,547.1l-1.1-4.2-2.8,0.1-1.3,4.3z" fill="#ff3b00"/>
<path d="M200.7,543.5l-1.2-4.3-0.6,0.1-1.4,4.3z" fill="#ff2200"/>
<path d="M199.7,539.8l-0.5-1.4-0.5,1.5z" fill="#ff0d00"/>
<path d="M195.4,564.6L200.2,564.4M202.2,550.1L195.8,550.4" class="cl"/>
<path d="M260.8,601.9l4.4,3.7 6.3-2.4-4-3.6z" fill="#1002ff"/>
<path d="M260.5,601.6l0.9,0.8 6.6-2.3-1.2-1z" fill="#0b3cff"/>
<path d="M262.8,603.2L268.7,601.1" class="cl"/>
<path d="M326,616.3l5.2,2.5 5.7-2.3-5.2-2.5z" fill="#7e00d5"/>
<path d="M211,582.7l1.3,4.4 3.1-5.1z" fill="#00ff6a"/>
<path d="M209.9,579.1l1.3,4.2 3.8-0.6 3-4.8z" fill="#00ff21"/>
<path d="M208.9,575.5l1.2,4.2 7.5-1.2 1.1-1.8-0.6-2.6z" fill="#25ff00"/>
<path d="M207.8,571.8l1.2,4.2 9.2-1.3-1.1-4.1z" fill="#66ff00"/>
<path d="M207.7,571.5l0.3,0.9 9.3-1.3-1.1-4.1-6.7,0.9z" fill="#a3ff00"/>
<path d="M216.4,567.6l-1.1-4.2-3.7,0.5-2.4,4.6z" fill="#dcff00"/>
<path d="M215.4,564l-1-4.2-0.8,0.1-2.4,4.7z" fill="#f5ea00"/>
<path d="M214.5,560.4l-0.4-1.5-0.9,1.7z" fill="#fdca00"/>
<path d="M209.9,577.8L218.4,576.5M214.8,562.8L212.3,563.1" class="cl"/>
<path d="M274.5,606.5l4.8,3.6 6.2-2.4-4.8-3.6z" fill="#2d00f4"/>
<path d="M341.2,619.2l4,1.9 5.6-2.3-5.3-2.5-1.6,0.7z" fill="#8800cc"/>
<path d="M339.9,618.6l1.9,0.9 3-2.7z" fill="#7e00d5"/>
<path d="M223.5,592.5l3.3,4.5 5.9-5.6z" fill="#02b1ff"/>
<path d="M222.3,590.9l1.6,2.1 8.2-1 1.1-1-2.5-3.8-5.3,0.6z" fill="#00dbe5"/>
<path d="M231.1,587.8l-2.3-3.5-4,4.2z" fill="#00f3ac"/>
<path d="M231.6,589.1L223.7,590" class="cl"/>
<path d="M288.5,610.5l4.9,3.2 6.1-2.3-4.9-3.1z" fill="#4b00e9"/>
<path d="M356.6,623.1l2.6,1.8 5.3-2.5-3.2-2.1z" fill="#9200c4"/>
<path d="M354,621.3l3.1,2.1 4.8-2.8-2.5-1.7z" fill="#8800cc"/>
<path d="M239.6,600l1.4,1.4 3-2z" fill="#0b3cff"/>
<path d="M236.5,596.9l3.6,3.6 3.2-0.5 4.2-2.6-3.3-3.5-4.4,0.7z" fill="#0776ff"/>
<path d="M244.7,594.4l-1.8-1.9-3.7,2.7z" fill="#02b1ff"/>
<path d="M302.5,613.7l5,2.8 6-2.4-5.1-2.7z" fill="#6800de"/>
<path d="M254.1,603.8l1.1,0.9 4.3-2.2z" fill="#1002ff"/>
<path d="M250.6,600.8l4.1,3.5 4.1-1.2 2.8-1.3-4.6-4.1z" fill="#0b3cff"/>
<path d="M316.4,616.3l5.2,2.4 5.9-2.4-5.2-2.3z" fill="#7e00d5"/>
<path d="M317.6,616.5L318.7,615.7" class="cl"/>
<path d="M201.5,583.8l0.4,1.4 0.8-1.5z" fill="#00ff6a"/>
<path d="M200.3,580.1l1.4,4.3 0.7-0.1 2.1-4.6z" fill="#00ff21"/>
<path d="M199.1,576.4l1.4,4.3 3.7-0.4 2.2-4.6z" fill="#25ff00"/>
<path d="M197.8,572.7l1.5,4.3 6.8-0.6 2.1-4.6z" fill="#66ff00"/>
<path d="M197.3,571.2l0.7,2.1 9.9-0.9 0.4-0.9-0.9-3.3-9.2,0.8z" fill="#a3ff00"/>
<path d="M207.6,568.8l-1.2-4.2-6.8,0.5-1.7,4.5z" fill="#dcff00"/>
<path d="M206.6,565.1l-1.1-4.2-4.5,0.4-1.6,4.4z" fill="#f5ea00"/>
<path d="M205.6,561.5l-1.1-4.2-2,0.2-1.7,4.4z" fill="#fdca00"/>
<path d="M204.6,557.9l-1-3.5-1.4,3.7z" fill="#ffa600"/>
<path d="M200.1,578.8L204.8,578.3M206,563.9L200.2,564.4" class="cl"/>
<path d="M266.8,607l2.6,2.2 6.3-2.5-2.5-2.1z" fill="#2d00f4"/>
<path d="M264.7,605.2l2.6,2.2 6.4-2.4-2.7-2.3z" fill="#1002ff"/>
<path d="M330.5,618.5l5.2,2.5 5.7-2.4-5.2-2.5z" fill="#7e00d5"/>
<path d="M215.8,597.4l0.8,2.2 2.1-2.7z" fill="#0776ff"/>
<path d="M214.6,593.7l1.4,4.2 2.1-0.3 4-5.2z" fill="#02b1ff"/>
<path d="M213.3,590l1.5,4.3 6.7-1.2 1.6-2.1-0.8-2.5z" fill="#00dbe5"/>
<path d="M212.1,586.3l1.4,4.3 9-1.5-1.3-4.2z" fill="#00f3ac"/>
<path d="M212.1,586.3l0.2,0.6 9.1-1.4-1.3-4.2-5.4,0.8z" fill="#00ff6a"/>
<path d="M220.3,581.9l-1.2-4.2-1.8,0.3-3.1,4.8z" fill="#00ff21"/>
<path d="M219.2,578.3l-0.7-2.4-1.7,2.7z" fill="#25ff00"/>
<path d="M214.2,591.7L222.5,590.3" class="cl"/>
<path d="M279.3,610.1l4.3,3 6.2-2.4-4.5-3.1z" fill="#4b00e9"/>
<path d="M278.7,609.7l1.2,0.8 6-2.5-1-0.7z" fill="#2d00f4"/>
<path d="M344.6,620.7l5.2,3.1 5.5-2.4-5.2-3z" fill="#8800cc"/>
<path d="M229.8,601l1.1,1.5 2.2-2z" fill="#0b3cff"/>
<path d="M226.6,596.7l3.6,4.8 2.3-0.3 4.9-4.2-1.2-1.6z" fill="#0776ff"/>
<path d="M226.4,596.5l0.6,0.7 9.6-1.3-3.2-4.6-1.6,0.2z" fill="#02b1ff"/>
<path d="M233.8,591.8l-0.9-1.3-1.7,1.6z" fill="#00dbe5"/>
<path d="M293.7,613.9l4.1,2.3 6.1-2.4-4.9-2.7z" fill="#6800de"/>
<path d="M292.8,613.3l1.5,0.9 5.4-2.8-0.8-0.4z" fill="#4b00e9"/>
<path d="M358.6,624.5l5.2,3.5 5.3-2.5-5.2-3.5z" fill="#9200c4"/>
<path d="M240.6,601l4.6,3.7 6.4-3.8-2.7-2.3-5.8,0.8z" fill="#0b3cff"/>
<path d="M249.5,599.1l-2.5-2.2-4.6,3.1z" fill="#0776ff"/>
<path d="M311.6,618.7l6.3-2.3-1.3-0.7z" fill="#7e00d5"/>
<path d="M306.8,616.2l5.2,2.6 0.5-0.2 4.8-2.6-4.5-2.2z" fill="#6800de"/>
<path d="M254.7,604.3l4.7,3.9 6.4-2.8-4.3-3.7-2.9,0.8z" fill="#1002ff"/>
<path d="M262,602.2l-0.9-0.8-3.2,1.7z" fill="#0b3cff"/>
<path d="M256.2,605.1L262.8,603.2" class="cl"/>
<path d="M320.9,618.4l5.2,2.5 5.8-2.4-5.2-2.5z" fill="#7e00d5"/>
<path d="M205.3,594.9l0.9,2.7 1.8-3.1z" fill="#02b1ff"/>
<path d="M204,591.2l1.5,4.3 2.1-0.3 2.8-4.8z" fill="#00dbe5"/>
<path d="M202.8,587.5l1.4,4.3 5.8-0.8 2.8-4.8z" fill="#00f3ac"/>
<path d="M201.7,584.4l1.3,3.7 9.4-1.2 0.3-0.5-1.1-3.8-9.6,1.1z" fill="#00ff6a"/>
<path d="M211.8,583.2l-1.3-4.2-6.7,0.8-2.1,4.6z" fill="#00ff21"/>
<path d="M210.7,579.6l-1.2-4.2-3.8,0.4-2.2,4.6z" fill="#25ff00"/>
<path d="M209.7,576l-1.3-4.2-0.9,0.1-2.1,4.5z" fill="#66ff00"/>
<path d="M208.6,572.3l-0.5-1.6-0.9,1.8z" fill="#a3ff00"/>
<path d="M204.9,592.9L208.9,592.4M209.9,577.8L204.8,578.3" class="cl"/>
<path d="M268.9,608.8l4.8,3.6 6.3-2.5-4.8-3.7z" fill="#2d00f4"/>
<path d="M337.5,621.9l2.8,1.3 5.7-2.4-4.2-2z" fill="#8800cc"/>
<path d="M335,620.6l3.1,1.6 4.3-3.1-1.7-0.8z" fill="#7e00d5"/>
<path d="M218.4,601.5l2.4,2.8 2.4-2.9z" fill="#0b3cff"/>
<path d="M216.3,599l2.6,3.1 3.8-0.1 4.5-5.4-9.4,0.4z" fill="#0776ff"/>
<path d="M226.6,597.3l0.6-0.7-3-4.2-3,0.1-3.9,5.1z" fill="#02b1ff"/>
<path d="M224.6,593l-1.9-2.5-2,2.6z" fill="#00dbe5"/>
<path d="M283,612.7l5,3.2 6.1-2.5-4.9-3.1z" fill="#4b00e9"/>
<path d="M352.2,625.6l2.2,1.5 5.4-2.5-2.7-1.9z" fill="#9200c4"/>
<path d="M349.2,623.4l3.6,2.5 4.9-2.8-3-2.1z" fill="#8800cc"/>
<path d="M230.5,602.1l4.6,4.1 6.4-5.1-1.1-1.2-8.2,0.7z" fill="#0b3cff"/>
<path d="M240.9,600.5l-3.9-4-5.4,4.7z" fill="#0776ff"/>
<path d="M297.1,615.9l5.1,2.9 6-2.6-5-2.8z" fill="#6800de"/>
<path d="M245.9,605.3l3.5,2.7 6.4-3.6-0.9-0.8z" fill="#1002ff"/>
<path d="M244.7,604.3l1.8,1.4 8.9-1.6-4.2-3.6z" fill="#0b3cff"/>
<path d="M248.1,606.7L252.8,605.8" class="cl"/>
<path d="M311.4,618.6l5,2.3 6-2.5-5.2-2.4-4.9,2.1z" fill="#7e00d5"/>
<path d="M311.2,618.5l0.9,0.4 1.1-0.9z" fill="#6800de"/>
<path d="M313.2,619.1L317.6,616.5" class="cl"/>
<path d="M260.4,609l3.3,2.7 6.3-2.8-2.6-2.2z" fill="#2d00f4"/>
<path d="M258.9,607.7l2.1,1.8 7-2.3-2.7-2.3z" fill="#1002ff"/>
<path d="M325.4,620.6l5.3,2.5 5.8-2.4-5.3-2.5z" fill="#7e00d5"/>
<path d="M209.7,606.2l0.8,2 1.7-2.4z" fill="#1002ff"/>
<path d="M208.2,602.4l1.7,4.4 1.8-0.3 3.7-5.1z" fill="#0b3cff"/>
<path d="M206.7,598.6l1.7,4.4 6.5-1 2.1-3-0.6-1.7z" fill="#0776ff"/>
<path d="M206,596.9l0.9,2.3 9.7-1.3-1.4-4.3-7.9,1z" fill="#02b1ff"/>
<path d="M215.4,594.2l-1.5-4.3-4.2,0.6-2.8,4.8z" fill="#00dbe5"/>
<path d="M214.1,590.5l-1.4-4.2-0.6,0-2.8,4.8z" fill="#00f3ac"/>
<path d="M212.9,586.8l-0.4-1.2-0.8,1.4z" fill="#00ff6a"/>
<path d="M210.5,607.3L210.8,607.2M214.2,591.7L208.9,592.4" class="cl"/>
<path d="M273.6,612.3l4.4,3.1 6.3-2.5-4.3-3z" fill="#4b00e9"/>
<path d="M273.1,612l1.1,0.8 6.4-2.5-1.2-0.8z" fill="#2d00f4"/>
<path d="M339.7,622.9l5.2,3.2 5.6-2.6-5.2-3.1z" fill="#8800cc"/>
<path d="M222.3,606l2.6,3 3.1-3.3z" fill="#1002ff"/>
<path d="M220.4,603.8l2.4,2.8 4.6-0.3 4-4.2-0.9-1.2-8.1,0.5z" fill="#0b3cff"/>
<path d="M230.9,601.4l-3.6-4.8-0.9,0.1-4.5,5.3z" fill="#0776ff"/>
<path d="M227.7,597.2l-0.8-1.1-1.1,1.2z" fill="#02b1ff"/>
<path d="M223.8,607.3L226.2,607.2" class="cl"/>
<path d="M288.4,616.2l3.9,2.3 6.2-2.6-4.2-2.4z" fill="#6800de"/>
<path d="M287.3,615.5l1.8,1.1 5.9-2.7-1.5-0.9z" fill="#4b00e9"/>
<path d="M353.8,626.7l5.2,3.6 5.4-2.6-5.2-3.5z" fill="#9200c4"/>
<path d="M234.7,605.9l4.5,3.3 5-3.8z" fill="#1002ff"/>
<path d="M234.6,605.8l0.9,0.6 8-0.4 2.2-1.6-4.6-3.7z" fill="#0b3cff"/>
<path d="M237.4,607.4L241.4,607.2" class="cl"/>
<path d="M301.5,618.4l5.1,2.7 6.1-2.6-5.1-2.6z" fill="#6800de"/>
<path d="M252.9,610.7l0.7,0.6 1-0.7z" fill="#2d00f4"/>
<path d="M248.9,607.6l4.6,3.6 0.4-0.1 6.1-3.2-4.7-3.9z" fill="#1002ff"/>
<path d="M256.2,605.1L252.8,605.8" class="cl"/>
<path d="M315.7,620.6l5.3,2.6 5.9-2.6-5.2-2.5z" fill="#7e00d5"/>
<path d="M267.2,614.4l0.8,0.6 2.3-1.3z" fill="#4b00e9"/>
<path d="M263.1,611.3l4.7,3.6 1.8-0.6 4.7-2.1-4.8-3.7z" fill="#2d00f4"/>
<path d="M333.5,624.6l1.8,0.8 5.7-2.5-2.9-1.4z" fill="#8800cc"/>
<path d="M330,622.8l4.1,2.1 4.6-3.1-3-1.5z" fill="#7e00d5"/>
<path d="M213.3,610.7l1.4,1.4 1-1.3z" fill="#2d00f4"/>
<path d="M210.2,607.6l3.7,3.7 1.3,0.1 4.2-5.3-8-0.2z" fill="#1002ff"/>
<path d="M218.9,606.7l2.3-2.9-2-2.3-4.6,0-3.6,5z" fill="#0b3cff"/>
<path d="M219.7,602.1l-3-3.6-2.6,3.6z" fill="#0776ff"/>
<path d="M217.9,607.4L210.8,607.2" class="cl"/>
<path d="M277.4,615l5,3.3 6.2-2.7-4.9-3.2z" fill="#4b00e9"/>
<path d="M347.7,628.1l1.8,1.3 5.5-2.6-2.2-1.6z" fill="#9200c4"/>
<path d="M344.3,625.7l3.9,2.8 5.1-2.9-3.5-2.5z" fill="#8800cc"/>
<path d="M227.7,611.1l1.3,1.1 1.1-1.1z" fill="#2d00f4"/>
<path d="M224.4,608.6l4,3.1 1.1,0 6-5.9-8.4-0.1z" fill="#1002ff"/>
<path d="M234.9,606.4l0.6-0.7-4.6-4.1-4.3,4.7z" fill="#0b3cff"/>
<path d="M233.5,607.3L226.2,607.2" class="cl"/>
<path d="M291.7,618.1l5,3 6.2-2.6-5.1-2.9z" fill="#6800de"/>
<path d="M238.7,608.8l4.7,3.4 6.5-4.5-3.2-2.6-3.4,0.3z" fill="#1002ff"/>
<path d="M247.3,605.7l-2.1-1.7-2.6,2z" fill="#0b3cff"/>
<path d="M248.1,606.7L241.4,607.2" class="cl"/>
<path d="M306.4,621l4.7,2.2 6.1-2.6-5.2-2.4z" fill="#7e00d5"/>
<path d="M305.9,620.8l1.2,0.5 5.6-2.8-0.7-0.3z" fill="#6800de"/>
<path d="M308.3,621.6L313.2,619.1" class="cl"/>
<path d="M253.1,610.9l4.7,3.9 6.5-3.4-3.2-2.6-7.4,1.8z" fill="#2d00f4"/>
<path d="M261.7,609.3l-2.2-1.8-6.5,3.7z" fill="#1002ff"/>
<path d="M320.2,622.8l5.3,2.6 5.9-2.6-5.3-2.5z" fill="#7e00d5"/>
<path d="M267.4,614.6l4.9,3.4 6.4-2.8-4.5-3.1-4.8,1.6z" fill="#4b00e9"/>
<path d="M274.9,612.5l-1.1-0.7-5.1,2.5z" fill="#2d00f4"/>
<path d="M334.6,625l5.3,3.4 5.6-2.6-5.2-3.2z" fill="#8800cc"/>
<path d="M214.2,611.6l4.5,4.5 4.7-5.4-8.5,0.1z" fill="#2d00f4"/>
<path d="M222.9,611.3l2.4-2.7-2.2-2.6-4.5,0.1-4.2,5.3z" fill="#1002ff"/>
<path d="M223.6,606.6l-2.8-3.3-2.7,3.4z" fill="#0b3cff"/>
<path d="M223.8,607.3L217.9,607.4" class="cl"/>
<path d="M282.8,618.5l4,2.4 6.2-2.7-3.9-2.3z" fill="#6800de"/>
<path d="M281.7,617.9l1.7,1 6.4-2.6-1.8-1.1z" fill="#4b00e9"/>
<path d="M348.9,629l5.3,3.6 5.5-2.6-5.3-3.6z" fill="#9200c4"/>
<path d="M228.5,611.8l4.7,3 3.4-3.2-7.4-0.5z" fill="#2d00f4"/>
<path d="M236,612.1l3.7-3.3-4-3-1.1,0-5.9,5.9z" fill="#1002ff"/>
<path d="M236.4,606.4l-1.3-1-1.1,1z" fill="#0b3cff"/>
<path d="M237.4,607.4L233.5,607.3" class="cl"/>
<path d="M296.1,620.7l5.1,2.9 6.1-2.8-5.1-2.7z" fill="#6800de"/>
<path d="M242.8,611.8l4.8,3.4 6.5-4.2-0.4-0.4z" fill="#2d00f4"/>
<path d="M242.9,611.8l0.6,0.5 10.8-1.2-4.9-3.8z" fill="#1002ff"/>
<path d="M310.4,622.9l5.3,2.6 6-2.7-5.2-2.5z" fill="#7e00d5"/>
<path d="M259.7,616.2l2.4,1.8 6.5-3.3-0.7-0.5z" fill="#4b00e9"/>
<path d="M257.3,614.4l3.1,2.3 8.2-2-4.8-3.7z" fill="#2d00f4"/>
<path d="M329.2,627.2l0.9,0.5 5.9-2.6-1.9-0.9z" fill="#8800cc"/>
<path d="M324.8,625l5,2.6 4.9-3.1-4-2z" fill="#7e00d5"/>
<path d="M271.7,617.6l5,3.2 6.3-2.8-4.9-3.2z" fill="#4b00e9"/>
<path d="M343,630.6l1.5,1.1 5.6-2.6-1.9-1.4z" fill="#9200c4"/>
<path d="M339.3,628l4.2,3 5.3-2.9-3.9-2.7z" fill="#8800cc"/>
<path d="M218.7,615.8l4.2,2.9 2.1-2.3z" fill="#4b00e9"/>
<path d="M218.3,615.7l1.1,0.7 5.1,0.6 4.9-5.3-0.7-0.6-6.1-0.4z" fill="#2d00f4"/>
<path d="M229.4,611.7l-4.5-3.5-2.8,3.1z" fill="#1002ff"/>
<path d="M286.1,620.6l5.1,3 6.2-2.8-5-3z" fill="#6800de"/>
<path d="M232.7,614.4l4.6,3 6.7-5.7-8.2-0.2z" fill="#2d00f4"/>
<path d="M243.3,612.3l0.6-0.5-4.7-3.4-4,3.7z" fill="#1002ff"/>
<path d="M300.9,623.4l4.8,2.3 6.2-2.8-4.8-2.2z" fill="#7e00d5"/>
<path d="M300.5,623.2l1.1,0.5 6.2-2.7-1.1-0.5z" fill="#6800de"/>
<path d="M302.8,624L308.3,621.6" class="cl"/>
<path d="M250.6,617.6l1.3,1 2.1-1.5z" fill="#4b00e9"/>
<path d="M247.1,614.8l4.1,3.3 2.1-0.4 5.1-3.2-4.8-3.9z" fill="#2d00f4"/>
<path d="M315,625.1l5.3,2.6 5.9-2.6-5.2-2.6z" fill="#7e00d5"/>
<path d="M261.6,617.7l4.9,3.3 6.4-3.3-4.9-3.4z" fill="#4b00e9"/>
<path d="M329.5,627.3l5.3,3.4 5.7-2.6-5.2-3.3z" fill="#8800cc"/>
<path d="M276.5,620.7l4.6,2.8 6.3-2.9-3.9-2.4z" fill="#6800de"/>
<path d="M276,620.4l1.2,0.7 6.9-2.5-1.7-1z" fill="#4b00e9"/>
<path d="M344,631.3l5.2,3.8 5.6-2.8-5.2-3.6z" fill="#9200c4"/>
<path d="M222.3,618.4l4.7,2.5 3.8-3.7-6.5-0.9z" fill="#4b00e9"/>
<path d="M230.2,617.7l3.4-3.4-4.6-2.9-5.2,5.5z" fill="#2d00f4"/>
<path d="M294.9,625.6l0.8,0.5 2.7-1.6z" fill="#7e00d5"/>
<path d="M290.5,623.2l5,2.8 2.2-0.8 4.2-2-5.1-2.8z" fill="#6800de"/>
<path d="M238.3,617.9l3.3,2.2 2.6-2.1z" fill="#4b00e9"/>
<path d="M236.8,617.1l2.2,1.4 4.5,0.1 4.6-3.8-4.4-3.1-0.6,0z" fill="#2d00f4"/>
<path d="M244.4,612.2l-1-0.8-1,0.9z" fill="#1002ff"/>
<path d="M305,625.3l5.3,2.6 6.1-2.8-5.2-2.5z" fill="#7e00d5"/>
<path d="M251.4,618.2l4.8,3.5 6.5-4-2.2-1.6-7.4,1.1z" fill="#4b00e9"/>
<path d="M261.2,616.6l-3.3-2.5-5.5,3.6z" fill="#2d00f4"/>
<path d="M327.1,628.8l3.7-1.4-1-0.5z" fill="#8800cc"/>
<path d="M319.6,627.3l5.3,2.7 3.1-1.3 2.4-1.5-4.9-2.5z" fill="#7e00d5"/>
<path d="M269,622.6l1.8,1.2 5-2.8z" fill="#6800de"/>
<path d="M265.9,620.6l3.8,2.4 5.4-1.4 2.2-1.1-5-3.2z" fill="#4b00e9"/>
<path d="M338.2,633.2l1.2,1 5.7-2.8-1.5-1.1z" fill="#9200c4"/>
<path d="M334.2,630.3l4.5,3.3 5.4-2.9-4.2-3z" fill="#8800cc"/>
<path d="M280.4,623.1l5.1,3.1 6.3-2.9-5-3z" fill="#6800de"/>
<path d="M226.5,620.6l4.7,2.6 5.8-5.4-7-0.7z" fill="#4b00e9"/>
<path d="M236.4,618.3l1.4-1.3-4.7-3-3.6,3.6z" fill="#2d00f4"/>
<path d="M295,625.8l5.2,2.4 6.2-2.9-4.8-2.2-4.1,1.5z" fill="#7e00d5"/>
<path d="M302.4,623.4l-1.2-0.5-4.4,2.3z" fill="#6800de"/>
<path d="M296.8,626.3L302.8,624" class="cl"/>
<path d="M241.1,619.7l4.7,3.6 6.6-5-1-0.9-8.1,0.6z" fill="#4b00e9"/>
<path d="M252.1,618l-4.5-3.5-5,4.1z" fill="#2d00f4"/>
<path d="M309.6,627.5l5.3,2.6 6.1-2.7-5.3-2.6z" fill="#7e00d5"/>
<path d="M259.5,623.9l1,0.6 1.2-0.8z" fill="#6800de"/>
<path d="M255.6,621.4l4.7,3 0.7-0.1 6-3.7-4.8-3.3z" fill="#4b00e9"/>
<path d="M324.6,629.8l4.9,3.4 5.9-2.8-5.2-3.4-2.5,1.1z" fill="#8800cc"/>
<path d="M324.3,629.7l0.8,0.5 3.5-2.2z" fill="#7e00d5"/>
<path d="M270.3,623.4l5,3.1 6.4-3.3-4.4-2.7-2.4,0.6z" fill="#6800de"/>
<path d="M278,620.9l-1.3-0.8-2.5,1.5z" fill="#4b00e9"/>
<path d="M338.9,633.8l5.3,3.7 5.6-2.7-5.2-3.8z" fill="#9200c4"/>
<path d="M288.5,627.9l1.5,0.9 6.3-3-0.7-0.4z" fill="#7e00d5"/>
<path d="M284.9,625.9l4.3,2.4 7.1-2.6-5.1-2.8z" fill="#6800de"/>
<path d="M290,628.4L290.4,628.3" class="cl"/>
<path d="M233,624.1l2.4,1.4 1.4-1.2z" fill="#6800de"/>
<path d="M230.6,622.9l3.2,1.7 2.3,0.3 5.9-5.2-2.8-1.8-3-0.2z" fill="#4b00e9"/>
<path d="M239.9,618.4l-2.6-1.7-1.7,1.6z" fill="#2d00f4"/>
<path d="M299.5,627.9l5.3,2.5 6.2-2.8-5.3-2.6z" fill="#7e00d5"/>
<path d="M247.5,624.4l2.6,1.8 2.8-2.1z" fill="#6800de"/>
<path d="M245.3,622.9l2.9,2 4-0.2 4.5-3.3-4.8-3.5z" fill="#4b00e9"/>
<path d="M314.2,629.8l5.3,2.7 6.1-2.8-5.3-2.7z" fill="#7e00d5"/>
<path d="M260,624.2l4.9,3.1 6.5-3.8-1.6-1.1-9,1.3z" fill="#6800de"/>
<path d="M270.5,622.9l-4-2.6-6.5,4z" fill="#4b00e9"/>
<path d="M333.3,635.9l0.9,0.7 5.8-2.7-1.2-1z" fill="#9200c4"/>
<path d="M329,632.7l4.8,3.6 5.5-3-4.5-3.3z" fill="#8800cc"/>
<path d="M274.7,626.2l5,3 6.4-3.3-5-3.1z" fill="#6800de"/>
<path d="M289.3,628.4l5.3,2.5 6.3-3-5.2-2.5z" fill="#7e00d5"/>
<path d="M296.8,626.3L290.4,628.3" class="cl"/>
<path d="M234.9,625.2l4.8,3.2 4.9-4.1-8.7-0.1z" fill="#6800de"/>
<path d="M243.9,624.9l2.4-2-4.8-3.6-6.3,5.5z" fill="#4b00e9"/>
<path d="M304.1,630.1l5.3,2.5 6.2-2.8-5.3-2.6z" fill="#7e00d5"/>
<path d="M249.6,625.8l4.9,3 6.6-4.6-0.7-0.4-8.5,0.3z" fill="#6800de"/>
<path d="M261.2,624.3l-5-3.3-5,3.7z" fill="#4b00e9"/>
<path d="M319.5,632.5l4.7,3.2 6-2.8-5-3.4z" fill="#8800cc"/>
<path d="M318.9,632.1l1.2,0.8 5.6-3-0.8-0.5z" fill="#7e00d5"/>
<path d="M264.3,626.9l5.1,3.1 6.5-3.8-5-3.1z" fill="#6800de"/>
<path d="M333.7,636.2l5.3,3.8 5.8-2.8-5.3-3.7z" fill="#9200c4"/>
<path d="M280.6,629.8l3.6,2 6.5-3.4-1.5-0.8z" fill="#7e00d5"/>
<path d="M279.1,628.9l2.3,1.3 8.6-2.1-4.5-2.5z" fill="#6800de"/>
<path d="M282.3,630.3L290,628.4" class="cl"/>
<path d="M293.9,630.5l5.3,2.6 6.3-3-5.3-2.6z" fill="#7e00d5"/>
<path d="M239.1,628.1l4.9,2.9 6.6-5.2-2.2-1.5-4.7,0z" fill="#6800de"/>
<path d="M249.1,624.8l-3.3-2.3-2.8,2.4z" fill="#4b00e9"/>
<path d="M308.7,632.3l5.4,2.7 6.1-2.8-5.3-2.8z" fill="#7e00d5"/>
<path d="M253.9,628.5l5,2.9 6.6-4.5-5-3.1z" fill="#6800de"/>
<path d="M328.2,638.6l0.7,0.6 5.9-2.9-0.9-0.7z" fill="#9200c4"/>
<path d="M323.7,635.3l5,3.7 5.7-3-4.8-3.5z" fill="#8800cc"/>
<path d="M271.3,631.2l2.5,1.5 4-2.5z" fill="#7e00d5"/>
<path d="M268.8,629.6l3.3,2 5-0.8 3.2-1.9-5-3.1z" fill="#6800de"/>
<path d="M272.9,631.8L275.6,631.3" class="cl"/>
<path d="M283.6,631.5l5.2,2.4 6.5-3.4-5.3-2.4zM298.5,632.7l5.3,2.6 6.3-3-5.3-2.5zM245.3,631.7l3,1.7 2.2-1.6z" fill="#7e00d5"/>
<path d="M243.4,630.7l2.7,1.5 3.7,0.2 5.2-4-4.9-3z" fill="#6800de"/>
<path d="M247.1,632.4L249.1,632.5" class="cl"/>
<path d="M314.2,635.1l4.6,3.2 6-2.9-4.7-3.2z" fill="#8800cc"/>
<path d="M313.5,634.6l1.2,0.9 6-2.9-1.1-0.8zM259.9,632l3.4,2 3.6-2.4z" fill="#7e00d5"/>
<path d="M258.3,631.1l2.4,1.4 5.5-0.4 3.7-2.5-5-3z" fill="#6800de"/>
<path d="M261.6,632.6L265.2,632.4" class="cl"/>
<path d="M328.4,638.8l5.3,3.8 5.9-2.9-5.3-3.8z" fill="#9200c4"/>
<path d="M273.2,632.4l5.2,2.8 6.5-3.7-3.4-1.9-4.6,0.6z" fill="#7e00d5"/>
<path d="M282.3,630l-2.6-1.4-3.5,2.2z" fill="#6800de"/>
<path d="M282.3,630.3L275.6,631.3" class="cl"/>
<path d="M288.1,633.6l5.3,2.4 6.4-3.3-5.2-2.5zM303.1,634.9l5.4,2.8 6.3-3-5.4-2.7zM247.8,633.1l4.9,2.8 5.4-4-8.5-0.1z" fill="#7e00d5"/>
<path d="M257.4,632.5l2-1.5-4.9-2.9-5.7,4.2z" fill="#6800de"/>
<path d="M256.6,632.7L249.1,632.5" class="cl"/>
<path d="M322.9,641.3l0.6,0.5 6-2.9-0.7-0.6z" fill="#9200c4"/>
<path d="M318.2,637.9l5.2,3.8 5.9-3-5-3.7z" fill="#8800cc"/>
<path d="M262.7,633.7l5.1,2.9 6.6-4.3-2.2-1.3-6.2,0.5z" fill="#7e00d5"/>
<path d="M273,631.5l-3.6-2.2-4.1,2.8z" fill="#6800de"/>
<path d="M272.9,631.8L265.2,632.4" class="cl"/>
<path d="M277.7,634.9l5.2,2.4 6.6-3.8-5.3-2.4zM292.7,635.7l5.4,2.5 6.4-3.3-5.3-2.5z" fill="#7e00d5"/>
<path d="M308.6,637.8l4.6,3.2 6.2-3-4.6-3.2z" fill="#8800cc"/>
<path d="M307.9,637.3l1.3,0.9 6.2-3-1.3-0.9zM252.1,635.5l5.1,2.8 6.7-4.7-3.1-1.7-3.6,0z" fill="#7e00d5"/>
<path d="M261.6,632.4l-2.7-1.7-2.4,1.8z" fill="#6800de"/>
<path d="M261.6,632.6L256.6,632.7" class="cl"/>
<path d="M323,641.4l5.3,3.8 6-2.9-5.3-3.8z" fill="#9200c4"/>
<path d="M267.2,636.3l5.2,2.7 6.5-4.1-5.1-2.9zM282.3,637l5.3,2.4 6.5-3.7-5.3-2.5zM297.4,637.9l5.4,2.7 6.4-3.3-5.4-2.7z" fill="#7e00d5"/>
<path d="M318.5,643.9l5.6-2.4-0.6-0.5z" fill="#9200c4"/>
<path d="M312.7,640.6l5.3,3.9 1.4-0.7 4.6-2.4-5.2-3.8z" fill="#8800cc"/>
<path d="M256.6,638l5.1,2.8 6.7-4.6-5.1-2.9zM271.7,638.8l5.3,2.2 6.6-4.1-5.3-2.4zM286.9,639l5.4,2.5 6.4-3.7-5.3-2.4z" fill="#7e00d5"/>
<path d="M302.4,640.3l5.1,3.6 6.3-3.2-4.5-3.2z" fill="#8800cc"/>
<path d="M302.2,640.2l0.8,0.5 6.9-2.8-1.4-0.9z" fill="#7e00d5"/>
<path d="M317.5,644.1l5.3,3.9 6.1-3.1-5.3-3.8-4.5,2.2z" fill="#9200c4"/>
<path d="M262.4,641l3.8,2.1 3.1-2.1z" fill="#8800cc"/>
<path d="M261.1,640.5l2,1 5.5,0.1 4.3-2.9-5.1-2.8zM276.3,640.7l5.3,2.3 6.6-4-5.3-2.4z" fill="#7e00d5"/>
<path d="M293.8,642.2l3.2,1.6 5.6-3.3z" fill="#8800cc"/>
<path d="M291.6,641.1l3,1.5 7.3-1.5 1.5-0.9-5.3-2.7z" fill="#7e00d5"/>
<path d="M311.5,646.8l0.8,0.6 6-3.4z" fill="#9200c4"/>
<path d="M307,643.5l5,3.7 5.6-2.5 1-0.5-5.3-3.9zM265.6,642.8l5.2,2.1 4.6-2.9-7-1.1z" fill="#8800cc"/>
<path d="M274.6,642.5l3-1.9-5.3-2.2-4.6,3z" fill="#7e00d5"/>
<path d="M281.3,642.7l5,2.3 3.7-2.3z" fill="#8800cc"/>
<path d="M280.9,642.7l1.2,0.5 7.1,0 3.7-2.1-5.4-2.4z" fill="#7e00d5"/>
<path d="M296.4,643.4l5.3,3.7 6.4-3.5-5-3.6-1.5,0.5z" fill="#8800cc"/>
<path d="M303.7,640.5l-0.9-0.6-1.8,1.2z" fill="#7e00d5"/>
<path d="M311.8,647l5.4,3.9 6.2-3.2-5.3-3.9-0.7,0.3z" fill="#9200c4"/>
<path d="M270.1,644.7l5.4,2.1 6.6-4.2-7.6-0.7z" fill="#8800cc"/>
<path d="M281.3,643.1l0.9-0.5-5.3-2.3-3.2,2.1z" fill="#7e00d5"/>
<path d="M285.6,644.7l5.4,2.5 6.6-3.8-2.9-1.4-5.6,0.6z" fill="#8800cc"/>
<path d="M295.5,642.4l-3.3-1.6-3.9,2.4z" fill="#7e00d5"/>
<path d="M304.9,649.4l1.6,1.2 6.4-3.5-0.8-0.6z" fill="#9200c4"/>
<path d="M301.2,646.7l4.3,3.1 7.2-2.8-5.1-3.8zM274.8,646.5l5.4,2.1 6.7-4-4.7-2-1-0.1z" fill="#8800cc"/>
<path d="M283,643.1l-1.5-0.8-1.1,0.7z" fill="#7e00d5"/>
<path d="M290.4,646.8l5.4,3.7 6.5-3.7-5.3-3.7z" fill="#8800cc"/>
<path d="M306,650.2l5.4,3.8 6.4-3.4-5.4-3.9z" fill="#9200c4"/>
<path d="M279.5,648.4l5.4,2.4 6.8-4-5.5-2.5z" fill="#8800cc"/>
<path d="M297.9,652l2.7,1.9 6.5-3.6-1.5-1.1z" fill="#9200c4"/>
<path d="M295.2,650.1l3.3,2.3 7.7-2.8-4.4-3.2zM284.4,650.4l5.3,3.6 6.7-3.8-5.4-3.7z" fill="#8800cc"/>
<path d="M300.1,653.5l5.4,3.7 6.5-3.5-5.4-3.8zM290.5,654.5l4.1,2.7 6.6-3.7-2.6-1.8z" fill="#9200c4"/>
<path d="M289.2,653.6l1.9,1.3 8.1-2.7-3.4-2.4z" fill="#8800cc"/>
<path d="M294,656.8l5.5,3.6 6.6-3.5-5.4-3.8z" fill="#9200c4"/>
</g>
<path d="M195.9,625.2L190.7,490M195.9,625.2L299.5,662.3M299.5,662.3L381.9,620M195.9,625.2L193.3,626.5M209.1,629.9L206.4,631.2M222.7,634.8L220,636.1M236.8,639.8L234.2,641.2M251.6,645.1L248.9,646.5M266.9,650.6L264.2,652M282.9,656.3L280.2,657.7M299.5,662.3L296.8,663.7M299.5,662.3L302.3,663.3M308.2,657.8L311,658.8M316.6,653.5L319.4,654.5M324.8,649.3L327.6,650.3M332.7,645.3L335.5,646.3M340.4,641.3L343.2,642.3M347.8,637.5L350.6,638.5M355,633.8L357.9,634.8M362,630.2L364.9,631.2M368.9,626.7L371.7,627.7M375.5,623.3L378.3,624.3M381.9,620L384.7,621M195.3,608.5L192.5,609.5M194.6,589.7L191.7,590.7M193.8,570.6L191,571.6M193,551.1L190.2,552.1M192.3,531.2L189.5,532.3M191.5,511L188.7,512.1M190.7,490.4L187.9,491.5" class="ax"/>
<text class="zt" font-size="12" transform="matrix(0.860,-0.146,0,1,191.9,610.5)" text-anchor="end" y="4.0">0.005</text>
<text class="zt" font-size="12" transform="matrix(0.860,-0.146,0,1,191.2,591.7)" text-anchor="end" y="4.0">0.010</text>
<text class="zt" font-size="12" transform="matrix(0.860,-0.146,0,1,190.5,572.6)" text-anchor="end" y="4.0">0.015</text>
<text class="zt" font-size="12" transform="matrix(0.860,-0.146,0,1,189.7,553.1)" text-anchor="end" y="4.0">0.020</text>
<text class="zt" font-size="12" transform="matrix(0.860,-0.146,0,1,189,533.2)" text-anchor="end" y="4.0">0.025</text>
<text class="zt" font-size="12" transform="matrix(0.860,-0.146,0,1,188.2,513)" text-anchor="end" y="4.0">0.030</text>
<text class="zt" font-size="12" transform="matrix(0.860,-0.146,0,1,187.4,492.4)" text-anchor="end" y="4.0">0.035</text>
<text class="ttl" font-size="12.9" transform="translate(159.8,570) rotate(90)" text-anchor="middle" y="3.2">Shape coefficient</text>
<text class="ft" font-size="6.8" transform="matrix(0.510,-0.742,0.847,0.304,193.8,628.3)" text-anchor="end" y="2.2">1</text>
<text class="ft" font-size="6.8" transform="matrix(0.510,-0.742,0.847,0.304,206.9,633)" text-anchor="end" y="2.2">2</text>
<text class="ft" font-size="6.8" transform="matrix(0.510,-0.742,0.847,0.304,220.5,637.9)" text-anchor="end" y="2.2">3</text>
<text class="ft" font-size="6.8" transform="matrix(0.510,-0.742,0.847,0.304,234.7,643)" text-anchor="end" y="2.2">4</text>
<text class="ft" font-size="6.8" transform="matrix(0.510,-0.742,0.847,0.304,249.4,648.2)" text-anchor="end" y="2.2">5</text>
<text class="ft" font-size="6.8" transform="matrix(0.510,-0.742,0.847,0.304,264.7,653.7)" text-anchor="end" y="2.2">6</text>
<text class="ft" font-size="6.8" transform="matrix(0.510,-0.742,0.847,0.304,280.7,659.5)" text-anchor="end" y="2.2">7</text>
<text class="ft" font-size="6.8" transform="matrix(0.510,-0.742,0.847,0.304,297.3,665.4)" text-anchor="end" y="2.2">8</text>
<text class="ft" font-size="6.8" transform="matrix(0.602,0.669,-0.801,0.411,302,665.1)" text-anchor="start" y="2.2">1</text>
<text class="ft" font-size="6.8" transform="matrix(0.602,0.669,-0.801,0.411,310.7,660.7)" text-anchor="start" y="2.2">2</text>
<text class="ft" font-size="6.8" transform="matrix(0.602,0.669,-0.801,0.411,319.2,656.3)" text-anchor="start" y="2.2">3</text>
<text class="ft" font-size="6.8" transform="matrix(0.602,0.669,-0.801,0.411,327.3,652.1)" text-anchor="start" y="2.2">4</text>
<text class="ft" font-size="6.8" transform="matrix(0.602,0.669,-0.801,0.411,335.2,648.1)" text-anchor="start" y="2.2">5</text>
<text class="ft" font-size="6.8" transform="matrix(0.602,0.669,-0.801,0.411,342.9,644.1)" text-anchor="start" y="2.2">6</text>
<text class="ft" font-size="6.8" transform="matrix(0.602,0.669,-0.801,0.411,350.3,640.3)" text-anchor="start" y="2.2">7</text>
<text class="ft" font-size="6.8" transform="matrix(0.602,0.669,-0.801,0.411,357.6,636.6)" text-anchor="start" y="2.2">8</text>
<text class="ft" font-size="6.8" transform="matrix(0.602,0.669,-0.801,0.411,364.6,633)" text-anchor="start" y="2.2">9</text>
<text class="ft" font-size="6.8" transform="matrix(0.602,0.669,-0.801,0.411,371.4,629.5)" text-anchor="start" y="2.2">10</text>
<text class="ft" font-size="6.8" transform="matrix(0.602,0.669,-0.801,0.411,378,626.1)" text-anchor="start" y="2.2">11</text>
<text class="ft" font-size="6.8" transform="matrix(0.602,0.669,-0.801,0.411,384.5,622.8)" text-anchor="start" y="2.2">12</text>
<text class="ttl" font-size="10" transform="translate(234,651.4) rotate(21.8) skewX(-25.0) scale(0.925,0.800)" text-anchor="middle" y="2.5" style="white-space:pre" xml:space="preserve">Number of rows of PV modules</text>
<text class="ttl" font-size="10" transform="translate(360.2,652.7) rotate(-27.4) skewX(0.0) scale(0.850,1.000)" text-anchor="middle" y="2.5" style="white-space:pre" xml:space="preserve">Number of columns of PV modules</text>
</g>
<text class="cap" transform="translate(134.8,226.3) scale(1.14,1)" text-anchor="middle" font-size="12.3">(<tspan font-weight="bold">c</tspan>)<tspan font-style="italic">α</tspan> = 60</text>
<text class="cap" transform="translate(426.4,226.3) scale(1.14,1)" text-anchor="middle" font-size="12.3">(<tspan font-weight="bold">d</tspan>)<tspan font-style="italic">α</tspan> = 90°</text>
<text class="cap" transform="translate(135.3,459.1) scale(1.14,1)" text-anchor="middle" font-size="12.3">(<tspan font-weight="bold">e</tspan>)<tspan font-style="italic">α</tspan> = 120°</text>
<text class="cap" transform="translate(426.8,459.1) scale(1.14,1)" text-anchor="middle" font-size="12.3">(f) <tspan font-style="italic">α</tspan> = 150°</text>
<text class="cap" transform="translate(281.2,704.6) scale(1.14,1)" text-anchor="middle" font-size="12.3">(<tspan font-weight="bold">g</tspan>) <tspan font-style="italic">α</tspan> = 180°</text>
</svg>
</body></html>
